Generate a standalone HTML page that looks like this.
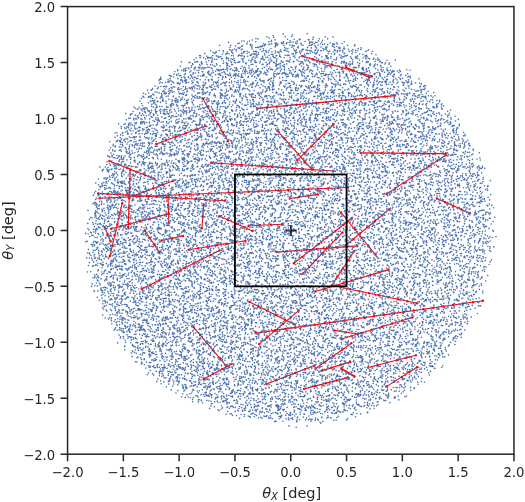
<!DOCTYPE html>
<html><head><meta charset="utf-8"><style>html,body{margin:0;padding:0;background:#fff;overflow:hidden}svg{display:block}</style></head>
<body><svg width="525" height="502" viewBox="0 0 525 502"><rect width="525" height="502" fill="#fff"/><path d="M285.2 230.5H296.6M291 224.9V235.9" stroke="#111" stroke-width="1.8"/><path d="M302.7 56.3L371.8 76.3M346.0 67.2L369.0 77.2M257.1 108.4L394.9 95.6M202.9 98.7L228.0 141.0M156.3 143.9L205.4 126.1M277.5 130.9L311.9 169.4M333.1 124.5L297.3 160.3M211.2 162.8L333.3 171.0M360.8 152.9L445.7 153.6M445.7 155.3L386.8 193.9M436.9 198.6L469.6 213.0M109.4 161.1L154.2 178.7M130.3 169.4L128.2 227.2M172.8 181.1L133.5 195.7M99.6 198.2L347.9 187.5M98.2 193.4L224.7 200.8M168.0 196.3L168.9 222.6M122.2 203.2L109.9 256.0M104.7 227.2L110.5 241.2M111.2 228.8L168.9 213.6M203.7 204.4L201.9 228.3M145.0 230.8L159.3 252.1M161.6 240.5L183.0 236.0M219.8 216.3L252.5 231.0M248.7 225.8L282.3 224.2M289.8 198.5L317.8 194.4M188.8 249.8L245.3 240.8M141.8 289.0L219.5 250.6M341.0 212.5L375.4 254.6M351.7 218.3L293.8 263.3M342.5 232.4L302.6 273.8M389.4 209.2L345.5 245.5M276.6 252.1L357.3 245.9M353.9 251.6L331.9 285.3M388.5 269.6L315.4 291.5M340.5 287.2L417.1 303.2M249.6 302.0L293.9 324.2M259.2 344.1L298.7 310.6M255.6 333.1L482.8 300.8M334.3 330.4L357.5 334.0M341.5 339.0L412.3 317.5M351.4 343.2L315.6 368.5M266.4 384.0L314.5 365.5M322.1 370.6L350.2 361.9M304.1 388.9L347.6 377.6M368.1 367.5L415.9 355.3M386.7 386.4L417.0 367.3M193.5 327.1L226.6 366.3M231.6 364.0L203.7 378.9" stroke="#f00" stroke-width="1.1" fill="none"/><path d="M341.5 368.8L354.4 376.4" stroke="#f00" stroke-width="1.9" stroke-linecap="round"/><path d="M302.7 56.3h0M312.6 59.2h0M322.4 62.0h0M332.3 64.9h0M342.2 67.7h0M352.1 70.6h0M361.9 73.4h0M371.8 76.3h0M346.0 67.2h0M353.7 70.5h0M361.3 73.9h0M369.0 77.2h0M257.1 108.4h0M266.9 107.5h0M276.8 106.6h0M286.6 105.7h0M296.5 104.7h0M306.3 103.8h0M316.2 102.9h0M326.0 102.0h0M335.8 101.1h0M345.7 100.2h0M355.5 99.3h0M365.4 98.3h0M375.2 97.4h0M385.1 96.5h0M394.9 95.6h0M202.9 98.7h0M207.9 107.2h0M212.9 115.6h0M218.0 124.1h0M223.0 132.5h0M228.0 141.0h0M156.3 143.9h0M166.1 140.3h0M175.9 136.8h0M185.8 133.2h0M195.6 129.7h0M205.4 126.1h0M277.5 130.9h0M284.4 138.6h0M291.3 146.3h0M298.1 154.0h0M305.0 161.7h0M311.9 169.4h0M333.1 124.5h0M325.9 131.7h0M318.8 138.8h0M311.6 146.0h0M304.5 153.1h0M297.3 160.3h0M211.2 162.8h0M221.4 163.5h0M231.5 164.2h0M241.7 164.9h0M251.9 165.5h0M262.1 166.2h0M272.2 166.9h0M282.4 167.6h0M292.6 168.3h0M302.8 168.9h0M313.0 169.6h0M323.1 170.3h0M333.3 171.0h0M360.8 152.9h0M371.4 153.0h0M382.0 153.1h0M392.6 153.2h0M403.2 153.2h0M413.9 153.3h0M424.5 153.4h0M435.1 153.5h0M445.7 153.6h0M445.7 155.3h0M437.3 160.8h0M428.9 166.3h0M420.5 171.8h0M412.0 177.4h0M403.6 182.9h0M395.2 188.4h0M386.8 193.9h0M436.9 198.6h0M445.1 202.2h0M453.2 205.8h0M461.4 209.4h0M469.6 213.0h0M109.4 161.1h0M118.4 164.6h0M127.3 168.1h0M136.3 171.7h0M145.2 175.2h0M154.2 178.7h0M130.3 169.4h0M130.0 179.0h0M129.6 188.7h0M129.2 198.3h0M128.9 207.9h0M128.5 217.6h0M128.2 227.2h0M172.8 181.1h0M163.0 184.8h0M153.2 188.4h0M143.3 192.0h0M133.5 195.7h0M99.6 198.2h0M109.5 197.8h0M119.5 197.3h0M129.4 196.9h0M139.3 196.5h0M149.3 196.1h0M159.2 195.6h0M169.1 195.2h0M179.1 194.8h0M189.0 194.3h0M198.9 193.9h0M208.9 193.5h0M218.8 193.1h0M228.7 192.6h0M238.6 192.2h0M248.6 191.8h0M258.5 191.4h0M268.4 190.9h0M278.4 190.5h0M288.3 190.1h0M298.2 189.6h0M308.2 189.2h0M318.1 188.8h0M328.0 188.4h0M338.0 187.9h0M347.9 187.5h0M98.2 193.4h0M107.9 194.0h0M117.7 194.5h0M127.4 195.1h0M137.1 195.7h0M146.9 196.2h0M156.6 196.8h0M166.3 197.4h0M176.0 198.0h0M185.8 198.5h0M195.5 199.1h0M205.2 199.7h0M215.0 200.2h0M224.7 200.8h0M168.0 196.3h0M168.3 205.1h0M168.6 213.8h0M168.9 222.6h0M122.2 203.2h0M119.7 213.8h0M117.3 224.3h0M114.8 234.9h0M112.4 245.4h0M109.9 256.0h0M104.7 227.2h0M107.6 234.2h0M110.5 241.2h0M111.2 228.8h0M120.8 226.3h0M130.4 223.7h0M140.1 221.2h0M149.7 218.7h0M159.3 216.1h0M168.9 213.6h0M203.7 204.4h0M202.8 216.4h0M201.9 228.3h0M145.0 230.8h0M149.8 237.9h0M154.5 245.0h0M159.3 252.1h0M161.6 240.5h0M172.3 238.2h0M183.0 236.0h0M219.8 216.3h0M228.0 220.0h0M236.2 223.7h0M244.3 227.3h0M252.5 231.0h0M248.7 225.8h0M259.9 225.3h0M271.1 224.7h0M282.3 224.2h0M289.8 198.5h0M299.1 197.1h0M308.5 195.8h0M317.8 194.4h0M188.8 249.8h0M198.2 248.3h0M207.6 246.8h0M217.1 245.3h0M226.5 243.8h0M235.9 242.3h0M245.3 240.8h0M141.8 289.0h0M150.4 284.7h0M159.1 280.5h0M167.7 276.2h0M176.3 271.9h0M185.0 267.7h0M193.6 263.4h0M202.2 259.1h0M210.9 254.9h0M219.5 250.6h0M341.0 212.5h0M347.9 220.9h0M354.8 229.3h0M361.6 237.8h0M368.5 246.2h0M375.4 254.6h0M351.7 218.3h0M343.4 224.7h0M335.2 231.2h0M326.9 237.6h0M318.6 244.0h0M310.3 250.4h0M302.1 256.9h0M293.8 263.3h0M342.5 232.4h0M335.9 239.3h0M329.2 246.2h0M322.6 253.1h0M315.9 260.0h0M309.2 266.9h0M302.6 273.8h0M389.4 209.2h0M382.1 215.2h0M374.8 221.3h0M367.4 227.3h0M360.1 233.4h0M352.8 239.4h0M345.5 245.5h0M276.6 252.1h0M286.7 251.3h0M296.8 250.6h0M306.9 249.8h0M317.0 249.0h0M327.0 248.2h0M337.1 247.4h0M347.2 246.7h0M357.3 245.9h0M353.9 251.6h0M348.4 260.0h0M342.9 268.4h0M337.4 276.9h0M331.9 285.3h0M388.5 269.6h0M379.4 272.3h0M370.2 275.1h0M361.1 277.8h0M351.9 280.6h0M342.8 283.3h0M333.7 286.0h0M324.5 288.8h0M315.4 291.5h0M340.5 287.2h0M350.1 289.2h0M359.6 291.2h0M369.2 293.2h0M378.8 295.2h0M388.4 297.2h0M398.0 299.2h0M407.5 301.2h0M417.1 303.2h0M249.6 302.0h0M258.5 306.4h0M267.3 310.9h0M276.2 315.3h0M285.0 319.8h0M293.9 324.2h0M259.2 344.1h0M267.1 337.4h0M275.0 330.7h0M282.9 324.0h0M290.8 317.3h0M298.7 310.6h0M255.6 333.1h0M265.5 331.7h0M275.4 330.3h0M285.2 328.9h0M295.1 327.5h0M305.0 326.1h0M314.9 324.7h0M324.7 323.3h0M334.6 321.9h0M344.5 320.5h0M354.4 319.1h0M364.3 317.7h0M374.1 316.2h0M384.0 314.8h0M393.9 313.4h0M403.8 312.0h0M413.7 310.6h0M423.5 309.2h0M433.4 307.8h0M443.3 306.4h0M453.2 305.0h0M463.0 303.6h0M472.9 302.2h0M482.8 300.8h0M334.3 330.4h0M345.9 332.2h0M357.5 334.0h0M341.5 339.0h0M351.6 335.9h0M361.7 332.9h0M371.8 329.8h0M382.0 326.7h0M392.1 323.6h0M402.2 320.6h0M412.3 317.5h0M351.4 343.2h0M342.4 349.5h0M333.5 355.9h0M324.6 362.2h0M315.6 368.5h0M266.4 384.0h0M276.0 380.3h0M285.6 376.6h0M295.3 372.9h0M304.9 369.2h0M314.5 365.5h0M322.1 370.6h0M331.5 367.7h0M340.8 364.8h0M350.2 361.9h0M341.5 368.8h0M354.4 376.4h0M304.1 388.9h0M315.0 386.1h0M325.9 383.2h0M336.7 380.4h0M347.6 377.6h0M368.1 367.5h0M377.7 365.1h0M387.2 362.6h0M396.8 360.2h0M406.3 357.7h0M415.9 355.3h0M386.7 386.4h0M394.3 381.6h0M401.9 376.9h0M409.4 372.1h0M417.0 367.3h0M193.5 327.1h0M200.1 334.9h0M206.7 342.8h0M213.4 350.6h0M220.0 358.5h0M226.6 366.3h0M231.6 364.0h0M222.3 369.0h0M213.0 373.9h0M203.7 378.9h0" stroke="#f00" stroke-width="2.5" stroke-linecap="round" fill="none"/><path d="M347.1 182.3h0M363.4 70.6h0M425.9 187.8h0M324.8 242.1h0M232.3 146.5h0M331.7 89.6h0M188.8 213.0h0M261.1 305.1h0M338.2 246.9h0M342.0 174.9h0M180.3 93.3h0M318.4 158.7h0M153.3 187.2h0M194.9 181.1h0M316.9 207.4h0M413.5 316.1h0M136.9 255.6h0M372.7 221.8h0M170.9 317.9h0M386.1 391.5h0M161.3 159.3h0M463.2 317.1h0M172.1 101.6h0M170.1 253.6h0M186.1 70.5h0M215.1 328.3h0M327.2 317.6h0M137.9 213.9h0M410.7 390.2h0M480.2 168.5h0M102.3 210.2h0M312.4 76.6h0M372.3 51.5h0M185.5 387.2h0M231.6 413.8h0M295.3 193.5h0M189.6 270.1h0M183.7 318.0h0M389.6 296.5h0M368.6 49.9h0M244.9 374.1h0M364.5 193.2h0M279.2 131.6h0M374.9 103.3h0M436.8 235.0h0M391.2 234.5h0M412.7 273.7h0M193.7 228.7h0M349.7 399.2h0M343.1 315.3h0M222.6 379.4h0M184.1 203.1h0M443.7 131.5h0M221.1 172.6h0M200.2 153.6h0M241.6 260.2h0M394.9 305.5h0M183.1 225.2h0M414.9 135.1h0M316.1 401.8h0M303.6 68.9h0M194.5 132.2h0M308.3 245.4h0M266.5 74.5h0M225.6 193.8h0M231.5 351.6h0M220.0 125.5h0M365.8 252.0h0M422.8 322.9h0M192.0 253.9h0M178.3 205.6h0M243.6 394.2h0M337.8 322.8h0M458.7 194.2h0M187.3 315.2h0M302.8 369.7h0M213.1 301.0h0M371.9 303.1h0M339.0 140.4h0M269.1 418.4h0M283.3 338.5h0M183.8 193.2h0M322.1 218.9h0M403.5 228.1h0M248.9 204.7h0M209.2 267.7h0M292.0 53.9h0M226.7 402.0h0M348.0 214.7h0M325.7 200.0h0M266.3 238.1h0M365.9 337.2h0M304.6 389.3h0M202.6 71.6h0M221.0 409.2h0M420.1 137.3h0M212.3 79.9h0M244.1 176.2h0M434.1 272.5h0M375.9 242.0h0M407.3 242.9h0M392.9 89.6h0M195.4 73.0h0M311.9 142.7h0M200.1 285.6h0M256.4 299.3h0M220.0 232.5h0M290.3 160.7h0M456.3 150.1h0M362.9 294.7h0M290.8 415.3h0M288.1 225.4h0M341.4 55.9h0M437.5 295.7h0M426.0 241.8h0M371.3 287.4h0M159.5 149.4h0M160.9 187.9h0M421.9 200.5h0M95.5 210.8h0M206.7 373.9h0M280.0 191.4h0M335.4 278.5h0M379.0 315.3h0M422.0 208.2h0M165.7 216.0h0M238.5 130.7h0M265.4 87.0h0M310.0 418.9h0M309.8 372.0h0M269.0 405.8h0M252.6 389.2h0M288.9 61.2h0M384.8 325.3h0M121.2 287.1h0M424.0 260.5h0M311.8 380.7h0M249.0 240.4h0M134.9 288.3h0M175.9 123.0h0M389.2 341.4h0M171.3 211.5h0M404.7 373.7h0M321.7 357.9h0M396.9 368.6h0M295.5 108.4h0M203.1 74.3h0M290.1 322.6h0M396.1 390.9h0M306.6 134.1h0M432.2 122.0h0M309.5 181.6h0M219.8 74.9h0M125.8 263.7h0M240.3 339.6h0M195.8 193.1h0M255.5 372.6h0M247.3 311.4h0M344.1 354.5h0M246.4 370.6h0M397.9 111.4h0M375.1 202.1h0M360.6 173.8h0M152.1 276.9h0M360.7 308.2h0M386.7 221.5h0M424.0 223.7h0M158.5 174.7h0M373.4 90.1h0M317.2 189.4h0M294.3 126.8h0M221.3 127.5h0M353.8 351.3h0M168.7 242.3h0M356.0 198.1h0M298.2 99.3h0M326.7 267.6h0M182.8 346.6h0M230.9 311.8h0M444.7 273.4h0M159.7 371.4h0M426.6 269.6h0M373.9 373.7h0M418.3 140.6h0M157.2 164.8h0M233.3 257.3h0M228.3 126.6h0M282.4 392.5h0M262.2 330.5h0M134.2 223.0h0M365.3 377.5h0M111.4 320.8h0M271.1 312.9h0M417.8 382.1h0M246.6 71.4h0M477.3 264.9h0M295.3 326.2h0M271.1 187.2h0M427.3 151.7h0M257.6 289.6h0M268.9 243.2h0M212.4 218.7h0M323.2 347.9h0M226.7 197.3h0M102.1 267.7h0M281.0 176.2h0M147.0 133.4h0M289.7 207.4h0M312.7 373.6h0M311.3 70.4h0M379.7 100.7h0M428.7 299.5h0M178.7 110.9h0M432.8 139.6h0M405.4 196.0h0M317.7 261.0h0M409.7 307.2h0M199.2 329.5h0M288.1 149.5h0M324.5 182.0h0M352.9 81.2h0M115.4 299.8h0M377.5 87.6h0M156.9 228.8h0M342.1 274.1h0M247.2 342.9h0M372.9 403.3h0M209.0 170.0h0M327.9 415.9h0M382.9 120.2h0M362.4 199.6h0M165.0 367.8h0M297.6 380.5h0M280.8 311.2h0M116.4 173.1h0M151.5 110.4h0M170.3 135.2h0M200.5 384.6h0M427.7 344.0h0M231.1 305.9h0M231.4 130.0h0M312.1 236.9h0M241.8 41.0h0M179.9 186.6h0M361.4 165.6h0M335.6 72.3h0M202.7 353.1h0M456.9 150.8h0M341.7 99.1h0M310.4 236.5h0M328.9 398.9h0M305.1 221.0h0M286.0 158.7h0M341.8 311.7h0M386.5 345.8h0M266.2 91.2h0M339.8 412.1h0M186.7 263.4h0M250.8 316.2h0M177.4 101.9h0M214.3 368.8h0M252.1 359.1h0M239.4 204.6h0M255.6 351.0h0M128.3 190.7h0M381.5 258.1h0M306.2 151.9h0M365.6 185.8h0M208.4 248.4h0M270.4 392.3h0M374.5 100.8h0M305.2 163.7h0M138.4 350.6h0M422.2 133.0h0M204.5 97.9h0M320.6 228.0h0M325.7 55.9h0M242.5 199.7h0M185.8 88.3h0M336.6 163.4h0M358.9 128.4h0M132.0 150.7h0M336.2 289.5h0M92.2 283.9h0M194.0 261.1h0M277.9 265.2h0M273.3 142.3h0M478.9 175.3h0M338.4 180.5h0M146.6 157.4h0M383.6 154.2h0M170.6 377.0h0M325.7 281.9h0M362.0 180.9h0M341.3 253.8h0M188.6 228.4h0M361.4 346.8h0M461.8 246.1h0M191.5 143.2h0M105.2 318.0h0M259.0 196.7h0M311.9 131.7h0M363.5 151.5h0M378.6 199.0h0M189.5 216.2h0M274.9 236.9h0M162.1 234.9h0M266.0 366.2h0M310.1 195.7h0M331.4 210.9h0M259.5 414.0h0M170.5 237.2h0M264.9 340.4h0M264.6 285.8h0M179.2 170.6h0M181.5 352.5h0M385.4 364.9h0M301.8 141.3h0M334.0 70.6h0M340.8 137.9h0M338.2 319.0h0M468.1 177.6h0M381.4 202.3h0M247.0 188.4h0M388.7 155.0h0M402.4 125.1h0M310.5 127.6h0M258.8 364.8h0M338.3 406.4h0M235.4 206.3h0M218.1 85.4h0M359.3 211.4h0M122.3 223.9h0M350.7 242.6h0M200.9 289.6h0M411.3 357.5h0M158.9 121.2h0M270.7 196.3h0M317.4 224.8h0M190.2 303.8h0M274.6 337.1h0M405.0 383.0h0M410.6 232.9h0M207.8 113.5h0M171.0 188.6h0M311.5 256.1h0M406.4 154.8h0M404.0 124.9h0M133.6 192.5h0M292.6 387.3h0M144.7 123.8h0M284.7 47.6h0M304.6 146.2h0M336.1 182.5h0M143.9 234.9h0M283.4 236.8h0M262.0 58.4h0M268.4 263.4h0M279.6 73.3h0M191.9 108.0h0M481.1 193.7h0M378.1 401.8h0M435.2 343.3h0M287.1 407.4h0M230.4 350.8h0M295.9 392.9h0M445.7 284.2h0M340.9 323.4h0M90.5 232.2h0M297.9 203.6h0M332.1 86.7h0M470.3 260.1h0M440.9 151.4h0M111.1 284.9h0M136.2 222.0h0M256.4 255.8h0M123.2 328.8h0M480.7 200.9h0M386.4 200.1h0M411.3 331.2h0M344.0 357.9h0M362.3 69.2h0M290.8 348.3h0M403.1 270.2h0M198.1 256.5h0M247.7 281.8h0M307.7 374.4h0M172.5 170.0h0M300.2 106.8h0M245.8 166.4h0M296.0 260.2h0M379.3 347.9h0M172.3 115.5h0M367.4 218.8h0M357.7 405.0h0M189.3 337.6h0M132.3 312.9h0M331.8 291.2h0M329.5 321.4h0M269.6 285.6h0M403.5 163.5h0M236.6 82.5h0M358.3 332.8h0M209.0 400.7h0M259.9 142.8h0M96.6 228.5h0M239.0 158.9h0M412.5 99.2h0M343.2 72.5h0M194.0 390.2h0M417.8 331.7h0M393.6 76.9h0M131.4 352.9h0M259.7 349.6h0M230.0 264.6h0M214.9 201.6h0M258.6 92.9h0M285.3 118.8h0M134.6 273.4h0M339.5 315.6h0M432.9 128.3h0M122.4 159.4h0M141.1 194.8h0M471.5 164.1h0M428.1 114.9h0M443.7 334.2h0M333.7 276.0h0M455.6 329.3h0M143.2 250.3h0M345.0 235.4h0M390.9 326.8h0M228.6 356.9h0M245.7 198.5h0M457.9 221.8h0M144.9 173.9h0M250.2 221.7h0M251.4 407.4h0M370.5 399.0h0M405.4 203.8h0M322.6 44.6h0M100.0 227.8h0M194.7 145.9h0M368.0 321.2h0M477.6 218.7h0M225.3 245.1h0M310.6 294.9h0M124.4 183.8h0M192.8 343.8h0M351.6 94.8h0M229.2 189.2h0M279.6 114.2h0M338.9 150.3h0M426.7 137.3h0M239.9 368.6h0M372.0 335.1h0M220.4 177.3h0M178.1 166.9h0M266.7 281.3h0M355.7 278.5h0M301.9 167.9h0M313.5 260.1h0M134.5 274.7h0M123.2 171.4h0M119.9 245.1h0M218.1 82.7h0M206.8 297.7h0M255.9 285.7h0M328.1 77.0h0M379.1 59.6h0M316.0 413.0h0M397.1 158.2h0M358.0 184.8h0M236.7 146.9h0M171.8 374.5h0M212.7 55.6h0M374.1 165.5h0M467.9 298.0h0M307.3 242.2h0M400.4 71.4h0M437.7 291.0h0M215.1 399.1h0M242.0 330.3h0M360.9 171.6h0M228.7 315.4h0M345.3 169.4h0M110.1 314.9h0M253.6 100.1h0M369.7 260.5h0M271.3 110.8h0M97.2 237.4h0M454.6 225.1h0M335.1 109.9h0M319.1 114.2h0M191.8 166.0h0M365.2 163.3h0M256.9 223.8h0M317.3 191.8h0M201.5 150.1h0M302.1 396.7h0M310.6 208.6h0M154.0 139.9h0M334.3 374.1h0M267.0 278.5h0M362.8 225.4h0M422.6 293.3h0M180.7 351.9h0M458.4 119.3h0M446.8 147.2h0M175.2 372.9h0M202.2 124.7h0M245.8 295.8h0M334.4 190.3h0M163.0 130.6h0M270.5 398.9h0M134.3 157.4h0M469.0 143.7h0M293.8 348.8h0M203.1 217.3h0M173.3 86.9h0M149.0 129.4h0M396.7 282.0h0M440.3 158.6h0M442.0 134.7h0M381.0 66.9h0M286.0 393.5h0M248.1 139.1h0M351.8 147.3h0M464.5 281.2h0M384.4 384.4h0M347.6 209.5h0M182.1 349.2h0M206.2 228.5h0M163.6 306.3h0M188.5 366.2h0M401.3 360.6h0M362.9 54.4h0M460.0 247.6h0M230.0 236.0h0M202.2 158.8h0M258.1 39.0h0M178.5 263.6h0M387.4 79.4h0M296.8 224.3h0M227.2 201.0h0M399.6 232.0h0M208.3 327.6h0M246.0 270.9h0M278.7 88.9h0M212.9 382.9h0M201.4 344.6h0M323.4 73.6h0M352.5 406.4h0M311.6 44.9h0M262.0 242.6h0M286.0 84.2h0M311.3 47.9h0M379.3 265.1h0M118.1 198.6h0M387.0 68.1h0M288.0 230.9h0M96.6 203.8h0M417.6 243.7h0M283.9 358.9h0M464.5 223.5h0M428.5 328.5h0M127.8 326.5h0M409.0 356.7h0M269.6 321.8h0M333.6 213.9h0M279.9 156.7h0M340.2 330.5h0M354.1 365.0h0M127.6 138.9h0M184.2 129.0h0M191.1 67.6h0M239.8 241.5h0M352.4 379.7h0M212.2 89.6h0M296.1 66.2h0M397.9 183.4h0M432.6 185.4h0M347.9 391.3h0M156.5 321.5h0M209.4 187.0h0M360.3 224.5h0M451.3 271.1h0M228.6 249.6h0M198.4 303.0h0M179.2 135.8h0M286.1 303.4h0M329.8 51.0h0M223.9 325.5h0M286.6 364.2h0M217.7 173.8h0M215.5 89.4h0M162.9 303.5h0M265.2 375.1h0M427.4 332.3h0M125.8 184.3h0M333.6 349.9h0M201.5 185.1h0M320.9 73.9h0M297.2 344.2h0M354.4 346.1h0M187.7 323.6h0M362.9 160.1h0M138.9 289.0h0M322.1 73.6h0M328.2 210.2h0M379.3 397.9h0M199.1 114.8h0M248.7 378.6h0M122.9 196.1h0M432.7 157.4h0M320.5 240.7h0M270.1 165.6h0M251.3 172.5h0M151.0 96.3h0M251.1 345.1h0M359.6 63.4h0M149.0 288.8h0M314.3 337.7h0M251.3 332.2h0M163.1 99.4h0M352.1 114.7h0M134.1 315.7h0M400.1 105.0h0M373.8 257.9h0M107.0 277.0h0M257.4 334.4h0M324.9 341.5h0M378.9 271.6h0M415.1 202.6h0M241.2 351.4h0M364.1 386.2h0M224.7 223.9h0M326.8 231.3h0M356.0 409.9h0M194.9 270.4h0M198.4 129.9h0M408.9 82.3h0M123.6 317.9h0M348.2 352.9h0M263.5 154.5h0M318.7 278.6h0M437.1 301.4h0M344.7 62.0h0M309.3 290.0h0M127.9 127.2h0M229.9 161.4h0M395.3 197.7h0M403.2 379.4h0M300.4 302.9h0M122.2 270.0h0M312.2 250.5h0M283.4 360.6h0M144.6 109.6h0M279.9 138.0h0M210.1 270.1h0M141.3 338.2h0M330.8 362.1h0M186.7 183.3h0M377.8 96.7h0M115.0 221.6h0M398.6 381.8h0M319.4 393.1h0M163.9 186.2h0M233.5 216.2h0M288.0 156.0h0M422.5 325.5h0M432.7 323.3h0M260.8 347.3h0M386.7 209.5h0M181.5 270.3h0M257.1 273.8h0M323.3 126.2h0M301.8 85.6h0M308.5 419.8h0M368.3 304.4h0M395.8 191.6h0M119.0 155.7h0M111.6 276.3h0M268.0 383.4h0M377.0 289.8h0M191.5 222.6h0M227.0 321.4h0M169.2 301.5h0M195.0 222.9h0M299.3 343.5h0M145.2 118.9h0M223.9 274.8h0M415.2 368.2h0M284.0 244.0h0M457.2 176.5h0M114.8 229.9h0M259.7 112.8h0M300.6 63.5h0M287.9 287.7h0M187.3 175.7h0M371.6 139.5h0M161.9 332.5h0M168.4 381.6h0M289.7 83.4h0M360.9 110.2h0M132.0 177.1h0M324.9 362.1h0M146.6 249.5h0M285.7 99.4h0M316.5 245.7h0M388.8 308.0h0M450.3 201.2h0M405.7 237.4h0M313.8 201.2h0M204.9 85.0h0M106.2 245.8h0M164.7 311.4h0M200.1 123.9h0M184.8 131.7h0M333.0 397.9h0M400.4 329.1h0M290.0 373.3h0M439.0 337.3h0M185.9 274.3h0M195.6 382.1h0M216.8 59.2h0M278.2 302.6h0M432.5 228.9h0M357.6 218.2h0M244.3 416.3h0M319.1 163.0h0M211.4 366.8h0M147.0 194.3h0M434.6 342.1h0M148.2 170.7h0M253.2 156.7h0M321.3 362.6h0M376.0 111.3h0M292.6 141.7h0M259.5 197.8h0M409.7 353.7h0M133.1 111.6h0M258.3 364.2h0M351.4 138.5h0M346.9 290.1h0M220.4 253.0h0M134.1 243.8h0M141.2 234.5h0M162.8 246.7h0M219.6 388.9h0M177.4 379.0h0M328.4 58.0h0M349.3 400.5h0M146.8 235.9h0M149.1 111.4h0M232.4 133.2h0M222.5 54.3h0M341.7 256.2h0M128.7 118.3h0M222.8 77.6h0M399.6 325.5h0M369.4 371.2h0M199.0 382.3h0M300.7 120.5h0M482.5 231.2h0M252.2 290.9h0M144.4 211.4h0M265.5 161.4h0M152.3 218.4h0M160.2 98.4h0M261.4 120.5h0M370.1 132.2h0M340.1 192.4h0M180.0 331.4h0M189.1 62.7h0M292.0 204.3h0M225.4 73.9h0M369.7 357.0h0M329.7 257.2h0M286.0 365.9h0M438.6 357.6h0M368.3 169.4h0M183.4 267.6h0M280.5 325.2h0M374.1 144.2h0M207.6 146.7h0M194.9 294.9h0M314.0 361.2h0M308.9 197.8h0M133.1 345.6h0M251.6 96.7h0M423.6 286.3h0M165.6 295.2h0M450.5 209.8h0M358.2 48.6h0M438.1 176.5h0M310.4 53.1h0M347.2 149.6h0M335.4 150.4h0M230.8 280.9h0M282.1 143.8h0M301.8 62.6h0M256.0 51.0h0M396.1 198.7h0M385.7 180.7h0M349.9 360.5h0M263.4 130.5h0M343.2 267.2h0M369.3 70.8h0M222.7 69.3h0M243.0 280.5h0M248.2 324.3h0M224.5 72.3h0M125.9 132.1h0M175.8 295.2h0M350.0 201.1h0M412.0 185.3h0M270.7 230.9h0M355.1 219.0h0M387.0 282.0h0M286.9 42.5h0M373.5 118.3h0M294.4 312.7h0M250.8 156.8h0M187.1 194.8h0M328.1 417.5h0M470.2 226.7h0M481.4 236.0h0M191.1 309.4h0M163.6 331.8h0M195.3 154.3h0M285.2 393.8h0M229.1 182.2h0M407.3 83.0h0M181.0 205.5h0M301.6 169.5h0M348.2 353.2h0M323.0 112.4h0M401.5 124.8h0M221.1 157.6h0M415.9 142.2h0M280.8 292.0h0M237.8 335.4h0M113.7 285.6h0M322.7 93.0h0M182.7 215.9h0M290.4 288.8h0M411.2 359.4h0M230.6 74.8h0M141.4 98.3h0M348.2 296.4h0M451.2 191.2h0M145.0 250.3h0M150.6 179.2h0M320.6 95.3h0M479.4 289.3h0M322.1 385.0h0M291.6 97.7h0M148.5 97.5h0M349.3 200.7h0M321.0 47.1h0M130.7 180.8h0M342.6 125.1h0M431.6 237.7h0M361.1 136.1h0M203.7 242.7h0M352.3 300.2h0M283.3 184.6h0M288.2 129.1h0M149.1 244.4h0M315.4 246.2h0M228.8 208.6h0M207.3 247.9h0M116.7 295.2h0M230.7 327.3h0M182.2 122.4h0M135.6 331.6h0M186.5 298.9h0M167.6 194.0h0M287.1 382.0h0M253.4 181.1h0M297.3 357.3h0M249.0 94.0h0M166.6 121.6h0M362.8 287.4h0M314.8 52.9h0M107.4 302.6h0M362.5 103.1h0M255.4 174.4h0M369.8 112.3h0M413.3 207.3h0M142.8 344.0h0M374.1 408.3h0M191.6 143.9h0M137.2 231.0h0M225.0 85.4h0M331.3 358.8h0M226.8 95.2h0M402.0 130.8h0M377.0 214.7h0M172.3 355.0h0M373.5 341.6h0M318.8 361.0h0M317.6 98.2h0M432.9 233.8h0M200.3 291.5h0M293.9 339.9h0M462.4 261.4h0M401.4 342.6h0M241.6 407.5h0M132.5 241.2h0M375.1 73.2h0M435.2 293.4h0M418.4 225.7h0M116.9 185.5h0M390.3 140.7h0M220.2 300.3h0M262.8 126.1h0M238.9 245.1h0M440.3 335.5h0M224.9 83.3h0M302.0 260.8h0M114.5 274.2h0M196.7 352.3h0M315.6 49.8h0M232.6 210.1h0M129.8 172.6h0M332.3 413.3h0M402.4 354.3h0M250.7 246.6h0M262.3 195.5h0M207.1 308.9h0M326.9 46.9h0M473.7 284.5h0M382.3 71.3h0M147.2 263.7h0M160.5 102.4h0M113.7 175.8h0M235.7 179.6h0M289.6 73.2h0M283.2 62.3h0M164.8 118.2h0M402.5 286.0h0M329.4 384.6h0M223.9 378.5h0M282.5 277.7h0M316.9 174.6h0M259.3 256.6h0M331.0 116.7h0M224.1 271.0h0M363.3 244.0h0M292.7 374.6h0M216.5 159.2h0M462.1 194.7h0M317.7 263.1h0M258.2 405.1h0M349.6 93.2h0M199.3 252.3h0M339.3 272.2h0M387.5 254.7h0M346.3 355.0h0M133.9 321.3h0M278.2 68.4h0M378.5 239.0h0M233.6 132.3h0M355.5 295.2h0M326.2 326.4h0M372.2 198.2h0M124.3 264.0h0M220.2 143.0h0M235.8 73.5h0M386.6 296.4h0M265.7 220.9h0M160.7 196.3h0M320.0 277.3h0M304.4 202.4h0M327.8 140.3h0M192.7 215.4h0M283.7 43.0h0M185.7 80.3h0M301.4 202.2h0M307.7 76.1h0M348.6 408.0h0M119.5 156.2h0M130.2 311.6h0M437.7 325.1h0M117.5 225.6h0M340.1 50.7h0M362.9 398.3h0M412.2 368.8h0M257.8 178.6h0M457.8 128.1h0M129.7 208.5h0M173.2 96.7h0M440.8 148.4h0M202.4 173.1h0M352.6 191.1h0M438.3 159.4h0M151.3 95.8h0M304.6 316.6h0M384.4 296.2h0M222.1 94.1h0M153.2 304.9h0M360.0 313.3h0M396.0 278.9h0M425.0 153.5h0M417.8 243.1h0M211.4 144.1h0M371.8 161.4h0M333.4 203.8h0M349.1 100.1h0M232.8 373.2h0M322.1 81.4h0M152.0 166.9h0M130.2 316.6h0M463.0 315.0h0M204.1 117.2h0M232.5 368.3h0M319.2 61.3h0M328.6 227.1h0M416.5 370.4h0M329.6 244.0h0M244.7 71.6h0M387.7 371.2h0M115.0 251.0h0M428.2 198.9h0M436.3 181.2h0M462.6 211.2h0M301.0 389.6h0M189.1 205.7h0M227.7 303.3h0M191.5 175.3h0M424.9 362.2h0M121.4 200.2h0M340.6 148.2h0M242.7 89.1h0M281.8 388.9h0M322.7 199.9h0M184.7 248.3h0M404.4 384.7h0M401.8 188.9h0M214.9 191.4h0M183.7 256.1h0M472.5 159.3h0M156.4 154.1h0M228.4 248.3h0M359.1 103.9h0M187.1 291.2h0M155.6 129.7h0M156.5 180.2h0M224.0 224.8h0M115.4 197.9h0M302.8 130.0h0M114.2 190.4h0M159.2 149.3h0M455.5 258.0h0M160.2 82.0h0M460.0 266.3h0M106.4 251.7h0M231.5 221.4h0M396.1 172.6h0M402.5 306.3h0M344.5 162.6h0M339.4 211.0h0M350.0 61.7h0M133.8 299.4h0M257.1 146.9h0M250.5 212.1h0M245.2 374.3h0M410.3 281.4h0M235.2 103.1h0M156.8 381.6h0M197.0 293.0h0M380.3 347.7h0M300.3 101.9h0M143.0 161.2h0M303.8 267.5h0M130.1 206.9h0M430.6 189.6h0M304.5 54.3h0M421.4 143.7h0M306.8 366.3h0M410.8 255.8h0M330.3 246.6h0M276.0 368.4h0M340.5 222.2h0M215.5 97.1h0M324.8 113.3h0M447.7 296.4h0M150.8 286.0h0M126.6 207.2h0M203.5 367.1h0M347.1 410.8h0M89.4 262.5h0M143.4 163.9h0M216.7 263.7h0M277.0 204.6h0M165.8 269.9h0M157.3 151.0h0M210.0 127.7h0M166.8 360.1h0M266.2 337.3h0M203.6 323.0h0M199.4 214.1h0M328.7 190.3h0M186.8 91.8h0M288.7 353.5h0M129.3 211.6h0M160.9 96.7h0M398.3 136.8h0M257.7 166.0h0M203.8 377.2h0M252.9 93.7h0M329.2 141.2h0M165.9 337.7h0M339.6 219.4h0M448.9 115.0h0M442.9 353.6h0M254.5 180.0h0M347.8 308.6h0M98.3 233.5h0M299.6 269.7h0M372.3 319.2h0M236.9 186.8h0M255.9 406.1h0M203.3 154.8h0M212.2 68.7h0M479.7 231.5h0M180.3 66.1h0M447.7 155.9h0M436.6 104.4h0M189.9 393.7h0M330.3 261.4h0M206.1 225.2h0M425.9 320.3h0M208.3 354.0h0M235.7 62.7h0M366.9 50.7h0M343.1 73.0h0M235.1 326.4h0M370.2 257.9h0M224.4 169.0h0M475.6 196.2h0M287.3 260.5h0M132.7 198.6h0M350.2 260.2h0M286.8 373.2h0M196.0 320.2h0M173.8 241.4h0M361.1 47.8h0M130.8 187.6h0M118.6 204.3h0M151.0 116.6h0M239.6 102.0h0M371.1 307.9h0M183.0 182.3h0M228.7 217.8h0M428.8 234.5h0M433.3 349.8h0M396.7 146.0h0M215.6 74.7h0M291.4 201.0h0M98.0 208.3h0M107.1 288.3h0M170.4 349.6h0M97.5 242.0h0M245.9 359.2h0M437.9 249.9h0M255.4 206.0h0M231.5 291.2h0M211.3 121.6h0M194.6 67.7h0M88.4 265.6h0M404.3 230.1h0M365.2 351.6h0M344.9 273.8h0M273.2 366.7h0M464.9 317.4h0M280.0 98.5h0M231.9 162.1h0M360.4 140.8h0M255.2 359.7h0M249.1 314.2h0M231.6 258.2h0M170.0 216.8h0M487.7 190.5h0M423.9 282.9h0M138.6 182.3h0M322.9 240.1h0M249.2 268.2h0M384.8 93.0h0M412.4 202.6h0M297.0 52.3h0M177.8 236.2h0M308.2 303.4h0M469.3 273.2h0M424.3 241.0h0M263.3 380.3h0M288.3 306.6h0M166.2 171.7h0M176.3 239.3h0M408.4 354.0h0M216.4 103.8h0M171.0 302.1h0M371.6 156.1h0M189.6 110.7h0M252.0 76.3h0M322.8 169.9h0M393.3 341.4h0M136.0 302.9h0M269.6 222.5h0M290.7 274.4h0M161.0 299.4h0M271.8 294.0h0M388.3 256.0h0M302.8 187.4h0M142.5 268.8h0M400.3 336.3h0M137.4 298.3h0M199.7 309.8h0M139.7 250.7h0M426.1 294.3h0M410.6 193.2h0M214.3 172.2h0M339.0 224.7h0M390.5 146.8h0M227.0 67.8h0M191.8 161.0h0M474.5 186.6h0M111.3 197.4h0M370.5 65.3h0M208.2 219.1h0M280.5 249.4h0M438.9 309.4h0M309.1 185.3h0M174.6 128.8h0M357.1 56.4h0M184.6 105.3h0M133.8 262.6h0M399.2 284.3h0M129.1 240.6h0M250.6 122.1h0M402.1 387.0h0M282.6 65.7h0M384.3 400.7h0M277.2 110.0h0M304.6 119.6h0M352.8 285.4h0M366.1 123.0h0M416.2 344.4h0M328.1 276.2h0M208.3 353.9h0M251.4 54.9h0M158.7 224.9h0M300.2 304.0h0M422.5 146.8h0M367.2 259.0h0M369.9 194.3h0M354.8 157.6h0M294.2 182.5h0M231.1 396.3h0M138.8 186.5h0M383.4 312.7h0M166.8 339.8h0M134.0 239.2h0M457.0 286.9h0M169.2 122.3h0M154.3 170.6h0M462.6 275.6h0M212.3 193.9h0M334.6 189.0h0M254.1 224.1h0M352.5 209.4h0M275.9 375.6h0M297.1 338.0h0M162.2 356.3h0M298.8 273.7h0M258.1 125.6h0M385.8 293.9h0M396.0 325.0h0M453.0 339.9h0M330.5 264.2h0M204.4 351.6h0M269.2 148.2h0M440.4 214.5h0M317.7 381.5h0M239.8 290.9h0M363.1 291.5h0M440.1 342.7h0M226.9 342.4h0M381.6 143.2h0M183.8 311.9h0M322.6 278.6h0M409.0 122.6h0M289.9 159.4h0M285.9 80.5h0M111.8 161.0h0M317.1 278.1h0M190.0 240.8h0M436.6 322.6h0M421.1 91.0h0M267.0 109.1h0M180.2 141.9h0M458.9 301.0h0M152.4 251.8h0M247.4 352.6h0M394.9 190.0h0M319.1 372.2h0M236.5 99.3h0M329.1 310.7h0M376.0 283.0h0M372.4 387.4h0M377.1 366.7h0M188.1 373.5h0M327.7 385.3h0M169.6 147.5h0M116.7 177.0h0M263.9 207.5h0M423.2 160.0h0M151.4 277.9h0M297.4 417.8h0M243.0 358.5h0M179.1 96.8h0M428.8 198.9h0M409.6 162.7h0M182.8 93.6h0M251.1 315.0h0M212.9 381.1h0M261.2 93.8h0M193.8 385.2h0M460.9 329.3h0M342.4 67.9h0M385.4 271.0h0M352.8 61.9h0M407.1 273.1h0M371.4 306.5h0M101.7 203.1h0M350.0 93.4h0M411.6 105.0h0M309.3 278.0h0M156.5 310.3h0M94.8 213.4h0M389.4 210.5h0M321.1 330.9h0M372.6 320.5h0M121.4 216.8h0M298.8 338.5h0M241.4 190.5h0M281.1 95.3h0M191.6 366.1h0M451.5 162.2h0M378.0 360.2h0M424.1 138.4h0M433.2 246.5h0M311.2 45.4h0M303.0 210.8h0M210.0 136.2h0M118.6 157.2h0M195.4 205.6h0M342.5 95.8h0M376.8 202.3h0M277.1 289.9h0M382.6 81.9h0M263.2 99.5h0M207.5 247.7h0M136.3 190.6h0M205.1 383.7h0M193.0 389.3h0M318.4 313.6h0M282.3 370.9h0M348.4 379.0h0M260.4 49.5h0M194.0 305.5h0M242.0 309.7h0M243.7 137.3h0M477.0 218.7h0M318.8 77.5h0M316.4 61.9h0M175.3 135.5h0M322.7 142.7h0M186.6 250.8h0M227.0 108.1h0M337.7 214.1h0M221.1 243.9h0M265.6 74.2h0M449.8 162.0h0M248.3 275.0h0M231.4 62.7h0M268.7 60.0h0M117.3 244.3h0M159.3 277.1h0M284.1 300.8h0M446.2 332.3h0M339.8 347.0h0M406.1 224.1h0M257.3 278.0h0M423.8 231.8h0M224.4 316.4h0M297.1 374.0h0M344.5 392.2h0M184.1 356.4h0M172.2 239.7h0M126.9 193.3h0M104.5 300.6h0M484.6 253.2h0M217.7 160.6h0M398.7 323.0h0M447.9 182.2h0M447.2 190.8h0M248.1 275.3h0M117.9 266.2h0M208.6 260.8h0M260.9 341.1h0M291.7 287.4h0M171.6 239.9h0M276.0 166.5h0M330.3 212.7h0M363.9 285.1h0M210.6 197.8h0M450.1 166.4h0M247.6 168.9h0M367.5 176.9h0M359.6 236.8h0M386.5 79.5h0M214.8 59.4h0M344.3 115.2h0M200.5 185.7h0M162.1 178.9h0M301.3 44.8h0M435.8 133.9h0M310.1 363.1h0M340.8 190.6h0M367.2 263.5h0M342.9 317.8h0M242.3 311.4h0M128.5 165.8h0M410.4 248.2h0M217.9 335.5h0M403.5 274.9h0M339.7 228.5h0M136.1 132.4h0M442.7 299.7h0M216.7 114.0h0M330.5 96.3h0M133.8 287.5h0M351.9 239.6h0M208.4 115.4h0M278.2 176.8h0M216.5 263.6h0M172.7 386.1h0M427.3 111.6h0M379.6 75.3h0M398.1 117.2h0M353.3 251.9h0M153.3 141.1h0M223.3 171.1h0M292.9 303.1h0M431.7 336.6h0M177.1 154.8h0M320.1 374.9h0M449.9 248.7h0M239.9 123.3h0M223.5 116.0h0M152.5 246.6h0M412.0 151.4h0M128.8 153.5h0M157.7 132.2h0M237.1 117.3h0M302.8 401.0h0M311.6 262.9h0M375.6 199.5h0M306.0 332.0h0M328.1 236.8h0M438.2 103.6h0M219.6 327.1h0M360.3 101.5h0M414.3 223.8h0M152.2 141.5h0M441.1 119.1h0M450.1 236.0h0M340.8 291.3h0M441.2 279.5h0M269.1 319.4h0M128.2 286.4h0M296.9 355.6h0M253.1 350.9h0M107.5 205.1h0M283.1 353.4h0M379.3 304.7h0M148.6 212.8h0M391.0 305.4h0M254.7 192.5h0M243.4 317.7h0M310.2 115.7h0M314.8 330.5h0M366.9 96.2h0M398.0 138.3h0M341.2 181.7h0M403.1 354.7h0M407.1 293.9h0M271.2 202.4h0M268.8 249.7h0M347.2 217.6h0M232.8 227.3h0M424.3 89.6h0M231.1 239.9h0M205.1 392.5h0M373.3 383.5h0M445.9 188.8h0M271.7 391.2h0M144.6 334.3h0M309.7 90.0h0M425.4 140.6h0M448.0 224.8h0M334.9 312.7h0M348.2 341.8h0M349.8 177.7h0M146.2 228.1h0M413.9 388.7h0M314.3 135.4h0M128.2 336.8h0M269.3 274.8h0M120.5 234.8h0M231.8 196.9h0M270.0 259.2h0M102.5 218.9h0M376.2 145.8h0M423.0 189.4h0M177.7 78.6h0M175.2 284.9h0M125.8 304.6h0M203.0 181.4h0M247.3 300.6h0M471.3 317.1h0M135.1 242.6h0M358.4 87.6h0M443.5 320.3h0M218.7 178.9h0M332.5 144.8h0M245.9 81.1h0M353.0 302.0h0M281.1 146.5h0M370.1 345.4h0M175.8 342.3h0M475.6 212.7h0M480.7 238.9h0M323.7 196.8h0M346.6 306.8h0M389.1 203.8h0M364.5 182.5h0M317.1 236.2h0M381.3 157.3h0M339.5 72.5h0M221.3 352.0h0M99.8 201.4h0M195.4 201.7h0M360.4 382.1h0M256.2 143.5h0M204.4 67.8h0M256.5 137.9h0M273.7 78.1h0M155.6 345.3h0M176.7 148.0h0M299.3 114.9h0M291.8 173.8h0M188.2 186.7h0M191.7 77.0h0M357.4 55.9h0M388.1 305.7h0M441.7 248.5h0M376.8 88.4h0M285.0 404.3h0M368.1 283.2h0M267.1 361.4h0M224.2 276.0h0M162.1 196.6h0M380.3 328.8h0M281.6 42.5h0M227.6 244.4h0M247.6 282.3h0M379.0 177.5h0M106.9 200.9h0M319.2 323.0h0M161.7 141.5h0M238.8 408.5h0M263.6 312.1h0M426.5 231.0h0M218.8 374.0h0M380.9 319.3h0M176.3 369.0h0M420.9 288.3h0M147.8 147.9h0M231.2 276.3h0M305.2 61.0h0M248.1 147.7h0M132.7 265.3h0M307.6 180.2h0M182.1 179.0h0M376.3 384.8h0M385.2 275.5h0M360.3 271.3h0M240.0 305.3h0M366.5 305.4h0M196.8 82.0h0M103.9 273.2h0M380.6 178.7h0M458.6 317.1h0M196.5 296.2h0M310.8 50.8h0M116.6 312.9h0M360.2 406.3h0M321.9 127.7h0M276.7 384.4h0M338.6 357.9h0M323.0 117.4h0M280.7 49.7h0M366.2 212.1h0M275.0 218.0h0M208.5 230.1h0M446.8 204.2h0M250.8 113.9h0M252.8 200.3h0M121.8 269.4h0M408.5 365.8h0M142.8 146.3h0M357.9 305.2h0M219.2 310.4h0M365.8 282.4h0M225.7 199.9h0M137.8 200.9h0M214.9 337.1h0M321.5 97.4h0M301.1 333.9h0M407.6 190.6h0M174.8 328.8h0M317.2 212.3h0M172.3 145.8h0M387.2 228.8h0M331.9 324.6h0M398.0 332.1h0M438.5 331.0h0M132.8 289.7h0M269.0 95.6h0M277.4 73.2h0M268.2 196.1h0M273.5 349.7h0M452.5 154.4h0M178.4 161.3h0M387.0 120.6h0M159.0 210.3h0M462.2 202.2h0M418.9 184.2h0M317.3 249.2h0M257.0 252.0h0M382.7 121.1h0M357.0 257.3h0M226.9 349.7h0M250.8 375.3h0M277.6 297.2h0M393.7 141.8h0M108.4 258.8h0M152.5 352.5h0M455.9 217.0h0M456.0 335.7h0M164.0 343.9h0M438.3 240.6h0M411.7 324.3h0M450.3 311.3h0M392.3 272.3h0M189.5 351.1h0M95.5 213.5h0M278.0 258.7h0M154.7 149.6h0M243.1 257.4h0M343.9 108.2h0M326.3 214.2h0M249.1 183.5h0M183.7 216.5h0M161.8 330.4h0M256.5 108.1h0M294.5 277.0h0M436.6 341.4h0M314.6 352.0h0M163.2 327.9h0M124.1 247.9h0M204.1 75.3h0M164.4 186.7h0M324.6 174.8h0M224.0 72.1h0M389.2 204.6h0M118.5 165.6h0M276.3 176.2h0M377.0 72.5h0M374.3 91.9h0M239.0 55.0h0M222.2 134.7h0M326.5 74.6h0M101.8 193.7h0M194.0 210.5h0M444.8 156.2h0M248.6 270.2h0M142.8 191.7h0M389.9 245.5h0M428.4 197.3h0M194.5 110.2h0M425.1 232.3h0M315.4 211.3h0M210.1 197.1h0M342.4 103.0h0M198.8 171.4h0M388.8 106.6h0M453.6 149.8h0M350.6 64.3h0M352.8 86.3h0M121.7 172.9h0M332.0 223.4h0M110.9 304.7h0M195.7 139.5h0M344.4 178.1h0M132.2 255.5h0M433.9 219.8h0M405.6 224.7h0M368.7 277.0h0M312.1 281.0h0M269.1 292.4h0M347.0 265.5h0M200.6 108.5h0M158.5 271.0h0M282.3 309.0h0M154.3 214.2h0M436.4 248.8h0M262.6 46.1h0M413.8 197.7h0M287.2 327.8h0M281.5 385.1h0M336.3 263.0h0M124.6 164.1h0M366.7 154.6h0M189.5 279.3h0M335.5 199.4h0M332.0 143.5h0M397.4 194.0h0M97.1 204.9h0M422.7 134.2h0M229.2 178.6h0M421.3 108.8h0M266.1 191.3h0M130.6 179.7h0M412.0 187.1h0M370.3 203.3h0M206.7 221.8h0M280.0 51.1h0M305.1 224.2h0M373.2 59.1h0M273.4 271.0h0M290.9 345.4h0M301.4 238.3h0M318.5 236.8h0M226.4 384.2h0M194.9 227.3h0M341.2 342.3h0M343.2 245.1h0M232.5 64.5h0M170.1 126.2h0M270.8 376.2h0M431.1 240.2h0M130.7 289.2h0M409.7 176.9h0M292.2 283.2h0M288.7 52.0h0M300.7 396.4h0M360.8 177.0h0M257.3 390.8h0M267.8 375.5h0M167.1 316.9h0M300.7 286.5h0M358.0 152.5h0M448.5 208.3h0M217.8 231.5h0M244.5 229.7h0M193.2 72.9h0M343.8 385.7h0M186.4 312.1h0M389.5 304.3h0M446.1 227.2h0M330.0 345.4h0M306.0 160.3h0M244.0 247.7h0M435.8 121.1h0M465.9 173.7h0M372.8 105.0h0M199.4 160.1h0M190.2 134.1h0M232.0 316.6h0M439.0 280.7h0M195.6 150.5h0M168.3 193.9h0M456.6 318.5h0M219.8 73.5h0M478.2 229.9h0M291.0 338.7h0M111.5 253.8h0M142.0 218.0h0M157.2 120.3h0M248.2 196.3h0M318.5 143.8h0M411.0 293.4h0M337.4 386.2h0M141.3 257.4h0M285.8 266.9h0M285.8 220.4h0M329.7 394.9h0M227.8 302.8h0M413.7 212.0h0M178.1 160.7h0M266.1 352.0h0M138.1 155.0h0M429.9 215.5h0M216.7 397.5h0M138.2 324.3h0M448.8 302.0h0M351.3 318.5h0M350.6 146.9h0M174.6 282.8h0M336.6 403.8h0M251.6 287.5h0M227.0 168.4h0M197.0 179.4h0M163.5 154.3h0M226.6 208.1h0M243.3 245.0h0M123.6 158.9h0M207.3 87.9h0M287.9 48.7h0M271.0 60.0h0M293.9 403.7h0M218.7 192.8h0M111.2 191.7h0M379.5 174.7h0M209.5 206.1h0M200.7 197.5h0M319.0 237.1h0M402.1 379.5h0M240.1 316.8h0M244.8 337.4h0M284.9 240.2h0M460.7 321.5h0M309.1 373.6h0M346.3 286.5h0M457.6 240.1h0M326.3 148.3h0M431.6 195.6h0M328.8 389.1h0M230.3 283.4h0M361.8 312.1h0M186.0 188.1h0M313.3 182.4h0M414.0 142.1h0M374.7 91.4h0M237.8 43.6h0M382.7 114.9h0M419.4 265.4h0M209.7 201.3h0M197.7 215.3h0M283.4 41.5h0M333.7 369.0h0M324.1 209.7h0M396.3 139.1h0M268.1 86.9h0M419.1 344.0h0M245.9 116.8h0M414.2 299.4h0M127.4 322.9h0M296.5 85.1h0M110.5 165.4h0M152.5 373.8h0M390.1 366.8h0M297.1 212.0h0M396.7 183.1h0M304.4 369.6h0M179.7 134.2h0M159.3 193.1h0M291.7 179.8h0M355.1 407.5h0M111.1 319.0h0M267.7 327.2h0M118.0 235.8h0M479.9 210.8h0M293.7 112.1h0M279.6 188.1h0M94.2 290.9h0M201.9 203.3h0M443.6 159.3h0M450.6 240.4h0M191.9 311.0h0M307.4 185.1h0M392.1 121.3h0M367.0 165.5h0M137.0 226.6h0M282.3 247.1h0M436.6 271.0h0M445.6 274.9h0M107.8 155.9h0M150.1 167.5h0M273.1 116.0h0M197.2 96.9h0M133.7 212.6h0M389.3 62.8h0M404.6 297.1h0M188.8 357.9h0M180.4 130.7h0M246.9 97.6h0M244.9 323.8h0M130.3 324.5h0M433.9 319.3h0M362.0 296.4h0M315.3 171.3h0M152.7 340.2h0M423.9 145.2h0M284.1 243.2h0M125.6 228.4h0M259.3 94.5h0M310.2 117.9h0M393.8 372.9h0M269.9 301.4h0M136.4 267.9h0M226.6 166.1h0M271.0 380.1h0M104.0 216.4h0M184.4 296.4h0M278.2 154.0h0M162.2 177.5h0M272.5 105.4h0M387.3 102.3h0M145.3 340.4h0M244.1 319.8h0M213.9 205.0h0M286.3 155.0h0M439.0 328.0h0M303.9 282.7h0M190.6 151.7h0M294.2 399.9h0M144.6 134.3h0M215.3 153.4h0M309.2 406.5h0M281.4 95.1h0M330.9 248.8h0M297.1 43.5h0M387.6 116.8h0M300.0 181.1h0M234.6 233.5h0M332.8 114.9h0M175.8 164.1h0M232.0 162.2h0M374.3 117.1h0M477.2 232.6h0M395.5 213.2h0M465.9 293.4h0M223.1 401.4h0M364.4 264.8h0M244.3 231.7h0M343.0 411.9h0M193.1 156.6h0M280.6 57.1h0M143.2 173.4h0M404.4 141.5h0M243.6 69.1h0M428.0 149.9h0M218.1 371.8h0M188.3 263.3h0M182.4 250.5h0M317.1 398.0h0M441.3 129.0h0M264.8 206.1h0M364.4 221.4h0M296.2 327.8h0M283.2 92.1h0M219.6 386.8h0M217.2 401.1h0M144.1 205.0h0M390.1 156.4h0M271.1 98.8h0M337.5 111.5h0M385.8 155.6h0M135.0 137.3h0M321.9 386.0h0M161.2 312.4h0M110.3 206.6h0M281.5 329.0h0M272.7 84.8h0M226.0 144.4h0M348.9 186.4h0M264.1 299.7h0M439.6 252.0h0M162.9 163.6h0M262.7 340.1h0M323.3 361.6h0M443.2 214.2h0M341.6 97.5h0M275.9 312.5h0M458.9 178.8h0M209.5 316.4h0M342.1 100.2h0M174.2 109.3h0M235.7 309.0h0M199.0 109.0h0M184.9 150.4h0M373.3 242.3h0M164.7 265.3h0M286.0 135.3h0M168.9 131.2h0M210.2 110.3h0M230.3 235.5h0M132.4 276.4h0M189.9 196.4h0M252.5 338.9h0M448.3 214.4h0M275.7 369.5h0M475.6 292.3h0M410.3 333.2h0M229.5 275.3h0M343.7 288.7h0M332.0 105.1h0M151.1 152.5h0M382.9 358.9h0M317.6 231.0h0M219.6 377.7h0M319.7 327.1h0M433.4 182.7h0M178.9 279.8h0M140.6 124.1h0M372.8 289.9h0M169.9 312.3h0M162.7 324.2h0M316.5 280.7h0M333.8 177.1h0M305.3 260.0h0M311.8 311.6h0M321.6 194.0h0M191.2 193.9h0M179.9 282.8h0M367.3 128.1h0M464.6 272.7h0M341.2 397.6h0M445.2 129.1h0M426.7 103.5h0M332.1 160.2h0M402.0 200.1h0M413.7 204.9h0M469.1 277.2h0M264.3 316.3h0M284.6 231.4h0M273.3 294.6h0M203.9 319.6h0M444.1 319.0h0M233.2 162.6h0M85.7 233.4h0M413.7 298.5h0M434.1 227.8h0M228.9 381.2h0M203.3 327.7h0M342.7 168.3h0M406.6 94.7h0M145.9 346.4h0M201.2 62.7h0M135.4 115.4h0M120.6 241.6h0M401.1 258.0h0M305.1 408.0h0M114.9 200.8h0M261.1 151.8h0M142.7 255.5h0M158.0 243.0h0M223.7 306.1h0M305.6 268.4h0M235.4 352.7h0M121.6 175.7h0M259.8 98.2h0M164.7 148.8h0M392.7 172.5h0M213.5 152.0h0M282.2 355.6h0M261.5 227.3h0M124.0 256.3h0M249.8 411.3h0M267.9 88.2h0M197.5 252.6h0M274.4 140.6h0M350.1 220.8h0M145.0 157.9h0M129.6 186.9h0M117.9 212.6h0M469.5 176.1h0M324.1 310.1h0M306.9 214.5h0M178.1 317.2h0M170.8 376.3h0M303.3 148.7h0M107.6 226.5h0M375.1 292.8h0M125.8 113.6h0M146.2 270.3h0M146.1 131.0h0M448.5 283.6h0M231.0 342.3h0M377.3 363.9h0M99.8 166.9h0M255.3 95.5h0M206.2 114.3h0M273.2 35.5h0M409.6 243.6h0M449.6 298.8h0M389.3 355.6h0M248.0 222.2h0M108.5 208.1h0M296.7 224.6h0M437.4 183.8h0M386.6 362.9h0M262.1 390.5h0M144.1 320.3h0M112.9 251.9h0M261.6 162.9h0M89.4 253.1h0M272.2 196.3h0M267.2 172.0h0M266.8 277.0h0M276.9 162.5h0M148.4 351.0h0M362.7 298.9h0M268.0 101.0h0M283.4 296.7h0M339.3 166.9h0M214.7 267.2h0M270.6 156.1h0M393.3 94.5h0M148.3 214.4h0M214.2 266.3h0M314.5 133.9h0M309.5 41.7h0M371.9 392.5h0M145.7 298.4h0M192.6 401.6h0M182.0 332.3h0M110.4 309.3h0M318.3 391.9h0M441.2 189.8h0M346.5 322.6h0M192.5 339.8h0M358.2 336.1h0M166.1 334.4h0M252.2 192.7h0M140.7 262.6h0M219.3 161.1h0M417.6 325.0h0M295.7 42.3h0M260.8 302.8h0M341.9 219.8h0M214.9 164.5h0M97.1 229.3h0M196.1 58.0h0M182.1 357.8h0M334.8 413.5h0M109.1 243.6h0M438.8 188.8h0M447.4 215.9h0M305.5 235.3h0M390.4 74.2h0M158.3 285.5h0M401.6 238.1h0M362.3 327.5h0M101.1 224.7h0M225.0 360.4h0M339.9 199.4h0M284.5 272.7h0M208.9 57.6h0M175.0 198.7h0M206.8 389.5h0M125.8 190.0h0M458.1 300.3h0M166.3 96.3h0M213.3 182.1h0M357.6 369.9h0M397.0 238.6h0M164.2 261.8h0M112.8 183.7h0M155.3 104.1h0M414.5 305.3h0M284.5 256.1h0M235.1 147.7h0M273.9 256.5h0M304.4 76.4h0M187.8 275.3h0M266.1 255.8h0M278.0 387.2h0M223.6 63.2h0M339.6 380.5h0M333.5 264.1h0M238.4 105.7h0M93.1 265.6h0M398.5 249.4h0M423.9 202.0h0M283.0 120.8h0M170.1 153.4h0M202.9 215.5h0M266.6 257.8h0M387.9 178.0h0M325.3 355.7h0M127.1 334.9h0M203.7 344.5h0M219.7 257.7h0M333.4 127.1h0M473.0 257.7h0M277.6 309.5h0M227.6 145.5h0M204.8 210.0h0M164.5 91.8h0M188.0 211.0h0M213.6 195.9h0M335.2 398.9h0M261.3 72.1h0M410.3 307.9h0M322.9 238.4h0M421.0 108.8h0M190.5 111.2h0M415.7 256.2h0M397.9 125.9h0M450.7 317.3h0M380.3 342.9h0M205.6 320.5h0M402.6 312.2h0M367.4 136.3h0M111.6 197.2h0M330.1 289.3h0M455.1 116.3h0M277.0 153.6h0M360.5 150.4h0M210.3 234.2h0M409.1 118.2h0M484.0 210.3h0M437.0 273.7h0M234.8 78.3h0M166.6 212.6h0M145.5 336.5h0M198.4 399.9h0M211.7 397.5h0M201.4 313.7h0M242.4 234.2h0M260.5 386.6h0M345.6 232.5h0M260.0 71.2h0M382.6 292.0h0M184.6 337.2h0M451.8 308.4h0M425.5 96.4h0M437.1 266.1h0M231.5 247.4h0M464.6 216.3h0M253.7 306.0h0M101.1 243.0h0M459.4 218.1h0M221.8 396.0h0M235.2 102.8h0M427.2 266.1h0M115.1 137.4h0M471.9 220.8h0M349.2 131.4h0M309.5 106.9h0M399.3 104.9h0M443.2 130.3h0M175.8 184.2h0M249.4 203.0h0M310.0 137.0h0M420.3 197.0h0M301.6 251.4h0M316.0 341.2h0M238.7 220.8h0M142.9 292.0h0M395.5 323.2h0M228.4 384.3h0M344.8 323.7h0M456.1 246.5h0M266.9 324.5h0M296.2 399.8h0M324.2 75.5h0M327.1 113.5h0M229.1 250.3h0M203.9 112.2h0M123.8 260.0h0M423.9 118.6h0M322.6 40.3h0M121.8 185.9h0M428.9 126.7h0M439.4 238.4h0M453.8 164.2h0M218.2 70.4h0M384.9 81.8h0M202.8 117.8h0M360.7 309.7h0M260.1 308.6h0M416.2 106.4h0M153.0 314.7h0M420.2 327.2h0M244.8 327.4h0M439.7 114.1h0M442.0 352.1h0M209.7 290.2h0M280.8 108.7h0M343.3 132.7h0M155.8 119.2h0M120.5 193.7h0M386.4 235.7h0M201.0 334.4h0M278.6 134.3h0M396.7 201.0h0M366.5 345.9h0M268.5 356.1h0M437.9 146.8h0M400.0 347.1h0M394.0 97.4h0M129.9 327.0h0M267.8 190.9h0M323.4 269.4h0M331.8 63.4h0M355.5 50.3h0M476.0 217.3h0M423.7 353.6h0M447.9 122.5h0M207.5 395.5h0M321.9 120.8h0M117.2 278.2h0M199.9 151.4h0M439.5 203.6h0M336.4 279.3h0M184.5 128.3h0M228.2 218.0h0M270.4 96.7h0M308.1 101.7h0M332.8 380.0h0M295.9 194.4h0M183.2 160.1h0M453.2 338.0h0M177.2 169.8h0M237.6 215.5h0M187.1 89.0h0M124.0 124.5h0M371.3 282.4h0M324.5 319.1h0M415.5 82.8h0M287.6 127.9h0M425.5 216.1h0M317.2 237.9h0M284.5 114.6h0M169.2 230.7h0M201.4 277.8h0M297.1 101.3h0M279.9 330.6h0M363.5 274.9h0M396.8 142.3h0M95.0 250.5h0M291.1 282.3h0M370.6 120.3h0M453.2 291.7h0M173.1 374.9h0M379.8 175.8h0M171.7 349.9h0M378.6 133.8h0M122.2 133.2h0M106.8 169.0h0M414.3 376.2h0M272.7 54.3h0M315.4 419.8h0M435.3 223.1h0M144.9 207.1h0M261.5 257.8h0M179.1 300.5h0M286.4 330.2h0M146.8 259.0h0M298.3 143.7h0M198.7 314.2h0M368.1 275.9h0M278.3 405.5h0M242.2 198.2h0M385.0 346.6h0M437.5 360.1h0M124.7 165.5h0M138.2 327.3h0M449.7 175.6h0M357.6 62.6h0M135.8 172.2h0M460.3 253.7h0M407.0 199.9h0M351.8 219.8h0M275.8 245.8h0M148.8 245.7h0M227.0 305.9h0M391.6 249.4h0M352.6 59.7h0M190.5 248.3h0M311.3 419.7h0M199.3 324.7h0M342.2 156.0h0M208.8 232.3h0M371.4 143.9h0M419.2 224.1h0M212.8 378.8h0M197.0 323.4h0M257.5 131.9h0M331.4 165.8h0M160.3 348.2h0M434.2 173.2h0M250.9 243.3h0M411.4 348.9h0M410.0 329.1h0M377.7 106.7h0M137.7 201.1h0M193.5 244.2h0M398.4 132.7h0M338.2 200.8h0M193.4 195.7h0M250.5 44.8h0M208.7 98.9h0M271.0 360.7h0M397.5 346.8h0M403.7 266.4h0M291.2 222.9h0M346.4 197.7h0M314.7 192.7h0M226.8 263.4h0M484.5 271.5h0M376.5 338.6h0M254.0 101.3h0M250.1 205.3h0M230.0 47.2h0M296.4 76.7h0M445.4 265.3h0M246.3 135.1h0M337.5 133.3h0M235.2 263.1h0M304.5 146.0h0M366.3 395.1h0M429.3 237.6h0M141.3 214.4h0M177.1 140.3h0M299.9 222.4h0M229.4 133.4h0M245.8 402.1h0M383.3 309.4h0M427.1 108.0h0M151.6 171.8h0M316.1 368.7h0M200.3 276.7h0M158.0 333.9h0M148.5 129.0h0M223.9 243.3h0M187.4 327.6h0M111.6 269.5h0M350.3 201.3h0M349.5 378.4h0M160.9 86.5h0M181.7 93.9h0M300.1 115.3h0M259.4 179.1h0M318.0 345.9h0M248.9 114.1h0M244.7 51.4h0M103.5 169.5h0M121.9 322.4h0M349.2 70.1h0M278.4 175.8h0M325.4 156.5h0M317.6 116.1h0M373.5 313.6h0M214.5 100.6h0M153.6 302.4h0M255.2 126.9h0M367.7 203.0h0M186.8 380.1h0M266.5 403.1h0M361.9 245.8h0M485.4 226.3h0M290.1 108.0h0M344.7 183.2h0M407.3 352.4h0M189.2 108.7h0M264.4 109.8h0M379.1 155.6h0M161.2 228.2h0M387.7 285.4h0M366.6 68.7h0M243.3 211.5h0M402.7 144.4h0M357.4 88.6h0M382.8 265.2h0M289.6 233.9h0M342.4 257.1h0M198.6 356.8h0M144.3 364.7h0M452.3 286.8h0M360.3 250.1h0M233.3 85.1h0M330.3 228.1h0M226.3 372.1h0M360.6 74.6h0M181.2 149.0h0M407.4 236.6h0M107.7 266.6h0M326.1 219.9h0M443.4 236.9h0M130.2 115.1h0M132.6 325.8h0M219.1 132.4h0M225.1 138.4h0M354.5 118.0h0M146.9 298.0h0M87.3 241.3h0M250.1 260.7h0M361.6 326.2h0M234.0 58.3h0M350.0 239.0h0M387.7 387.5h0M371.5 126.8h0M161.1 261.5h0M371.9 367.7h0M125.8 242.0h0M187.7 252.5h0M330.1 381.1h0M442.4 199.7h0M317.3 408.7h0M147.4 129.8h0M123.6 239.6h0M254.3 416.8h0M458.4 243.4h0M364.4 196.7h0M275.7 334.6h0M459.4 215.9h0M173.2 286.6h0M467.5 230.5h0M245.7 69.1h0M213.4 181.4h0M298.2 93.6h0M318.2 50.1h0M415.6 229.5h0M416.6 197.0h0M401.1 173.1h0M367.5 88.5h0M163.0 344.8h0M357.5 198.5h0M397.0 363.6h0M199.4 200.5h0M333.0 123.4h0M289.0 99.2h0M239.4 48.4h0M166.0 289.3h0M285.7 415.3h0M281.7 415.4h0M326.1 125.4h0M304.4 101.5h0M494.8 217.2h0M397.2 117.7h0M249.5 416.6h0M326.7 407.4h0M418.8 111.5h0M134.4 147.6h0M399.4 188.7h0M372.6 149.9h0M156.3 218.6h0M253.7 312.3h0M130.3 171.2h0M142.2 363.0h0M245.9 242.9h0M259.6 207.5h0M147.7 132.3h0M223.0 106.6h0M369.9 151.3h0M392.0 312.5h0M292.2 189.0h0M324.1 264.3h0M93.2 224.3h0M326.2 260.7h0M449.3 326.0h0M371.2 152.7h0M196.3 273.1h0M178.9 243.1h0M111.8 263.7h0M234.5 400.5h0M156.6 218.6h0M454.0 308.2h0M322.3 220.2h0M211.1 182.9h0M171.1 292.2h0M389.4 271.0h0M224.0 371.1h0M262.4 68.5h0M131.5 170.0h0M301.3 125.1h0M198.2 92.8h0M374.0 405.8h0M273.8 256.3h0M165.7 134.1h0M268.3 355.8h0M253.2 413.2h0M179.3 245.4h0M425.4 267.3h0M277.4 380.4h0M285.8 145.3h0M137.3 109.2h0M360.3 368.7h0M255.8 41.7h0M232.1 177.6h0M164.3 276.5h0M389.5 195.1h0M360.0 224.3h0M442.2 261.5h0M463.0 152.3h0M306.6 339.7h0M163.2 174.8h0M272.2 165.6h0M464.9 322.3h0M385.9 372.3h0M357.0 205.6h0M479.6 188.4h0M296.8 254.1h0M226.0 378.3h0M126.2 215.7h0M249.3 145.2h0M228.1 320.5h0M263.3 327.0h0M126.0 310.7h0M271.6 150.4h0M268.8 199.9h0M242.0 151.0h0M244.9 276.0h0M313.6 341.2h0M272.3 302.5h0M357.7 178.1h0M324.4 192.8h0M204.1 237.9h0M214.2 142.4h0M394.4 74.6h0M143.1 322.6h0M284.1 227.7h0M285.8 297.4h0M453.6 128.9h0M370.5 278.8h0M161.7 307.2h0M148.5 372.8h0M150.8 226.9h0M347.4 282.9h0M415.0 303.1h0M226.7 63.9h0M197.7 191.8h0M343.0 169.7h0M260.9 137.6h0M231.7 246.2h0M111.9 175.5h0M366.0 182.2h0M170.0 318.3h0M352.2 249.4h0M233.0 191.0h0M469.9 267.7h0M436.1 107.7h0M346.8 399.7h0M280.1 395.4h0M437.2 293.3h0M340.3 231.4h0M442.5 140.3h0M429.8 247.9h0M194.0 91.1h0M203.3 150.2h0M155.7 324.9h0M332.7 241.5h0M464.4 204.9h0M263.2 160.0h0M157.7 143.9h0M225.6 271.0h0M316.5 48.1h0M158.7 185.5h0M360.4 357.5h0M206.6 99.9h0M390.4 365.5h0M210.6 394.3h0M302.6 279.1h0M424.1 332.1h0M412.7 363.1h0M212.4 166.8h0M383.5 303.4h0M272.9 325.4h0M340.4 239.9h0M430.0 193.2h0M222.6 407.9h0M155.5 313.3h0M480.2 203.0h0M456.1 171.0h0M387.5 389.5h0M133.7 200.0h0M196.3 139.8h0M214.7 331.2h0M102.9 226.5h0M407.5 314.2h0M273.4 80.4h0M270.2 370.6h0M323.1 341.4h0M428.8 108.7h0M396.9 178.0h0M466.8 226.8h0M290.3 215.7h0M206.8 160.6h0M367.0 159.5h0M292.5 138.5h0M122.0 253.3h0M274.8 279.5h0M352.8 176.0h0M178.7 87.7h0M273.3 266.8h0M86.6 257.8h0M274.4 115.4h0M422.7 271.0h0M117.2 200.1h0M305.3 137.4h0M140.3 354.4h0M408.1 266.7h0M120.6 169.0h0M350.1 230.0h0M282.1 288.0h0M435.5 229.6h0M248.3 282.2h0M258.8 150.5h0M193.8 333.2h0M103.1 264.7h0M364.0 191.0h0M258.6 338.1h0M121.9 270.2h0M266.6 202.4h0M150.5 233.6h0M214.1 204.2h0M264.1 224.1h0M265.9 189.6h0M387.5 261.0h0M297.3 111.9h0M202.8 321.0h0M237.0 165.1h0M267.1 74.8h0M295.1 404.1h0M445.0 196.6h0M359.6 116.1h0M316.3 132.2h0M280.3 383.4h0M286.7 63.9h0M192.7 169.2h0M166.8 109.6h0M212.5 290.2h0M436.1 272.1h0M406.8 222.8h0M288.2 76.4h0M240.6 390.8h0M289.7 72.9h0M390.3 365.2h0M337.5 302.2h0M220.3 93.0h0M340.8 186.6h0M107.7 221.7h0M134.9 217.7h0M191.5 228.7h0M296.4 347.5h0M288.3 223.6h0M456.5 299.1h0M305.1 285.9h0M392.1 205.1h0M226.7 395.0h0M311.3 254.2h0M210.0 252.9h0M266.9 70.1h0M421.9 191.3h0M181.8 122.5h0M374.9 336.4h0M223.7 296.5h0M211.0 401.2h0M342.0 110.4h0M361.6 357.0h0M230.6 159.0h0M328.0 276.1h0M267.4 309.1h0M210.3 201.0h0M221.5 229.9h0M280.5 149.2h0M317.3 277.6h0M117.6 342.9h0M333.5 249.6h0M199.2 399.7h0M376.9 119.0h0M254.5 77.0h0M256.5 78.3h0M384.2 260.6h0M402.4 280.2h0M222.9 345.4h0M281.0 288.1h0M179.1 248.1h0M155.6 200.8h0M238.9 199.3h0M429.3 365.7h0M159.6 274.5h0M185.0 184.5h0M331.7 175.0h0M113.2 164.0h0M119.1 275.8h0M456.8 263.6h0M179.6 235.2h0M458.0 185.6h0M197.6 128.8h0M302.4 192.8h0M103.1 244.1h0M303.4 241.4h0M280.7 178.7h0M337.9 235.2h0M355.8 96.2h0M235.9 133.0h0M311.4 209.7h0M294.6 171.6h0M207.8 134.9h0M367.0 269.5h0M431.5 310.0h0M342.1 367.3h0M180.9 222.1h0M244.3 266.2h0M215.7 383.4h0M223.2 369.6h0M247.9 244.3h0M199.0 208.7h0M392.9 289.8h0M288.4 272.1h0M372.7 368.4h0M394.0 204.1h0M295.6 303.5h0M440.6 280.5h0M259.1 184.9h0M337.6 113.3h0M468.7 263.7h0M144.2 276.7h0M128.1 297.4h0M177.6 331.8h0M248.1 301.8h0M351.7 291.9h0M304.6 372.2h0M205.2 296.0h0M409.2 167.3h0M245.7 238.1h0M215.3 143.1h0M353.2 320.7h0M132.1 297.4h0M308.4 407.9h0M134.6 266.0h0M94.5 274.8h0M229.5 104.3h0M171.4 274.8h0M270.9 177.7h0M338.4 269.0h0M402.6 118.4h0M156.2 136.4h0M204.7 278.9h0M208.9 364.5h0M364.5 312.2h0M403.1 89.9h0M361.3 162.2h0M244.0 310.9h0M423.8 343.4h0M357.0 413.5h0M208.6 80.9h0M371.8 359.7h0M326.4 117.0h0M479.3 198.0h0M207.8 234.7h0M340.0 146.9h0M130.6 157.5h0M259.3 196.8h0M380.2 231.8h0M315.7 107.3h0M177.3 300.6h0M241.7 74.9h0M200.2 212.2h0M460.2 269.9h0M265.3 394.5h0M447.5 267.8h0M332.0 354.3h0M354.7 86.1h0M115.0 133.0h0M193.6 365.4h0M234.6 348.0h0M300.2 273.8h0M264.5 150.0h0M151.7 253.9h0M242.9 277.1h0M255.7 270.6h0M238.7 396.3h0M316.8 120.8h0M368.0 255.5h0M328.2 74.9h0M291.7 125.2h0M291.4 308.0h0M134.7 128.1h0M180.9 224.5h0M138.2 143.7h0M372.8 309.1h0M375.2 151.3h0M239.9 376.4h0M186.0 308.8h0M353.8 341.9h0M280.4 279.1h0M151.1 311.3h0M116.4 268.0h0M303.3 223.2h0M326.5 111.4h0M292.2 200.3h0M124.9 164.3h0M333.7 92.0h0M279.2 361.6h0M392.9 237.8h0M347.9 206.0h0M398.0 119.4h0M251.0 239.0h0M204.0 129.9h0M203.8 205.2h0M463.5 282.6h0M245.1 377.2h0M265.5 50.9h0M474.7 235.6h0M403.9 350.0h0M456.7 260.2h0M306.2 275.1h0M117.0 155.5h0M361.0 135.7h0M447.3 120.6h0M392.2 275.4h0M417.0 339.8h0M447.4 290.3h0M184.7 80.4h0M361.3 356.2h0M145.1 182.3h0M431.1 148.4h0M185.9 81.6h0M334.9 199.6h0M311.5 147.1h0M103.9 208.4h0M284.7 347.2h0M289.1 180.9h0M199.8 242.9h0M225.4 301.4h0M362.1 128.4h0M177.4 182.8h0M126.3 298.4h0M221.6 192.6h0M423.1 281.2h0M224.7 368.7h0M480.4 250.1h0M95.8 230.9h0M423.8 248.3h0M107.2 199.7h0M420.6 215.6h0M383.2 325.5h0M472.2 235.3h0M225.2 154.3h0M443.8 338.3h0M220.7 175.8h0M293.3 137.1h0M294.6 160.2h0M223.6 310.3h0M345.4 410.3h0M205.7 164.4h0M481.1 197.2h0M306.0 270.6h0M417.2 176.7h0M122.6 243.1h0M420.5 333.1h0M177.8 262.3h0M320.2 405.7h0M455.2 311.1h0M271.8 101.2h0M228.8 202.6h0M227.9 172.8h0M133.6 324.3h0M177.6 214.1h0M457.9 134.7h0M185.6 86.7h0M337.5 149.8h0M225.0 112.6h0M222.1 95.4h0M123.7 289.3h0M415.5 106.7h0M397.5 146.0h0M482.1 249.9h0M383.6 247.4h0M381.0 315.6h0M326.4 98.9h0M119.1 193.0h0M331.0 417.8h0M428.8 114.7h0M255.5 367.5h0M170.3 356.0h0M225.6 76.6h0M346.0 171.3h0M175.8 121.0h0M207.3 171.7h0M358.0 222.0h0M371.4 281.7h0M244.3 79.5h0M198.4 401.9h0M105.2 189.1h0M463.1 275.0h0M194.1 59.7h0M470.4 213.4h0M216.6 159.1h0M440.0 299.4h0M387.0 208.6h0M456.7 146.0h0M197.2 130.3h0M330.1 90.3h0M444.5 134.3h0M424.0 301.5h0M147.9 208.5h0M216.9 364.2h0M227.9 132.2h0M423.2 160.5h0M341.0 104.9h0M219.8 329.9h0M260.0 200.9h0M454.2 217.4h0M300.2 39.2h0M242.9 156.5h0M376.7 350.8h0M371.9 353.4h0M390.5 88.9h0M290.2 59.6h0M172.6 219.5h0M233.9 154.4h0M149.8 213.1h0M331.5 148.4h0M237.4 180.8h0M299.1 326.0h0M190.8 332.6h0M306.6 418.1h0M174.9 130.9h0M121.4 158.8h0M412.7 95.7h0M371.7 98.5h0M344.1 83.5h0M139.2 300.2h0M208.7 395.4h0M152.3 157.5h0M339.1 370.7h0M164.0 126.5h0M260.7 311.8h0M342.0 289.9h0M219.7 185.2h0M332.3 384.0h0M288.2 83.2h0M318.7 162.2h0M343.0 204.0h0M266.9 229.5h0M365.1 276.5h0M328.9 119.7h0M419.2 371.8h0M374.2 393.6h0M356.4 250.4h0M401.0 203.8h0M156.5 150.2h0M211.4 118.8h0M291.3 337.4h0M271.5 385.8h0M259.9 181.7h0M428.8 373.0h0M194.0 329.4h0M323.4 359.9h0M301.0 134.2h0M322.5 375.6h0M128.4 133.7h0M398.6 349.6h0M301.3 365.9h0M431.8 277.2h0M391.8 249.4h0M376.4 185.0h0M412.2 98.8h0M255.6 322.8h0M251.2 159.8h0M178.1 83.5h0M249.7 276.6h0M405.0 383.3h0M135.0 295.9h0M269.2 387.2h0M179.3 250.6h0M240.2 110.7h0M292.1 220.3h0M219.7 112.2h0M265.0 297.6h0M387.6 167.2h0M230.9 61.3h0M257.5 383.9h0M381.2 69.4h0M242.5 89.7h0M214.7 232.5h0M139.9 199.5h0M236.7 272.7h0M436.0 245.0h0M370.0 361.1h0M301.9 349.0h0M246.1 403.2h0M185.5 312.7h0M241.0 77.3h0M287.7 373.6h0M260.0 226.9h0M221.0 320.9h0M230.5 163.5h0M475.6 183.8h0M141.7 298.9h0M433.3 325.8h0M412.1 254.6h0M220.2 107.0h0M119.7 305.6h0M352.4 387.3h0M445.3 347.6h0M271.7 268.8h0M356.8 303.5h0M413.0 248.9h0M292.3 255.5h0M319.5 64.0h0M415.3 321.2h0M263.2 323.5h0M145.5 162.8h0M158.7 195.6h0M371.2 236.8h0M428.2 127.0h0M430.5 151.6h0M271.3 112.2h0M370.7 182.3h0M296.6 247.8h0M259.3 209.6h0M300.8 391.4h0M195.8 236.5h0M357.6 50.5h0M256.4 72.2h0M135.0 285.3h0M361.1 350.1h0M178.6 187.4h0M179.1 240.1h0M187.8 350.1h0M202.2 92.7h0M396.9 268.7h0M406.4 258.7h0M207.8 373.3h0M484.0 267.5h0M366.0 193.4h0M376.5 159.5h0M204.9 333.0h0M130.6 266.9h0M185.2 369.0h0M316.0 305.6h0M287.1 55.5h0M380.6 153.3h0M227.7 207.4h0M355.8 242.5h0M285.3 257.2h0M157.8 252.4h0M242.6 411.2h0M272.7 82.3h0M265.5 388.4h0M317.4 151.5h0M346.6 124.9h0M300.3 412.2h0M199.5 158.9h0M246.9 220.4h0M259.4 219.1h0M174.5 275.6h0M95.7 191.3h0M248.3 157.7h0M425.0 164.4h0M206.2 177.1h0M254.8 72.8h0M224.2 141.2h0M378.3 322.3h0M435.9 145.7h0M339.7 354.5h0M194.9 62.2h0M223.3 325.8h0M318.0 172.7h0M453.3 240.2h0M442.4 262.1h0M312.9 81.9h0M345.1 317.4h0M277.4 149.0h0M190.0 62.2h0M239.3 154.1h0M246.9 43.9h0M444.3 331.5h0M220.0 56.6h0M234.3 74.8h0M233.4 75.8h0M338.0 132.5h0M444.1 209.8h0M449.6 282.1h0M315.4 145.2h0M188.0 123.2h0M118.0 304.6h0M142.7 233.6h0M251.1 104.2h0M366.2 259.8h0M467.2 285.9h0M313.2 406.0h0M350.4 366.8h0M428.8 283.9h0M212.0 350.7h0M279.9 193.7h0M180.0 308.8h0M231.5 123.7h0M156.3 125.4h0M295.5 210.1h0M183.5 306.9h0M374.4 288.6h0M456.1 338.5h0M277.3 391.7h0M373.7 381.5h0M386.3 235.4h0M176.3 193.5h0M253.8 340.0h0M227.8 402.7h0M149.3 154.0h0M213.5 183.4h0M173.5 166.6h0M167.9 263.9h0M346.0 143.1h0M136.6 294.2h0M422.1 357.7h0M196.5 369.4h0M291.2 146.8h0M153.3 114.1h0M185.7 165.7h0M192.0 345.7h0M459.8 280.6h0M174.0 366.9h0M173.1 135.9h0M421.2 161.9h0M110.4 216.7h0M400.4 288.2h0M284.0 285.2h0M362.1 158.3h0M439.7 355.7h0M396.1 92.3h0M387.2 119.0h0M202.7 89.2h0M423.4 205.2h0M430.8 145.7h0M235.9 111.0h0M131.7 309.6h0M119.1 169.5h0M162.3 97.8h0M213.3 382.4h0M381.4 226.3h0M226.2 227.1h0M258.4 353.4h0M363.0 122.3h0M457.5 170.3h0M442.4 311.6h0M253.5 83.2h0M161.3 148.9h0M236.2 182.7h0M247.9 102.2h0M432.4 199.0h0M454.0 317.3h0M339.2 381.4h0M251.9 227.2h0M264.4 133.3h0M329.2 351.0h0M353.4 204.3h0M354.9 110.5h0M168.1 249.2h0M169.6 234.8h0M355.2 106.6h0M308.4 221.2h0M431.7 197.3h0M300.3 153.2h0M216.9 126.9h0M196.7 371.2h0M286.2 326.0h0M364.4 103.4h0M365.1 104.8h0M212.1 134.8h0M167.2 235.2h0M400.6 146.7h0M159.5 227.7h0M374.6 74.6h0M212.1 367.5h0M464.4 144.5h0M348.8 363.8h0M227.6 148.0h0M243.1 384.0h0M413.2 252.3h0M449.1 227.0h0M213.1 384.0h0M349.6 110.3h0M296.4 49.9h0M160.4 299.4h0M154.0 335.7h0M426.9 143.3h0M425.9 104.3h0M163.5 113.9h0M416.7 345.9h0M175.1 231.0h0M284.8 234.8h0M375.7 158.2h0M269.4 229.7h0M354.0 111.0h0M102.4 171.1h0M146.0 278.7h0M92.7 246.3h0M224.6 121.4h0M443.2 199.4h0M352.2 391.0h0M214.4 178.5h0M437.5 210.7h0M325.4 363.3h0M479.1 240.9h0M198.0 358.4h0M144.2 168.7h0M157.8 281.9h0M309.5 88.1h0M313.5 193.9h0M391.5 380.5h0M305.3 409.1h0M276.5 185.6h0M423.6 252.5h0M208.9 74.3h0M358.3 404.3h0M344.2 399.6h0M417.7 257.9h0M177.6 89.3h0M350.8 252.5h0M225.2 294.4h0M302.2 49.4h0M134.0 107.1h0M192.0 95.1h0M375.4 353.3h0M159.0 232.7h0M173.6 365.2h0M424.1 113.1h0M166.0 301.4h0M293.5 308.2h0M132.5 345.4h0M397.4 280.2h0M337.1 183.7h0M289.3 377.8h0M277.2 252.6h0M302.2 355.3h0M191.0 161.4h0M140.7 283.7h0M276.2 66.4h0M302.1 170.5h0M236.6 280.5h0M393.7 105.1h0M101.5 251.4h0M402.5 110.7h0M404.8 267.0h0M270.2 169.6h0M112.0 293.2h0M262.5 407.8h0M470.2 167.6h0M188.2 241.7h0M326.1 83.9h0M274.4 217.8h0M290.5 412.3h0M457.1 257.6h0M306.8 336.1h0M186.7 146.8h0M294.2 222.6h0M288.5 417.8h0M185.7 257.7h0M329.7 377.0h0M417.8 342.3h0M332.7 262.1h0M126.3 276.3h0M193.2 165.9h0M325.0 334.0h0M179.0 168.5h0M331.4 234.3h0M113.7 164.2h0M172.9 313.5h0M97.9 242.0h0M192.8 295.3h0M228.7 156.4h0M258.0 350.3h0M418.2 232.5h0M166.5 122.6h0M288.8 274.6h0M106.5 276.5h0M180.8 286.3h0M228.9 214.7h0M175.6 100.7h0M279.0 416.5h0M135.3 189.3h0M237.2 275.2h0M281.0 345.4h0M466.0 266.9h0M320.1 191.6h0M199.3 342.4h0M485.2 221.1h0M194.5 288.3h0M367.0 339.0h0M266.0 331.9h0M251.2 321.8h0M209.1 346.6h0M174.1 325.7h0M356.8 310.6h0M357.1 225.8h0M370.6 65.4h0M105.7 287.5h0M234.8 199.8h0M387.4 123.5h0M435.2 200.6h0M396.1 234.0h0M425.1 280.3h0M227.7 368.8h0M343.3 95.5h0M95.7 241.5h0M322.8 376.7h0M282.7 399.4h0M263.0 228.7h0M220.9 89.9h0M432.9 337.2h0M358.6 240.2h0M293.1 141.9h0M423.9 262.1h0M304.4 76.4h0M249.1 133.6h0M246.2 367.7h0M260.6 240.6h0M358.6 342.5h0M255.4 86.6h0M424.6 97.1h0M270.6 315.7h0M447.0 149.9h0M118.2 198.2h0M376.0 391.9h0M188.4 297.2h0M292.7 295.7h0M299.2 70.2h0M168.9 193.0h0M296.2 286.1h0M337.6 343.9h0M97.9 276.0h0M305.9 237.3h0M201.0 178.3h0M413.8 281.8h0M464.8 256.3h0M351.4 175.2h0M455.7 232.4h0M396.1 334.4h0M491.2 224.0h0M323.5 50.3h0M202.5 167.1h0M279.4 217.2h0M304.0 81.3h0M462.7 298.2h0M382.4 241.3h0M436.4 160.9h0M200.8 133.5h0M466.2 293.9h0M155.4 283.5h0M162.0 274.8h0M267.0 196.3h0M259.1 392.7h0M119.6 269.0h0M155.7 297.5h0M130.9 227.9h0M272.7 122.9h0M336.2 252.3h0M447.9 260.1h0M392.9 81.2h0M247.0 262.7h0M376.7 241.2h0M399.3 357.7h0M253.1 328.6h0M390.4 70.3h0M406.4 229.0h0M219.9 334.5h0M359.7 146.2h0M252.4 413.4h0M381.5 225.7h0M305.5 326.5h0M296.7 295.3h0M206.5 205.2h0M291.1 67.0h0M358.6 346.1h0M305.1 395.7h0M310.8 352.9h0M318.7 216.8h0M414.4 387.9h0M324.1 208.0h0M446.6 329.4h0M195.2 259.7h0M263.1 234.1h0M163.5 234.2h0M294.4 83.4h0M101.3 288.0h0M233.6 101.5h0M212.0 141.4h0M286.4 103.4h0M322.4 213.3h0M485.4 242.4h0M237.5 390.7h0M197.8 375.3h0M305.3 227.6h0M438.3 166.9h0M304.4 225.5h0M184.2 209.8h0M355.3 86.3h0M320.0 363.2h0M398.9 359.8h0M166.9 231.5h0M245.7 266.9h0M144.6 220.7h0M167.9 371.4h0M212.1 103.7h0M350.0 329.2h0M441.4 325.4h0M410.8 134.8h0M139.8 161.9h0M332.6 152.5h0M300.5 295.4h0M386.6 81.3h0M202.8 107.5h0M284.5 72.4h0M192.4 374.5h0M313.7 268.0h0M252.5 83.8h0M244.9 330.3h0M360.1 117.3h0M222.1 94.8h0M335.0 387.1h0M447.6 220.1h0M400.7 284.5h0M290.3 178.7h0M139.0 149.1h0M131.1 291.1h0M114.3 321.5h0M455.3 341.3h0M159.3 342.2h0M403.9 231.2h0M274.1 323.1h0M412.7 187.6h0M170.7 109.2h0M116.0 259.9h0M277.8 230.5h0M221.3 150.2h0M327.7 375.7h0M345.5 218.1h0M375.5 340.8h0M285.0 112.4h0M236.7 87.3h0M142.1 280.2h0M333.2 175.4h0M206.3 394.7h0M231.0 307.4h0M484.0 237.7h0M388.4 255.3h0M422.6 325.2h0M316.9 110.7h0M159.9 142.7h0M170.4 267.7h0M281.4 115.3h0M319.9 170.7h0M90.7 271.7h0M400.6 159.9h0M336.5 128.0h0M201.0 380.0h0M125.5 201.6h0M330.3 157.0h0M155.4 367.6h0M342.4 71.2h0M347.3 344.1h0M406.1 115.5h0M303.0 358.7h0M173.0 136.4h0M320.0 422.2h0M223.1 356.0h0M222.3 346.3h0M127.7 297.0h0M138.5 220.1h0M125.2 294.9h0M130.6 159.5h0M438.7 348.3h0M394.4 201.3h0M225.6 291.5h0M402.5 280.0h0M321.4 68.6h0M313.3 279.1h0M177.3 287.6h0M274.6 310.6h0M430.4 150.1h0M274.0 315.5h0M385.7 166.5h0M218.2 302.6h0M427.7 209.1h0M308.8 103.7h0M354.0 157.6h0M137.6 276.1h0M401.4 127.7h0M477.0 277.8h0M89.8 254.0h0M246.5 85.4h0M378.1 92.7h0M255.0 236.5h0M428.4 184.1h0M177.7 69.7h0M252.3 221.8h0M165.7 345.4h0M105.1 189.4h0M322.0 354.8h0M392.9 113.1h0M362.7 118.3h0M293.6 323.4h0M355.2 194.9h0M398.2 150.8h0M300.7 143.8h0M136.9 274.4h0M137.5 236.9h0M447.7 111.3h0M369.5 369.6h0M452.4 188.9h0M153.5 222.2h0M360.5 347.7h0M216.2 294.2h0M319.0 96.3h0M301.4 71.9h0M293.5 180.9h0M137.5 348.1h0M100.7 187.4h0M184.8 99.2h0M294.3 411.9h0M190.7 149.1h0M326.9 117.9h0M295.6 156.7h0M196.1 263.4h0M343.7 161.2h0M417.7 336.0h0M293.0 118.4h0M363.8 303.5h0M276.4 398.5h0M322.2 395.4h0M167.3 264.9h0M487.1 205.4h0M351.1 371.8h0M271.0 251.7h0M319.3 346.6h0M296.1 323.4h0M281.0 95.0h0M220.2 66.1h0M285.2 154.3h0M260.8 417.3h0M197.1 281.4h0M383.6 194.2h0M436.7 249.8h0M280.1 148.0h0M434.3 114.4h0M207.6 370.9h0M155.9 183.0h0M344.9 135.0h0M410.7 133.7h0M108.3 265.1h0M389.6 121.9h0M109.9 187.2h0M138.9 140.7h0M192.5 63.6h0M407.7 357.5h0M380.1 297.3h0M475.9 190.3h0M201.4 166.5h0M425.4 329.4h0M305.2 410.3h0M322.0 366.6h0M290.1 40.5h0M327.4 209.7h0M228.8 346.7h0M192.8 96.8h0M243.2 364.9h0M186.9 224.1h0M364.8 156.9h0M413.2 165.0h0M295.2 260.4h0M350.0 273.5h0M170.2 337.6h0M367.6 160.2h0M382.6 119.3h0M431.7 163.7h0M262.3 320.8h0M298.5 305.5h0M279.6 295.9h0M300.2 343.9h0M265.2 399.6h0M307.0 247.8h0M245.5 163.5h0M358.7 204.8h0M264.7 96.6h0M225.8 82.8h0M440.9 182.7h0M273.9 314.1h0M138.8 208.4h0M163.8 144.6h0M253.3 187.7h0M88.2 234.0h0M350.0 246.8h0M268.8 79.9h0M310.5 122.5h0M307.6 296.9h0M425.5 356.9h0M399.8 129.8h0M412.4 299.3h0M406.8 250.4h0M225.7 117.8h0M453.5 338.4h0M315.5 418.1h0M463.6 266.2h0M429.5 356.1h0M429.5 154.9h0M476.9 159.0h0M342.6 87.7h0M408.9 224.6h0M148.2 343.8h0M245.6 304.0h0M331.1 92.5h0M434.9 368.2h0M312.7 100.5h0M446.8 272.0h0M412.8 285.9h0M389.0 157.8h0M142.1 157.3h0M347.6 140.5h0M328.7 108.3h0M183.8 295.4h0M442.7 365.7h0M447.6 138.3h0M299.1 295.0h0M310.5 389.8h0M269.7 89.4h0M196.1 313.0h0M340.9 353.2h0M342.7 307.0h0M112.5 239.2h0M298.4 135.4h0M453.7 209.9h0M480.3 183.2h0M155.0 332.0h0M383.9 310.1h0M243.9 172.7h0M444.7 223.8h0M429.3 322.3h0M306.0 121.9h0M477.6 174.4h0M128.6 329.3h0M123.5 159.1h0M258.8 121.5h0M286.7 341.3h0M205.6 344.9h0M320.0 274.5h0M170.6 341.2h0M329.3 323.4h0M303.5 49.4h0M125.5 326.6h0M407.5 324.4h0M246.9 188.8h0M191.9 81.1h0M115.9 306.7h0M275.6 221.3h0M450.8 117.8h0M111.0 291.4h0M351.0 374.4h0M177.5 282.7h0M326.8 148.2h0M389.1 336.6h0M356.3 138.8h0M444.3 313.0h0M393.8 327.1h0M251.0 70.1h0M372.0 160.6h0M133.0 137.4h0M440.9 304.4h0M348.5 212.0h0M438.3 354.2h0M155.1 324.7h0M212.0 163.3h0M211.3 149.8h0M139.6 294.5h0M114.8 288.0h0M260.6 268.3h0M123.3 161.4h0M393.7 86.9h0M318.3 420.2h0M150.2 265.5h0M357.5 95.4h0M326.1 87.0h0M228.2 166.4h0M291.7 398.2h0M148.2 240.4h0M209.6 334.9h0M218.4 178.0h0M298.3 88.7h0M221.8 83.5h0M416.1 217.3h0M216.5 143.3h0M310.0 42.7h0M279.6 77.8h0M238.9 369.5h0M216.9 238.4h0M148.2 151.1h0M202.9 145.4h0M292.6 34.7h0M180.7 188.2h0M218.0 192.1h0M161.7 143.0h0M227.4 214.5h0M387.0 335.8h0M381.2 89.2h0M252.4 364.5h0M295.8 158.3h0M217.5 137.3h0M198.8 266.1h0M345.0 167.0h0M180.4 367.6h0M218.4 80.2h0M264.8 298.3h0M301.5 150.5h0M431.5 132.5h0M361.9 77.9h0M313.0 353.9h0M140.1 174.7h0M279.6 331.1h0M269.2 184.4h0M412.0 364.7h0M422.6 158.3h0M348.4 165.8h0M269.1 63.2h0M411.2 344.0h0M477.5 181.0h0M409.6 357.6h0M406.5 110.8h0M188.8 227.4h0M210.3 335.7h0M295.7 53.7h0M246.1 253.3h0M136.3 253.2h0M120.4 196.6h0M106.2 185.5h0M425.0 363.9h0M160.3 304.5h0M342.4 403.5h0M391.9 315.2h0M335.6 193.0h0M248.1 213.2h0M207.3 288.6h0M122.1 323.3h0M383.7 283.6h0M393.5 100.7h0M169.8 281.8h0M409.7 256.6h0M195.7 181.9h0M314.7 296.4h0M426.4 165.8h0M336.1 389.3h0M284.4 50.6h0M240.8 82.5h0M131.1 179.4h0M418.7 367.3h0M98.3 194.9h0M405.8 129.7h0M258.9 369.0h0M114.5 207.1h0M163.2 194.3h0M106.5 278.6h0M181.8 288.7h0M188.3 271.5h0M349.9 238.2h0M407.8 77.0h0M399.7 289.6h0M161.5 126.9h0M195.1 107.1h0M369.4 101.6h0M431.8 293.7h0M236.8 126.4h0M472.3 305.3h0M344.4 279.5h0M312.5 373.1h0M233.8 140.6h0M298.9 355.1h0M271.0 41.6h0M435.3 215.1h0M185.4 291.9h0M271.1 350.8h0M465.9 252.3h0M402.1 232.2h0M411.2 289.4h0M135.4 349.8h0M139.3 330.4h0M329.5 383.3h0M195.9 216.6h0M473.6 271.9h0M279.8 347.5h0M446.2 254.0h0M380.1 297.1h0M197.3 163.3h0M390.5 241.3h0M228.7 60.4h0M175.2 275.2h0M336.4 42.7h0M253.3 103.2h0M458.3 226.8h0M143.5 270.5h0M287.0 111.0h0M268.9 169.8h0M392.4 225.3h0M106.1 225.8h0M208.5 79.6h0M257.2 146.0h0M222.5 334.8h0M464.5 178.5h0M218.1 168.1h0M286.4 121.9h0M275.6 245.7h0M199.9 121.1h0M346.5 103.7h0M370.3 360.0h0M397.4 243.7h0M98.9 206.1h0M426.1 275.1h0M287.1 169.6h0M292.3 236.6h0M459.9 208.5h0M259.4 131.8h0M413.3 343.2h0M268.1 267.1h0M237.3 375.1h0M417.2 274.0h0M229.7 308.8h0M177.4 354.3h0M419.9 186.4h0M119.3 218.3h0M226.3 318.0h0M345.5 341.9h0M274.5 134.0h0M103.0 301.0h0M435.9 276.0h0M198.9 70.2h0M153.9 365.6h0M144.6 193.0h0M440.5 288.1h0M349.5 330.4h0M325.1 230.9h0M330.1 181.4h0M227.4 53.3h0M343.3 364.4h0M273.7 109.8h0M158.0 227.3h0M167.1 177.4h0M233.8 298.2h0M333.6 115.4h0M259.9 87.8h0M96.1 242.6h0M153.1 120.7h0M211.8 394.8h0M122.3 309.9h0M192.9 213.3h0M317.3 380.8h0M184.4 185.7h0M382.2 166.6h0M128.0 192.6h0M140.5 328.2h0M465.4 151.6h0M245.5 344.3h0M134.2 297.9h0M411.0 146.3h0M164.9 94.1h0M405.7 75.4h0M313.3 142.2h0M252.4 357.8h0M207.5 57.5h0M257.3 396.0h0M299.2 222.2h0M269.6 239.6h0M323.2 247.9h0M330.9 235.6h0M197.6 93.6h0M424.4 89.5h0M347.5 89.7h0M274.5 212.5h0M462.3 162.6h0M207.6 91.9h0M97.9 270.8h0M192.4 376.6h0M290.3 85.5h0M415.8 292.1h0M374.6 78.8h0M379.7 112.2h0M285.0 262.5h0M304.6 146.2h0M361.6 147.9h0M221.3 221.0h0M333.5 410.5h0M234.3 278.6h0M248.1 390.0h0M295.1 180.5h0M175.0 328.2h0M340.0 303.9h0M212.0 236.6h0M472.8 166.9h0M248.6 398.4h0M289.7 377.2h0M149.2 362.6h0M336.3 95.8h0M400.4 279.5h0M365.2 232.3h0M177.0 368.8h0M247.6 267.2h0M108.7 199.9h0M481.8 183.5h0M215.7 153.4h0M405.0 188.6h0M184.0 222.7h0M325.6 224.5h0M386.7 371.7h0M216.7 188.9h0M199.8 346.3h0M457.9 322.7h0M330.6 418.1h0M322.9 345.0h0M279.4 226.6h0M346.2 299.3h0M296.1 75.0h0M378.0 258.6h0M343.3 246.9h0M179.4 131.0h0M441.8 210.4h0M123.9 251.3h0M319.5 301.2h0M181.6 232.6h0M457.8 238.4h0M339.5 50.8h0M365.9 282.2h0M370.8 319.8h0M404.8 327.1h0M147.1 341.5h0M291.0 321.3h0M165.1 164.9h0M184.3 304.5h0M415.7 370.8h0M400.5 149.6h0M218.2 350.9h0M407.3 234.3h0M267.2 98.2h0M217.7 104.6h0M397.2 382.2h0M105.7 256.9h0M290.4 313.3h0M310.2 162.9h0M438.9 260.5h0M329.6 157.7h0M317.1 336.1h0M235.6 175.5h0M305.6 205.0h0M184.1 110.8h0M291.9 390.2h0M345.3 227.1h0M297.7 47.6h0M360.3 392.0h0M419.1 127.9h0M174.5 333.3h0M101.5 259.9h0M279.0 363.4h0M257.7 332.5h0M210.4 269.8h0M140.1 170.5h0M178.1 336.5h0M215.0 369.6h0M218.4 100.8h0M227.5 120.9h0M300.1 393.8h0M149.5 122.0h0M265.7 408.7h0M274.3 289.7h0M108.8 296.9h0M253.4 170.1h0M142.0 289.9h0M415.7 224.3h0M427.0 236.6h0M155.6 337.8h0M321.5 208.5h0M166.3 259.0h0M454.1 136.4h0M411.8 315.1h0M200.0 231.6h0M198.2 83.2h0M191.6 281.9h0M256.5 85.1h0M292.8 301.8h0M274.8 421.7h0M339.1 242.2h0M317.7 84.8h0M421.2 201.0h0M347.9 155.8h0M297.3 131.3h0M165.3 367.6h0M432.0 140.7h0M176.4 140.8h0M257.3 47.4h0M193.1 74.1h0M119.2 287.6h0M322.7 117.9h0M190.7 130.0h0M299.0 396.7h0M400.4 211.8h0M308.4 398.9h0M180.7 309.2h0M375.6 172.0h0M448.6 336.8h0M173.3 181.2h0M356.6 404.0h0M108.3 181.1h0M240.0 96.4h0M467.0 184.2h0M168.0 257.2h0M353.8 260.6h0M236.2 149.1h0M233.3 215.1h0M152.9 352.1h0M381.1 247.4h0M154.6 121.4h0M171.3 190.0h0M161.2 222.6h0M164.3 215.5h0M280.3 81.9h0M229.9 355.8h0M332.8 382.2h0M135.8 166.7h0M482.6 291.0h0M220.0 383.2h0M305.3 226.6h0M345.9 81.1h0M432.2 179.1h0M478.4 216.8h0M366.8 225.7h0M258.3 133.7h0M359.6 208.8h0M348.6 128.8h0M398.3 160.8h0M246.3 303.4h0M313.2 63.7h0M380.9 127.4h0M94.5 254.3h0M403.0 128.5h0M142.8 343.5h0M307.2 149.2h0M96.7 278.0h0M472.7 280.4h0M371.1 303.2h0M181.5 315.0h0M220.4 338.4h0M340.7 320.3h0M247.9 238.2h0M382.1 299.3h0M307.8 69.0h0M221.7 153.6h0M334.1 280.5h0M313.0 243.7h0M331.8 379.1h0M317.6 190.4h0M234.4 294.2h0M226.1 414.3h0M407.9 380.9h0M468.0 242.6h0M165.3 231.5h0M434.1 107.9h0M441.0 272.5h0M301.5 86.7h0M356.4 166.0h0M369.7 127.3h0M380.8 338.0h0M152.3 324.8h0M482.4 167.5h0M186.0 135.7h0M481.6 168.3h0M394.0 381.5h0M286.8 382.1h0M134.2 125.9h0M207.3 211.4h0M303.6 360.1h0M355.7 77.2h0M457.7 199.4h0M333.6 293.1h0M168.4 220.1h0M453.7 254.2h0M188.9 233.8h0M375.9 116.5h0M284.4 209.1h0M377.3 153.8h0M236.2 49.6h0M312.0 382.6h0M119.4 310.8h0M146.3 228.0h0M170.1 149.5h0M172.0 228.0h0M202.7 293.3h0M487.9 205.6h0M457.6 169.0h0M442.2 133.1h0M310.1 187.8h0M252.9 227.0h0M276.5 43.2h0M186.8 256.1h0M107.3 207.3h0M158.0 229.1h0M158.8 287.3h0M332.8 286.2h0M489.2 264.5h0M476.3 298.7h0M298.1 253.1h0M183.4 158.7h0M114.1 184.5h0M420.0 312.3h0M310.4 345.0h0M368.5 244.7h0M409.8 109.0h0M95.3 229.4h0M265.2 210.5h0M271.0 265.6h0M380.3 344.7h0M111.5 206.0h0M149.7 246.5h0M311.4 296.4h0M203.8 320.6h0M353.1 131.2h0M357.8 209.3h0M190.0 273.8h0M150.8 261.1h0M174.6 325.8h0M399.2 102.7h0M360.6 296.7h0M220.5 273.8h0M452.1 260.7h0M317.9 256.8h0M125.2 141.8h0M399.0 319.9h0M207.4 97.9h0M389.6 254.4h0M177.8 390.6h0M294.7 198.3h0M336.7 319.8h0M200.3 270.2h0M379.7 392.5h0M345.2 284.4h0M144.3 359.4h0M245.5 312.6h0M314.3 355.6h0M107.7 218.2h0M147.7 224.3h0M423.5 280.6h0M452.8 168.6h0M328.6 103.7h0M171.4 121.4h0M330.4 222.7h0M184.7 252.2h0M398.0 199.4h0M239.5 378.3h0M255.2 62.6h0M230.9 352.6h0M162.2 97.6h0M121.0 164.4h0M199.1 355.2h0M195.3 366.6h0M437.2 294.7h0M451.3 137.3h0M277.5 302.8h0M263.9 223.0h0M371.6 162.5h0M122.0 304.7h0M472.7 176.4h0M251.2 120.4h0M214.0 88.9h0M415.9 354.7h0M226.7 57.6h0M166.4 173.4h0M114.6 307.0h0M119.9 317.0h0M360.0 291.5h0M267.3 64.4h0M458.1 274.7h0M349.4 71.7h0M314.7 118.5h0M327.4 57.2h0M374.7 118.0h0M487.1 188.8h0M173.8 381.8h0M369.8 122.0h0M462.9 213.1h0M303.7 159.4h0M319.4 85.3h0M412.8 146.1h0M349.3 405.3h0M295.4 250.8h0M357.5 278.6h0M359.6 95.5h0M172.8 325.7h0M331.5 365.0h0M361.0 365.2h0M354.1 325.7h0M180.4 355.4h0M310.7 408.7h0M418.3 296.9h0M157.8 324.5h0M244.3 56.4h0M338.9 257.0h0M114.1 166.2h0M181.4 354.3h0M188.8 216.5h0M188.8 107.6h0M142.5 274.6h0M177.6 230.0h0M117.7 302.2h0M333.1 36.9h0M285.2 396.4h0M328.6 216.9h0M307.8 154.8h0M220.6 320.4h0M194.2 69.3h0M213.6 121.9h0M207.9 379.6h0M180.8 110.3h0M140.0 347.6h0M162.1 367.5h0M172.5 207.5h0M444.9 291.9h0M119.1 335.1h0M292.2 339.6h0M231.3 182.1h0M298.3 404.5h0M191.8 76.4h0M401.8 186.9h0M357.6 396.0h0M381.2 372.9h0M157.6 124.3h0M206.0 385.8h0M423.3 305.9h0M410.5 334.6h0M251.8 139.7h0M180.9 271.7h0M302.1 196.4h0M299.8 282.5h0M254.9 199.0h0M197.6 274.4h0M351.6 87.0h0M404.3 183.6h0M251.2 398.0h0M226.8 278.7h0M223.9 153.2h0M206.5 170.3h0M317.7 355.6h0M403.2 111.4h0M389.7 124.9h0M133.8 119.8h0M134.8 259.1h0M186.1 359.1h0M418.8 195.0h0M327.8 92.9h0M400.7 225.7h0M352.0 181.4h0M301.5 226.4h0M170.7 311.7h0M117.4 135.8h0M369.4 261.1h0M147.4 201.9h0M231.2 233.7h0M346.2 397.8h0M231.4 357.7h0M361.1 95.1h0M480.0 255.6h0M440.5 203.6h0M385.1 344.6h0M171.9 196.9h0M409.5 269.9h0M124.1 205.9h0M308.7 332.3h0M146.9 219.3h0M273.7 85.4h0M292.6 334.8h0M272.8 310.7h0M215.6 346.0h0M150.3 112.8h0M154.7 222.1h0M167.4 165.6h0M147.0 216.6h0M480.3 197.9h0M439.6 354.2h0M337.1 409.2h0M256.6 115.4h0M323.4 306.1h0M372.0 140.8h0M389.8 145.2h0M304.2 73.1h0M155.4 180.3h0M391.8 137.5h0M436.3 165.4h0M286.3 232.1h0M454.5 245.7h0M450.8 219.7h0M262.1 396.5h0M306.3 303.0h0M381.5 199.0h0M483.2 251.4h0M234.3 356.7h0M205.7 171.7h0M339.3 80.1h0M327.8 291.6h0M425.3 112.4h0M347.1 277.6h0M143.6 196.0h0M261.3 104.7h0M329.0 156.3h0M430.3 212.5h0M173.2 189.3h0M225.5 103.2h0M437.0 100.6h0M165.6 353.4h0M306.1 154.1h0M336.4 298.8h0M356.3 402.3h0M383.7 285.6h0M410.2 241.5h0M382.6 193.7h0M404.8 396.7h0M302.6 351.0h0M188.8 351.0h0M357.0 329.5h0M200.8 250.6h0M419.9 86.9h0M142.6 296.5h0M304.0 326.8h0M203.1 143.6h0M219.8 142.4h0M165.7 220.3h0M268.0 369.7h0M354.3 214.6h0M271.0 344.1h0M447.2 321.0h0M357.1 245.1h0M302.2 299.9h0M296.6 301.9h0M161.9 95.8h0M352.8 122.5h0M403.0 315.6h0M125.3 214.7h0M463.4 318.7h0M394.9 325.5h0M203.7 339.1h0M340.0 286.2h0M467.5 179.0h0M369.0 123.6h0M221.3 299.3h0M221.1 235.1h0M355.1 210.4h0M232.1 187.2h0M353.3 261.4h0M211.8 62.3h0M104.7 185.3h0M289.7 142.8h0M432.0 130.4h0M452.0 196.1h0M176.9 119.5h0M246.2 152.7h0M205.2 393.7h0M449.0 220.5h0M443.8 298.8h0M397.7 247.7h0M255.6 292.5h0M258.2 299.9h0M284.9 381.1h0M421.8 378.6h0M122.0 223.2h0M300.7 181.0h0M400.0 300.7h0M136.8 197.4h0M187.0 394.8h0M357.0 294.5h0M340.8 57.8h0M482.7 252.1h0M326.3 361.2h0M192.6 322.1h0M231.4 294.3h0M387.4 324.7h0M222.5 259.1h0M331.5 82.9h0M423.9 343.5h0M184.1 369.2h0M169.2 94.0h0M344.2 409.4h0M206.4 395.5h0M188.7 338.5h0M120.1 249.4h0M124.7 294.3h0M113.2 277.8h0M188.5 157.0h0M286.8 331.2h0M185.1 230.6h0M386.4 138.7h0M307.4 399.8h0M204.7 308.5h0M383.2 149.0h0M175.7 101.8h0M218.4 217.1h0M415.9 246.9h0M405.4 183.4h0M368.2 348.6h0M464.8 221.1h0M438.5 185.5h0M413.1 126.7h0M384.9 315.8h0M240.8 93.7h0M442.7 325.7h0M438.6 119.8h0M239.0 390.3h0M215.7 397.7h0M369.8 323.8h0M292.5 220.5h0M264.6 218.7h0M388.8 152.5h0M139.9 194.6h0M323.9 246.9h0M386.7 206.6h0M197.0 97.7h0M233.0 142.2h0M257.4 93.2h0M169.1 250.8h0M270.9 158.1h0M433.2 366.5h0M405.9 318.4h0M172.2 127.1h0M270.4 58.3h0M319.3 312.7h0M140.4 256.1h0M370.5 400.1h0M188.6 334.0h0M369.8 208.6h0M234.8 392.1h0M353.2 143.6h0M477.1 260.3h0M258.9 333.9h0M332.8 189.0h0M388.8 370.3h0M264.9 308.8h0M275.5 125.7h0M284.9 265.6h0M295.8 337.5h0M212.0 59.9h0M446.2 282.9h0M308.3 76.0h0M431.7 331.5h0M467.7 216.5h0M294.0 201.4h0M280.1 192.7h0M380.7 100.9h0M197.9 294.2h0M194.0 188.2h0M435.4 292.8h0M419.3 210.8h0M214.0 343.1h0M111.2 169.3h0M418.3 95.4h0M270.3 148.1h0M304.2 97.3h0M154.2 367.6h0M171.3 163.0h0M325.6 179.0h0M257.9 180.4h0M266.9 295.9h0M279.6 56.2h0M197.3 310.5h0M114.9 246.1h0M164.7 153.9h0M415.2 248.3h0M338.5 294.4h0M125.4 226.3h0M402.7 329.3h0M192.9 295.5h0M334.3 96.2h0M284.3 139.7h0M358.8 303.9h0M203.9 256.6h0M368.5 79.3h0M336.3 298.1h0M416.8 369.7h0M278.7 154.4h0M209.0 176.0h0M320.9 50.5h0M455.8 250.2h0M138.1 109.0h0M443.1 143.4h0M448.2 216.1h0M339.4 278.6h0M382.4 253.8h0M273.6 62.3h0M221.8 339.6h0M303.0 72.1h0M228.6 367.7h0M339.8 75.5h0M403.9 262.0h0M374.1 377.9h0M209.8 86.2h0M210.9 337.9h0M116.1 173.0h0M271.3 289.8h0M346.6 229.8h0M191.7 325.1h0M423.5 346.3h0M285.0 274.0h0M300.9 43.3h0M177.7 218.0h0M368.6 375.1h0M241.5 124.4h0M186.6 232.9h0M415.9 197.7h0M242.5 150.8h0M352.2 209.5h0M345.0 377.5h0M264.3 166.7h0M286.4 159.1h0M290.6 331.0h0M383.1 117.2h0M456.2 179.4h0M441.0 123.6h0M261.0 167.9h0M385.1 117.4h0M420.3 315.2h0M153.9 95.0h0M411.7 248.4h0M363.0 134.5h0M149.7 148.1h0M108.8 198.6h0M270.6 116.1h0M424.5 258.8h0M393.7 264.2h0M300.4 201.6h0M337.7 248.5h0M174.8 87.0h0M384.7 77.2h0M293.4 53.9h0M381.3 389.5h0M357.7 170.7h0M368.6 281.5h0M312.4 231.1h0M428.5 230.2h0M286.6 43.8h0M184.6 145.5h0M157.1 336.4h0M455.2 290.1h0M329.7 301.4h0M322.6 369.4h0M388.8 100.9h0M209.2 118.3h0M371.0 264.7h0M292.1 212.1h0M286.3 229.3h0M384.1 108.4h0M481.5 285.3h0M256.0 38.6h0M326.2 370.3h0M443.4 146.8h0M337.6 50.5h0M218.1 396.9h0M408.2 229.0h0M245.2 138.0h0M235.3 138.1h0M315.5 159.7h0M250.4 200.0h0M171.7 261.6h0M107.6 177.8h0M155.5 217.2h0M353.8 205.7h0M441.9 103.9h0M357.9 129.8h0M274.4 102.1h0M106.0 179.5h0M348.4 379.2h0M133.4 317.6h0M345.1 131.0h0M355.2 154.9h0M420.8 155.1h0M309.3 45.4h0M321.8 71.3h0M288.8 92.6h0M202.9 176.5h0M185.1 78.4h0M276.3 69.5h0M103.1 241.6h0M456.4 132.5h0M238.8 171.8h0M386.6 288.8h0M168.8 267.4h0M145.4 320.3h0M266.2 89.0h0M291.0 312.0h0M203.4 90.2h0M166.1 345.8h0M173.6 260.1h0M291.5 370.1h0M288.9 153.5h0M93.3 250.3h0M316.7 138.8h0M332.7 370.1h0M383.3 70.0h0M480.3 279.0h0M426.5 342.6h0M318.7 154.3h0M329.2 133.7h0M170.3 246.9h0M223.3 292.5h0M121.8 268.6h0M250.1 44.2h0M169.3 156.0h0M156.9 130.4h0M316.8 387.1h0M315.5 310.9h0M291.4 327.3h0M284.0 50.0h0M338.2 390.3h0M206.5 104.0h0M208.2 374.9h0M169.6 170.8h0M312.1 174.1h0M197.3 264.7h0M244.6 121.5h0M210.9 177.8h0M259.2 313.5h0M215.5 169.2h0M254.2 366.0h0M151.0 310.4h0M102.5 291.0h0M324.9 341.9h0M362.6 237.7h0M193.4 397.5h0M170.8 117.9h0M215.9 133.7h0M351.1 318.0h0M262.5 411.8h0M260.7 379.5h0M405.4 386.8h0M370.3 82.5h0M204.6 371.3h0M309.5 270.6h0M231.1 220.1h0M193.9 381.7h0M127.6 285.8h0M243.1 73.2h0M184.4 274.0h0M201.0 277.0h0M403.4 313.4h0M336.1 420.0h0M353.7 345.1h0M302.3 333.1h0M223.5 52.0h0M172.5 308.8h0M453.0 155.1h0M151.7 232.9h0M445.6 235.8h0M203.4 190.1h0M101.3 264.1h0M222.6 167.1h0M238.4 62.3h0M188.0 203.5h0M174.2 175.3h0M262.3 190.9h0M219.0 190.5h0M185.7 95.4h0M338.5 354.3h0M212.4 254.8h0M238.4 192.2h0M357.5 223.4h0M306.5 377.2h0M388.0 233.7h0M261.2 182.6h0M249.5 261.6h0M233.0 374.4h0M415.7 168.1h0M424.9 279.8h0M247.0 99.7h0M300.4 352.5h0M436.8 356.0h0M215.7 111.5h0M379.9 261.3h0M312.9 39.3h0M369.8 251.6h0M136.0 316.4h0M324.7 305.2h0M288.7 299.0h0M216.7 344.8h0M403.9 289.6h0M287.2 218.5h0M313.4 263.4h0M413.3 166.7h0M290.2 331.2h0M289.2 349.8h0M373.0 297.2h0M463.9 271.6h0M259.0 209.6h0M376.2 174.0h0M179.6 286.3h0M397.8 261.5h0M418.0 176.7h0M152.9 196.1h0M317.5 311.1h0M218.0 357.8h0M128.2 237.9h0M318.2 129.4h0M267.7 208.4h0M235.0 327.9h0M308.1 61.1h0M313.7 283.2h0M299.5 316.6h0M244.7 313.9h0M395.2 279.4h0M214.5 370.3h0M204.7 284.3h0M229.8 367.3h0M205.7 323.5h0M263.2 370.5h0M288.1 284.8h0M269.7 124.4h0M185.0 390.0h0M444.8 356.9h0M318.1 343.6h0M292.7 144.0h0M211.7 121.4h0M425.7 210.1h0M180.7 134.7h0M160.8 294.4h0M353.1 163.7h0M112.1 206.1h0M221.6 358.7h0M262.6 58.0h0M227.9 58.2h0M136.8 183.9h0M142.3 335.4h0M436.5 345.9h0M226.9 203.2h0M393.6 365.5h0M247.3 88.8h0M272.4 308.9h0M309.6 43.4h0M400.9 209.3h0M364.1 131.3h0M403.9 367.7h0M432.0 148.3h0M299.6 111.9h0M375.5 379.4h0M157.5 155.1h0M277.0 108.0h0M345.7 84.3h0M268.5 232.7h0M230.5 193.5h0M343.8 208.3h0M119.8 313.1h0M237.8 410.4h0M186.9 301.6h0M314.4 241.0h0M426.8 118.5h0M168.8 384.1h0M235.5 368.8h0M286.9 148.6h0M307.5 178.2h0M226.1 289.6h0M363.0 322.6h0M398.6 212.6h0M129.6 145.1h0M451.2 146.0h0M265.9 143.3h0M179.7 258.8h0M332.9 260.9h0M441.6 305.2h0M169.2 350.6h0M373.3 117.6h0M350.9 234.6h0M319.7 321.0h0M379.1 167.4h0M227.2 333.1h0M264.5 53.7h0M341.7 335.7h0M245.2 133.9h0M407.3 135.1h0M399.7 278.9h0M358.0 366.5h0M364.9 146.1h0M96.9 243.2h0M111.8 162.5h0M226.9 144.5h0M292.7 164.1h0M209.4 193.2h0M324.2 274.6h0M384.5 284.7h0M414.7 170.0h0M415.2 219.7h0M289.1 265.3h0M449.3 221.3h0M290.9 92.9h0M97.5 209.1h0M183.6 276.5h0M125.9 264.6h0M117.7 218.8h0M292.9 212.3h0M168.0 295.5h0M122.3 190.2h0M424.7 165.1h0M449.7 282.7h0M423.2 135.9h0M207.9 314.6h0M325.5 75.3h0M121.5 301.6h0M319.9 62.4h0M312.8 347.5h0M223.4 321.1h0M269.7 111.3h0M368.8 239.7h0M109.8 141.7h0M396.9 279.2h0M295.6 288.9h0M400.0 346.0h0M375.1 132.5h0M214.9 331.1h0M363.5 153.4h0M375.7 190.5h0M135.4 174.9h0M162.9 127.6h0M264.6 279.9h0M209.4 288.6h0M341.8 172.8h0M290.0 45.1h0M297.4 381.3h0M200.8 250.2h0M298.5 315.9h0M330.7 267.1h0M384.3 231.3h0M238.7 193.1h0M206.0 164.4h0M446.2 172.9h0M382.4 285.1h0M93.9 241.4h0M119.3 150.4h0M399.3 98.2h0M376.9 369.4h0M196.3 321.4h0M129.1 156.8h0M324.7 340.7h0M403.4 323.9h0M321.9 417.1h0M166.6 173.4h0M164.9 137.6h0M186.7 143.3h0M391.6 191.7h0M265.8 253.9h0M238.5 223.4h0M342.8 367.1h0M422.6 234.4h0M352.4 295.5h0M350.6 116.6h0M280.2 298.5h0M243.4 248.3h0M293.5 319.1h0M272.5 224.5h0M192.1 107.4h0M249.4 209.2h0M264.2 302.6h0M466.9 310.3h0M327.1 50.8h0M351.2 186.3h0M297.6 168.8h0M125.4 187.9h0M448.7 260.3h0M288.3 227.9h0M126.5 285.0h0M393.6 175.9h0M153.2 158.0h0M438.5 258.2h0M344.7 403.7h0M190.3 275.3h0M232.1 119.0h0M119.5 287.3h0M245.2 268.2h0M133.4 181.4h0M329.3 296.2h0M455.4 275.2h0M216.0 287.2h0M483.3 258.1h0M279.0 52.8h0M305.3 316.7h0M428.0 253.4h0M345.1 318.9h0M403.1 94.0h0M203.0 342.9h0M419.2 352.7h0M364.0 327.7h0M209.1 164.4h0M439.2 240.9h0M142.8 268.8h0M235.1 411.4h0M159.2 196.4h0M299.0 351.6h0M370.0 321.9h0M276.9 359.6h0M249.2 305.1h0M334.8 89.8h0M206.7 226.5h0M455.9 134.3h0M358.4 131.0h0M416.6 126.3h0M317.8 227.6h0M127.6 255.3h0M345.7 374.1h0M234.1 279.3h0M126.4 119.8h0M132.7 188.5h0M269.3 256.2h0M128.0 319.9h0M176.0 248.9h0M375.0 259.3h0M344.8 90.1h0M147.5 90.3h0M113.6 191.3h0M248.9 216.6h0M282.9 307.6h0M167.0 107.3h0M186.0 364.0h0M152.2 100.6h0M400.1 141.1h0M109.6 223.8h0M485.8 214.3h0M229.0 139.2h0M265.3 86.9h0M126.2 151.3h0M130.7 217.5h0M102.3 252.2h0M181.9 186.1h0M179.4 75.8h0M191.0 252.6h0M257.2 172.8h0M197.7 139.2h0M258.7 198.4h0M383.5 214.3h0M198.7 160.2h0M165.4 292.4h0M236.7 210.3h0M472.8 182.0h0M467.8 186.7h0M333.8 337.3h0M293.8 125.2h0M365.0 299.9h0M274.4 173.1h0M362.2 336.0h0M257.6 317.6h0M255.8 80.9h0M164.8 163.4h0M124.6 346.7h0M449.6 289.6h0M457.5 150.7h0M96.0 203.4h0M386.5 84.5h0M411.9 323.3h0M112.8 266.0h0M250.0 151.0h0M212.0 194.2h0M337.0 114.8h0M298.8 357.5h0M148.7 175.5h0M369.1 312.5h0M241.1 316.7h0M183.5 181.7h0M437.6 107.0h0M239.4 331.8h0M253.5 291.9h0M180.6 140.7h0M243.8 274.0h0M244.7 194.3h0M105.3 238.2h0M185.5 367.2h0M150.2 173.0h0M211.9 394.7h0M201.1 369.6h0M100.3 223.3h0M397.6 350.0h0M330.1 300.5h0M374.2 105.3h0M300.2 366.4h0M206.7 99.5h0M432.1 162.4h0M131.3 251.7h0M410.0 267.2h0M104.8 287.4h0M345.9 63.7h0M359.8 313.4h0M116.3 230.5h0M350.5 235.2h0M317.3 52.6h0M310.4 243.7h0M158.9 261.8h0M218.5 392.0h0M442.0 239.2h0M167.1 200.1h0M225.7 156.1h0M124.7 213.0h0M217.5 212.7h0M368.1 181.6h0M217.6 289.9h0M408.5 81.6h0M139.1 280.8h0M392.4 138.3h0M150.0 179.4h0M103.5 309.1h0M266.3 239.6h0M110.3 286.1h0M179.8 233.9h0M155.9 201.3h0M106.0 198.0h0M328.9 253.6h0M301.6 122.9h0M331.8 189.2h0M135.2 219.6h0M244.0 110.1h0M159.1 291.1h0M200.4 317.4h0M359.8 110.9h0M475.2 185.7h0M473.2 150.2h0M372.6 311.5h0M190.5 250.1h0M212.8 224.6h0M217.2 86.2h0M344.8 351.6h0M420.8 136.3h0M402.2 367.9h0M351.4 141.4h0M279.4 376.7h0M345.7 97.6h0M280.2 416.3h0M210.4 353.6h0M181.3 374.8h0M408.2 214.0h0M200.7 265.1h0M391.6 117.1h0M403.8 248.7h0M357.6 143.1h0M160.8 189.4h0M293.0 209.5h0M268.6 358.3h0M296.7 302.9h0M298.6 312.3h0M313.7 200.9h0M443.3 199.6h0M189.1 127.8h0M463.6 152.6h0M462.1 277.4h0M344.1 406.8h0M230.3 309.3h0M305.2 136.4h0M151.1 328.7h0M445.0 332.0h0M404.9 192.8h0M331.4 68.0h0M369.7 204.3h0M256.1 180.3h0M299.9 328.7h0M341.0 119.9h0M250.4 354.0h0M87.6 253.0h0M317.5 265.8h0M383.5 253.0h0M239.7 349.2h0M217.4 212.4h0M146.3 322.2h0M284.4 182.9h0M408.3 316.3h0M362.0 190.7h0M249.4 264.1h0M306.2 119.9h0M231.8 64.8h0M202.5 366.7h0M239.4 311.0h0M267.2 326.6h0M375.1 263.1h0M276.7 406.5h0M364.5 110.0h0M359.1 138.4h0M448.8 331.9h0M413.6 185.2h0M391.9 71.9h0M89.0 230.1h0M341.0 227.0h0M185.7 264.2h0M248.8 393.7h0M352.9 370.7h0M349.4 191.3h0M305.6 111.5h0M369.6 320.5h0M373.9 66.7h0M283.5 188.6h0M233.5 254.0h0M266.2 381.8h0M219.2 50.5h0M263.2 102.0h0M140.4 271.9h0M285.4 382.8h0M363.7 377.8h0M185.8 303.7h0M358.5 249.5h0M277.7 111.1h0M293.0 130.3h0M152.2 296.6h0M342.9 339.8h0M116.9 241.1h0M428.0 251.4h0M149.5 355.2h0M212.7 65.0h0M289.5 254.3h0M453.3 131.7h0M468.4 259.5h0M381.6 198.9h0M421.1 237.3h0M380.0 210.9h0M270.5 69.4h0M365.4 215.0h0M269.3 228.8h0M187.7 161.7h0M302.0 61.5h0M222.9 182.2h0M255.2 381.8h0M429.5 293.1h0M393.5 76.3h0M261.4 340.6h0M310.5 306.8h0M330.6 72.0h0M360.8 386.6h0M173.7 200.2h0M164.9 361.8h0M113.3 198.0h0M305.0 359.2h0M349.1 270.6h0M281.1 103.9h0M396.3 301.3h0M291.8 338.5h0M287.7 371.2h0M159.3 337.4h0M180.1 364.5h0M380.2 119.9h0M243.1 298.0h0M140.3 179.2h0M220.8 56.7h0M138.0 308.9h0M257.7 388.8h0M315.6 42.3h0M258.7 373.3h0M226.8 353.2h0M324.3 157.4h0M112.4 303.9h0M413.6 289.2h0M156.2 141.5h0M451.1 235.1h0M418.0 342.2h0M469.0 209.2h0M186.1 239.8h0M268.5 157.0h0M245.3 139.3h0M356.7 384.9h0M301.0 81.3h0M188.1 302.1h0M268.5 265.0h0M288.1 261.2h0M255.3 97.4h0M99.2 219.5h0M203.2 147.6h0M429.4 274.3h0M230.3 343.9h0M252.4 40.0h0M425.7 156.8h0M409.5 103.8h0M190.8 369.1h0M407.3 292.3h0M203.0 247.4h0M145.0 215.8h0M450.9 203.7h0M421.1 218.5h0M240.4 93.5h0M185.1 255.2h0M231.9 185.7h0M148.4 152.4h0M390.7 370.7h0M335.2 212.9h0M300.9 86.8h0M303.3 98.8h0M168.8 334.8h0M153.2 244.5h0M219.5 119.4h0M304.7 395.6h0M308.5 349.8h0M224.2 187.3h0M173.6 220.3h0M425.1 171.4h0M137.7 319.0h0M215.7 257.0h0M148.3 167.0h0M186.1 185.0h0M267.6 288.2h0M272.2 180.4h0M439.6 101.8h0M280.9 225.0h0M117.9 285.4h0M405.7 290.6h0M238.0 166.3h0M328.7 117.0h0M168.7 81.7h0M292.0 275.3h0M255.8 72.0h0M385.1 168.9h0M105.7 247.5h0M200.4 287.9h0M142.4 123.3h0M226.5 396.0h0M422.4 238.8h0M151.1 319.3h0M251.0 262.0h0M271.6 129.1h0M290.8 364.9h0M110.0 177.3h0M388.4 394.5h0M362.3 124.7h0M206.3 62.1h0M307.2 33.6h0M464.0 202.2h0M317.6 302.9h0M325.2 90.1h0M176.0 159.4h0M277.8 407.4h0M383.2 201.6h0M116.3 141.6h0M308.1 103.3h0M312.6 344.5h0M254.8 117.5h0M453.2 229.9h0M262.0 230.8h0M136.0 254.6h0M387.9 167.2h0M277.1 134.4h0M148.8 336.6h0M140.3 272.1h0M206.1 236.6h0M401.0 345.5h0M194.8 375.8h0M407.7 369.5h0M147.5 323.2h0M331.1 299.8h0M183.0 276.2h0M201.2 68.8h0M250.5 102.6h0M360.7 94.2h0M426.5 367.3h0M160.5 369.0h0M172.6 345.2h0M343.3 106.5h0M399.5 284.1h0M213.5 310.2h0M173.2 356.9h0M242.1 317.8h0M276.2 351.6h0M333.7 137.9h0M246.6 125.1h0M137.9 115.5h0M141.7 281.8h0M224.1 304.2h0M335.2 304.6h0M427.5 209.3h0M379.7 328.7h0M188.2 278.6h0M478.1 166.6h0M147.0 156.2h0M252.2 222.5h0M159.5 241.3h0M333.5 44.5h0M405.4 258.4h0M393.9 197.1h0M317.3 92.2h0M246.5 267.7h0M312.7 343.0h0M246.9 235.1h0M349.4 324.1h0M345.2 362.4h0M337.9 276.1h0M463.4 289.9h0M334.3 170.8h0M292.0 268.3h0M184.9 89.5h0M383.0 117.5h0M232.6 124.4h0M154.0 154.1h0M177.6 105.9h0M433.7 128.6h0M136.5 342.4h0M299.6 143.9h0M343.2 119.6h0M311.2 50.9h0M275.0 187.8h0M236.0 192.1h0M270.9 246.0h0M277.2 362.8h0M440.5 348.2h0M170.3 256.1h0M247.9 255.7h0M403.0 83.0h0M167.6 249.5h0M450.5 159.3h0M228.4 121.5h0M227.0 188.9h0M189.9 175.5h0M424.6 368.9h0M207.1 310.3h0M294.8 134.6h0M259.0 277.7h0M149.2 110.8h0M270.6 314.7h0M199.4 96.7h0M375.6 125.2h0M165.1 232.7h0M197.5 267.3h0M252.0 328.7h0M241.6 53.3h0M264.7 293.2h0M337.7 329.0h0M419.7 283.9h0M233.5 407.2h0M444.1 313.2h0M243.8 52.7h0M219.9 357.3h0M354.6 397.2h0M214.3 128.9h0M420.7 309.3h0M365.3 199.6h0M255.7 302.6h0M262.5 216.8h0M273.6 307.4h0M445.6 185.9h0M234.6 74.0h0M432.2 365.7h0M348.4 340.8h0M221.2 252.5h0M196.0 367.1h0M191.0 70.8h0M370.0 387.1h0M221.9 258.7h0M348.3 399.2h0M341.6 364.0h0M399.3 146.2h0M371.8 405.2h0M423.1 89.2h0M239.5 418.4h0M393.5 159.1h0M436.3 334.6h0M271.1 266.4h0M237.6 138.6h0M307.6 226.0h0M406.2 105.7h0M233.7 365.7h0M325.4 133.1h0M312.0 91.3h0M136.5 226.5h0M274.6 170.2h0M444.6 220.1h0M289.1 324.3h0M104.7 280.8h0M278.2 157.8h0M444.2 161.3h0M245.6 63.3h0M170.9 345.6h0M255.9 137.6h0M238.2 197.2h0M386.3 337.7h0M298.7 188.2h0M162.7 320.9h0M416.3 146.4h0M299.2 257.1h0M281.5 69.3h0M391.2 140.1h0M244.5 237.3h0M145.3 240.1h0M400.5 257.6h0M200.0 230.9h0M271.2 78.5h0M121.5 215.6h0M438.9 206.7h0M295.6 221.6h0M369.6 302.0h0M433.6 174.0h0M435.4 215.4h0M331.3 142.1h0M165.9 188.2h0M304.3 290.7h0M200.7 134.8h0M435.6 158.9h0M389.2 72.6h0M102.3 292.3h0M386.9 237.7h0M240.0 328.0h0M423.6 319.3h0M344.2 174.2h0M386.1 247.3h0M469.3 269.7h0M341.1 225.1h0M448.4 293.3h0M207.6 305.6h0M172.2 206.0h0M149.1 315.1h0M363.4 311.8h0M424.4 128.1h0M342.5 164.4h0M186.0 118.8h0M457.5 330.5h0M440.4 172.6h0M275.1 258.5h0M391.4 334.2h0M348.5 374.1h0M377.7 160.6h0M474.3 252.0h0M144.7 353.1h0M177.6 377.4h0M355.2 113.2h0M408.4 342.4h0M271.2 69.4h0M126.3 225.5h0M248.5 121.0h0M90.9 255.5h0M303.5 191.0h0M310.5 398.6h0M303.4 281.7h0M358.2 334.6h0M245.9 209.2h0M369.3 179.1h0M102.1 238.6h0M347.7 297.5h0M194.6 148.9h0M302.7 392.2h0M398.0 82.1h0M322.3 234.9h0M283.9 66.5h0M409.4 376.7h0M135.9 212.6h0M301.3 326.0h0M193.5 104.9h0M210.0 249.7h0M265.1 346.2h0M244.8 219.1h0M247.8 81.5h0M248.7 60.2h0M321.4 142.0h0M139.9 101.0h0M163.2 188.3h0M475.7 292.4h0M365.2 118.4h0M191.7 393.0h0M344.8 184.3h0M189.9 380.7h0M288.3 385.4h0M332.6 315.6h0M184.6 376.1h0M211.4 311.3h0M275.8 274.8h0M248.3 319.1h0M384.2 203.9h0M395.8 367.6h0M470.3 199.3h0M108.8 250.0h0M294.3 282.5h0M102.7 232.5h0M112.8 215.3h0M218.6 254.6h0M199.8 119.1h0M186.0 82.9h0M481.5 259.0h0M321.8 185.9h0M117.7 313.1h0M130.8 219.1h0M414.6 358.6h0M270.1 410.7h0M154.8 200.2h0M353.3 361.6h0M278.5 182.3h0M481.7 172.8h0M185.8 325.4h0M389.5 329.3h0M372.0 157.0h0M429.9 263.5h0M307.0 221.8h0M346.5 75.3h0M446.3 351.1h0M263.3 290.8h0M145.3 186.6h0M291.5 73.1h0M284.0 260.4h0M183.1 344.8h0M234.0 315.2h0M263.1 236.2h0M315.8 75.0h0M156.6 239.1h0M225.9 398.5h0M186.0 68.2h0M95.6 233.1h0M120.7 275.7h0M351.7 109.8h0M202.8 174.2h0M367.1 362.2h0M328.4 395.6h0M187.1 197.3h0M143.2 232.1h0M256.9 154.6h0M211.8 310.1h0M150.4 133.8h0M339.0 93.5h0M240.9 256.1h0M290.8 376.3h0M94.5 193.1h0M315.0 59.8h0M366.1 294.8h0M208.8 268.5h0M481.6 196.5h0M205.0 131.5h0M317.6 160.9h0M226.4 157.1h0M442.3 108.8h0M304.3 313.0h0M288.7 207.2h0M212.2 245.8h0M406.6 292.9h0M217.3 365.8h0M427.9 249.8h0M344.1 322.7h0M344.8 48.8h0M105.8 270.0h0M283.6 207.6h0M106.9 256.7h0M282.9 284.8h0M208.5 263.1h0M278.6 166.8h0M289.6 86.7h0M401.8 263.2h0M168.0 304.6h0M171.2 76.3h0M383.9 196.4h0M183.1 151.5h0M457.1 255.6h0M355.3 203.4h0M283.2 179.0h0M360.5 220.9h0M344.1 47.0h0M334.2 283.7h0M171.5 261.9h0M235.4 309.2h0M326.5 404.3h0M366.2 69.9h0M354.9 44.7h0M220.1 147.6h0M186.6 232.9h0M159.0 201.3h0M130.8 233.1h0M215.0 187.3h0M247.8 262.6h0M351.6 311.5h0M174.3 292.5h0M389.0 64.2h0M352.8 338.5h0M293.4 245.2h0M424.1 279.7h0M356.1 255.8h0M241.8 206.5h0M389.7 285.4h0M291.7 228.2h0M232.5 282.4h0M412.6 315.8h0M458.1 200.6h0M379.6 213.8h0M212.6 382.2h0M150.1 354.5h0M447.9 295.7h0M393.5 82.3h0M342.8 93.4h0M386.9 172.5h0M313.7 406.9h0M143.1 205.4h0M327.8 293.4h0M172.6 198.4h0M427.9 110.6h0M472.9 192.1h0M329.8 167.0h0M254.1 400.1h0M203.5 363.9h0M341.6 337.6h0M467.2 318.0h0M180.2 83.1h0M311.7 112.8h0M230.6 182.1h0M366.0 398.8h0M187.8 323.2h0M419.8 215.4h0M210.6 185.8h0M178.5 214.9h0M208.7 365.0h0M311.8 264.9h0M382.6 177.6h0M137.2 330.0h0M344.2 253.0h0M304.6 298.3h0M262.9 402.9h0M148.9 219.5h0M266.8 279.5h0M170.3 329.0h0M326.6 143.5h0M248.3 283.9h0M97.2 297.2h0M241.3 356.1h0M170.7 220.8h0M332.5 295.4h0M252.6 224.8h0M324.6 134.9h0M342.4 236.9h0M270.9 417.9h0M202.2 164.9h0M287.8 194.4h0M332.0 231.2h0M209.8 257.3h0M350.6 196.8h0M227.3 330.1h0M166.4 181.6h0M321.4 93.7h0M357.0 125.7h0M232.1 392.8h0M150.8 355.6h0M284.2 102.3h0M332.0 274.6h0M340.0 115.1h0M239.2 294.8h0M442.9 297.2h0M221.4 365.9h0M310.0 330.6h0M445.8 195.6h0M273.6 74.9h0M208.8 106.9h0M282.7 129.5h0M234.8 333.1h0M294.3 324.0h0M306.5 86.8h0M137.9 195.2h0M177.9 89.5h0M238.3 215.4h0M183.4 388.6h0M345.3 301.7h0M344.6 321.2h0M155.7 154.7h0M125.7 240.6h0M271.2 355.2h0M209.7 93.7h0M222.3 333.0h0M295.6 67.4h0M117.1 325.4h0M414.1 110.5h0M317.9 67.7h0M209.6 74.5h0M317.8 397.3h0M166.5 266.7h0M397.4 297.5h0M222.2 269.6h0M382.1 378.1h0M148.6 143.2h0M319.8 331.4h0M406.7 212.2h0M460.4 304.6h0M273.0 412.8h0M215.5 306.1h0M335.7 142.9h0M328.3 391.4h0M319.0 367.9h0M237.0 218.5h0M459.3 304.1h0M161.9 166.9h0M283.8 385.1h0M299.0 236.1h0M99.1 208.7h0M457.9 178.5h0M456.6 129.4h0M242.5 214.3h0M296.9 100.6h0M133.5 183.7h0M189.6 206.9h0M334.8 335.2h0M345.5 331.8h0M236.7 371.9h0M265.0 192.1h0M253.8 356.2h0M429.6 147.5h0M400.2 223.0h0M438.9 281.1h0M410.7 101.1h0M173.4 96.0h0M328.6 318.5h0M218.6 216.4h0M292.7 76.0h0M247.0 324.5h0M155.3 135.9h0M242.7 360.3h0M252.4 210.0h0M220.1 98.1h0M117.4 182.6h0M194.4 296.9h0M319.0 217.1h0M300.4 70.8h0M248.7 151.1h0M315.3 277.2h0M438.7 322.3h0M379.5 282.8h0M479.4 195.8h0M124.3 332.3h0M326.9 399.7h0M355.1 311.2h0M213.1 52.2h0M222.8 121.2h0M255.9 219.0h0M383.5 259.9h0M200.0 296.7h0M286.3 292.3h0M454.2 213.2h0M261.5 46.7h0M333.0 207.8h0M263.5 327.5h0M114.6 218.6h0M140.1 296.7h0M276.2 277.4h0M233.2 168.9h0M323.3 291.2h0M196.5 186.3h0M448.0 143.9h0M280.5 195.3h0M283.4 257.3h0M191.9 312.7h0M399.1 369.5h0M259.3 152.7h0M373.7 290.7h0M216.3 368.9h0M149.9 232.4h0M366.4 113.5h0M452.3 126.4h0M149.6 349.6h0M310.7 221.0h0M391.1 286.5h0M149.3 190.3h0M395.3 307.6h0M348.5 178.9h0M392.3 214.3h0M152.5 134.4h0M179.8 378.0h0M131.0 123.1h0M235.4 75.8h0M301.1 283.0h0M346.9 192.2h0M352.0 87.5h0M385.8 143.2h0M196.6 349.8h0M167.6 287.5h0M425.3 152.4h0M151.7 268.2h0M156.0 117.8h0M108.2 247.1h0M187.4 236.5h0M419.8 261.4h0M314.0 140.2h0M295.4 324.9h0M293.6 100.0h0M127.0 233.5h0M271.7 225.7h0M454.7 149.9h0M277.4 374.0h0M330.7 281.8h0M349.1 284.5h0M277.7 203.6h0M204.1 344.3h0M413.7 236.8h0M293.6 93.1h0M109.1 236.6h0M138.1 346.0h0M229.2 185.9h0M236.3 51.0h0M204.6 358.4h0M274.7 369.0h0M158.4 330.4h0M398.1 285.3h0M389.4 172.1h0M223.5 136.0h0M289.2 369.7h0M201.6 61.9h0M103.8 182.6h0M381.3 106.9h0M171.5 264.4h0M207.7 165.3h0M288.1 174.1h0M458.7 139.1h0M310.5 391.7h0M330.9 203.8h0M340.0 84.2h0M134.6 326.0h0M410.0 70.2h0M369.6 404.0h0M177.8 205.6h0M223.4 82.4h0M166.4 93.3h0M431.0 160.8h0M274.7 341.0h0M183.9 391.1h0M274.0 89.2h0M250.5 275.0h0M430.5 299.2h0M346.8 342.5h0M188.8 335.0h0M181.9 139.7h0M258.9 132.8h0M369.5 296.1h0M371.6 282.7h0M201.3 278.6h0M207.2 245.1h0M406.9 143.9h0M479.8 240.6h0M334.3 197.0h0M231.1 372.4h0M285.2 240.5h0M451.8 240.3h0M92.8 222.6h0M241.5 254.6h0M205.5 379.8h0M444.7 338.2h0M408.6 79.8h0M256.2 233.6h0M311.9 165.6h0M145.5 112.8h0M153.7 319.2h0M372.4 394.8h0M421.3 355.5h0M192.9 221.5h0M341.6 383.1h0M310.7 180.7h0M117.7 222.9h0M163.2 293.7h0M344.2 252.3h0M257.1 139.3h0M382.3 62.8h0M189.7 88.1h0M251.0 106.9h0M186.6 256.5h0M439.1 244.6h0M267.1 165.3h0M337.9 82.7h0M170.3 144.5h0M153.4 246.7h0M418.5 330.2h0M227.0 407.6h0M427.0 227.6h0M191.7 326.8h0M355.0 194.7h0M276.8 258.8h0M415.1 346.4h0M351.2 96.7h0M396.7 252.6h0M375.7 348.8h0M417.0 248.6h0M330.3 291.0h0M366.9 407.8h0M446.6 190.8h0M315.0 147.9h0M409.0 222.2h0M183.1 386.4h0M383.2 121.3h0M382.1 172.1h0M157.5 101.3h0M415.1 277.3h0M213.2 161.7h0M394.0 190.8h0M392.5 382.5h0M346.7 289.8h0M309.2 287.7h0M235.3 159.8h0M339.3 356.8h0M210.1 149.1h0M312.5 406.7h0M419.1 104.4h0M161.8 376.2h0M287.3 51.2h0M329.4 298.6h0M461.0 325.0h0M409.7 270.0h0M209.7 371.4h0M432.3 277.8h0M336.0 83.7h0M288.0 213.5h0M400.2 236.3h0M296.3 370.1h0M414.5 283.6h0M162.6 153.0h0M342.2 206.4h0M360.7 164.6h0M141.3 252.7h0M274.8 148.9h0M339.1 349.4h0M222.7 352.0h0M231.1 406.0h0M97.2 212.6h0M232.7 110.8h0M214.7 221.5h0M321.6 235.3h0M421.3 372.5h0M322.9 229.6h0M413.0 181.5h0M259.9 258.2h0M415.8 135.5h0M255.2 381.0h0M385.2 322.8h0M227.4 219.0h0M164.3 205.4h0M396.0 387.5h0M219.5 71.0h0M246.1 314.2h0M433.2 138.4h0M126.7 126.7h0M412.0 134.0h0M289.9 171.6h0M391.4 348.5h0M172.9 204.4h0M295.9 258.2h0M157.2 365.0h0M161.8 116.9h0M327.0 55.9h0M368.8 348.7h0M236.9 231.6h0M198.3 137.6h0M147.8 336.7h0M162.2 82.8h0M442.8 161.5h0M467.1 323.5h0M163.0 288.9h0M329.5 324.3h0M248.4 283.6h0M322.7 254.8h0M152.1 117.3h0M252.4 339.0h0M393.9 255.4h0M374.2 108.1h0M123.0 132.5h0M282.0 289.6h0M448.8 172.1h0M143.4 154.5h0M308.4 197.5h0M345.1 362.4h0M187.1 266.9h0M149.4 125.8h0M221.9 341.7h0M273.8 186.3h0M367.4 251.9h0M275.4 189.7h0M297.8 395.2h0M398.9 91.1h0M379.5 106.2h0M382.5 390.4h0M360.6 314.4h0M178.3 115.1h0M168.0 326.6h0M235.8 302.5h0M319.5 146.1h0M344.3 124.3h0M270.2 171.0h0M218.9 312.9h0M360.4 371.3h0M156.9 204.5h0M204.2 166.0h0M328.9 78.6h0M154.8 316.3h0M247.6 189.7h0M128.7 149.0h0M359.8 243.7h0M213.1 266.0h0M183.5 256.4h0M163.5 125.2h0M242.6 192.5h0M304.5 395.4h0M319.7 234.6h0M164.2 224.5h0M125.3 207.7h0M220.2 187.0h0M231.3 77.3h0M224.7 338.0h0M466.8 263.5h0M243.8 279.2h0M239.7 354.6h0M432.4 146.8h0M236.8 165.2h0M446.0 324.3h0M333.4 151.7h0M428.5 132.1h0M256.7 274.0h0M447.9 307.8h0M230.3 248.6h0M369.0 78.3h0M103.2 226.1h0M359.3 272.2h0M129.8 261.5h0M337.1 113.0h0M329.2 300.6h0M215.6 369.8h0M325.3 411.4h0M331.8 138.8h0M171.2 241.1h0M111.4 268.8h0M443.1 332.2h0M222.2 392.0h0M242.1 100.2h0M241.1 272.4h0M217.0 198.3h0M342.8 402.8h0M97.3 280.1h0M118.0 244.3h0M341.0 190.4h0M263.8 130.8h0M130.9 137.7h0M388.9 260.7h0M441.2 345.1h0M189.5 225.1h0M449.5 252.7h0M385.2 298.7h0M300.6 370.5h0M185.9 180.4h0M440.6 189.6h0M242.4 55.7h0M353.9 297.5h0M398.0 308.1h0M190.1 319.4h0M290.8 42.1h0M217.5 106.0h0M194.2 321.9h0M289.9 97.0h0M198.6 174.8h0M311.2 414.4h0M293.2 155.5h0M395.5 226.0h0M173.9 313.1h0M353.9 367.7h0M458.2 279.3h0M300.1 195.9h0M122.8 211.8h0M278.9 221.6h0M246.5 252.1h0M216.5 286.7h0M278.5 73.9h0M183.7 70.9h0M283.4 177.5h0M184.1 330.0h0M397.1 106.4h0M174.7 127.5h0M487.4 186.4h0M212.7 245.7h0M360.8 340.0h0M239.4 393.6h0M368.2 199.8h0M214.7 193.8h0M188.7 142.6h0M414.8 365.0h0M261.8 108.4h0M187.0 169.4h0M256.1 120.8h0M288.1 187.6h0M208.5 342.3h0M191.5 87.3h0M146.9 297.5h0M288.9 402.1h0M117.9 305.7h0M211.5 73.0h0M398.0 124.4h0M221.5 365.0h0M318.7 81.9h0M399.0 346.8h0M293.0 204.9h0M207.0 166.5h0M143.3 196.7h0M213.6 326.1h0M463.8 148.0h0M344.9 171.7h0M151.1 90.3h0M150.3 370.5h0M255.4 308.2h0M143.5 93.3h0M132.5 350.7h0M308.6 239.1h0M407.9 252.1h0M305.6 86.0h0M307.7 249.3h0M191.4 299.7h0M150.5 211.0h0M272.1 322.9h0M233.7 363.7h0M273.8 283.1h0M296.5 87.8h0M128.6 127.8h0M490.2 241.0h0M314.8 349.0h0M212.2 130.4h0M171.4 275.1h0M229.2 152.3h0M436.9 223.9h0M272.7 295.1h0M150.0 126.4h0M158.9 295.7h0M259.4 314.6h0M220.6 133.7h0M422.1 214.1h0M176.8 122.9h0M261.7 272.7h0M206.8 171.8h0M206.2 143.3h0M440.5 313.0h0M259.3 349.5h0M256.3 141.8h0M221.5 349.3h0M136.9 223.3h0M288.6 394.5h0M213.8 356.6h0M417.9 167.3h0M482.7 210.1h0M339.4 54.8h0M260.4 61.2h0M309.5 71.8h0M472.0 296.2h0M258.4 224.2h0M269.2 118.9h0M456.6 172.4h0M271.1 54.3h0M306.8 282.4h0M204.6 181.1h0M96.6 260.6h0M172.6 189.8h0M157.5 210.4h0M194.9 121.3h0M104.8 270.7h0M99.8 186.5h0M319.3 190.4h0M250.9 388.3h0M167.9 268.3h0M152.1 198.6h0M270.2 84.5h0M196.5 125.7h0M227.9 99.7h0M230.6 140.5h0M376.3 76.8h0M94.6 277.8h0M395.7 140.3h0M460.8 244.5h0M221.0 324.9h0M192.6 167.3h0M102.0 183.8h0M297.5 320.6h0M350.8 274.8h0M325.4 162.5h0M110.4 245.4h0M321.8 387.7h0M444.7 171.1h0M206.1 172.7h0M183.7 359.9h0M191.6 99.1h0M262.2 165.2h0M320.9 166.5h0M347.4 293.4h0M239.0 367.8h0M204.5 363.1h0M244.4 292.8h0M185.2 344.2h0M253.8 398.6h0M254.3 362.9h0M111.9 155.2h0M325.6 272.7h0M319.7 319.7h0M367.2 56.3h0M339.8 126.9h0M353.2 323.9h0M125.1 299.1h0M408.0 356.5h0M211.5 395.7h0M279.3 272.8h0M231.1 340.2h0M380.0 101.3h0M357.9 382.8h0M442.5 239.4h0M417.7 131.6h0M258.8 347.8h0M284.0 162.1h0M438.7 271.8h0M450.2 201.8h0M250.4 309.2h0M191.5 195.9h0M189.9 151.6h0M256.5 390.2h0M169.6 127.3h0M410.5 99.6h0M207.3 116.6h0M256.7 126.4h0M147.6 131.2h0M159.2 172.2h0M245.7 408.1h0M180.0 137.2h0M158.4 87.1h0M154.8 284.0h0M188.0 224.9h0M255.2 58.1h0M447.0 285.3h0M451.9 165.3h0M289.3 145.4h0M235.8 162.0h0M193.9 276.3h0M414.8 129.2h0M262.8 365.2h0M163.4 375.7h0M348.1 240.6h0M166.5 216.2h0M411.7 249.9h0M394.4 188.1h0M380.4 304.7h0M474.0 237.0h0M398.9 297.0h0M335.2 179.0h0M159.6 258.6h0M363.3 67.9h0M214.5 195.8h0M260.2 346.4h0M237.5 115.6h0M463.6 148.1h0M318.9 328.0h0M169.5 209.0h0M159.7 247.5h0M284.1 369.2h0M365.7 104.1h0M227.1 197.7h0M440.5 176.0h0M177.6 239.2h0M113.6 207.7h0M157.7 187.1h0M334.1 403.7h0M385.8 109.3h0M117.4 269.9h0M366.1 354.9h0M120.6 149.9h0M380.2 254.3h0M464.7 142.8h0M243.8 243.4h0M391.5 164.7h0M256.2 189.6h0M317.4 51.1h0M353.8 376.1h0M406.2 194.7h0M282.3 184.6h0M422.3 266.1h0M305.1 41.5h0M146.6 263.0h0M244.3 57.0h0M311.8 319.7h0M445.5 162.0h0M425.4 228.1h0M423.2 298.9h0M339.8 196.9h0M357.2 174.4h0M282.7 129.4h0M415.4 340.4h0M439.9 160.7h0M384.9 302.5h0M358.4 319.2h0M126.7 216.4h0M259.8 269.1h0M399.0 194.3h0M231.0 204.7h0M434.5 140.4h0M318.3 344.7h0M180.9 79.5h0M416.4 254.1h0M294.0 118.1h0M275.3 396.8h0M411.3 375.7h0M288.3 121.4h0M283.8 223.2h0M165.5 249.1h0M198.8 198.2h0M182.6 168.9h0M426.4 135.0h0M253.0 306.5h0M344.8 385.5h0M192.1 237.6h0M415.8 124.4h0M184.5 74.5h0M423.8 175.0h0M350.3 408.8h0M279.2 409.9h0M103.3 234.9h0M411.4 83.3h0M332.8 330.3h0M431.9 259.8h0M423.6 362.3h0M224.5 110.8h0M418.0 154.7h0M144.0 129.2h0M267.5 316.8h0M328.8 406.1h0M448.9 330.2h0M303.1 45.3h0M360.0 234.9h0M308.5 209.6h0M369.5 71.1h0M135.2 217.2h0M318.0 110.8h0M279.8 165.2h0M420.1 290.6h0M378.8 366.4h0M356.3 400.0h0M361.4 147.6h0M153.1 276.2h0M129.9 155.3h0M243.3 58.7h0M234.9 304.9h0M278.7 366.6h0M382.5 153.8h0M253.2 348.3h0M254.8 198.3h0M353.6 239.2h0M165.9 114.0h0M356.4 262.1h0M458.9 316.9h0M407.1 371.4h0M356.7 383.9h0M225.0 178.9h0M195.1 77.3h0M208.4 361.2h0M400.3 358.2h0M228.4 247.5h0M167.1 129.7h0M122.0 234.8h0M427.3 370.2h0M413.7 240.8h0M197.7 230.7h0M330.3 218.2h0M437.1 189.3h0M372.4 94.9h0M181.4 197.4h0M330.2 66.6h0M216.4 52.1h0M393.9 301.8h0M111.9 251.6h0M124.6 239.9h0M253.6 393.9h0M241.5 268.3h0M247.0 199.3h0M447.2 169.6h0M115.5 168.8h0M194.9 97.9h0M131.8 233.0h0M264.4 276.6h0M168.5 373.5h0M329.3 340.5h0M187.5 373.8h0M190.2 118.5h0M95.8 229.6h0M241.9 58.7h0M208.4 300.2h0M354.3 75.2h0M159.7 165.9h0M312.8 381.9h0M177.1 288.8h0M147.4 181.8h0M116.8 260.7h0M370.6 288.4h0M275.9 178.0h0M414.5 294.2h0M300.5 117.0h0M241.8 184.2h0M187.4 198.6h0M135.3 129.1h0M421.1 299.5h0M206.9 372.4h0M347.3 222.9h0M179.1 374.9h0M219.3 280.9h0M162.8 346.7h0M182.2 199.2h0M382.3 304.0h0M283.8 225.1h0M162.3 139.7h0M205.0 128.7h0M203.7 318.0h0M369.4 391.2h0M356.1 232.9h0M303.4 374.6h0M218.5 226.9h0M457.2 220.7h0M439.9 336.6h0M176.3 286.9h0M334.9 321.0h0M266.9 298.7h0M140.5 245.7h0M184.2 134.6h0M144.6 122.1h0M108.0 250.4h0M322.6 346.9h0M392.2 217.4h0M258.9 336.2h0M311.9 172.9h0M129.3 123.4h0M283.8 271.4h0M199.5 55.6h0M282.8 409.6h0M331.6 136.2h0M145.6 347.3h0M381.2 347.2h0M410.9 172.7h0M206.0 116.6h0M345.9 332.2h0M319.6 354.1h0M456.9 159.8h0M317.2 307.3h0M214.4 53.4h0M225.9 85.8h0M455.8 282.7h0M206.4 199.9h0M290.7 120.5h0M216.5 367.9h0M295.7 214.7h0M265.7 125.2h0M192.0 101.8h0M397.7 159.0h0M367.7 226.3h0M217.4 142.6h0M381.6 171.4h0M415.8 259.4h0M210.0 382.9h0M194.7 88.1h0M377.5 150.8h0M182.3 225.2h0M422.7 347.0h0M410.1 77.9h0M211.0 68.1h0M151.5 287.1h0M182.4 316.5h0M237.9 255.7h0M171.3 280.7h0M433.3 322.1h0M281.8 99.4h0M309.8 176.1h0M104.7 306.2h0M241.5 137.0h0M364.8 244.5h0M462.8 293.2h0M235.7 290.7h0M231.0 373.0h0M325.4 87.6h0M453.6 209.5h0M296.4 232.7h0M294.4 357.3h0M238.6 274.8h0M247.8 264.1h0M149.1 255.5h0M193.0 318.4h0M465.4 264.5h0M454.5 303.5h0M483.0 179.3h0M372.4 132.6h0M337.2 164.1h0M94.9 217.2h0M226.1 119.3h0M342.3 264.0h0M424.4 382.2h0M108.9 284.8h0M240.7 367.1h0M185.6 111.3h0M286.7 385.5h0M276.4 413.1h0M280.3 306.7h0M199.4 359.5h0M113.4 268.5h0M382.8 180.7h0M114.9 179.0h0M380.0 132.2h0M241.8 352.6h0M309.2 243.0h0M422.7 321.7h0M450.1 133.5h0M334.8 177.0h0M250.1 270.4h0M374.5 225.5h0M280.7 417.3h0M150.7 152.1h0M318.1 145.8h0M123.9 170.5h0M271.5 300.7h0M312.4 291.7h0M226.1 283.5h0M107.7 283.5h0M310.5 120.7h0M385.8 117.5h0M307.3 234.0h0M325.1 166.9h0M294.1 345.7h0M387.7 74.5h0M351.8 372.5h0M326.5 409.6h0M263.1 169.5h0M121.2 266.4h0M285.2 275.9h0M148.8 269.9h0M420.1 153.4h0M383.2 93.2h0M294.0 104.6h0M253.5 106.6h0M144.6 249.8h0M443.4 253.3h0M290.1 415.0h0M332.7 73.1h0M311.5 239.8h0M174.5 230.3h0M140.4 174.0h0M382.3 302.4h0M159.5 373.8h0M310.8 225.8h0M266.5 347.2h0M252.7 360.5h0M458.4 238.7h0M256.8 219.8h0M447.6 115.6h0M196.4 124.2h0M344.4 41.7h0M244.3 56.9h0M459.8 247.5h0M451.3 189.4h0M362.4 368.2h0M122.5 318.0h0M202.3 334.4h0M223.4 328.4h0M314.8 404.2h0M387.3 311.3h0M299.8 408.8h0M338.4 387.5h0M179.2 185.1h0M225.4 161.5h0M192.4 189.4h0M142.6 353.1h0M186.4 238.8h0M157.9 261.8h0M404.9 120.9h0M220.8 158.1h0M340.1 48.7h0M313.3 200.7h0M132.4 218.4h0M200.2 121.8h0M373.7 237.9h0M220.6 278.8h0M275.9 271.2h0M240.6 288.1h0M276.8 121.0h0M408.9 186.1h0M265.0 416.3h0M194.4 175.0h0M212.7 58.2h0M304.6 414.2h0M381.9 114.5h0M149.6 204.5h0M299.8 354.1h0M172.4 149.2h0M442.3 146.2h0M307.3 150.6h0M168.1 113.8h0M279.6 349.4h0M313.2 187.9h0M256.2 56.0h0M215.2 322.9h0M255.6 326.4h0M275.8 359.3h0M446.9 277.7h0M262.9 399.4h0M183.7 164.3h0M169.1 88.9h0M134.5 352.4h0M136.8 149.0h0M415.8 293.9h0M129.9 154.9h0M356.2 397.3h0M334.1 158.7h0M341.5 369.8h0M119.2 329.5h0M311.0 286.2h0M325.3 253.9h0M197.2 386.9h0M432.8 102.5h0M186.2 265.9h0M416.3 354.9h0M387.4 276.5h0M185.2 103.7h0M389.2 314.4h0M472.3 222.2h0M108.6 171.9h0M399.0 170.7h0M467.8 167.4h0M251.1 142.3h0M99.4 205.0h0M190.9 202.0h0M413.6 190.0h0M319.7 317.8h0M163.0 143.1h0M421.5 357.1h0M119.5 327.6h0M304.2 274.2h0M461.9 298.5h0M188.0 168.3h0M455.6 145.1h0M460.6 323.9h0M411.7 170.2h0M449.6 267.5h0M258.3 355.6h0M394.1 74.4h0M417.7 222.2h0M152.7 94.1h0M125.5 319.5h0M319.0 371.6h0M400.6 306.5h0M321.8 128.5h0M285.0 209.8h0M164.0 271.5h0M212.8 286.3h0M307.4 368.0h0M411.4 89.3h0M268.0 246.9h0M195.6 236.4h0M372.0 251.2h0M400.7 160.0h0M328.6 327.3h0M400.7 361.3h0M379.2 183.1h0M381.2 239.0h0M477.0 283.8h0M439.5 182.2h0M348.3 184.1h0M266.9 287.1h0M151.7 360.0h0M342.1 92.5h0M251.2 106.2h0M231.2 337.3h0M347.7 418.5h0M122.3 199.9h0M472.8 230.9h0M347.5 353.4h0M225.0 231.1h0M186.6 82.8h0M272.6 281.9h0M315.1 328.1h0M296.4 382.1h0M317.7 310.3h0M235.8 253.8h0M433.8 305.1h0M451.5 176.7h0M284.8 252.6h0M91.8 235.4h0M246.3 328.9h0M162.9 367.9h0M325.2 110.7h0M166.0 357.3h0M330.6 335.8h0M423.6 202.7h0M336.3 413.2h0M182.9 292.7h0M289.5 263.2h0M297.3 99.0h0M383.7 400.1h0M232.2 242.3h0M266.5 118.0h0M365.9 139.7h0M441.5 254.2h0M418.7 294.9h0M275.8 169.5h0M154.6 102.2h0M172.4 92.3h0M318.1 401.5h0M318.9 190.1h0M301.7 274.6h0M346.3 402.1h0M152.5 353.4h0M326.9 63.2h0M254.8 331.4h0M164.6 210.3h0M381.8 370.6h0M472.8 163.6h0M310.0 119.4h0M111.6 310.6h0M335.5 388.6h0M331.5 319.1h0M314.1 66.2h0M332.8 328.4h0M320.0 293.2h0M132.1 144.8h0M311.6 90.9h0M286.6 142.5h0M167.3 272.6h0M157.0 249.4h0M286.6 253.7h0M386.0 385.7h0M330.9 333.7h0M153.8 270.0h0M309.3 316.3h0M226.3 178.0h0M175.1 116.6h0M154.0 270.1h0M116.4 275.2h0M300.2 52.9h0M180.4 260.6h0M305.3 372.8h0M332.6 194.8h0M362.1 335.4h0M448.6 154.6h0M378.8 142.2h0M125.4 328.4h0M358.1 278.3h0M386.5 238.2h0M448.3 186.0h0M307.9 334.8h0M206.8 400.4h0M273.1 256.0h0M109.1 218.1h0M153.8 353.5h0M362.6 381.6h0M467.7 156.9h0M262.5 273.8h0M399.7 257.9h0M394.6 254.7h0M160.5 175.8h0M199.6 67.7h0M240.5 285.8h0M275.9 295.6h0M403.7 84.9h0M244.4 182.3h0M260.0 320.1h0M278.2 227.3h0M167.8 81.9h0M403.9 161.7h0M476.6 251.5h0M245.2 214.7h0M142.1 133.7h0M315.1 339.4h0M379.5 242.3h0M289.7 96.5h0M411.1 227.2h0M151.2 163.3h0M408.0 318.9h0M281.9 315.7h0M139.7 324.9h0M128.0 193.8h0M385.7 381.2h0M251.5 149.1h0M217.4 220.1h0M89.7 236.6h0M96.1 220.8h0M265.7 207.4h0M469.2 170.6h0M266.0 121.8h0M452.6 284.5h0M285.0 340.8h0M339.8 47.4h0M271.2 296.9h0M438.0 150.2h0M128.2 315.8h0M354.1 152.6h0M429.5 292.8h0M474.8 181.3h0M303.6 196.4h0M232.8 198.7h0M174.2 301.6h0M343.7 229.8h0M380.6 65.5h0M209.1 187.4h0M426.2 322.6h0M150.4 299.3h0M263.7 346.4h0M354.2 97.0h0M173.6 104.7h0M382.1 270.7h0M454.1 316.8h0M410.9 185.4h0M357.9 163.5h0M400.0 384.7h0M163.1 318.1h0M227.7 106.5h0M187.4 208.5h0M378.4 94.3h0M116.3 192.6h0M144.3 358.7h0M292.3 287.5h0M163.9 176.7h0M280.5 144.2h0M193.3 266.3h0M175.9 378.0h0M308.8 333.7h0M315.2 420.3h0M215.5 155.3h0M157.1 366.2h0M362.9 280.9h0M364.5 108.5h0M306.0 305.5h0M309.6 213.4h0M367.0 90.2h0M132.2 124.8h0M295.1 261.6h0M169.1 235.4h0M267.6 57.4h0M466.7 212.6h0M93.4 242.7h0M376.5 332.7h0M283.2 250.5h0M437.1 219.6h0M382.5 381.7h0M200.6 228.0h0M197.8 180.7h0M164.3 111.4h0M158.2 174.4h0M365.7 168.9h0M393.0 218.6h0M404.3 242.4h0M252.6 387.3h0M272.4 237.9h0M169.3 75.3h0M294.5 364.4h0M151.4 268.5h0M249.2 181.9h0M206.6 334.5h0M266.8 161.2h0M473.0 279.3h0M326.5 108.8h0M376.6 328.7h0M403.3 101.8h0M333.9 174.8h0M188.1 163.3h0M354.9 288.5h0M200.7 285.8h0M310.3 324.8h0M412.6 165.0h0M474.7 241.9h0M151.6 352.9h0M133.9 272.7h0M203.7 287.4h0M346.7 363.2h0M484.0 224.8h0M203.1 167.4h0M311.6 351.1h0M411.1 382.1h0M155.8 298.6h0M205.1 274.3h0M220.8 106.5h0M469.5 171.6h0M414.7 373.0h0M256.0 141.6h0M150.7 362.6h0M326.1 236.8h0M193.9 86.0h0M360.5 177.7h0M470.6 173.6h0M164.5 181.7h0M423.4 128.8h0M378.1 213.1h0M399.0 77.5h0M201.5 384.2h0M280.3 412.8h0M320.6 93.3h0M259.0 114.4h0M378.7 129.5h0M398.3 86.8h0M259.8 412.1h0M426.2 312.0h0M314.7 86.4h0M326.5 268.4h0M256.9 374.2h0M339.5 240.4h0M409.5 126.4h0M297.3 292.6h0M389.5 345.7h0M238.9 87.3h0M431.1 165.9h0M348.8 160.2h0M218.6 247.9h0M225.2 189.4h0M313.4 396.2h0M312.1 292.8h0M447.6 253.1h0M406.0 114.2h0M224.6 322.5h0M474.2 276.2h0M410.4 121.3h0M277.7 414.0h0M135.4 162.0h0M109.7 235.3h0M199.8 124.8h0M260.6 332.4h0M373.3 89.5h0M174.4 145.3h0M305.1 55.7h0M238.1 184.3h0M164.3 225.9h0M181.0 341.1h0M104.1 223.5h0M245.2 226.7h0M216.9 124.2h0M357.0 323.7h0M203.4 368.6h0M260.7 347.9h0M258.7 75.2h0M112.3 255.8h0M386.6 171.2h0M490.1 261.9h0M261.0 81.0h0M234.5 251.5h0M448.4 165.0h0M224.7 216.4h0M123.1 274.6h0M172.1 175.1h0M359.4 189.3h0M252.0 266.1h0M447.8 166.0h0M245.0 67.3h0M141.9 309.8h0M438.6 223.0h0M158.4 172.6h0M154.7 332.4h0M131.0 166.7h0M244.1 160.6h0M361.6 101.8h0M487.0 241.4h0M219.1 207.4h0M205.5 103.6h0M457.6 156.9h0M314.1 127.6h0M250.2 252.9h0M144.4 164.8h0M214.6 257.3h0M270.0 190.6h0M195.7 384.8h0M302.3 293.9h0M375.8 208.1h0M405.5 336.5h0M144.0 227.8h0M277.2 333.7h0M349.0 354.6h0M174.1 91.7h0M311.5 189.3h0M218.1 185.8h0M392.6 164.1h0M205.1 83.4h0M106.1 256.6h0M477.7 227.6h0M352.9 383.0h0M267.8 266.0h0M397.4 71.0h0M211.2 57.3h0M321.1 406.3h0M179.0 302.3h0M206.2 318.8h0M286.1 297.5h0M199.6 64.5h0M288.9 335.0h0M332.5 361.0h0M276.0 42.7h0M432.2 212.8h0M211.6 225.8h0M313.7 96.3h0M319.6 177.7h0M171.0 104.3h0M239.8 61.7h0M267.9 271.9h0M285.5 269.5h0M367.9 80.4h0M157.3 88.7h0M247.1 351.8h0M375.2 313.5h0M105.2 302.8h0M341.6 164.3h0M416.2 277.1h0M152.9 166.2h0M410.0 222.5h0M253.4 71.4h0M109.7 248.5h0M390.1 319.4h0M129.9 293.0h0M235.0 385.8h0M300.4 53.7h0M300.3 287.9h0M335.6 224.2h0M291.5 104.3h0M313.1 325.2h0M445.2 183.1h0M306.6 60.0h0M210.8 263.4h0M194.5 385.3h0M374.1 268.5h0M315.4 325.3h0M251.6 194.7h0M210.3 236.8h0M183.5 195.0h0M391.7 232.8h0M288.0 136.2h0M394.3 286.1h0M129.1 148.3h0M333.5 241.7h0M252.6 380.6h0M445.8 321.7h0M348.7 149.1h0M239.0 358.9h0M465.5 317.3h0M179.2 162.3h0M209.4 354.7h0M493.9 246.9h0M368.2 381.9h0M295.8 238.5h0M454.5 307.1h0M426.1 282.4h0M169.2 161.0h0M433.2 316.3h0M212.8 273.1h0M289.0 55.3h0M324.9 69.0h0M255.2 410.0h0M207.1 301.9h0M426.5 103.6h0M135.9 334.4h0M203.3 258.4h0M170.4 171.3h0M327.0 66.9h0M135.9 124.0h0M269.9 268.1h0M194.9 269.8h0M265.1 122.1h0M112.1 260.6h0M289.4 62.1h0M379.0 234.8h0M215.8 181.3h0M295.0 148.9h0M173.4 163.6h0M141.6 359.5h0M271.9 306.8h0M125.8 138.9h0M195.8 271.6h0M349.3 330.1h0M343.6 326.8h0M400.9 168.5h0M482.3 199.0h0M323.1 48.6h0M153.9 272.6h0M137.0 313.8h0M325.3 123.5h0M381.9 274.6h0M306.4 122.3h0M241.8 345.8h0M164.3 118.5h0M264.0 209.6h0M208.7 366.6h0M114.9 178.1h0M416.9 175.0h0M469.2 296.1h0M195.1 161.7h0M390.7 145.6h0M183.7 309.9h0M156.0 329.5h0M484.2 199.5h0M240.7 248.0h0M252.9 388.7h0M151.9 270.0h0M212.0 61.4h0M326.7 113.5h0M382.9 184.2h0M195.3 230.2h0M207.0 183.5h0M263.2 59.8h0M218.0 199.5h0M299.1 324.5h0M227.5 249.1h0M389.2 102.3h0M382.9 281.4h0M151.5 309.8h0M379.8 277.8h0M186.8 160.5h0M312.8 149.8h0M363.9 282.6h0M194.6 207.5h0M204.1 279.4h0M406.8 69.7h0M472.8 268.8h0M130.5 250.9h0M137.4 271.5h0M122.0 237.7h0M372.8 212.9h0M211.5 232.0h0M161.3 147.4h0M479.4 249.9h0M184.0 298.0h0M191.1 228.0h0M278.7 136.2h0M154.5 335.9h0M330.8 197.8h0M339.9 79.3h0M296.1 406.8h0M189.3 112.3h0M307.5 50.3h0M251.4 129.0h0M477.1 202.9h0M198.5 67.3h0M444.8 145.3h0M237.8 285.1h0M299.3 39.4h0M445.1 175.5h0M482.5 246.0h0M396.4 180.4h0M279.1 202.7h0M415.4 210.6h0M400.2 235.8h0M241.4 282.6h0M196.1 298.0h0M329.4 276.0h0M149.7 351.8h0M240.2 359.6h0M404.9 94.1h0M194.1 258.0h0M145.1 314.5h0M388.0 343.8h0M146.0 251.9h0M140.0 137.2h0M296.5 268.0h0M163.4 191.3h0M445.3 135.3h0M176.2 150.7h0M417.3 273.9h0M369.5 226.4h0M350.6 80.5h0M196.7 343.6h0M124.3 304.5h0M306.7 159.3h0M483.5 226.2h0M462.4 175.9h0M294.6 399.5h0M237.1 319.7h0M349.5 219.7h0M129.4 165.5h0M361.4 325.9h0M111.9 299.6h0M113.8 275.8h0M346.0 282.5h0M287.8 330.4h0M328.7 315.7h0M361.1 358.0h0M471.2 199.3h0M217.0 148.2h0M447.2 204.9h0M460.0 291.0h0M191.8 254.9h0M350.5 399.4h0M210.2 168.9h0M188.4 318.2h0M216.1 259.9h0M425.1 162.2h0M316.8 174.0h0M261.4 393.9h0M325.6 233.1h0M247.1 202.8h0M206.7 225.5h0M230.1 284.0h0M290.4 356.1h0M430.9 194.7h0M358.1 239.1h0M323.1 261.3h0M149.4 96.4h0M106.1 181.5h0M164.1 364.9h0M305.0 105.3h0M252.4 93.7h0M371.0 170.4h0M273.1 336.4h0M403.3 283.5h0M205.4 93.7h0M388.0 265.6h0M300.3 106.1h0M227.2 116.3h0M236.5 141.3h0M385.8 400.5h0M308.4 153.4h0M455.9 154.6h0M256.7 308.8h0M228.4 366.7h0M258.9 303.1h0M411.2 124.7h0M406.4 396.1h0M172.0 88.2h0M267.3 304.4h0M142.6 349.9h0M162.8 218.4h0M181.0 114.3h0M109.3 304.2h0M141.9 249.7h0M417.4 317.7h0M301.9 50.8h0M106.7 164.7h0M220.6 349.2h0M312.7 180.6h0M284.4 195.5h0M289.6 61.6h0M414.1 312.4h0M448.4 346.0h0M398.5 94.6h0M299.7 299.2h0M375.5 64.0h0M363.2 271.3h0M291.8 81.4h0M285.6 227.0h0M461.0 232.1h0M224.7 298.6h0M193.9 158.7h0M146.0 170.0h0M282.1 378.4h0M203.4 195.6h0M251.1 60.6h0M150.6 101.4h0M293.3 56.2h0M211.0 150.7h0M219.7 133.2h0M325.8 318.4h0M159.9 349.2h0M159.1 92.9h0M258.2 352.1h0M297.2 141.9h0M415.0 159.0h0M404.0 220.9h0M294.5 172.5h0M133.3 174.1h0M413.0 217.9h0M163.6 90.5h0M323.1 283.4h0M130.8 239.5h0M382.8 332.5h0M327.3 189.1h0M139.0 133.7h0M109.5 163.8h0M270.5 175.4h0M149.4 216.8h0M462.8 177.4h0M271.4 78.0h0M120.3 181.6h0M182.5 170.4h0M237.9 90.8h0M413.3 351.5h0M389.4 93.5h0M178.8 383.0h0M348.4 242.5h0M339.0 225.5h0M453.6 152.4h0M396.2 287.3h0M367.8 207.5h0M378.8 229.9h0M392.8 117.0h0M384.8 193.8h0M291.0 308.8h0M141.7 227.1h0M166.4 153.0h0M102.3 198.1h0M208.8 332.2h0M467.9 140.3h0M224.3 270.2h0M326.2 156.6h0M408.9 86.0h0M226.5 81.7h0M419.4 181.2h0M169.6 174.0h0M358.6 260.9h0M370.5 212.5h0M275.9 405.4h0M402.8 276.3h0M420.5 331.5h0M153.3 269.2h0M168.3 91.2h0M116.8 261.1h0M144.9 247.7h0M139.2 309.1h0M274.3 146.0h0M423.5 243.1h0M349.5 108.5h0M135.7 322.8h0M249.4 149.0h0M362.7 376.9h0M359.1 405.2h0M448.5 303.1h0M418.6 211.4h0M341.0 260.9h0M308.0 200.6h0M337.0 143.2h0M234.7 60.6h0M334.2 227.4h0M224.5 160.2h0M243.1 382.8h0M201.4 355.0h0M385.7 394.5h0M168.6 180.3h0M97.9 258.4h0M251.0 181.3h0M355.8 106.8h0M281.2 416.7h0M459.1 199.2h0M104.6 245.0h0M327.2 329.3h0M283.5 303.2h0M329.2 250.8h0M186.0 193.3h0M397.0 275.6h0M325.8 391.5h0M298.7 387.3h0M312.2 267.4h0M296.2 134.2h0M368.5 265.3h0M342.9 198.8h0M354.6 102.4h0M224.6 347.0h0M206.5 179.7h0M207.7 216.7h0M463.3 294.7h0M305.8 372.9h0M333.1 103.2h0M221.1 169.6h0M202.2 155.4h0M333.5 77.9h0M408.5 112.2h0M238.2 265.9h0M195.1 220.5h0M339.0 96.9h0M278.5 130.1h0M402.2 338.7h0M405.9 139.8h0M383.5 328.6h0M168.8 142.0h0M121.3 151.2h0M407.6 73.7h0M186.7 102.3h0M212.3 136.9h0M283.4 248.5h0M365.5 156.1h0M264.4 340.3h0M288.1 55.1h0M167.3 343.6h0M155.8 112.3h0M191.0 242.4h0M104.4 229.1h0M163.0 183.0h0M319.1 235.9h0M363.8 99.8h0M274.6 320.5h0M420.0 282.7h0M306.4 126.0h0M281.1 317.7h0M356.8 229.3h0M398.7 269.5h0M294.2 45.7h0M159.0 184.5h0M141.9 316.1h0M326.6 251.2h0M386.1 147.5h0M253.2 257.6h0M214.0 258.5h0M418.8 126.7h0M376.7 339.4h0M151.3 147.1h0M363.5 327.0h0M198.3 279.0h0M183.2 153.4h0M284.2 101.6h0M183.7 145.9h0M206.9 126.7h0M258.9 282.3h0M222.5 170.0h0M434.3 261.0h0M365.8 213.0h0M122.7 220.1h0M469.9 235.7h0M295.8 268.0h0M230.7 331.0h0M363.7 124.8h0M302.1 399.7h0M124.9 318.7h0M179.9 196.5h0M419.0 158.1h0M461.2 283.5h0M374.2 328.6h0M362.6 245.1h0M237.1 175.9h0M238.9 76.4h0M208.9 131.1h0M121.2 164.0h0M101.8 201.2h0M323.5 178.6h0M421.1 163.5h0M278.0 193.7h0M115.1 308.6h0M455.2 322.0h0M268.7 267.5h0M162.7 138.2h0M106.2 248.5h0M285.9 174.4h0M337.9 65.8h0M117.1 315.4h0M231.0 344.4h0M92.1 218.0h0M347.8 343.0h0M138.7 318.7h0M454.0 133.0h0M134.5 139.2h0M305.2 386.7h0M443.6 105.8h0M237.2 265.0h0M477.5 255.8h0M444.8 339.4h0M168.0 142.2h0M278.1 361.0h0M436.2 329.7h0M161.7 134.7h0M393.4 387.5h0M469.8 243.9h0M262.3 338.7h0M341.6 133.3h0M202.6 67.5h0M435.1 269.8h0M401.5 165.4h0M268.7 41.8h0M231.0 271.1h0M132.7 313.0h0M231.8 169.0h0M274.9 71.2h0M388.0 70.9h0M363.6 345.6h0M324.1 97.4h0M390.8 66.2h0M397.7 317.8h0M229.0 143.8h0M233.8 400.5h0M281.3 192.5h0M440.4 198.2h0M359.6 271.1h0M458.9 294.9h0M252.8 393.6h0M448.5 354.9h0M240.8 347.8h0M356.3 159.3h0M316.8 214.4h0M269.6 292.8h0M165.4 130.1h0M210.7 338.7h0M288.2 212.9h0M220.6 238.0h0M441.4 104.7h0M469.7 225.1h0M216.0 204.1h0M275.0 73.5h0M265.3 159.6h0M227.7 406.8h0M316.8 108.6h0M276.8 338.9h0M221.8 270.0h0M285.2 365.2h0M310.5 326.2h0M318.9 353.2h0M267.0 90.4h0M422.4 104.6h0M176.2 344.1h0M193.6 227.4h0M394.6 100.0h0M243.3 227.9h0M320.8 375.1h0M255.7 405.7h0M168.2 205.6h0M134.8 152.7h0M433.1 281.2h0M357.0 70.8h0M178.5 92.0h0M283.2 329.2h0M275.5 326.9h0M393.0 151.2h0M247.9 104.2h0M275.4 358.3h0M440.5 320.1h0M343.2 122.8h0M318.8 244.7h0M210.3 151.1h0M250.4 313.3h0M359.3 91.2h0M377.4 84.4h0M291.3 253.0h0M484.7 168.3h0M263.0 64.4h0M178.8 239.3h0M231.9 263.9h0M466.9 291.9h0M406.1 97.7h0M406.5 141.2h0M349.0 256.8h0M407.4 95.4h0M352.9 356.8h0M236.3 70.7h0M154.2 234.1h0M419.2 286.2h0M145.4 247.4h0M350.0 322.7h0M348.4 92.5h0M316.1 139.7h0M162.0 335.7h0M429.5 209.1h0M258.5 178.9h0M410.6 331.8h0M244.4 169.6h0M280.0 94.2h0M233.5 322.5h0M144.1 178.4h0M358.2 159.9h0M320.8 181.3h0M225.0 295.2h0M478.3 306.0h0M154.6 349.0h0M231.5 347.3h0M197.9 221.6h0M160.6 252.0h0M119.1 239.2h0M335.6 171.3h0M389.9 402.6h0M227.7 411.6h0M299.9 328.3h0M475.3 175.2h0M258.9 243.2h0M374.8 177.3h0M413.7 102.9h0M173.7 83.0h0M348.6 190.5h0M361.2 92.3h0M264.8 212.7h0M335.4 162.4h0M425.7 183.4h0M190.9 168.2h0M455.4 187.9h0M340.1 382.7h0M357.5 290.8h0M357.3 309.8h0M358.1 169.0h0M116.2 207.6h0M391.2 330.2h0M161.4 249.7h0M366.4 126.3h0M409.4 169.7h0M381.0 340.6h0M385.3 170.6h0M119.6 324.7h0M434.0 305.5h0M222.9 76.6h0M427.0 136.3h0M178.9 235.0h0M240.8 68.4h0M300.7 225.0h0M433.1 274.1h0M443.9 296.0h0M202.5 328.3h0M236.1 204.6h0M303.1 114.7h0M399.8 247.7h0M324.0 249.8h0M206.1 291.3h0M362.5 390.1h0M369.8 216.3h0M248.5 126.3h0M261.7 352.4h0M170.9 191.9h0M388.0 382.0h0M338.1 186.2h0M375.0 284.9h0M403.9 366.1h0M403.2 321.1h0M410.2 204.3h0M305.3 78.4h0M259.9 401.6h0M197.2 195.6h0M220.1 254.2h0M277.4 357.4h0M398.8 308.6h0M258.7 281.3h0M431.0 307.3h0M388.7 84.3h0M283.3 33.9h0M434.9 239.3h0M110.2 272.5h0M405.7 352.0h0M320.1 93.8h0M165.4 320.5h0M382.4 219.3h0M344.0 281.6h0M349.7 251.0h0M150.2 176.7h0M358.6 65.6h0M260.2 158.9h0M239.1 290.7h0M402.9 179.9h0M429.5 232.0h0M326.6 205.8h0M229.2 262.8h0M252.6 179.1h0M390.5 368.8h0M325.3 264.1h0M221.8 131.6h0M334.5 47.4h0M434.6 200.3h0M194.4 112.9h0M303.3 417.1h0M318.4 90.6h0M115.4 287.1h0M368.2 58.4h0M376.4 204.5h0M153.1 338.5h0M162.9 374.0h0M319.3 38.7h0M128.2 269.3h0M395.5 334.8h0M290.6 282.2h0M317.3 74.2h0M266.1 372.0h0M248.1 77.4h0M242.0 53.7h0M412.0 201.9h0M275.3 52.9h0M310.6 155.3h0M209.6 408.4h0M283.4 229.3h0M290.1 133.9h0M243.2 125.4h0M257.4 131.3h0M331.1 133.9h0M279.9 303.1h0M156.4 133.7h0M215.6 128.9h0M225.5 111.8h0M342.2 338.5h0M300.4 131.6h0M114.2 164.1h0M461.0 286.1h0M356.2 319.9h0M389.5 222.5h0M237.3 347.4h0M418.1 234.8h0M285.2 232.8h0M317.8 326.0h0M304.4 188.0h0M292.2 45.0h0M375.1 61.5h0M247.8 395.9h0M238.3 291.6h0M264.7 392.7h0M226.9 180.1h0M351.9 53.8h0M375.2 259.8h0M409.7 93.0h0M186.0 328.3h0M195.7 333.1h0M367.9 323.3h0M235.3 270.1h0M268.1 178.7h0M160.9 349.7h0M232.0 271.9h0M364.8 141.9h0M219.2 336.9h0M380.8 161.3h0M182.5 183.3h0M296.3 290.1h0M414.1 225.7h0M348.6 377.3h0M263.9 329.1h0M249.0 256.0h0M355.8 265.7h0M341.7 122.5h0M164.3 262.1h0M314.2 156.9h0M469.7 156.0h0M306.0 354.7h0M247.0 171.5h0M275.8 210.8h0M358.4 347.2h0M400.5 202.5h0M343.6 186.1h0M302.0 210.6h0M178.1 102.0h0M255.9 53.8h0M129.8 239.8h0M450.5 194.1h0M368.7 406.0h0M379.6 223.2h0M216.9 69.3h0M176.4 380.8h0M237.4 285.1h0M364.3 206.7h0M289.7 115.5h0M212.3 326.6h0M354.4 408.6h0M422.9 125.0h0M322.1 99.1h0M193.2 317.5h0M429.8 137.8h0M447.6 286.5h0M461.8 279.2h0M279.2 331.3h0M441.7 206.3h0M260.1 275.8h0M228.7 336.4h0M374.6 112.9h0M251.5 367.6h0M480.7 222.1h0M263.4 276.2h0M405.6 160.9h0M250.9 62.0h0M400.5 214.3h0M222.1 199.9h0M174.8 249.0h0M205.4 196.2h0M212.7 383.5h0M166.1 225.2h0M275.8 65.6h0M370.3 194.9h0M388.1 282.6h0M252.9 353.7h0M339.0 186.5h0M330.9 267.4h0M280.1 146.2h0M380.3 323.3h0M288.9 146.2h0M139.9 136.3h0M377.8 58.1h0M187.2 359.0h0M280.7 180.4h0M179.6 267.8h0M199.4 339.9h0M342.6 287.4h0M153.4 320.3h0M228.6 42.4h0M456.3 260.4h0M104.3 271.5h0M305.1 252.6h0M335.4 189.0h0M466.4 303.9h0M241.1 168.2h0M278.3 185.4h0M186.5 100.6h0M340.3 287.3h0M216.7 319.5h0M380.8 123.2h0M341.4 309.9h0M238.7 71.5h0M146.7 191.5h0M434.4 165.0h0M402.3 264.5h0M422.6 328.3h0M236.6 228.7h0M304.7 218.8h0M351.1 257.2h0M167.8 218.5h0M161.2 337.2h0M203.6 189.6h0M384.8 279.1h0M327.2 267.2h0M163.4 101.0h0M331.0 104.8h0M128.4 124.2h0M363.9 172.4h0M237.9 116.2h0M287.4 60.8h0M247.2 372.2h0M465.6 287.2h0M141.7 103.5h0M136.1 141.6h0M364.8 238.0h0M305.0 342.5h0M466.6 315.1h0M335.9 186.4h0M121.7 301.3h0M236.4 346.8h0M306.5 349.4h0M263.6 302.6h0M100.3 263.6h0M158.8 257.0h0M440.7 126.0h0M459.3 184.1h0M232.3 397.1h0M238.5 223.8h0M119.1 266.6h0M371.0 350.4h0M175.3 126.6h0M177.3 83.4h0M459.2 139.8h0M121.3 147.2h0M218.8 198.2h0M320.7 325.4h0M439.8 267.0h0M210.6 158.4h0M280.3 83.4h0M294.3 291.4h0M133.8 137.2h0M321.7 380.2h0M96.5 218.2h0M339.4 214.2h0M270.9 183.0h0M360.6 390.9h0M170.8 192.8h0M354.5 177.2h0M382.9 376.0h0M364.6 150.0h0M172.9 187.8h0M425.8 120.2h0M312.4 378.5h0M160.0 184.9h0M102.9 262.4h0M413.6 244.1h0M304.1 269.5h0M348.7 332.3h0M424.5 251.9h0M298.7 223.8h0M240.0 310.6h0M239.6 215.5h0M130.5 162.8h0M97.6 276.2h0M342.6 317.0h0M359.1 193.9h0M357.1 246.6h0M327.1 104.1h0M203.1 314.8h0M277.8 367.2h0M449.7 188.4h0M211.8 226.3h0M454.5 264.1h0M169.2 185.8h0M188.5 77.4h0M281.2 202.9h0M466.6 301.9h0M369.2 356.2h0M322.7 255.5h0M263.0 312.5h0M351.1 137.6h0M210.6 64.7h0M221.7 175.1h0M252.9 64.4h0M271.5 200.5h0M307.3 342.4h0M179.4 229.8h0M141.0 156.0h0M232.5 111.2h0M306.8 252.1h0M215.2 95.6h0M278.4 196.9h0M302.4 146.0h0M361.8 133.5h0M409.7 131.1h0M453.1 330.2h0M172.7 300.5h0M419.2 172.4h0M91.3 244.4h0M132.2 270.9h0M240.7 378.3h0M371.0 166.3h0M235.5 89.9h0M262.0 97.6h0M164.2 164.8h0M160.1 209.9h0M406.2 141.2h0M357.1 283.7h0M209.2 247.2h0M335.7 285.8h0M257.1 223.4h0M399.7 352.3h0M281.8 173.2h0M373.0 260.2h0M136.2 227.6h0M442.9 297.2h0M163.1 283.9h0M107.3 170.4h0M285.3 230.2h0M460.6 293.2h0M351.7 347.1h0M207.2 111.2h0M460.3 304.8h0M289.6 345.9h0M193.3 251.3h0M378.6 228.2h0M120.6 286.6h0M343.8 394.6h0M316.0 393.2h0M92.3 260.1h0M160.7 109.3h0M95.0 202.2h0M354.7 371.8h0M414.0 275.4h0M385.3 81.0h0M127.4 222.1h0M184.7 77.2h0M174.8 370.7h0M238.0 80.5h0M246.3 119.2h0M321.5 357.6h0M256.3 124.2h0M341.5 58.2h0M323.7 150.3h0M459.4 217.6h0M178.8 209.6h0M328.9 209.2h0M282.8 122.0h0M400.4 251.0h0M244.7 391.5h0M475.5 211.1h0M406.0 146.1h0M281.1 307.1h0M146.8 297.8h0M115.2 235.8h0M189.6 117.4h0M323.2 129.3h0M311.4 138.4h0M313.9 375.2h0M232.6 144.0h0M146.0 342.5h0M150.1 142.8h0M123.3 331.1h0M226.0 299.0h0M406.5 182.4h0M221.9 234.0h0M180.6 332.9h0M168.7 223.4h0M360.7 187.2h0M105.2 289.9h0M225.3 175.7h0M363.8 81.5h0M133.9 175.6h0M287.5 333.3h0M168.9 99.3h0M148.7 312.5h0M297.3 174.4h0M288.9 400.2h0M206.9 184.5h0M323.7 355.2h0M297.9 408.5h0M433.0 222.1h0M384.1 370.7h0M143.7 185.8h0M314.0 380.1h0M169.0 289.2h0M127.9 256.8h0M374.9 156.9h0M292.0 393.5h0M226.0 132.7h0M392.4 213.5h0M366.1 153.7h0M344.2 77.6h0M180.1 210.7h0M374.8 274.4h0M349.3 253.6h0M355.2 194.0h0M293.1 69.8h0M422.8 123.2h0M129.5 129.7h0M396.8 246.7h0M255.2 211.6h0M151.5 237.1h0M290.9 205.5h0M248.6 89.7h0M235.4 407.3h0M472.9 154.0h0M208.7 386.6h0M158.7 120.4h0M335.6 273.4h0M453.7 194.7h0M271.8 119.0h0M238.2 357.3h0M151.8 261.8h0M477.4 172.4h0M153.7 266.1h0M393.5 105.3h0M256.9 133.4h0M454.4 337.3h0M146.2 189.7h0M253.0 147.8h0M145.3 333.8h0M218.7 339.4h0M144.4 152.2h0M276.1 152.0h0M224.9 196.5h0M478.1 302.4h0M349.8 65.7h0M363.9 138.4h0M156.9 357.0h0M283.8 86.3h0M247.2 288.0h0M120.5 144.2h0M275.0 266.1h0M259.2 250.4h0M138.0 282.0h0M273.8 267.8h0M122.0 200.6h0M117.6 211.1h0M460.0 177.5h0M395.2 378.2h0M279.7 336.7h0M432.7 207.5h0M311.4 321.6h0M216.8 194.2h0M120.2 278.1h0M437.0 320.0h0M380.7 290.5h0M228.7 370.7h0M418.1 120.1h0M163.7 381.9h0M397.7 92.7h0M390.3 321.1h0M356.1 307.2h0M315.5 193.6h0M408.1 85.7h0M438.7 308.6h0M434.2 345.7h0M161.1 275.1h0M139.8 275.2h0M368.6 85.8h0M95.0 237.3h0M189.4 289.8h0M115.2 151.0h0M201.5 400.7h0M205.8 206.4h0M349.9 157.3h0M219.6 309.5h0M314.1 346.4h0M259.2 208.0h0M107.3 228.2h0M206.8 262.5h0M362.1 198.6h0M218.7 104.1h0M384.9 223.3h0M233.5 190.8h0M217.9 56.3h0M276.6 379.1h0M167.4 207.6h0M465.8 307.2h0M256.7 264.5h0M191.6 213.9h0M441.3 290.5h0M107.4 171.0h0M172.8 206.7h0M479.7 238.9h0M117.7 318.7h0M351.1 169.7h0M188.8 311.7h0M397.6 184.6h0M175.4 200.5h0M413.4 168.2h0M193.8 321.6h0M361.7 90.6h0M278.6 64.1h0M117.8 164.4h0M421.1 101.5h0M134.1 224.5h0M150.5 101.1h0M479.4 223.5h0M483.3 243.7h0M377.5 243.7h0M317.5 77.5h0M162.1 168.9h0M458.1 207.5h0M411.7 361.3h0M343.9 56.8h0M175.2 279.1h0M298.7 88.3h0M129.9 310.1h0M419.4 296.5h0M321.6 397.4h0M121.5 211.0h0M303.1 152.2h0M172.0 103.6h0M180.1 367.1h0M360.0 229.4h0M382.8 386.0h0M304.7 173.4h0M168.9 93.5h0M145.0 254.3h0M430.9 220.0h0M296.1 273.3h0M286.3 160.7h0M391.8 158.7h0M308.0 265.2h0M91.6 286.4h0M205.2 279.7h0M374.3 234.9h0M402.4 310.6h0M350.3 279.0h0M178.4 161.2h0M369.2 133.1h0M123.1 169.9h0M430.7 363.4h0M214.7 127.2h0M422.6 298.4h0M392.4 313.9h0M249.7 94.8h0M310.4 202.5h0M351.3 128.4h0M280.4 285.0h0M373.3 101.6h0M169.4 127.4h0M292.1 67.5h0M152.4 148.0h0M214.6 222.4h0M177.8 206.5h0M257.2 406.4h0M419.3 301.6h0M217.3 85.6h0M457.5 300.7h0M169.2 270.0h0M220.1 378.1h0M466.8 230.4h0M231.8 246.8h0M142.9 130.6h0M441.7 267.0h0M200.6 282.8h0M194.0 96.3h0M383.7 390.1h0M359.1 65.4h0M324.0 205.9h0M393.0 296.9h0M104.7 187.8h0M200.0 294.2h0M348.2 107.8h0M306.8 58.1h0M170.2 234.0h0M205.5 223.8h0M252.9 94.5h0M266.9 411.6h0M181.7 396.7h0M325.0 49.0h0M130.3 118.3h0M411.7 107.2h0M369.5 147.0h0M174.0 74.1h0M273.1 150.5h0M277.8 271.8h0M253.4 247.0h0M473.1 229.7h0M396.0 243.6h0M490.4 180.6h0M343.0 253.6h0M133.0 174.2h0M137.2 342.5h0M336.5 335.9h0M143.4 280.6h0M360.0 341.8h0M299.8 238.3h0M384.5 293.0h0M262.5 164.0h0M95.7 223.6h0M272.8 340.7h0M356.3 57.4h0M189.4 146.3h0M386.6 327.3h0M309.3 120.0h0M427.9 205.7h0M375.4 345.7h0M448.5 326.0h0M237.1 240.5h0M157.3 248.0h0M261.6 412.3h0M381.0 338.7h0M120.6 140.4h0M401.2 74.5h0M197.9 208.0h0M426.7 212.3h0M345.6 361.4h0M445.9 242.3h0M412.8 344.8h0M435.4 359.8h0M272.1 398.3h0M227.1 202.5h0M111.6 182.9h0M374.9 136.8h0M124.1 242.6h0M376.9 170.5h0M355.6 416.7h0M314.2 43.8h0M130.3 313.7h0M409.5 182.4h0M400.9 190.8h0M137.5 317.5h0M363.3 129.0h0M312.2 419.2h0M101.1 259.7h0M265.9 363.3h0M216.9 394.8h0M438.0 273.2h0M195.6 95.3h0M305.3 408.5h0M116.5 163.7h0M332.1 256.3h0M296.4 109.5h0M472.0 166.2h0M135.6 300.8h0M474.1 281.2h0M222.2 179.3h0M413.6 140.9h0M271.7 43.7h0M182.8 189.3h0M418.6 184.1h0M135.4 108.2h0M184.5 275.5h0M163.0 369.3h0M231.9 361.3h0M453.3 131.8h0M286.6 80.5h0M402.3 157.6h0M315.0 185.9h0M349.6 405.6h0M342.0 372.1h0M341.2 388.9h0M488.1 185.9h0M481.5 201.2h0M313.4 87.3h0M211.0 234.7h0M351.5 139.2h0M258.5 271.3h0M163.4 300.8h0M193.4 359.5h0M357.2 355.5h0M110.7 269.6h0M209.3 274.7h0M465.0 135.8h0M197.2 206.4h0M357.6 260.2h0M393.9 154.4h0M220.2 124.9h0M187.9 123.9h0M394.0 369.2h0M282.4 336.3h0M344.1 95.8h0M401.0 163.6h0M253.6 192.2h0M173.1 369.2h0M318.9 191.7h0M258.8 379.7h0M256.7 262.5h0M238.0 177.1h0M210.5 352.9h0M350.7 163.5h0M342.6 329.5h0M221.6 239.8h0M269.6 371.0h0M231.7 110.2h0M374.5 80.7h0M168.6 363.7h0M291.3 98.1h0M143.1 329.9h0M345.2 123.9h0M145.8 217.9h0M379.5 164.6h0M173.5 167.4h0M232.4 315.1h0M211.0 191.8h0M390.5 208.0h0M366.3 220.8h0M342.4 67.5h0M411.6 214.4h0M171.8 356.8h0M368.9 387.0h0M148.1 111.1h0M364.9 391.9h0M277.2 130.4h0M437.5 142.0h0M388.3 292.0h0M329.2 216.5h0M291.8 300.8h0M294.5 137.3h0M128.6 182.8h0M419.7 94.8h0M183.8 348.4h0M316.8 162.3h0M446.6 235.6h0M324.8 311.4h0M315.0 91.6h0M343.6 385.3h0M121.7 235.0h0M275.7 401.9h0M189.6 203.8h0M364.1 134.7h0M315.9 190.2h0M193.5 335.1h0M369.3 212.8h0M340.7 411.9h0M302.5 212.5h0M424.8 182.6h0M199.8 198.1h0M364.2 108.2h0M184.0 170.7h0M254.8 133.2h0M192.1 89.7h0M468.5 252.3h0M184.0 76.8h0M162.2 345.7h0M138.8 309.7h0M148.5 237.4h0M129.4 146.8h0M427.5 352.1h0M166.6 161.9h0M380.6 275.9h0M216.2 133.5h0M204.5 108.1h0M177.4 323.1h0M243.3 130.4h0M217.7 361.7h0M274.4 339.2h0M128.3 260.7h0M337.7 154.8h0M181.8 105.6h0M161.4 93.5h0M325.8 377.0h0M385.0 212.3h0M340.4 384.7h0M168.2 96.1h0M148.6 219.8h0M373.9 335.0h0M278.4 409.8h0M273.3 199.7h0M391.3 148.7h0M171.8 90.5h0M463.8 217.8h0M262.8 286.2h0M188.0 222.7h0M249.4 41.1h0M237.9 264.4h0M227.3 386.7h0M407.6 126.9h0M318.1 120.0h0M261.7 388.9h0M381.1 202.2h0M112.1 231.4h0M193.0 209.5h0M416.8 179.2h0M345.0 216.2h0M180.0 337.3h0M338.3 416.3h0M98.8 253.7h0M164.4 150.6h0M188.3 352.5h0M177.8 142.7h0M271.8 243.5h0M97.5 265.6h0M191.1 191.1h0M222.4 401.2h0M190.0 249.3h0M431.9 327.9h0M133.5 171.2h0M253.2 207.1h0M401.9 206.3h0M183.5 181.2h0M456.5 236.1h0M165.5 82.2h0M162.5 358.4h0M319.4 55.1h0M267.7 361.0h0M336.2 131.8h0M229.6 145.8h0M460.6 155.7h0M341.6 335.8h0M326.1 298.8h0M331.4 407.6h0M242.8 175.9h0M291.4 233.9h0M126.0 242.7h0M302.2 391.7h0M332.8 358.0h0M112.6 173.8h0M342.0 204.4h0M315.7 92.9h0M349.3 161.6h0M357.8 204.8h0M295.0 302.6h0M423.6 305.9h0M269.0 55.5h0M179.9 334.1h0M262.8 236.2h0M438.8 156.9h0M291.4 113.4h0M183.1 306.4h0M198.1 157.6h0M280.8 149.0h0M153.0 255.4h0M222.0 72.7h0M94.6 258.4h0M163.9 277.0h0M311.2 262.9h0M248.4 160.1h0M224.8 311.2h0M404.3 239.7h0M240.9 396.2h0M190.4 125.2h0M311.6 367.5h0M369.7 64.7h0M235.0 138.0h0M474.8 206.1h0M285.8 73.2h0M339.9 76.8h0M282.8 80.3h0M320.3 134.0h0M99.4 256.0h0M391.8 153.9h0M227.2 347.6h0M105.1 295.7h0M340.7 293.7h0M232.8 233.6h0M241.2 207.1h0M198.2 306.0h0M172.4 175.1h0M299.6 263.7h0M211.4 215.1h0M219.0 301.1h0M430.6 302.6h0M244.9 254.1h0M475.3 284.9h0M408.4 320.8h0M443.2 241.1h0M127.3 153.2h0M255.7 277.5h0M257.8 285.9h0M312.6 205.9h0M315.2 215.1h0M231.0 175.0h0M121.1 126.5h0M132.2 267.4h0M336.6 361.5h0M299.1 57.7h0M391.4 130.2h0M181.5 315.7h0M210.8 87.3h0M124.7 349.7h0M334.8 332.1h0M180.5 202.6h0M277.4 241.8h0M294.5 122.6h0M271.3 359.6h0M202.9 194.2h0M196.3 221.9h0M143.0 239.2h0M456.3 218.2h0M333.0 46.5h0M394.6 87.3h0M311.7 405.1h0M311.6 359.9h0M141.1 246.1h0M216.7 231.0h0M300.2 195.3h0M365.5 51.6h0M193.0 211.4h0M157.5 244.4h0M304.1 385.9h0M157.9 101.4h0M384.7 334.2h0M195.5 272.5h0M191.7 109.9h0M280.8 316.0h0M203.7 74.3h0M344.3 180.9h0M232.1 89.7h0M177.7 131.4h0M249.9 392.3h0M292.4 141.4h0M223.9 401.8h0M99.6 194.0h0M355.7 272.1h0M180.8 368.2h0M274.9 251.5h0M121.4 155.9h0M132.5 344.5h0M144.0 310.9h0M326.1 160.9h0M314.8 280.1h0M421.6 136.3h0M366.2 372.5h0M210.3 385.8h0M304.4 89.9h0M344.1 410.6h0M325.7 262.9h0M124.0 274.7h0M264.3 384.7h0M121.6 173.9h0M287.5 341.2h0M281.5 136.3h0M433.0 97.3h0M283.9 305.9h0M151.3 246.3h0M136.6 144.0h0M375.7 208.8h0M399.9 175.8h0M222.0 220.9h0M190.1 234.7h0M325.1 67.5h0M262.3 290.5h0M96.5 207.2h0M157.3 101.8h0M113.4 287.6h0M322.4 285.4h0M132.3 279.6h0M419.1 108.9h0M337.1 107.6h0M205.8 195.8h0M490.6 213.1h0M415.8 96.3h0M174.7 180.6h0M374.1 305.1h0M291.9 107.7h0M135.1 317.6h0M147.1 255.2h0M326.8 410.1h0M314.5 412.6h0M298.2 219.2h0M171.9 149.8h0M155.1 92.1h0M295.6 68.8h0M191.1 144.0h0M240.7 120.9h0M394.5 398.2h0M141.6 362.0h0M168.9 298.5h0M96.4 249.5h0M170.0 90.5h0M375.4 337.4h0M384.1 215.1h0M436.6 134.0h0M232.7 105.0h0M254.1 188.3h0M198.3 261.9h0M390.8 156.1h0M376.4 201.1h0M383.5 220.3h0M333.2 353.0h0M330.1 139.9h0M210.3 386.7h0M444.5 307.8h0M323.3 337.2h0M328.3 163.9h0M347.6 305.5h0M419.3 152.6h0M286.1 180.0h0M280.4 70.9h0M396.5 129.3h0M150.5 276.5h0M268.3 262.7h0M310.3 129.4h0M415.9 91.3h0M265.7 44.4h0M330.8 215.3h0M267.0 379.9h0M217.4 397.7h0M402.7 145.4h0M200.9 297.9h0M347.4 227.0h0M192.8 330.7h0M203.8 249.9h0M404.0 217.6h0M189.5 210.9h0M108.6 170.9h0M341.9 356.8h0M331.8 230.0h0M377.3 176.9h0M254.2 407.8h0M190.3 311.1h0M388.6 146.4h0M345.2 401.5h0M258.8 262.7h0M183.0 327.0h0M318.1 250.5h0M213.6 82.1h0M273.5 111.4h0M134.2 160.9h0M331.0 256.6h0M200.2 66.0h0M290.1 249.7h0M225.0 267.2h0M364.8 246.7h0M352.9 158.7h0M279.9 244.8h0M272.3 205.3h0M460.2 166.1h0M404.7 316.7h0M346.7 163.3h0M346.2 76.2h0M134.7 256.1h0M406.9 119.4h0M233.5 234.6h0M392.0 71.5h0M362.4 214.0h0M332.1 211.1h0M236.5 179.0h0M372.4 172.6h0M371.9 187.4h0M482.4 233.3h0M273.7 111.7h0M407.2 372.4h0M139.2 127.3h0M312.4 138.0h0M370.4 260.8h0M193.5 100.5h0M228.5 129.4h0M158.5 216.4h0M160.9 152.7h0M310.4 328.2h0M320.4 283.1h0M245.1 81.8h0M370.7 206.4h0M303.4 80.4h0M256.6 338.7h0M224.2 335.9h0M267.2 350.4h0M210.9 296.4h0M125.8 195.9h0M275.1 421.1h0M252.7 165.2h0M299.8 255.1h0M371.3 264.7h0M176.4 113.2h0M366.8 61.3h0M196.5 115.6h0M220.4 69.9h0M323.9 93.1h0M247.7 73.2h0M336.7 390.7h0M235.9 379.3h0M297.4 199.0h0M276.9 125.6h0M304.8 201.6h0M217.8 219.6h0M441.7 311.3h0M214.2 313.5h0M229.9 312.7h0M117.5 280.4h0M417.2 311.0h0M168.8 342.5h0M360.9 345.8h0M351.8 118.1h0M240.8 146.7h0M262.3 293.7h0M133.2 302.4h0M110.4 206.7h0M180.7 100.6h0M225.0 277.3h0M245.4 94.2h0M227.0 328.7h0M203.6 182.0h0M404.5 96.6h0M203.7 383.3h0M260.1 254.8h0M349.4 261.3h0M212.1 276.2h0M352.7 139.5h0M412.9 366.3h0M179.4 358.5h0M194.6 265.1h0M373.5 155.4h0M146.8 252.6h0M138.1 164.4h0M485.3 231.0h0M430.9 147.4h0M409.0 131.9h0M368.4 299.5h0M208.8 134.4h0M342.8 308.8h0M357.1 277.8h0M220.0 272.0h0M204.7 144.9h0M251.5 224.2h0M190.9 75.1h0M252.1 45.0h0M232.8 53.4h0M225.0 231.1h0M420.5 86.4h0M218.9 74.7h0M363.3 282.7h0M383.0 295.3h0M425.4 252.5h0M154.8 265.5h0M230.7 393.4h0M478.5 242.3h0M261.9 284.0h0M163.1 121.9h0M221.0 329.2h0M460.1 143.7h0M225.5 277.4h0M399.4 345.0h0M387.2 274.2h0M147.4 109.4h0M353.6 281.2h0M351.5 58.4h0M175.1 272.4h0M139.6 327.0h0M271.6 187.5h0M283.5 258.7h0M247.8 175.6h0M352.7 223.9h0M304.3 172.9h0M236.0 403.1h0M153.8 114.6h0M369.9 168.9h0M351.5 380.2h0M138.6 188.1h0M165.7 117.9h0M203.6 151.0h0M294.8 56.0h0M301.7 410.3h0M323.4 290.3h0M228.2 223.2h0M415.3 175.4h0M252.5 163.7h0M313.7 371.8h0M188.5 82.5h0M447.8 117.0h0M349.6 83.1h0M467.6 306.8h0M222.2 79.3h0M320.8 252.4h0M445.2 285.6h0M391.4 181.0h0M427.5 256.9h0M233.3 86.7h0M293.3 258.3h0M316.2 381.8h0M208.5 72.8h0M320.1 301.5h0M114.2 192.2h0M269.5 189.2h0M221.3 372.2h0M162.3 277.7h0M111.0 153.1h0M249.1 204.2h0M404.8 277.9h0M348.1 81.2h0M297.2 112.2h0M468.9 148.5h0M299.1 70.1h0M378.1 174.7h0M164.1 305.7h0M432.4 353.4h0M218.1 74.0h0M179.1 276.1h0M428.8 203.1h0M226.2 385.0h0M458.7 264.1h0M263.0 112.4h0M190.3 186.1h0M212.8 103.4h0M373.9 314.5h0M369.3 222.4h0M221.2 210.8h0M308.7 100.7h0M167.2 111.8h0M287.5 356.9h0M281.5 359.1h0M250.7 349.4h0M257.1 83.3h0M282.4 356.2h0M277.0 129.7h0M206.9 106.0h0M260.9 92.7h0M139.6 329.6h0M333.7 420.3h0M422.1 245.9h0M197.7 195.0h0M128.6 205.5h0M129.6 213.9h0M166.9 201.2h0M402.2 197.5h0M138.0 356.7h0M308.4 180.3h0M459.5 186.8h0M304.8 59.7h0M225.8 389.4h0M185.6 216.8h0M253.3 378.4h0M385.8 301.6h0M382.3 368.7h0M438.2 232.9h0M366.3 83.1h0M294.3 300.5h0M375.6 68.5h0M261.6 313.7h0M374.6 65.6h0M387.4 91.0h0M250.9 174.2h0M162.4 267.3h0M188.8 220.3h0M458.5 232.6h0M411.5 277.3h0M452.0 280.8h0M209.9 283.1h0M196.7 251.3h0M120.6 336.7h0M229.0 358.0h0M149.0 354.0h0M309.3 140.9h0M144.6 136.7h0M170.9 286.7h0M413.2 94.0h0M372.7 87.0h0M132.2 195.5h0M406.9 348.8h0M406.8 333.7h0M178.3 121.8h0M124.8 346.1h0M180.8 213.6h0M158.1 215.5h0M385.5 175.8h0M457.6 208.7h0M266.0 231.9h0M448.4 297.9h0M315.6 358.7h0M213.8 316.4h0M297.6 366.0h0M171.0 107.1h0M164.5 146.6h0M446.6 175.7h0M265.4 339.8h0M327.3 159.0h0M300.2 301.3h0M445.2 240.6h0M322.2 210.5h0M216.8 251.5h0M321.2 233.0h0M329.1 401.6h0M252.2 213.7h0M421.1 355.4h0M245.9 309.8h0M238.7 324.0h0M270.8 303.2h0M168.4 273.0h0M450.3 269.1h0M355.1 336.7h0M252.7 103.8h0M271.9 242.1h0M159.2 187.0h0M252.5 84.6h0M431.1 346.3h0M451.3 204.3h0M182.2 111.4h0M279.7 378.4h0M257.3 184.3h0M333.1 84.1h0M232.5 415.3h0M161.1 275.4h0M327.8 390.5h0M300.2 61.5h0M252.8 82.4h0M347.1 187.5h0M273.2 98.4h0M229.8 308.8h0M147.2 284.4h0M314.0 167.3h0M307.6 200.6h0M231.8 52.3h0M289.3 225.5h0M321.2 183.7h0M327.4 108.1h0M302.7 392.0h0M222.7 155.8h0M263.2 48.7h0M444.7 142.5h0M453.5 249.6h0M342.7 393.5h0M269.7 79.2h0M269.2 116.1h0M366.9 82.5h0M142.6 128.8h0M331.8 239.7h0M221.0 127.0h0M122.7 194.1h0M300.3 168.5h0M314.0 282.5h0M412.0 366.2h0M415.5 161.7h0M330.4 144.5h0M294.5 269.5h0M288.3 396.8h0M318.8 157.6h0M326.1 358.8h0M259.8 79.1h0M177.6 376.7h0M399.0 219.2h0M180.1 280.4h0M450.5 252.1h0M186.8 355.8h0M327.2 151.2h0M291.4 138.8h0M390.2 82.3h0M160.8 77.3h0M237.9 397.0h0M466.9 250.6h0M392.2 221.7h0M194.7 204.4h0M351.6 50.7h0M374.5 302.3h0M256.6 52.0h0M174.6 155.4h0M239.4 43.1h0M138.2 318.5h0M149.3 168.6h0M265.6 383.0h0M232.9 390.2h0M411.0 101.2h0M244.8 303.1h0M130.2 325.7h0M365.7 347.6h0M401.4 102.9h0M228.6 262.7h0M159.7 257.7h0M462.3 305.1h0M126.0 231.2h0M254.1 320.0h0M176.2 169.9h0M179.0 250.0h0M268.6 372.2h0M352.0 162.7h0M286.5 117.5h0M390.0 319.2h0M304.4 305.3h0M262.2 408.6h0M267.5 154.2h0M234.6 125.2h0M264.8 72.1h0M168.2 294.4h0M272.7 89.0h0M280.9 234.5h0M399.0 220.8h0M336.8 166.8h0M104.2 210.7h0M336.7 284.6h0M142.1 222.1h0M170.0 112.0h0M263.9 73.6h0M113.7 293.7h0M282.8 143.9h0M327.5 406.9h0M392.6 287.4h0M301.3 257.2h0M299.3 232.9h0M261.7 261.1h0M451.7 313.7h0M301.6 406.9h0M441.0 272.9h0M345.4 381.0h0M363.8 260.4h0M145.3 112.1h0M111.7 285.5h0M338.7 221.3h0M203.1 186.7h0M484.3 186.0h0M239.6 220.0h0M166.7 86.3h0M150.1 330.6h0M354.3 165.8h0M420.7 160.8h0M320.4 114.6h0M229.8 204.5h0M273.1 164.5h0M247.1 370.3h0M235.0 119.9h0M166.4 139.1h0M98.6 234.5h0M322.9 104.5h0M257.0 110.2h0M230.1 75.7h0M398.8 185.3h0M384.9 259.2h0M363.7 385.6h0M298.3 47.7h0M153.6 94.8h0M302.0 188.9h0M393.3 165.1h0M202.2 253.9h0M453.7 203.1h0M338.2 258.7h0M420.5 332.1h0M296.0 270.6h0M352.6 368.8h0M187.4 323.4h0M381.5 360.6h0M385.1 131.9h0M390.7 96.9h0M194.8 111.0h0M110.5 295.3h0M269.4 196.6h0M209.1 326.9h0M404.8 183.0h0M410.0 370.6h0M357.5 140.8h0M167.5 272.8h0M448.7 234.4h0M414.0 153.9h0M316.0 137.0h0M100.7 236.6h0M275.3 202.0h0M332.5 276.3h0M421.5 90.4h0M152.0 311.5h0M444.6 217.4h0M250.2 100.2h0M375.4 138.9h0M300.4 185.4h0M398.4 303.4h0M392.6 76.1h0M282.8 270.5h0M130.1 248.7h0M343.7 71.0h0M98.6 250.2h0M116.5 304.0h0M292.7 182.8h0M263.1 86.0h0M214.4 346.8h0M437.4 258.3h0M289.2 327.9h0M341.4 193.2h0M272.3 242.8h0M332.1 246.2h0M403.6 299.9h0M258.7 291.1h0M260.6 46.4h0M293.6 82.0h0M256.9 232.5h0M379.9 306.4h0M378.7 201.3h0M201.8 190.5h0M284.5 317.3h0M152.8 307.8h0M240.0 306.6h0M292.1 90.5h0M475.3 214.4h0M280.3 66.0h0M414.8 295.4h0M394.5 214.0h0M124.4 246.3h0M176.2 151.0h0M184.2 229.4h0M102.8 290.8h0M346.2 386.0h0M209.4 100.7h0M279.1 418.7h0M281.0 369.8h0M252.8 390.9h0M434.6 212.1h0M166.5 201.0h0M361.0 99.7h0M333.9 395.0h0M301.3 110.5h0M222.6 277.9h0M103.3 264.8h0M276.7 74.6h0M234.7 186.7h0M143.8 115.3h0M373.9 235.4h0M197.1 337.0h0M264.3 205.6h0M378.8 131.6h0M219.0 289.8h0M339.5 392.5h0M296.9 75.4h0M353.5 324.2h0M133.0 166.5h0M118.3 240.0h0M406.6 94.0h0M305.8 216.0h0M188.5 318.9h0M353.3 221.1h0M280.5 336.8h0M130.2 249.9h0M390.9 353.0h0M115.4 145.8h0M235.8 76.0h0M252.1 48.9h0M430.2 179.4h0M328.2 183.1h0M437.2 281.2h0M477.7 175.9h0M248.7 411.5h0M456.4 235.1h0M363.8 177.6h0M343.2 220.6h0M388.2 125.2h0M342.0 269.6h0M298.1 119.8h0M269.7 384.3h0M272.9 83.4h0M353.8 383.0h0M143.4 230.9h0M392.3 243.7h0M330.1 383.1h0M464.8 179.8h0M290.7 106.3h0M208.5 57.6h0M240.6 193.8h0M428.9 346.6h0M326.0 283.1h0M227.0 125.1h0M370.3 306.2h0M193.4 120.9h0M135.5 325.6h0M272.9 286.2h0M153.2 217.7h0M374.6 138.0h0M447.8 225.4h0M262.8 383.4h0M364.3 199.9h0M107.3 169.7h0M138.7 171.4h0M118.2 182.9h0M182.1 151.3h0M459.6 221.6h0M140.0 291.7h0M355.1 146.6h0M449.4 113.2h0M164.0 298.6h0M436.3 116.0h0M409.3 282.2h0M170.6 154.8h0M198.2 366.9h0M149.8 255.7h0M387.1 253.4h0M229.5 227.2h0M174.9 145.0h0M363.8 406.3h0M393.3 172.6h0M392.8 245.1h0M251.1 235.7h0M299.7 51.3h0M454.3 300.1h0M194.5 179.6h0M438.4 207.4h0M124.1 293.9h0M250.1 270.7h0M357.7 162.2h0M313.0 253.2h0M468.9 144.7h0M434.9 355.9h0M446.1 169.9h0M313.1 414.2h0M319.9 325.0h0M250.9 143.8h0M308.8 81.6h0M343.2 403.9h0M451.3 289.8h0M117.1 225.1h0M428.5 352.7h0M338.2 212.8h0M321.4 227.5h0M374.9 91.8h0M253.2 111.2h0M289.6 93.7h0M152.6 88.6h0M331.2 54.0h0M176.8 135.0h0M265.3 91.8h0M358.4 372.2h0M198.1 201.0h0M327.7 338.6h0M332.8 402.7h0M291.1 90.0h0M369.7 109.4h0M436.5 335.8h0M218.9 369.0h0M338.9 134.9h0M179.1 327.8h0M393.2 80.8h0M406.5 133.6h0M260.0 256.3h0M421.4 381.5h0M344.0 404.9h0M336.6 412.7h0M156.4 136.0h0M187.4 91.1h0M237.0 301.2h0M362.7 293.1h0M267.6 175.2h0M267.1 196.7h0M139.0 192.3h0M113.9 231.4h0M317.2 110.0h0M218.4 311.2h0M372.0 233.5h0M446.7 293.8h0M182.8 387.6h0M359.9 375.8h0M318.1 177.8h0M436.6 189.5h0M451.8 251.5h0M361.3 182.1h0M262.0 287.6h0M224.4 370.4h0M212.9 123.8h0M413.2 303.6h0M243.6 376.8h0M215.2 154.4h0M273.7 245.7h0M327.0 329.8h0M112.6 261.9h0M322.3 216.1h0M225.7 149.6h0M326.8 85.3h0M165.7 341.8h0M203.6 235.2h0M345.3 239.6h0M403.5 244.7h0M159.7 286.4h0M115.6 205.1h0M175.2 299.7h0M168.0 257.8h0M273.9 208.7h0M172.2 217.6h0M205.3 143.6h0M387.9 250.2h0M102.1 211.8h0M265.3 309.2h0M442.8 333.1h0M220.9 166.4h0M192.6 164.5h0M203.3 108.5h0M292.0 74.3h0M210.0 368.4h0M369.1 384.9h0M100.3 285.0h0M146.2 227.0h0M322.9 300.0h0M314.6 314.3h0M232.7 59.5h0M287.2 313.8h0M245.4 204.9h0M308.2 172.8h0M281.7 366.3h0M182.2 295.3h0M164.7 259.4h0M384.9 215.2h0M411.9 259.9h0M309.3 246.9h0M459.3 310.9h0M160.0 242.2h0M282.5 351.6h0M141.3 314.4h0M336.5 400.5h0M488.3 242.2h0M178.0 269.0h0M109.7 161.3h0M341.5 360.4h0M193.1 82.4h0M420.3 202.2h0M197.7 364.2h0M154.0 276.2h0M247.8 361.6h0M190.9 280.8h0M479.2 286.0h0M252.1 152.3h0M187.3 269.0h0M436.8 309.2h0M426.5 300.7h0M285.5 234.5h0M177.9 283.7h0M337.8 226.6h0M334.5 99.2h0M469.5 163.1h0M443.7 160.3h0M168.9 238.2h0M271.2 101.9h0M260.3 197.3h0M212.5 119.5h0M187.5 364.1h0M274.0 95.9h0M222.6 361.4h0M482.5 215.5h0M405.4 364.9h0M275.0 102.2h0M145.5 233.8h0M416.0 248.9h0M242.6 186.0h0M430.5 212.6h0M307.8 212.9h0M227.2 328.3h0M277.0 58.7h0M427.3 140.6h0M235.0 113.9h0M244.1 67.2h0M436.6 193.5h0M163.9 337.7h0M244.8 191.5h0M124.8 261.1h0M353.3 412.8h0M179.7 305.0h0M440.7 120.0h0M269.9 339.7h0M425.6 174.7h0M307.5 53.2h0M177.3 328.2h0M324.5 227.4h0M374.3 132.2h0M421.3 123.5h0M221.8 122.5h0M446.1 287.2h0M427.2 353.8h0M207.0 351.1h0M142.5 105.7h0M178.2 153.0h0M283.4 360.4h0M383.2 279.4h0M215.6 275.5h0M270.5 170.8h0M334.4 44.4h0M182.1 139.6h0M441.5 319.9h0M310.8 273.8h0M285.7 50.3h0M206.4 223.3h0M166.5 222.7h0M297.4 90.4h0M277.0 358.5h0M210.3 142.6h0M190.9 364.6h0M252.6 160.4h0M364.5 399.0h0M247.9 308.8h0M371.7 99.3h0M154.8 358.6h0M190.0 333.8h0M262.5 216.3h0M187.2 163.6h0M296.9 308.7h0M213.1 232.2h0M133.0 235.5h0M391.6 265.2h0M272.6 207.0h0M427.8 342.4h0M444.3 179.0h0M367.1 273.7h0M390.9 213.7h0M452.2 324.6h0M197.6 160.1h0M353.7 81.2h0M190.0 206.1h0M483.0 224.3h0M154.7 100.4h0M285.6 140.1h0M414.2 263.5h0M241.1 414.5h0M212.1 403.5h0M209.8 280.5h0M117.8 208.6h0M155.5 360.5h0M135.1 267.1h0M365.8 374.0h0M161.1 202.2h0M406.3 294.4h0M278.2 406.5h0M278.2 408.4h0M167.0 112.1h0M487.8 275.6h0M277.7 371.0h0M397.1 303.0h0M188.5 287.1h0M227.6 379.4h0M402.3 308.9h0M409.9 168.1h0M280.5 322.9h0M218.0 121.2h0M173.3 116.1h0M207.0 200.8h0M295.4 167.6h0M115.4 272.6h0M370.9 200.7h0M185.0 81.1h0M279.4 227.9h0M303.7 258.2h0M214.8 101.4h0M227.8 68.8h0M111.2 201.2h0M270.3 123.7h0M279.1 183.5h0M360.8 122.8h0M177.6 243.2h0M462.1 268.3h0M387.6 173.2h0M363.7 237.5h0M173.9 310.5h0M284.5 177.7h0M401.0 236.3h0M411.0 84.4h0M243.3 127.7h0M158.5 287.8h0M415.6 115.1h0M333.5 313.9h0M397.4 298.1h0M133.1 337.6h0M219.0 410.6h0M166.7 230.5h0M248.5 113.2h0M140.7 118.7h0M297.5 279.8h0M300.4 274.3h0M359.6 234.2h0M471.7 271.9h0M241.2 159.8h0M277.7 106.8h0M270.9 142.3h0M224.1 397.4h0M179.8 329.4h0M134.1 136.6h0M387.4 98.0h0M158.7 316.9h0M165.1 255.2h0M210.0 92.6h0M283.3 125.9h0M240.1 286.9h0M328.5 358.2h0M249.9 291.0h0M400.5 171.6h0M416.3 372.9h0M217.1 382.1h0M239.6 89.6h0M123.9 140.5h0M437.4 293.4h0M315.9 208.2h0M140.8 122.4h0M320.7 413.5h0M178.3 204.7h0M350.4 346.5h0M239.6 131.7h0M346.6 419.9h0M380.9 143.5h0M229.0 194.6h0M298.6 238.5h0M281.7 312.4h0M436.1 315.2h0M286.6 111.4h0M128.9 148.7h0M432.1 179.1h0M99.8 244.4h0M139.4 210.7h0M479.3 241.3h0M213.5 248.6h0M344.8 210.9h0M275.0 39.8h0M356.6 168.8h0M181.7 70.4h0M229.6 307.4h0M325.1 142.7h0M174.6 131.5h0M240.2 236.7h0M247.7 56.3h0M277.7 413.3h0M328.7 111.8h0M375.3 110.1h0M417.3 90.8h0M381.2 82.2h0M253.3 253.5h0M115.1 314.8h0M240.8 223.1h0M191.9 354.6h0M192.2 122.2h0M344.1 53.7h0M333.9 405.8h0M210.1 390.9h0M435.3 329.9h0M452.1 126.1h0M214.5 162.6h0M224.7 120.5h0M106.6 228.6h0M176.7 321.2h0M285.9 75.1h0M325.5 327.9h0M372.5 173.3h0M431.2 167.3h0M455.4 325.1h0M141.7 287.0h0M256.7 336.9h0M177.0 336.5h0M251.7 320.0h0M186.3 187.0h0M273.7 37.4h0M151.8 204.1h0M335.4 388.5h0M286.1 365.6h0M155.6 279.8h0M275.8 304.7h0M379.1 72.4h0M403.3 158.3h0M419.6 274.9h0M298.8 228.3h0M109.7 191.5h0M376.8 102.4h0M270.4 182.6h0M213.6 356.4h0M205.7 125.9h0M156.2 192.5h0M233.2 180.4h0M486.0 267.1h0M305.9 173.3h0M256.2 411.3h0M169.6 142.9h0M188.9 297.8h0M356.6 366.0h0M353.0 348.6h0M446.0 308.4h0M159.9 228.4h0M209.3 396.4h0M391.3 115.1h0M166.1 211.6h0M418.2 384.2h0M407.5 164.0h0M469.1 306.4h0M155.3 264.9h0M207.6 359.0h0M365.0 254.3h0M442.0 343.0h0M445.1 234.8h0M225.4 303.8h0M107.5 302.2h0M272.8 258.6h0M417.2 114.5h0M322.7 162.1h0M234.3 228.6h0M297.8 120.9h0M321.7 417.6h0M102.5 194.4h0M320.3 352.5h0M149.9 292.7h0M245.7 218.1h0M380.4 238.6h0M198.0 190.9h0M143.5 333.7h0M162.1 353.2h0M337.2 308.6h0M325.4 65.9h0M380.2 214.3h0M491.8 205.4h0M341.8 273.6h0M400.6 79.4h0M348.4 391.1h0M332.0 141.6h0M328.7 241.8h0M438.0 193.5h0M354.3 364.6h0M231.8 278.8h0M290.5 269.1h0M276.8 333.9h0M132.9 255.3h0M193.5 267.9h0M180.1 267.9h0M124.5 293.1h0M447.3 153.1h0M484.4 269.5h0M170.1 322.2h0M157.9 307.0h0M410.4 332.1h0M348.6 102.5h0M216.3 313.1h0M325.5 110.5h0M157.1 347.0h0M377.9 188.7h0M441.2 159.6h0M218.9 146.9h0M336.8 234.1h0M389.0 192.5h0M358.4 382.0h0M164.1 127.7h0M351.2 336.4h0M266.4 52.4h0M147.7 268.2h0M212.1 148.6h0M257.3 115.2h0M288.5 371.0h0M270.6 234.3h0M427.1 349.2h0M195.5 276.8h0M242.7 60.3h0M198.2 210.9h0M373.8 275.7h0M255.8 168.4h0M117.4 242.9h0M389.9 229.0h0M157.3 307.2h0M146.7 305.2h0M400.3 175.9h0M291.7 126.1h0M303.8 211.2h0M163.4 223.2h0M189.8 211.3h0M310.8 193.9h0M445.6 196.9h0M279.8 156.8h0M363.1 241.1h0M249.9 263.7h0M222.7 145.3h0M193.0 299.0h0M429.8 155.4h0M405.0 292.1h0M447.6 153.1h0M361.8 190.3h0M315.1 270.9h0M476.0 271.7h0M246.6 181.0h0M458.7 137.1h0M202.4 213.3h0M150.2 295.6h0M209.8 116.7h0M305.7 202.5h0M424.1 253.9h0M367.6 412.7h0M446.8 203.9h0M123.3 215.4h0M358.2 124.2h0M180.9 141.9h0M337.6 170.3h0M279.9 298.6h0M414.3 105.5h0M304.7 116.7h0M403.7 312.9h0M93.7 261.9h0M162.7 154.1h0M218.1 183.1h0M319.6 411.7h0M139.4 133.7h0M225.1 292.0h0M119.9 218.5h0M284.2 64.7h0M347.0 228.8h0M250.2 341.6h0M364.5 72.7h0M479.8 257.5h0M322.9 82.3h0M188.1 117.7h0M271.8 60.8h0M241.8 376.8h0M231.7 390.9h0M353.7 138.7h0M296.1 316.2h0M161.2 265.1h0M356.7 132.1h0M303.9 378.2h0M285.5 158.8h0M175.5 263.9h0M385.9 366.3h0M303.6 216.8h0M117.8 221.7h0M235.5 317.0h0M217.3 81.8h0M399.9 144.7h0M239.4 94.4h0M307.2 341.1h0M176.5 186.7h0M225.2 253.3h0M332.7 199.1h0M260.2 411.3h0M463.7 132.3h0M219.4 132.8h0M241.1 244.8h0M363.1 58.0h0M356.3 268.5h0M126.8 166.9h0M149.0 262.7h0M123.2 256.5h0M454.3 313.2h0M250.8 252.7h0M129.9 285.4h0M326.1 101.7h0M184.0 122.6h0M235.1 277.4h0M112.5 177.4h0M366.5 194.4h0M198.6 178.6h0M450.2 267.0h0M191.1 305.5h0M142.9 96.4h0M284.4 73.6h0M311.7 83.9h0M327.1 205.0h0M306.7 114.3h0M140.8 170.7h0M195.4 186.2h0M439.0 214.9h0M338.3 208.2h0M294.5 390.0h0M186.8 94.9h0M197.7 81.8h0M295.4 239.5h0M211.4 308.4h0M220.5 95.2h0M252.8 59.4h0M145.5 199.5h0M435.2 128.9h0M331.4 220.9h0M364.3 224.8h0M318.8 287.5h0M367.5 84.4h0M221.2 243.1h0M336.1 237.5h0M232.8 70.1h0M214.1 222.3h0M161.0 169.6h0M139.2 262.6h0M103.2 239.9h0M209.6 387.4h0M427.2 221.9h0M434.1 299.7h0M362.0 296.3h0M395.8 254.4h0M102.8 303.8h0M227.6 384.6h0M149.2 367.4h0M282.9 245.8h0M321.1 145.8h0M237.0 229.4h0M328.2 318.0h0M207.9 195.2h0M298.6 144.2h0M294.2 134.8h0M109.2 150.1h0M312.9 102.2h0M157.5 297.6h0M245.9 283.8h0M320.1 193.6h0M330.2 254.0h0M293.9 243.2h0M332.1 134.9h0M330.3 98.8h0M290.1 375.6h0M342.5 119.9h0M147.2 251.4h0M241.8 343.1h0M433.9 106.5h0M227.5 336.3h0M131.7 317.6h0M378.3 386.0h0M401.9 140.5h0M240.5 125.4h0M344.7 111.6h0M207.5 72.8h0M182.1 369.5h0M230.0 240.8h0M202.9 91.3h0M244.4 180.3h0M354.0 190.9h0M382.2 139.6h0M462.5 173.7h0M203.5 85.2h0M242.5 354.8h0M134.9 122.9h0M174.7 283.5h0M275.8 261.4h0M263.5 50.6h0M190.9 323.3h0M140.4 177.9h0M110.9 266.0h0M285.1 80.7h0M411.1 113.5h0M462.1 155.8h0M225.1 369.0h0M179.4 175.1h0M295.8 162.1h0M444.5 158.8h0M221.5 302.8h0M177.8 278.3h0M178.5 295.8h0M359.5 60.1h0M267.7 148.0h0M318.6 180.3h0M255.4 280.5h0M275.5 128.9h0M333.6 304.3h0M366.9 308.0h0M232.1 366.9h0M470.8 250.7h0M382.0 71.6h0M280.6 241.1h0M162.6 244.9h0M114.0 250.1h0M158.0 344.8h0M241.9 77.3h0M213.4 384.4h0M302.4 81.0h0M219.1 188.6h0M174.2 222.2h0M278.1 168.3h0M366.1 57.8h0M242.5 45.8h0M179.9 337.2h0M221.2 396.9h0M211.6 255.5h0M198.6 342.6h0M378.8 320.5h0M432.0 265.6h0M273.3 139.3h0M387.8 321.2h0M364.0 105.5h0M172.1 362.7h0M204.1 198.0h0M331.8 143.8h0M276.5 92.1h0M329.7 65.9h0M214.5 406.8h0M183.2 112.5h0M257.2 402.5h0M361.1 288.4h0M262.1 127.1h0M276.5 272.6h0M136.6 263.3h0M226.3 340.1h0M338.8 47.9h0M153.6 185.7h0M418.9 179.5h0M470.0 208.9h0M218.6 103.1h0M144.2 218.6h0M380.0 351.9h0M156.5 124.7h0M203.3 119.6h0M382.9 356.8h0M414.9 329.3h0M268.1 105.8h0M427.2 317.6h0M332.4 310.7h0M318.4 256.0h0M313.7 397.3h0M138.7 208.5h0M326.6 55.9h0M464.9 154.0h0M136.5 183.6h0M319.0 108.6h0M339.3 300.1h0M165.1 89.1h0M197.3 245.5h0M374.2 273.2h0M124.4 226.9h0M432.0 200.0h0M401.2 187.0h0M239.6 175.0h0M271.1 407.1h0M391.0 354.6h0M262.4 356.6h0M160.6 324.5h0M170.3 149.9h0M292.1 359.6h0M178.5 73.8h0M436.8 259.2h0M383.9 367.0h0M276.0 247.8h0M405.9 222.1h0M119.1 211.8h0M221.7 199.5h0M211.9 118.2h0M347.2 210.4h0M425.1 272.8h0M187.4 155.5h0M201.9 68.1h0M375.7 326.1h0M355.6 80.4h0M464.4 236.6h0M405.9 330.6h0M210.5 74.7h0M473.0 299.1h0M132.4 283.0h0M477.8 255.4h0M112.8 149.8h0M339.8 281.6h0M210.1 58.0h0M262.8 45.5h0M284.2 335.9h0M290.6 349.1h0M175.0 221.6h0M355.9 215.2h0M376.2 301.7h0M179.9 271.4h0M338.7 299.4h0M362.1 297.6h0M163.3 323.9h0M203.8 68.9h0M162.6 154.3h0M247.7 319.6h0M379.7 294.0h0M117.2 141.2h0M368.1 339.9h0M122.9 319.9h0M243.5 109.5h0M307.0 189.6h0M166.3 298.3h0M172.4 334.0h0M399.8 99.8h0M268.1 364.8h0M159.2 207.7h0M200.4 374.4h0M443.7 283.8h0M403.1 112.4h0M227.1 116.7h0M435.3 344.5h0M420.9 265.7h0M308.0 319.0h0M342.4 69.2h0M229.0 53.8h0M452.0 244.1h0M110.8 199.9h0M384.3 103.3h0M407.5 205.7h0M395.6 370.8h0M368.6 179.2h0M159.3 193.1h0M382.2 297.9h0M301.0 210.3h0M383.3 164.6h0M258.9 270.6h0M208.8 384.4h0M169.9 364.8h0M160.6 113.3h0M351.0 149.8h0M416.0 103.6h0M175.3 195.8h0M128.6 297.3h0M197.4 331.9h0M266.6 133.7h0M182.6 162.6h0M109.4 317.7h0M427.8 260.6h0M272.0 369.8h0M385.7 228.2h0M312.0 165.5h0M197.6 128.6h0M254.8 204.7h0M262.5 399.7h0M335.1 86.8h0M246.5 144.3h0M355.2 78.7h0M313.0 291.6h0M272.0 351.0h0M429.2 282.9h0M274.2 314.5h0M201.6 309.4h0M223.8 69.3h0M342.3 370.9h0M210.7 50.7h0M340.4 309.2h0M403.6 299.7h0M274.0 249.1h0M174.2 339.6h0M122.4 275.4h0M330.5 345.2h0M489.8 248.3h0M247.1 203.6h0M344.5 257.7h0M295.4 224.3h0M100.7 240.0h0M226.7 66.2h0M89.5 219.4h0M416.1 200.1h0M463.9 207.6h0M230.4 229.5h0M294.6 317.7h0M137.4 246.3h0M406.3 354.7h0M310.5 407.2h0M255.6 114.8h0M308.9 381.2h0M176.4 351.3h0M322.2 204.0h0M343.6 204.7h0M281.0 167.6h0M337.8 348.2h0M104.9 219.2h0M329.2 395.8h0M189.5 203.4h0M354.8 293.9h0M305.5 305.6h0M406.4 344.5h0M481.2 283.7h0M100.8 186.6h0M262.6 117.7h0M281.3 301.0h0M190.2 386.2h0M379.6 243.9h0M209.6 343.3h0M392.8 283.3h0M439.9 172.0h0M187.6 187.5h0M364.8 94.7h0M260.6 107.0h0M488.7 238.2h0M173.6 327.8h0M303.1 360.5h0M266.1 62.4h0M112.7 314.2h0M291.3 193.3h0M262.3 230.2h0M425.2 88.1h0M239.1 229.9h0M234.0 330.8h0M406.9 211.6h0M319.8 228.4h0M311.8 354.0h0M146.7 137.5h0M368.4 150.7h0M174.8 71.6h0M309.7 62.0h0M133.6 293.4h0M320.5 250.9h0M286.6 168.1h0M224.9 303.6h0M312.4 113.9h0M311.2 410.6h0M317.9 254.9h0M349.3 147.8h0M453.6 181.0h0M215.9 117.1h0M222.0 90.4h0M140.7 169.6h0M474.1 294.4h0M357.7 197.3h0M396.5 182.3h0M252.3 191.1h0M368.2 324.5h0M219.9 391.2h0M108.9 257.7h0M329.6 145.6h0M101.9 209.3h0M486.4 226.3h0M359.0 90.4h0M435.8 332.0h0M450.8 148.4h0M440.9 259.7h0M225.3 174.5h0M214.3 94.1h0M296.4 376.3h0M184.2 159.7h0M389.3 279.8h0M104.2 306.3h0M268.8 417.2h0M157.5 122.8h0M237.4 145.2h0M304.7 380.7h0M246.3 63.0h0M204.1 358.5h0M294.5 384.0h0M126.8 331.8h0M332.6 388.4h0M479.9 157.7h0M375.5 346.2h0M356.6 316.6h0M454.8 331.1h0M107.2 217.6h0M408.1 225.7h0M435.1 129.2h0M422.0 304.6h0M185.5 208.8h0M304.7 248.9h0M173.3 249.8h0M188.2 335.6h0M300.0 63.8h0M454.5 154.3h0M135.3 361.7h0M433.1 228.0h0M246.2 197.5h0M341.4 171.1h0M407.1 315.4h0M319.6 283.2h0M139.6 334.3h0M162.0 371.3h0M328.2 400.7h0M377.2 256.8h0M264.4 67.4h0M214.6 213.8h0M259.1 95.4h0M281.2 406.6h0M431.0 336.5h0M223.2 63.5h0M275.1 46.9h0M432.6 301.2h0M129.8 336.7h0M219.6 348.2h0M268.9 158.9h0M166.4 215.2h0M312.1 104.4h0M139.9 169.9h0M377.8 319.6h0M302.2 202.5h0M361.7 155.4h0M341.2 98.5h0M259.4 184.0h0M427.5 154.2h0M430.8 115.2h0M349.2 265.5h0M382.2 134.3h0M215.2 335.7h0M307.7 172.2h0M407.8 93.2h0M423.3 257.3h0M156.2 113.3h0M224.4 341.9h0M191.6 65.8h0M173.4 271.8h0M207.8 290.2h0M238.8 328.5h0M274.7 220.8h0M339.9 167.1h0M361.0 371.0h0M202.8 94.3h0M426.7 284.8h0M175.8 337.2h0M255.7 257.1h0M244.6 308.1h0M180.8 270.0h0M170.8 194.2h0M196.6 78.3h0M478.5 202.0h0M193.9 273.1h0M117.3 233.4h0M240.6 166.3h0M300.0 56.5h0M384.6 361.1h0M172.1 99.8h0M238.1 381.2h0M463.9 257.1h0M246.7 134.1h0M201.1 394.9h0M289.6 70.5h0M239.6 86.1h0M258.9 261.3h0M366.2 96.6h0M332.7 413.0h0M428.7 262.5h0M403.9 387.7h0M206.0 342.1h0M303.6 108.2h0M256.2 400.7h0M178.3 108.3h0M330.9 130.8h0M160.5 325.9h0M306.9 319.9h0M267.5 115.2h0M162.6 263.5h0M149.4 348.9h0M284.1 350.0h0M205.0 204.7h0M224.8 292.0h0M171.7 240.9h0M431.1 366.2h0M157.0 246.7h0M196.6 133.0h0M288.0 221.1h0M285.4 399.9h0M138.1 348.8h0M183.0 153.4h0M102.8 315.1h0M233.9 96.4h0M224.9 96.4h0M290.2 209.6h0M345.2 123.9h0M423.1 312.4h0M282.0 322.8h0M292.5 163.8h0M311.7 368.4h0M420.7 264.9h0M189.8 307.1h0M218.6 57.6h0M276.7 305.7h0M332.7 356.3h0M298.8 163.1h0M320.4 370.9h0M121.3 298.3h0M324.0 284.4h0M278.6 276.4h0M137.5 177.0h0M172.0 365.7h0M201.1 231.4h0M252.9 181.1h0M258.9 335.0h0M413.3 168.8h0M340.0 313.5h0M269.8 409.3h0M307.9 183.8h0M177.2 251.1h0M160.6 380.8h0M301.2 97.1h0M166.3 262.8h0M265.2 253.3h0M139.3 130.9h0M314.9 87.0h0M372.4 154.8h0M273.0 55.1h0M357.5 283.8h0M480.5 265.8h0M277.3 280.1h0M467.1 293.9h0M317.7 240.3h0M192.5 102.9h0M236.0 322.2h0M372.8 380.2h0M426.5 168.7h0M229.9 332.7h0M420.7 89.2h0M483.9 238.7h0M298.0 124.6h0M130.9 191.5h0M296.3 347.3h0M423.8 205.7h0M165.1 274.6h0M340.3 361.4h0M226.8 145.7h0M468.2 280.3h0M218.2 284.6h0M242.2 345.8h0M206.6 155.7h0M407.1 203.0h0M342.1 352.2h0M267.5 253.2h0M283.6 207.7h0M312.3 198.6h0M426.9 274.2h0M153.6 103.4h0M190.5 258.9h0M244.9 397.7h0M112.6 306.0h0M482.9 293.0h0M258.1 227.0h0M237.1 305.9h0M120.0 253.3h0M359.4 226.5h0M259.1 250.2h0M311.6 167.4h0M363.0 333.4h0M451.2 185.0h0M339.9 300.6h0M426.9 242.5h0M314.2 250.4h0M434.5 368.5h0M111.9 323.8h0M377.2 107.1h0M244.1 408.6h0M405.3 141.2h0M172.9 82.0h0M230.6 130.7h0M345.4 158.5h0M219.0 103.4h0M270.9 48.5h0M353.2 283.6h0M362.3 120.1h0M231.5 197.8h0M452.1 323.4h0M272.0 154.8h0M344.2 61.3h0M238.8 356.8h0M221.7 69.8h0M268.5 208.9h0M145.5 191.3h0M355.4 180.9h0M345.0 249.8h0M398.4 292.4h0M122.8 145.9h0M212.0 90.1h0M245.4 162.1h0M291.0 352.6h0M197.6 106.4h0M393.1 342.1h0M287.6 110.4h0M227.2 371.7h0M273.0 121.6h0M118.7 309.5h0M113.3 246.6h0M319.0 171.7h0M261.9 131.3h0M240.3 85.0h0M189.7 272.5h0M266.1 121.3h0M203.6 57.6h0M339.5 348.2h0M194.7 312.5h0M264.4 335.2h0M331.0 290.8h0M290.0 220.5h0M437.1 195.9h0M218.5 69.6h0M448.7 244.0h0M312.4 297.7h0M393.0 70.5h0M301.1 148.8h0M183.0 203.2h0M284.9 390.1h0M225.6 342.4h0M198.3 195.0h0M153.3 256.5h0M388.6 297.0h0M167.7 225.4h0M283.7 313.1h0M227.7 63.8h0M452.5 230.9h0M294.8 113.5h0M225.3 207.5h0M229.4 281.4h0M317.3 228.9h0M280.1 67.8h0M302.0 221.6h0M101.6 272.0h0M148.8 290.7h0M352.2 331.4h0M208.8 286.4h0M306.2 132.3h0M389.1 267.0h0M348.7 163.3h0M230.6 45.4h0M188.2 156.0h0M397.7 145.2h0M224.2 131.5h0M309.8 126.5h0M435.9 223.7h0M384.4 182.5h0M248.9 215.6h0M434.1 324.7h0M333.3 105.1h0M147.3 153.7h0M207.8 58.3h0M200.6 55.8h0M227.5 157.1h0M177.6 380.7h0M292.7 271.5h0M291.5 196.4h0M248.4 241.5h0M346.7 62.8h0M464.9 166.6h0M238.6 74.0h0M215.4 156.0h0M202.0 205.2h0M242.9 278.7h0M169.4 303.4h0M373.6 340.7h0M232.6 343.0h0M303.5 248.8h0M300.8 98.4h0M406.1 338.6h0M263.0 58.0h0M326.2 338.9h0M415.4 125.2h0M176.5 193.4h0M197.0 70.5h0M380.4 74.0h0M149.9 204.3h0M266.7 136.8h0M235.2 345.0h0M346.4 73.9h0M118.9 161.4h0M449.6 171.5h0M188.9 161.9h0M215.8 82.2h0M449.9 232.9h0M278.6 343.5h0M229.6 49.6h0M472.1 257.7h0M209.5 156.2h0M468.9 249.0h0M155.6 111.3h0M423.9 166.7h0M146.9 247.1h0M257.3 356.3h0M322.4 312.0h0M224.7 237.5h0M232.4 202.5h0M344.0 279.6h0M197.9 125.0h0M277.7 410.3h0M188.8 325.5h0M197.5 195.1h0M290.0 162.2h0M374.5 363.1h0M328.4 135.7h0M134.5 301.3h0M232.8 259.4h0M271.8 123.9h0M397.7 201.8h0M402.5 378.9h0M276.7 55.6h0M200.1 168.8h0M231.5 348.7h0M262.2 104.3h0M281.3 191.9h0M361.0 208.9h0M380.6 84.9h0M415.8 199.3h0M450.7 194.3h0M416.0 173.6h0M231.1 58.9h0M255.1 368.6h0M195.0 158.6h0M401.3 270.9h0M191.9 383.4h0M419.3 361.5h0M416.3 254.3h0M317.8 228.8h0M483.0 256.5h0M123.4 338.1h0M302.8 213.6h0M397.4 174.1h0M144.3 143.1h0M181.1 215.3h0M479.4 206.4h0M373.6 153.8h0M267.5 314.2h0M210.5 165.8h0M432.9 228.8h0M108.8 188.1h0M243.0 277.4h0M387.6 92.4h0M241.4 137.4h0M283.3 247.4h0M196.8 143.9h0M270.1 139.5h0M223.5 141.4h0M222.0 318.0h0M294.4 353.5h0M124.3 139.4h0M182.6 97.3h0M262.0 51.6h0M369.7 374.1h0M266.6 149.9h0M382.8 97.4h0M377.6 347.7h0M362.0 259.9h0M421.8 352.9h0M132.5 145.9h0M432.5 176.0h0M463.8 249.7h0M120.8 315.7h0M428.9 353.5h0M246.1 236.6h0M334.7 131.8h0M436.3 331.5h0M276.7 271.6h0M270.9 81.1h0M203.5 94.0h0M349.6 211.9h0M443.0 211.0h0M284.1 397.3h0M229.9 102.0h0M380.9 348.5h0M222.3 174.5h0M302.6 290.0h0M431.4 110.9h0M110.3 264.6h0M272.6 232.1h0M385.7 62.7h0M356.6 364.3h0M423.4 192.9h0M386.0 255.0h0M358.7 264.8h0M381.3 270.7h0M304.3 200.7h0M337.2 127.8h0M404.5 120.2h0M275.1 144.6h0M437.4 315.0h0M296.6 159.1h0M105.1 177.9h0M394.9 159.0h0M369.0 396.6h0M250.8 235.5h0M200.8 338.8h0M293.6 84.2h0M467.4 267.1h0M308.1 268.7h0M332.9 172.2h0M125.5 248.1h0M326.7 263.7h0M325.4 194.3h0M398.5 311.2h0M360.0 112.9h0M289.6 143.2h0M336.3 195.3h0M472.4 227.0h0M199.8 259.8h0M114.7 171.5h0M113.3 144.2h0M277.9 237.6h0M191.7 382.9h0M258.7 314.2h0M102.7 185.5h0M145.0 293.9h0M234.0 381.2h0M333.5 93.8h0M478.5 276.9h0M476.7 219.8h0M134.2 194.3h0M429.9 135.2h0M485.3 234.8h0M149.7 118.8h0M134.3 190.0h0M196.2 232.5h0M342.7 156.4h0M407.8 143.8h0M420.3 144.1h0M323.3 153.3h0M170.7 75.9h0M274.6 391.5h0M126.1 234.7h0M262.4 80.8h0M341.6 182.8h0M358.3 394.7h0M249.9 236.5h0M467.5 152.4h0M104.0 178.4h0M366.5 68.9h0M483.7 218.2h0M248.6 320.9h0M179.7 314.5h0M204.6 362.5h0M193.9 375.1h0M434.8 363.9h0M296.4 332.3h0M203.0 145.6h0M355.8 394.4h0M353.9 270.2h0M244.3 263.6h0M329.3 256.7h0M358.3 357.6h0M402.0 82.0h0M352.2 414.6h0M302.6 317.7h0M211.9 146.5h0M333.3 180.3h0M269.8 79.2h0M371.2 266.2h0M393.9 269.3h0M354.9 407.5h0M324.6 264.7h0M261.8 384.1h0M190.8 170.5h0M228.5 90.8h0M468.9 187.9h0M259.2 392.8h0M340.9 221.0h0M304.9 126.4h0M438.0 332.4h0M294.8 294.5h0M114.9 180.5h0M211.7 283.2h0M426.7 351.5h0M439.8 139.3h0M319.0 124.5h0M197.0 353.7h0M333.8 223.8h0M189.5 316.5h0M199.2 67.9h0M229.8 278.8h0M226.4 89.2h0M311.7 239.1h0M221.9 264.5h0M326.2 315.4h0M390.6 263.4h0M224.2 382.3h0M287.6 311.1h0M369.6 58.8h0M344.6 104.1h0M129.9 205.5h0M259.1 214.4h0M262.3 64.6h0M377.5 389.9h0M385.6 183.0h0M331.4 235.4h0M119.8 159.6h0M152.9 331.4h0M222.4 58.6h0M132.2 236.4h0M277.5 200.6h0M247.0 315.8h0M426.5 112.2h0M464.7 311.3h0M432.8 285.4h0M282.6 73.1h0M148.7 145.7h0M211.2 404.0h0M244.2 199.2h0M468.2 239.1h0M264.4 177.3h0M396.4 262.6h0M315.7 54.0h0M427.8 235.9h0M263.5 293.5h0M255.6 237.8h0M380.8 306.7h0M235.3 145.3h0M234.3 70.9h0M140.7 357.8h0M338.3 123.4h0M165.3 323.8h0M367.6 258.5h0M326.2 56.2h0M239.2 318.0h0M132.5 153.1h0M336.8 120.2h0M390.5 161.2h0M485.6 189.7h0M144.5 329.6h0M278.7 118.7h0M374.6 132.9h0M251.3 300.3h0M260.5 118.8h0M401.7 248.6h0M212.7 219.3h0M166.8 319.1h0M254.8 414.5h0M296.1 231.5h0M382.7 145.7h0M317.2 216.1h0M374.1 74.0h0M306.2 106.7h0M254.4 221.9h0M116.8 266.3h0M390.9 242.6h0M199.4 89.0h0M264.5 147.5h0M370.7 287.2h0M109.5 176.0h0M350.6 291.5h0M135.9 304.9h0M307.3 246.7h0M447.8 306.2h0M346.4 373.5h0M461.3 239.8h0M283.5 410.6h0M257.3 74.7h0M379.8 220.8h0M407.4 286.3h0M279.6 360.5h0M260.6 323.4h0M273.6 292.5h0M242.1 49.1h0M200.4 256.3h0M130.0 261.8h0M461.0 319.5h0M382.9 109.3h0M390.9 180.9h0M152.7 213.4h0M251.4 323.4h0M217.5 107.2h0M324.8 64.4h0M142.1 355.1h0M184.1 358.1h0M315.3 408.2h0M387.6 350.4h0M255.0 51.7h0M202.1 208.6h0M198.9 85.9h0M373.7 82.6h0M388.0 337.1h0M371.2 370.3h0M185.4 73.6h0M185.4 348.8h0M435.1 290.9h0M250.1 380.3h0M456.9 207.8h0M266.0 130.7h0M378.1 141.0h0M318.0 174.4h0M193.4 116.6h0M122.8 295.9h0M317.0 187.0h0M296.0 306.1h0M153.1 211.7h0M361.2 145.6h0M369.0 113.0h0M178.8 128.2h0M165.0 146.6h0M316.8 162.3h0M282.9 136.2h0M221.4 250.3h0M116.8 240.0h0M162.7 271.4h0M326.1 225.2h0M396.7 367.3h0M112.0 275.3h0M377.2 361.0h0M347.6 45.3h0M130.1 332.4h0M151.0 194.5h0M392.4 273.5h0M386.2 202.3h0M361.6 230.3h0M295.3 293.9h0M152.7 98.5h0M250.5 279.0h0M251.8 112.0h0M327.1 154.9h0M183.1 315.8h0M362.2 200.1h0M218.0 201.4h0M418.2 350.3h0M169.2 258.9h0M248.2 153.0h0M299.8 146.7h0M161.3 172.3h0M236.8 124.5h0M103.2 225.5h0M163.5 86.7h0M240.5 355.0h0M398.7 291.9h0M430.8 220.9h0M244.5 410.3h0M454.3 126.0h0M303.9 414.1h0M312.5 281.9h0M254.5 370.0h0M324.1 375.2h0M265.7 331.9h0M183.9 69.1h0M238.0 249.4h0M240.8 225.1h0M468.1 203.9h0M140.6 309.6h0M209.1 71.1h0M132.0 174.3h0M114.7 302.5h0M237.9 133.1h0M411.3 235.1h0M283.4 378.7h0M176.6 209.9h0M448.0 178.8h0M427.8 169.0h0M107.9 291.6h0M158.4 345.4h0M166.4 386.8h0M263.8 392.9h0M407.6 231.2h0M410.4 317.5h0M429.8 201.0h0M145.7 189.2h0M282.2 232.6h0M204.9 170.2h0M246.8 387.2h0M224.7 229.1h0M324.6 274.9h0M370.5 276.7h0M170.2 348.3h0M159.6 323.4h0M145.4 341.0h0M200.6 153.9h0M146.7 204.4h0M239.6 291.6h0M217.6 111.2h0M352.3 391.2h0M475.1 199.2h0M270.6 214.4h0M350.2 227.0h0M360.9 394.4h0M443.2 340.6h0M244.6 360.8h0M257.2 355.6h0M287.5 320.4h0M334.2 127.2h0M218.6 141.7h0M393.4 377.6h0M245.7 325.3h0M299.9 147.3h0M310.4 262.2h0M360.4 248.2h0M293.5 339.3h0M302.9 225.4h0M286.4 275.3h0M317.8 216.9h0M160.5 208.6h0M317.7 203.1h0M258.9 297.0h0M177.4 166.6h0M433.9 348.2h0M253.5 56.7h0M419.4 161.1h0M337.0 261.5h0M465.2 194.7h0M309.9 62.7h0M253.6 74.2h0M304.3 128.5h0M277.7 333.0h0M191.6 222.3h0M477.3 187.5h0M231.6 81.1h0M416.0 378.8h0M250.0 375.2h0M349.0 379.5h0M200.5 119.4h0M423.3 305.3h0M349.7 132.1h0M257.8 292.5h0M391.0 95.1h0M458.3 195.2h0M430.5 188.9h0M374.2 84.6h0M313.1 164.7h0M170.9 177.2h0M332.3 269.0h0M384.0 353.9h0M119.9 226.2h0M355.3 57.1h0M301.6 229.9h0M422.2 321.8h0M243.5 177.5h0M171.8 264.3h0M139.8 130.3h0M231.5 82.7h0M182.1 158.4h0M407.1 325.9h0M429.7 110.4h0M170.1 378.7h0M429.6 156.8h0M165.1 280.1h0M259.4 327.0h0M192.1 188.8h0M479.1 233.9h0M161.5 184.6h0M400.0 384.9h0M409.2 377.9h0M359.1 105.3h0M291.2 288.8h0M355.9 410.0h0M200.0 362.7h0M444.0 119.6h0M269.0 324.1h0M279.0 103.0h0M334.2 350.1h0M336.9 417.5h0M258.9 218.3h0M229.7 388.4h0M360.0 361.8h0M123.8 261.2h0M151.0 125.3h0M266.2 168.3h0M232.3 111.2h0M377.3 138.0h0M320.5 330.0h0M300.4 334.5h0M389.3 287.9h0M350.4 99.2h0M125.1 340.0h0M402.9 328.0h0M270.1 101.8h0M354.2 193.7h0M364.7 402.6h0M381.0 237.1h0M376.4 270.0h0M478.5 222.3h0M334.7 53.2h0M343.1 111.2h0M198.1 153.1h0M478.9 169.9h0M126.1 128.6h0M276.1 93.1h0M212.8 241.7h0M355.1 337.8h0M445.9 160.4h0M326.3 49.1h0M269.5 274.2h0M135.6 132.9h0M121.3 128.3h0M183.8 175.7h0M395.0 257.2h0M431.8 229.6h0M211.0 282.2h0M138.4 210.1h0M309.3 350.6h0M396.8 331.8h0M206.2 139.6h0M416.3 292.5h0M442.3 354.0h0M319.7 313.7h0M316.2 311.0h0M117.7 223.2h0M216.0 290.4h0M171.1 314.0h0M281.1 116.7h0M221.0 389.6h0M327.6 281.0h0M275.1 146.4h0M363.2 333.7h0M460.7 235.8h0M281.6 295.7h0M172.2 372.1h0M249.2 158.3h0M328.2 365.4h0M283.7 95.6h0M482.0 276.8h0M319.8 327.0h0M390.2 128.3h0M280.9 370.5h0M475.3 273.5h0M297.1 253.0h0M302.4 226.2h0M159.6 106.5h0M152.3 163.6h0M168.5 164.9h0M203.6 127.3h0M190.2 118.9h0M229.5 228.2h0M134.9 205.0h0M92.9 203.7h0M347.0 198.6h0M377.9 132.3h0M324.8 411.9h0M294.9 250.9h0M259.0 271.3h0M353.9 302.4h0M287.8 74.4h0M233.8 279.6h0M391.4 276.7h0M169.1 185.3h0M394.2 336.9h0M221.8 166.0h0M158.8 261.6h0M333.5 298.6h0M359.2 293.3h0M254.1 90.5h0M403.8 123.1h0M259.7 227.0h0M151.6 176.1h0M421.9 226.3h0M348.3 318.1h0M323.3 337.9h0M354.5 333.2h0M153.6 115.7h0M353.7 302.8h0M287.2 389.8h0M240.5 80.0h0M91.7 258.1h0M182.4 205.3h0M188.6 287.0h0M177.4 200.1h0M352.8 49.6h0M430.5 120.5h0M147.9 279.8h0M308.8 86.1h0M485.0 201.2h0M312.5 245.7h0M99.7 283.4h0M485.9 238.7h0M207.1 290.7h0M170.8 203.5h0M343.3 110.0h0M266.9 347.2h0M313.8 86.8h0M334.5 231.7h0M132.1 200.9h0M459.5 185.4h0M198.1 75.9h0M431.5 321.0h0M247.9 325.5h0M310.8 178.4h0M280.1 329.7h0M367.8 324.7h0M382.1 226.6h0M249.7 133.4h0M374.2 329.3h0M101.7 254.6h0M341.0 292.4h0M102.7 265.7h0M173.1 143.1h0M310.7 366.5h0M335.4 180.0h0M211.0 367.8h0M383.1 252.3h0M213.5 282.3h0M224.5 374.6h0M388.2 397.6h0M190.3 176.7h0M318.8 260.7h0M323.6 397.1h0M214.0 331.0h0M268.3 229.2h0M215.7 374.3h0M108.8 221.1h0M462.0 284.6h0M207.3 341.4h0M465.0 257.8h0M155.4 190.9h0M274.7 100.1h0M304.0 245.1h0M193.0 297.0h0M353.4 347.8h0M271.7 144.4h0M165.2 189.0h0M262.7 237.8h0M288.9 233.0h0M203.2 144.2h0M360.0 72.9h0M336.6 346.7h0M366.7 390.0h0M257.2 141.5h0M409.4 374.5h0M339.6 200.6h0M296.2 282.0h0M274.0 392.9h0M454.1 303.3h0M179.3 256.4h0M470.2 300.1h0M141.9 121.8h0M416.1 109.2h0M299.7 340.0h0M117.3 182.3h0M216.7 264.6h0M400.0 217.2h0M115.0 301.8h0M373.9 244.4h0M313.0 226.4h0M382.0 268.8h0M268.6 244.7h0M365.9 102.7h0M275.3 412.5h0M325.8 139.5h0M218.6 258.0h0M139.0 244.0h0M257.9 185.4h0M233.5 100.7h0M237.5 200.4h0M197.2 319.8h0M225.0 314.3h0M397.8 185.8h0M295.4 258.2h0M376.0 398.3h0M422.5 141.7h0M202.4 115.8h0M96.6 198.0h0M110.6 207.8h0M350.5 86.1h0M317.2 245.1h0M367.7 62.1h0M483.0 181.9h0M273.3 86.3h0M217.0 156.0h0M171.3 154.8h0M435.5 154.6h0M430.4 249.0h0M391.5 94.8h0M218.3 87.6h0M327.7 205.2h0M242.0 377.7h0M309.1 313.8h0M141.7 327.6h0M158.8 190.4h0M314.0 103.5h0M316.3 215.8h0M190.7 238.9h0M479.3 152.8h0M351.1 75.0h0M174.8 254.1h0M292.3 328.1h0M234.2 60.2h0M235.9 337.7h0M293.3 61.9h0M173.5 180.1h0M336.1 370.2h0M416.9 176.6h0M227.1 147.3h0M183.6 94.5h0M247.3 202.6h0M184.7 155.1h0M104.8 226.8h0M179.5 160.9h0M292.7 401.9h0M427.9 289.3h0M161.4 189.3h0M167.5 357.0h0M416.6 150.9h0M355.0 362.1h0M197.6 340.1h0M118.0 311.7h0M146.3 335.8h0M300.9 92.8h0M126.7 217.8h0M287.6 265.2h0M267.5 282.8h0M345.5 198.9h0M213.2 389.1h0M155.5 239.9h0M255.8 115.6h0M469.8 214.7h0M300.0 409.5h0M108.2 193.0h0M358.5 191.8h0M195.7 116.6h0M100.2 197.0h0M143.3 293.1h0M295.8 389.0h0M275.8 257.1h0M182.7 393.7h0M454.2 168.8h0M136.5 122.8h0M131.4 339.9h0M309.3 245.2h0M278.1 399.1h0M354.8 239.9h0M303.3 113.8h0M129.2 257.2h0M204.1 92.9h0M462.6 305.0h0M412.1 152.1h0M362.8 134.9h0M119.2 265.2h0M240.2 159.0h0M348.8 236.5h0M139.2 239.1h0M361.6 360.3h0M243.5 289.4h0M358.5 393.8h0M269.4 83.0h0M314.5 266.0h0M187.6 214.2h0M215.6 190.9h0M331.6 248.0h0M397.8 323.3h0M382.9 356.6h0M430.6 323.3h0M346.0 137.7h0M297.0 302.6h0M192.0 83.5h0M233.8 284.1h0M410.9 264.3h0M337.9 194.0h0M203.0 87.7h0M164.6 236.0h0M311.5 104.8h0M205.1 387.7h0M409.6 93.6h0M463.4 140.0h0M398.7 164.2h0M311.6 73.4h0M284.0 273.5h0M378.3 285.9h0M325.2 210.4h0M368.2 188.0h0M383.2 244.6h0M317.8 95.9h0M150.6 289.5h0M315.6 390.7h0M179.7 127.1h0M297.7 74.4h0M405.4 375.3h0M220.2 130.5h0M256.3 343.0h0M309.3 50.6h0M248.7 184.6h0M185.7 386.5h0M110.8 249.3h0M440.9 123.3h0M188.3 286.7h0M207.9 183.6h0M365.1 116.0h0M442.1 135.6h0M408.5 145.3h0M158.7 179.7h0M141.0 109.0h0M239.4 106.7h0M300.6 241.9h0M345.5 100.7h0M317.1 158.4h0M239.8 55.1h0M324.5 242.2h0M154.9 290.1h0M243.5 345.0h0M381.8 370.7h0M316.7 297.8h0M251.9 239.9h0M223.9 142.8h0M419.1 97.3h0M199.5 298.4h0M237.6 390.3h0M399.2 391.2h0M210.8 250.6h0M266.2 187.2h0M173.6 287.0h0M196.6 144.6h0M411.7 180.6h0M192.6 399.4h0M255.2 366.4h0M269.0 223.5h0M343.6 183.8h0M122.7 324.0h0M180.0 179.1h0M211.9 187.2h0M341.6 193.6h0M328.8 274.6h0M384.8 291.1h0M457.9 201.8h0M198.0 284.1h0M347.8 173.3h0M326.7 418.0h0M244.5 391.8h0M325.5 214.3h0M176.0 254.5h0M254.5 383.3h0M328.9 201.2h0M176.4 275.8h0M120.6 303.1h0M389.2 331.8h0M133.8 239.4h0M194.6 281.3h0M410.7 147.0h0M127.4 305.9h0M252.3 252.2h0M419.1 360.4h0M465.2 247.7h0M279.7 201.3h0M399.3 182.6h0M312.8 270.9h0M271.2 104.6h0M462.8 141.5h0M299.9 131.0h0M274.7 143.4h0M319.0 133.1h0M314.1 143.2h0M133.6 227.8h0M383.6 247.0h0M228.9 226.5h0M275.7 45.0h0M206.7 197.0h0M120.5 150.0h0M237.9 235.2h0M341.7 179.5h0M343.2 166.9h0M214.1 273.8h0M179.2 301.5h0M226.1 322.9h0M353.5 85.6h0M196.8 362.3h0M231.0 175.1h0M315.7 339.9h0M261.9 130.0h0M436.3 224.6h0M228.5 351.1h0M114.8 165.5h0M90.7 217.2h0M110.2 276.9h0M286.9 154.2h0M135.6 217.3h0M231.8 125.0h0M375.2 271.4h0M231.5 209.7h0M352.8 222.8h0M119.1 229.6h0M209.6 314.4h0M278.0 396.7h0M167.6 153.6h0M366.2 72.0h0M321.8 167.3h0M305.2 217.7h0M377.9 150.5h0M387.7 70.3h0M390.2 188.5h0M193.2 86.9h0M270.0 61.9h0M109.1 226.4h0M185.1 330.6h0M244.2 227.5h0M387.4 135.2h0M242.7 175.0h0M368.2 246.9h0M471.2 178.6h0M121.0 303.0h0M293.0 244.4h0M175.6 362.2h0M167.5 134.9h0M249.8 361.7h0M353.2 322.3h0M134.3 125.5h0M216.7 215.9h0M430.1 239.1h0M368.1 175.7h0M410.2 290.0h0M480.3 160.0h0M168.6 349.8h0M97.8 247.3h0M218.7 125.7h0M418.3 191.1h0M343.2 145.8h0M240.1 221.8h0M442.3 277.2h0M410.2 199.9h0M190.0 176.5h0M408.6 237.0h0M150.3 327.1h0M223.4 214.1h0M116.6 267.4h0M262.5 271.4h0M420.1 121.8h0M353.6 275.7h0M233.6 235.5h0M333.1 171.2h0M137.6 191.2h0M202.6 218.4h0M237.9 62.5h0M438.9 112.8h0M301.6 66.2h0M359.4 182.2h0M336.0 132.4h0M248.2 265.3h0M409.1 150.3h0M317.6 370.2h0M296.9 59.8h0M372.3 347.6h0M383.0 67.5h0M288.4 419.5h0M373.6 176.9h0M472.3 199.5h0M337.2 51.9h0M201.2 400.1h0M148.3 198.7h0M246.8 161.9h0M411.8 348.6h0M134.0 210.7h0M177.6 241.4h0M365.2 213.9h0M372.0 129.1h0M300.6 376.1h0M206.5 274.9h0M356.7 104.7h0M195.8 241.4h0M364.1 316.4h0M255.2 298.0h0M95.6 257.6h0M226.6 158.4h0M113.6 191.8h0M425.2 252.0h0M288.8 296.8h0M272.7 236.8h0M378.7 196.1h0M181.2 240.7h0M265.4 95.6h0M474.1 215.1h0M319.8 208.0h0M281.3 416.8h0M232.4 370.8h0M213.8 130.3h0M210.2 272.6h0M224.1 82.8h0M316.3 102.0h0M214.0 95.5h0M173.3 265.2h0M492.9 230.4h0M431.3 177.6h0M236.5 266.0h0M198.8 332.5h0M213.8 146.4h0M146.7 122.5h0M460.5 265.6h0M173.2 289.2h0M202.6 239.9h0M316.3 64.5h0M297.3 154.5h0M424.4 311.3h0M394.3 397.0h0M223.5 316.8h0M354.8 97.0h0M157.9 158.7h0M223.0 206.0h0M170.1 214.8h0M318.2 261.6h0M282.9 403.2h0M278.3 198.0h0M278.5 64.3h0M183.3 166.5h0M285.6 167.7h0M320.6 99.4h0M212.8 70.8h0M387.1 171.3h0M356.5 347.1h0M382.0 85.3h0M363.5 316.5h0M440.0 258.8h0M335.7 238.3h0M125.2 233.3h0M413.8 312.0h0M349.0 362.3h0M200.9 76.0h0M216.3 152.7h0M167.0 349.9h0M265.6 396.5h0M323.3 288.7h0M302.2 238.5h0M287.5 175.3h0M221.9 248.2h0M441.5 350.9h0M458.3 275.5h0M146.7 312.5h0M440.3 125.4h0M179.3 310.2h0M203.3 245.3h0M385.4 182.1h0M167.6 241.1h0M461.3 253.5h0M421.0 295.3h0M152.0 143.6h0M224.7 312.1h0M372.7 217.5h0M146.4 320.6h0M215.4 82.4h0M204.6 368.8h0M293.5 301.7h0M286.7 76.9h0M215.6 325.9h0M441.8 252.1h0M173.1 277.3h0M433.3 159.4h0M153.8 375.1h0M233.3 240.5h0M111.5 317.8h0M361.1 278.2h0M309.0 39.8h0M272.1 236.3h0M199.6 181.2h0M230.7 118.9h0M229.5 212.6h0M208.4 234.4h0M275.5 311.9h0M443.8 154.3h0M112.7 228.0h0M372.2 91.7h0M212.7 109.4h0M157.7 364.3h0M441.7 115.6h0M237.4 90.3h0M354.4 370.8h0M214.7 271.3h0M277.8 351.7h0M347.7 246.3h0M446.6 133.3h0M204.8 198.2h0M190.3 271.0h0M454.1 292.7h0M132.5 351.3h0M282.9 72.9h0M127.6 133.0h0M357.9 290.5h0M280.1 64.0h0M123.4 336.5h0M337.3 103.3h0M177.0 339.8h0M154.2 267.5h0M245.0 288.1h0M337.3 198.5h0M269.1 387.9h0M282.1 161.8h0M144.8 275.5h0M393.2 231.3h0M441.2 299.1h0M383.6 393.5h0M256.7 322.7h0M307.9 67.5h0M172.4 353.4h0M290.0 187.8h0M240.6 363.5h0M275.9 260.2h0M446.1 121.5h0M267.7 406.1h0M357.9 357.2h0M272.4 82.6h0M308.7 381.7h0M302.3 187.7h0M426.9 145.4h0M440.2 271.3h0M211.5 106.9h0M245.2 342.7h0M314.9 296.6h0M295.3 163.9h0M386.1 162.4h0M394.5 74.3h0M264.2 398.1h0M277.9 384.4h0M246.5 121.9h0M217.9 364.8h0M271.6 159.5h0M285.3 105.8h0M203.1 111.5h0M303.2 372.5h0M136.2 119.0h0M326.2 63.3h0M198.8 201.3h0M117.9 191.4h0M279.8 170.9h0M215.0 209.3h0M262.6 56.3h0M471.2 295.4h0M306.9 402.7h0M296.0 52.5h0M265.8 57.3h0M138.3 302.2h0M260.2 180.5h0M282.1 306.4h0M198.0 396.9h0M215.5 114.6h0M362.0 340.9h0M278.2 187.6h0M266.9 110.9h0M315.8 114.4h0M280.2 341.5h0M210.1 214.6h0M281.4 82.4h0M313.6 290.6h0M248.5 76.3h0M255.8 70.9h0M399.1 376.4h0M218.1 117.6h0M128.9 268.6h0M436.8 307.5h0M153.8 307.8h0M240.6 238.7h0M139.6 112.8h0M421.0 354.4h0M348.8 270.3h0M145.7 219.8h0M274.9 209.2h0M302.4 295.4h0M203.5 361.5h0M121.4 183.3h0M343.0 378.9h0M323.5 94.4h0M423.2 126.7h0M394.2 119.4h0M114.9 298.4h0M397.7 355.2h0M320.9 325.2h0M353.2 166.3h0M412.1 223.1h0M419.3 181.6h0M262.9 330.6h0M160.7 78.9h0M228.5 297.5h0M321.3 132.2h0M197.2 85.8h0M170.1 154.6h0M295.1 292.2h0M258.6 363.8h0M151.1 344.3h0M252.3 112.9h0M367.8 350.9h0M270.5 340.0h0M486.9 211.9h0M167.6 196.3h0M122.2 176.6h0M247.6 172.7h0M359.9 149.9h0M113.8 235.3h0M395.0 338.6h0M333.8 174.6h0M427.5 189.0h0M470.5 309.4h0M279.2 409.6h0M298.2 100.3h0M223.9 383.6h0M178.4 364.8h0M121.3 213.1h0M234.3 49.0h0M295.8 90.4h0M163.8 198.5h0M276.9 259.6h0M114.2 199.0h0M343.8 100.5h0M200.7 154.9h0M283.0 421.2h0M293.0 46.1h0M97.9 218.5h0M348.6 106.0h0M183.3 293.1h0M248.6 261.6h0M294.6 120.3h0M234.6 114.4h0M369.1 75.3h0M249.3 258.7h0M161.9 193.5h0M241.2 322.4h0M178.8 195.0h0M250.3 393.9h0M453.2 125.4h0M213.0 174.3h0M176.7 74.6h0M159.8 219.5h0M463.0 226.4h0M140.1 207.4h0M251.4 84.4h0M149.0 158.6h0M264.7 128.4h0M225.7 96.1h0M269.6 178.7h0M334.4 54.5h0M145.3 297.0h0M211.1 217.7h0M237.0 309.0h0M127.6 134.1h0M310.3 258.7h0M353.9 186.3h0M354.8 146.7h0M94.2 202.9h0M401.8 278.7h0M374.3 359.1h0M360.8 146.3h0M247.4 343.3h0M343.8 84.6h0M304.0 334.7h0M420.2 150.7h0M214.6 111.2h0M388.0 135.8h0M272.3 195.2h0M125.2 292.5h0M221.0 146.1h0M167.1 287.6h0M409.0 254.4h0M278.8 288.9h0M401.3 172.7h0M233.1 226.0h0M275.4 250.9h0M383.1 342.1h0M192.7 175.6h0M395.0 338.1h0M341.9 318.2h0M327.8 389.6h0M480.7 187.2h0M222.6 325.9h0M353.0 163.0h0M120.3 137.5h0M431.9 314.5h0M347.4 146.0h0M261.1 59.1h0M257.3 113.2h0M98.5 281.0h0M326.2 96.3h0M368.3 181.9h0M465.1 233.5h0M343.7 165.5h0M156.4 306.3h0M238.7 92.1h0M314.5 382.4h0M399.4 178.0h0M158.0 328.8h0M141.2 249.6h0M370.5 331.6h0M320.3 142.1h0M400.8 191.6h0M142.0 119.3h0M206.5 338.0h0M216.6 237.1h0M280.5 291.1h0M96.4 283.0h0M175.3 138.4h0M232.9 301.0h0M200.3 186.3h0M450.7 324.6h0M301.9 75.3h0M456.1 130.9h0M450.5 123.9h0M148.5 292.6h0M150.3 344.3h0M299.4 419.7h0M383.4 361.3h0M369.4 117.4h0M404.8 358.0h0M247.3 292.7h0M480.4 191.2h0M193.3 362.6h0M119.8 218.2h0M448.2 135.7h0M245.8 212.7h0M430.2 314.5h0M405.5 240.6h0M442.3 218.8h0M226.2 138.2h0M211.3 174.1h0M157.8 379.1h0M441.5 268.8h0M281.5 199.5h0M466.1 168.2h0M203.6 266.9h0M317.5 399.5h0M160.9 285.4h0M144.5 172.5h0M245.0 392.7h0M272.5 279.8h0M351.5 96.4h0M250.1 239.4h0M273.0 255.8h0M405.3 272.0h0M236.1 92.1h0M293.5 74.6h0M400.5 336.4h0M179.9 244.0h0M200.9 154.8h0M350.0 295.1h0M228.5 188.4h0M273.5 139.0h0M320.3 366.9h0M122.9 135.6h0M180.9 288.7h0M168.0 307.1h0M143.3 216.7h0M164.9 287.9h0M265.3 322.4h0M127.8 312.7h0M399.8 227.6h0M178.1 151.8h0M155.0 146.2h0M176.3 345.7h0M237.0 195.7h0M156.5 330.8h0M386.5 201.0h0M219.2 151.4h0M233.0 327.6h0M414.1 195.9h0M229.4 66.4h0M354.3 275.9h0M428.9 334.2h0M353.7 79.3h0M408.8 349.0h0M235.0 267.9h0M454.7 141.9h0M321.3 402.9h0M198.0 98.5h0M199.6 97.7h0M175.3 364.1h0M279.7 55.0h0M417.3 245.5h0M232.1 327.1h0M220.2 269.6h0M279.3 361.5h0M230.3 69.7h0M331.5 74.4h0M374.6 199.0h0M278.8 52.9h0M185.3 373.1h0M293.9 228.8h0M212.4 289.2h0M322.7 307.4h0M299.6 142.8h0M119.5 146.8h0M395.4 353.4h0M236.9 70.5h0M94.5 245.6h0M267.5 120.9h0M280.0 244.0h0M127.4 288.1h0M198.7 219.1h0M444.9 317.2h0M240.9 264.1h0M192.0 282.3h0M353.9 211.7h0M171.4 208.5h0M444.7 192.3h0M344.2 222.7h0M276.8 229.3h0M206.5 77.2h0M104.9 220.5h0M464.1 247.5h0M353.5 73.1h0M196.3 279.1h0M318.0 354.6h0M279.8 147.4h0M378.5 307.5h0M348.3 288.0h0M404.6 91.1h0M111.7 224.6h0M387.8 377.4h0M269.0 44.4h0M378.5 217.8h0M204.8 53.6h0M219.8 109.5h0M196.8 316.6h0M366.5 222.0h0M186.9 278.3h0M288.1 233.7h0M297.5 263.5h0M404.9 229.4h0M389.1 271.7h0M194.3 135.3h0M177.1 267.3h0M392.0 238.1h0M224.7 304.5h0M466.1 175.3h0M174.5 242.1h0M389.6 222.5h0M301.5 51.1h0M344.8 62.2h0M284.8 200.0h0M242.8 213.9h0M232.0 94.9h0M265.2 164.2h0M232.3 145.7h0M429.7 356.9h0M430.7 366.1h0M149.8 355.7h0M286.5 156.2h0M211.8 239.9h0M415.6 147.3h0M154.1 235.4h0M462.6 304.0h0M114.4 213.6h0M169.0 82.2h0M196.3 351.1h0M326.8 200.3h0M326.3 277.4h0M157.0 92.1h0M203.4 75.2h0M198.8 378.7h0M403.0 85.2h0M315.2 135.8h0M370.8 130.3h0M428.8 323.7h0M264.9 378.0h0M284.6 122.0h0M118.8 295.6h0M371.3 332.9h0M473.3 206.2h0M432.2 312.1h0M465.8 199.0h0M170.1 170.2h0M379.1 144.9h0M344.5 109.6h0M244.0 349.6h0M243.9 276.1h0M347.2 138.1h0M113.6 259.6h0M318.8 332.9h0M344.6 384.4h0M183.2 387.4h0M220.7 204.3h0M291.0 108.6h0M182.8 223.3h0M198.5 384.4h0M306.3 278.2h0M117.8 232.4h0M288.2 360.8h0M436.7 113.5h0M170.1 214.7h0M399.5 387.6h0M279.8 171.2h0M455.8 217.5h0M152.6 228.5h0M426.4 299.6h0M382.5 374.5h0M416.0 137.6h0M365.9 75.8h0M295.3 50.9h0M443.7 269.6h0M425.4 257.1h0M132.0 329.6h0M465.0 302.8h0M322.6 80.5h0M417.0 212.6h0M266.9 36.8h0M252.2 382.9h0M339.9 171.1h0M239.2 107.7h0M281.8 374.5h0M448.7 316.3h0M185.0 335.3h0M131.4 140.8h0M391.9 310.4h0M432.1 238.6h0M363.0 218.5h0M142.7 143.8h0M170.8 372.2h0M183.0 313.7h0M175.3 134.3h0M213.5 204.7h0M412.4 313.8h0M354.3 93.0h0M247.9 334.3h0M254.4 404.3h0M146.6 271.3h0M165.3 109.8h0M374.4 222.6h0M454.6 145.8h0M169.4 197.8h0M268.7 68.8h0M227.5 65.3h0M397.9 155.9h0M447.1 263.3h0M422.1 348.8h0M361.3 278.8h0M167.6 213.8h0M163.9 224.2h0M447.1 174.0h0M250.4 387.2h0M329.5 281.5h0M102.9 256.1h0M307.9 195.4h0M217.0 256.2h0M308.1 53.5h0M421.2 117.6h0M372.9 202.1h0M185.3 196.8h0M376.2 103.6h0M251.7 72.3h0M251.2 94.4h0M135.9 342.6h0M289.6 216.0h0M373.9 138.7h0M387.7 396.1h0M161.7 247.4h0M289.1 312.5h0M341.4 172.6h0M237.9 205.2h0M145.7 310.4h0M150.5 366.7h0M140.0 347.9h0M340.6 129.5h0M367.9 91.6h0M347.5 119.2h0M373.1 321.6h0M433.1 154.4h0M449.2 266.9h0M131.7 195.4h0M235.1 393.8h0M291.1 252.1h0M426.5 108.0h0M212.3 314.0h0M234.9 292.7h0M331.6 240.6h0M198.3 314.8h0M144.0 290.6h0M474.2 234.0h0M175.3 311.7h0M397.4 90.0h0M306.1 177.2h0M294.0 192.5h0M356.0 384.3h0M200.2 350.8h0M430.6 316.6h0M311.8 87.6h0M280.2 315.6h0M195.8 244.1h0M363.0 347.9h0M294.5 286.6h0M385.3 382.9h0M459.4 296.9h0M253.9 307.7h0M121.6 299.0h0M303.2 330.1h0M274.1 198.6h0M249.1 181.0h0M424.7 201.8h0M159.4 367.3h0M289.3 364.4h0M297.1 272.3h0M166.8 245.5h0M334.2 123.8h0M169.1 206.9h0M431.4 116.4h0M472.1 198.5h0M362.5 95.7h0M233.7 363.8h0M322.5 385.4h0M231.7 270.7h0M258.2 360.8h0M295.2 71.4h0M282.2 383.6h0M274.7 353.5h0M382.2 387.0h0M265.1 86.8h0M326.0 49.1h0M275.5 276.1h0M230.6 120.4h0M338.5 156.7h0M170.9 263.5h0M112.0 169.1h0M252.1 214.1h0M331.2 374.2h0M313.7 106.2h0M344.4 332.9h0M363.7 241.7h0M318.7 332.8h0M370.2 249.8h0M271.2 134.6h0M323.3 196.4h0M407.0 380.4h0M202.0 136.1h0M325.9 334.6h0M368.6 365.4h0M383.8 296.1h0M299.6 39.8h0M183.7 113.8h0M247.0 213.6h0M108.5 216.0h0M458.8 217.9h0M208.9 348.6h0M331.9 185.4h0M200.7 179.0h0M393.6 292.2h0M288.8 61.2h0M263.8 226.3h0M428.3 204.1h0M177.0 366.0h0M408.9 307.7h0M299.5 106.5h0M141.1 196.8h0M95.1 204.9h0M438.0 180.7h0M203.3 348.0h0M380.4 371.0h0M299.7 85.4h0M400.4 298.9h0M378.8 349.7h0M254.1 53.9h0M265.4 137.5h0M421.6 151.3h0M128.1 197.2h0M412.8 179.0h0M270.3 391.9h0M230.0 413.8h0M415.3 262.1h0M376.2 361.3h0M328.4 343.4h0M201.7 89.4h0M164.3 144.6h0M370.3 93.4h0M144.1 359.7h0M444.4 184.7h0M221.5 314.1h0M114.3 282.6h0M270.9 216.4h0M98.0 276.3h0M303.8 240.1h0M121.9 181.4h0M166.8 368.5h0M135.0 302.5h0M110.6 188.6h0M183.9 229.7h0M337.4 43.9h0M268.1 235.3h0M292.9 257.8h0M455.7 257.5h0M427.9 328.7h0M103.1 273.6h0M418.7 163.9h0M423.7 131.1h0M360.0 394.7h0M459.7 228.7h0M162.7 91.5h0M475.9 234.6h0M310.4 92.5h0M367.2 282.8h0M394.8 183.7h0M277.3 286.1h0M396.9 102.0h0M190.1 78.7h0M453.0 255.2h0M324.3 60.1h0M184.8 270.6h0M237.1 236.4h0M149.2 349.3h0M386.0 361.0h0M157.1 316.4h0M451.1 248.2h0M338.1 84.6h0M332.7 153.8h0M135.8 217.1h0M256.1 409.9h0M326.9 307.2h0M311.8 400.9h0M199.2 383.5h0M294.7 416.0h0M292.1 322.2h0M255.8 47.5h0M147.0 202.8h0M169.2 380.2h0M264.2 340.2h0M170.0 282.9h0M184.5 384.5h0M217.1 102.2h0M466.1 187.8h0M280.7 299.4h0M330.8 58.0h0M485.8 219.5h0M176.3 376.9h0M233.5 130.6h0M217.8 166.6h0M457.0 127.7h0M240.9 117.4h0M243.3 345.7h0M191.8 180.5h0M385.5 386.6h0M259.0 354.5h0M301.9 169.4h0M394.0 71.3h0M157.5 157.0h0M149.8 286.4h0M142.4 241.8h0M127.9 338.3h0M212.3 168.5h0M350.4 328.9h0M307.1 263.1h0M312.7 307.3h0M115.5 327.9h0M344.4 169.1h0M158.2 176.1h0M335.6 100.8h0M223.4 339.7h0M119.3 226.8h0M282.6 137.4h0M424.7 283.3h0M146.5 115.8h0M373.4 325.3h0M117.3 278.3h0M306.4 405.8h0M335.7 246.5h0M359.4 265.0h0M226.2 368.5h0M194.7 140.2h0M141.0 212.3h0M237.8 221.4h0M356.3 351.6h0M259.0 268.5h0M155.7 238.4h0M352.7 286.4h0M449.3 207.3h0M421.0 351.1h0M223.3 288.7h0M357.5 149.8h0M367.6 168.8h0M182.5 154.1h0M200.1 87.1h0M244.4 245.4h0M221.3 282.3h0M299.3 297.3h0M206.4 327.4h0M236.6 211.6h0M394.7 320.0h0M387.8 244.5h0M276.3 64.4h0M148.9 278.1h0M387.2 192.6h0M468.9 226.0h0M429.3 351.4h0M361.3 152.9h0M284.7 263.0h0M379.3 168.8h0M275.0 76.6h0M351.4 158.9h0M232.3 294.7h0M419.0 217.7h0M372.5 307.8h0M462.1 138.8h0M419.6 103.3h0M115.3 253.5h0M117.2 312.2h0M335.2 219.5h0M168.2 181.5h0M208.8 210.7h0M288.0 277.4h0M302.7 273.2h0M212.0 135.6h0M178.8 221.7h0M321.8 42.2h0M144.2 319.3h0M200.3 303.0h0M422.0 317.5h0M436.9 314.1h0M392.5 172.8h0M262.4 127.2h0M226.4 62.6h0M174.7 292.0h0M249.1 52.3h0M397.8 115.9h0M413.7 241.8h0M255.2 243.8h0M456.3 252.6h0M243.0 228.2h0M207.1 64.4h0M290.1 196.9h0M323.2 328.5h0M155.5 354.5h0M424.1 168.2h0M365.5 133.5h0M421.6 230.1h0M296.2 232.7h0M141.8 271.3h0M457.7 184.5h0M178.3 261.9h0M206.6 241.2h0M252.0 322.2h0M345.1 277.2h0M429.3 287.4h0M125.0 273.7h0M263.2 393.5h0M184.7 166.3h0M422.9 104.0h0M248.9 275.3h0M285.9 194.3h0M276.9 265.3h0M380.3 137.5h0M110.0 272.1h0M228.4 191.7h0M359.7 54.0h0M143.0 108.9h0M387.2 304.4h0M285.4 120.2h0M161.2 122.2h0M226.5 180.5h0M141.5 148.6h0M251.9 131.2h0M461.5 235.2h0M377.4 271.7h0M412.4 379.8h0M436.8 105.4h0M140.6 201.1h0M153.4 266.6h0M307.1 252.7h0M264.8 140.5h0M363.0 254.1h0M199.7 92.9h0M206.1 255.5h0M305.5 272.0h0M295.5 89.0h0M246.3 105.3h0M450.2 195.0h0M275.0 43.7h0M478.0 180.4h0M214.5 332.6h0M261.6 365.2h0M387.3 187.4h0M195.5 304.0h0M302.6 95.9h0M357.4 78.7h0M327.0 65.6h0M390.9 324.4h0M172.1 141.5h0M130.3 192.8h0M221.6 398.8h0M150.8 331.6h0M447.7 231.8h0M111.1 235.5h0M264.5 396.4h0M176.7 116.6h0M440.2 125.9h0M423.2 100.8h0M337.4 258.7h0M183.0 289.4h0M167.2 317.7h0M195.3 233.9h0M375.6 109.8h0M421.5 255.0h0M260.9 332.9h0M290.1 281.5h0M274.8 291.1h0M146.5 336.9h0M190.8 310.3h0M370.7 371.0h0M202.8 348.4h0M173.1 154.3h0M111.0 262.1h0M254.5 61.0h0M359.2 387.0h0M300.4 405.1h0M242.1 223.3h0M363.6 381.6h0M419.3 261.2h0M291.7 36.4h0M194.3 324.7h0M104.2 250.0h0M249.1 234.1h0M233.1 165.9h0M396.9 123.9h0M367.9 191.7h0M403.2 321.6h0M394.9 239.0h0M309.0 369.0h0M408.6 137.6h0M445.9 191.9h0M223.3 207.6h0M280.4 215.1h0M307.3 110.4h0M361.6 296.8h0M354.5 45.9h0M299.8 261.4h0M340.8 220.7h0M164.4 240.9h0M323.8 253.9h0M168.1 240.9h0M120.0 319.3h0M284.2 390.0h0M190.6 373.3h0M346.6 389.8h0M216.4 55.9h0M369.7 314.3h0M466.4 219.2h0M378.1 291.6h0M125.8 148.1h0M170.5 147.1h0M229.6 212.4h0M393.1 128.3h0M196.4 361.9h0M288.9 382.6h0M437.6 198.6h0M209.4 299.7h0M338.5 285.9h0M168.9 113.9h0M218.2 77.7h0M335.5 378.4h0M335.4 121.6h0M191.6 378.3h0M383.0 139.6h0M370.8 376.9h0M335.2 358.4h0M406.6 342.9h0M182.4 385.1h0M226.7 211.8h0M209.3 246.3h0M154.8 175.7h0M197.3 303.7h0M392.7 248.3h0M305.3 140.0h0M146.7 305.3h0M305.0 108.1h0M256.0 229.8h0M374.9 107.4h0M229.3 194.6h0M336.4 311.0h0M444.1 244.5h0M300.8 406.4h0M224.1 259.4h0M259.2 219.3h0M247.4 257.2h0M334.6 112.9h0M412.6 153.4h0M320.2 363.7h0M312.1 166.8h0M252.5 214.4h0M355.8 177.3h0M242.6 98.5h0M200.9 152.2h0M201.2 277.3h0M335.3 406.7h0M107.2 273.6h0M474.6 263.6h0M162.9 248.7h0M164.7 307.0h0M345.6 97.0h0M264.8 194.6h0M294.6 347.8h0M274.8 306.5h0M425.3 152.1h0M416.8 218.8h0M247.5 309.9h0M479.2 305.7h0M452.6 207.3h0M225.0 353.6h0M352.4 204.6h0M99.2 300.2h0M235.1 379.5h0M119.7 216.1h0M145.9 282.9h0M305.5 272.9h0M363.1 364.1h0M228.6 75.4h0M284.9 132.0h0M131.4 251.9h0M171.3 351.7h0M183.1 107.1h0M399.6 338.3h0M409.0 88.1h0M142.0 200.2h0M245.6 332.6h0M315.2 115.6h0M252.6 246.5h0M283.7 321.6h0M489.6 199.9h0M443.9 194.8h0M250.6 329.1h0M168.4 81.4h0M489.0 228.4h0M138.8 279.0h0M286.2 74.1h0M130.2 125.0h0M216.3 340.9h0M219.3 273.7h0M101.4 204.4h0M272.5 238.1h0M238.8 357.6h0M95.3 212.6h0M156.5 105.0h0M171.7 244.3h0M181.7 191.3h0M238.9 356.3h0M249.2 116.4h0M315.4 216.8h0M95.9 216.1h0M180.4 268.3h0M318.2 253.3h0M263.6 43.5h0M191.5 118.9h0M275.1 118.4h0M453.2 207.7h0M211.2 242.1h0M407.1 296.1h0M196.3 113.6h0M290.7 401.9h0M201.4 362.0h0M303.9 67.2h0M223.8 378.8h0M148.1 346.9h0M375.7 253.4h0M365.7 58.7h0M221.6 406.0h0M159.6 83.2h0M242.6 307.2h0M341.6 326.0h0M471.7 154.7h0M278.0 407.7h0M323.2 109.3h0M339.3 376.4h0M177.5 213.4h0M405.1 222.9h0M398.7 248.8h0M344.4 211.6h0M88.4 249.3h0M382.7 226.8h0M246.7 229.6h0M417.2 374.6h0M402.7 168.7h0M430.3 172.0h0M413.9 321.9h0M407.6 330.5h0M259.7 47.0h0M205.9 67.8h0M263.1 173.3h0M412.3 278.5h0M331.7 398.7h0M137.3 145.4h0M354.0 153.7h0M266.7 196.6h0M172.2 209.9h0M176.0 184.9h0M286.3 131.6h0M391.0 131.7h0M414.6 228.8h0M379.8 61.6h0M178.8 149.0h0M141.6 245.8h0M247.7 161.1h0M455.5 139.2h0M235.7 199.1h0M127.6 283.4h0M372.8 161.8h0M387.1 265.0h0M165.9 333.0h0M235.1 334.0h0M255.2 231.0h0M253.2 179.8h0M246.8 152.5h0M407.3 371.8h0M309.5 205.4h0M239.5 155.8h0M95.1 215.1h0M96.1 216.1h0M481.7 277.5h0M141.0 201.1h0M324.4 137.4h0M129.9 184.5h0M255.2 165.1h0M225.1 106.9h0M206.9 142.0h0M385.7 82.3h0M240.0 229.0h0M403.9 104.9h0M145.2 108.1h0M182.0 99.2h0M273.6 310.7h0M405.3 172.2h0M295.6 170.3h0M388.7 393.2h0M98.7 226.8h0M324.5 173.2h0M231.1 232.6h0M240.6 102.5h0M310.4 163.2h0M190.7 380.8h0M294.9 246.5h0M255.4 289.7h0M282.7 225.2h0M286.2 149.8h0M352.9 141.3h0M354.0 121.5h0M285.2 204.7h0M270.6 401.2h0M184.5 150.5h0M184.0 280.1h0M208.6 317.9h0M399.9 363.4h0M166.5 306.2h0M377.0 380.8h0M305.4 347.3h0M429.6 247.7h0M342.6 140.1h0M109.0 205.9h0M370.6 232.4h0M188.4 208.4h0M252.4 87.2h0M300.4 374.6h0M146.7 319.4h0M260.7 265.7h0M250.4 130.1h0M327.5 278.4h0M324.7 145.1h0M141.0 343.6h0M245.3 407.8h0M142.8 262.2h0M142.7 302.0h0M239.8 324.5h0M297.1 165.4h0M156.5 97.7h0M272.2 192.3h0M438.6 306.7h0M298.0 309.5h0M224.4 365.3h0M353.3 294.6h0M298.0 211.8h0M316.3 333.2h0M239.8 316.2h0M137.3 305.6h0M202.7 129.1h0M142.4 256.5h0M392.7 349.4h0M266.0 181.6h0M436.8 211.5h0M189.9 72.0h0M332.4 346.7h0M154.0 341.2h0M200.8 108.9h0M302.0 305.9h0M332.3 109.4h0M411.9 138.5h0M370.4 101.8h0M439.8 199.9h0M313.4 127.7h0M332.5 281.1h0M338.9 89.4h0M234.9 204.3h0M347.4 111.2h0M480.1 228.6h0M480.6 305.8h0M345.6 185.7h0M216.9 365.0h0M373.0 223.6h0M176.4 325.0h0M172.4 133.4h0M442.3 181.2h0M117.7 234.0h0M206.1 92.5h0M225.6 108.4h0M159.8 351.0h0M139.8 188.1h0M354.5 127.9h0M126.9 151.3h0M288.0 339.1h0M294.8 100.8h0M224.2 158.3h0M265.5 301.3h0M179.1 121.5h0M381.2 138.6h0M204.1 324.5h0M350.0 222.6h0M278.9 202.4h0M324.1 92.1h0M153.3 318.5h0M234.2 286.8h0M388.3 270.6h0M353.1 337.5h0M383.0 335.0h0M327.5 347.1h0M152.9 295.2h0M193.0 192.1h0M228.8 383.0h0M156.4 134.8h0M345.9 74.2h0M270.7 235.5h0M314.8 136.0h0M432.8 113.3h0M315.1 384.0h0M186.2 388.5h0M412.8 338.6h0M249.4 184.6h0M186.8 168.5h0M345.5 336.5h0M234.8 118.9h0M468.7 212.7h0M195.5 240.1h0M286.6 376.6h0M131.2 272.4h0M175.3 168.1h0M234.2 258.9h0M177.8 123.0h0M250.5 224.6h0M303.9 186.7h0M476.3 224.2h0M348.2 294.2h0M241.7 163.2h0M271.7 221.2h0M174.1 228.9h0M462.2 228.5h0M235.7 331.6h0M412.0 361.4h0M213.9 223.0h0M271.5 404.7h0M423.8 152.0h0M454.9 183.8h0M393.3 240.4h0M144.1 122.4h0M412.3 211.1h0M123.8 168.0h0M288.7 112.7h0M396.5 93.3h0M221.5 98.1h0M296.0 414.0h0M434.7 319.8h0M220.4 315.8h0M155.5 108.0h0M250.8 366.2h0M302.0 151.8h0M358.1 209.1h0M204.5 216.5h0M303.4 126.0h0M157.1 219.5h0M264.0 166.3h0M256.5 205.7h0M321.5 297.8h0M266.9 342.8h0M224.9 102.4h0M417.0 250.9h0M344.8 148.8h0M467.0 156.4h0M320.0 409.4h0M256.5 415.4h0M381.9 205.6h0M233.3 341.3h0M239.7 122.0h0M342.1 216.1h0M288.1 315.0h0M465.0 134.5h0M314.8 96.5h0M349.3 114.7h0M403.7 269.8h0M302.0 121.5h0M193.5 250.7h0M192.3 284.9h0M366.5 369.7h0M214.9 393.6h0M136.7 190.2h0M295.4 67.2h0M363.9 371.8h0M108.3 319.1h0M259.6 236.6h0M296.2 346.5h0M297.6 383.1h0M326.9 246.7h0M350.5 255.3h0M225.6 318.0h0M223.4 228.6h0M176.7 254.3h0M363.2 69.7h0M404.4 390.2h0M304.0 234.6h0M394.3 203.4h0M306.4 410.2h0M419.4 121.4h0M133.1 242.1h0M169.4 378.6h0M190.0 381.5h0M130.8 208.7h0M339.8 102.6h0M295.6 362.8h0M166.2 318.7h0M133.9 318.0h0M137.8 187.0h0M389.1 239.6h0M404.0 199.4h0M378.9 217.9h0M328.6 329.0h0M358.0 115.7h0M203.3 82.2h0M459.1 169.5h0M408.9 118.9h0M330.6 66.9h0M228.4 208.0h0M295.4 87.7h0M490.1 218.5h0M148.3 184.0h0M435.9 127.7h0M380.6 314.5h0M358.5 243.3h0M212.9 315.7h0M358.0 253.3h0M199.8 98.0h0M185.4 216.7h0M485.8 257.7h0M148.4 329.5h0M136.8 362.1h0M361.3 406.6h0M458.0 212.8h0M290.1 181.8h0M452.9 281.2h0M392.7 162.0h0M181.0 80.5h0M402.0 258.3h0M143.6 156.2h0M367.5 193.1h0M458.6 166.1h0M219.4 119.1h0M380.5 76.3h0M275.1 57.8h0M442.0 145.7h0M344.5 167.6h0M103.5 248.9h0M287.0 293.8h0M315.0 45.8h0M191.2 261.9h0M227.3 74.5h0M273.4 82.7h0M303.6 141.1h0M307.5 343.6h0M138.0 177.2h0M172.3 342.5h0M396.6 305.3h0M217.5 242.7h0M308.7 129.6h0M300.9 186.0h0M403.4 369.4h0M191.8 198.1h0M306.6 53.7h0M353.5 103.6h0M448.8 305.4h0M406.6 252.0h0M217.6 322.8h0M266.8 95.8h0M141.7 287.0h0M367.3 250.2h0M241.3 49.7h0M436.7 174.3h0M152.1 128.3h0M251.6 352.0h0M374.8 240.8h0M379.1 223.3h0M293.5 235.7h0M248.4 182.2h0M427.8 317.2h0M214.5 313.9h0M370.9 269.8h0M231.9 261.2h0M450.4 121.8h0M484.6 227.6h0M377.1 252.0h0M410.9 155.1h0M255.7 271.9h0M311.4 282.0h0M333.8 125.2h0M282.3 209.4h0M407.3 264.2h0M378.7 258.3h0M352.0 335.9h0M125.1 325.4h0M268.1 289.7h0M422.7 154.6h0M268.0 385.0h0M289.4 415.2h0M364.9 56.5h0M205.0 217.1h0M421.8 325.5h0M115.4 191.2h0M386.7 312.7h0M332.5 203.0h0M272.4 418.7h0M335.7 413.0h0M212.2 271.6h0M406.0 88.4h0M296.4 387.0h0M460.3 214.6h0M224.6 163.3h0M201.5 258.9h0M295.5 380.9h0M469.6 247.1h0M355.7 113.0h0M257.6 82.7h0M428.9 159.6h0M110.3 290.4h0M199.5 136.5h0M127.1 314.0h0M450.6 110.1h0M331.9 76.4h0M236.0 342.1h0M294.5 157.1h0M348.6 249.8h0M319.7 169.1h0M434.4 267.2h0M138.5 251.9h0M339.0 268.1h0M166.8 160.2h0M191.6 285.1h0M392.3 122.6h0M328.5 148.3h0M207.8 396.0h0M452.6 278.3h0M265.2 210.7h0M329.8 201.0h0M111.2 283.0h0M451.4 179.6h0M315.5 126.2h0M288.6 168.4h0M241.7 97.7h0M330.1 152.6h0M280.8 399.9h0M472.9 279.7h0M320.3 223.1h0M174.3 324.5h0M221.4 131.5h0M196.8 138.7h0M154.7 172.6h0M185.4 358.4h0M305.5 249.4h0M420.1 168.6h0M463.5 249.6h0M228.4 259.0h0M127.5 222.6h0M178.5 358.7h0M328.3 408.6h0M357.9 242.6h0M185.8 219.6h0M222.1 336.8h0M327.6 183.2h0M138.0 131.1h0M321.3 347.7h0M338.6 152.1h0M335.5 198.9h0M286.5 89.7h0M165.9 248.6h0M257.6 69.6h0M264.2 327.3h0M122.5 266.3h0M321.2 171.1h0M111.4 224.6h0M327.3 289.9h0M368.5 395.1h0M303.0 193.1h0M265.7 262.6h0M408.4 150.3h0M357.6 259.7h0M269.2 223.2h0M310.5 412.4h0M387.5 381.1h0M339.9 365.6h0M386.7 268.1h0M301.1 363.9h0M284.9 102.8h0M479.0 247.8h0M471.4 273.9h0M279.5 85.1h0M350.7 303.1h0M241.4 135.2h0M264.2 251.0h0M229.9 239.5h0M451.0 168.3h0M324.2 302.8h0M228.3 292.9h0M395.0 270.5h0M281.6 185.7h0M163.2 141.5h0M364.0 188.0h0M160.8 371.0h0M463.0 215.0h0M336.1 243.2h0M256.1 347.6h0M403.9 276.1h0M394.1 216.3h0M183.3 128.7h0M294.6 154.9h0M451.2 119.1h0M115.4 257.8h0M469.6 172.1h0M479.0 302.3h0M261.6 300.7h0M383.0 278.4h0M138.3 305.9h0M301.5 173.4h0M168.3 375.4h0M464.6 223.8h0M358.4 201.4h0M463.9 265.8h0M192.1 137.0h0M250.5 243.0h0M110.2 202.6h0M179.4 84.2h0M205.5 331.2h0M210.7 301.4h0M177.9 168.6h0M231.6 109.8h0M383.4 79.5h0M122.9 284.0h0M432.7 339.3h0M280.6 214.0h0M185.4 70.9h0M441.7 293.4h0M437.3 123.2h0M212.1 294.3h0M271.9 215.5h0M318.5 80.6h0M299.3 319.2h0M281.9 184.1h0M422.8 314.2h0M259.9 190.1h0M254.4 189.2h0M195.7 261.8h0M417.2 273.5h0M367.3 313.1h0M318.1 45.1h0M229.8 184.9h0M158.2 327.6h0M398.0 327.6h0M245.1 72.2h0M419.2 255.6h0M197.2 88.9h0M485.7 281.1h0M389.7 149.7h0M400.8 102.6h0M379.8 73.9h0M284.9 111.1h0M169.5 129.7h0M244.7 372.6h0M195.4 67.2h0M240.9 388.6h0M252.7 315.9h0M208.2 166.1h0M308.5 67.4h0M274.2 229.4h0M350.6 285.8h0M273.3 124.2h0M392.1 209.0h0M249.6 72.7h0M139.0 277.4h0M303.2 299.6h0M287.1 353.8h0M394.2 120.2h0M326.8 301.4h0M361.3 288.7h0M262.5 294.7h0M411.6 215.2h0M231.1 312.3h0M256.0 209.5h0M340.3 280.9h0M128.6 125.7h0M267.5 170.9h0M278.9 265.3h0M125.8 268.7h0M441.5 106.8h0M182.4 367.8h0M201.5 250.1h0M152.9 152.6h0M160.2 215.7h0M434.9 139.3h0M284.0 45.5h0M138.0 216.2h0M354.4 67.4h0M119.4 140.5h0M257.3 300.0h0M239.7 87.8h0M249.2 337.2h0M169.7 116.1h0M156.9 308.6h0M113.6 154.5h0M376.9 184.5h0M376.6 405.6h0M109.9 179.6h0M394.7 235.2h0M233.0 391.1h0M163.9 131.0h0M471.5 204.4h0M167.2 246.0h0M99.5 259.2h0M308.1 88.2h0M274.9 319.9h0M273.9 57.4h0M285.9 374.9h0M328.1 98.2h0M397.8 313.1h0M214.2 323.8h0M301.7 164.5h0M467.5 255.8h0M251.6 70.3h0M228.6 358.2h0M345.1 55.7h0M151.4 264.2h0M314.2 76.7h0M386.5 244.4h0M378.8 178.2h0M272.7 346.0h0M178.3 134.8h0M274.6 137.4h0M337.7 321.4h0M115.0 230.5h0M376.0 54.7h0M341.1 137.5h0M344.7 114.8h0M196.8 113.7h0M297.4 159.4h0M202.5 402.7h0M215.1 264.1h0M329.0 304.4h0M458.6 145.5h0M255.6 250.8h0M112.1 218.5h0M106.1 183.0h0M129.5 245.1h0M258.4 115.6h0M279.2 377.4h0M153.5 291.6h0M198.5 316.0h0M417.4 189.6h0M289.8 152.0h0M98.9 213.6h0M121.8 330.9h0M194.4 282.6h0M312.7 52.3h0M437.7 261.8h0M306.9 246.1h0M364.9 170.4h0M255.8 240.2h0M315.1 194.9h0M241.5 138.8h0M291.4 131.2h0M234.2 302.7h0M430.0 231.1h0M239.0 128.2h0M426.0 310.4h0M473.3 149.0h0M231.4 318.9h0M285.1 55.3h0M368.1 336.3h0M270.9 238.1h0M250.2 271.8h0M350.1 313.5h0M196.7 140.1h0M123.5 228.0h0M319.6 335.2h0M303.1 406.1h0M372.1 286.1h0M279.7 239.9h0M369.5 338.1h0M323.7 108.2h0M328.8 164.0h0M303.3 361.6h0M323.1 382.7h0M153.0 207.5h0M111.9 241.4h0M424.5 267.3h0M272.0 141.1h0M374.6 246.9h0M253.1 53.8h0M161.5 292.2h0M228.1 167.8h0M327.6 44.6h0M269.3 333.3h0M341.4 298.8h0M118.4 251.5h0M479.1 166.0h0M445.8 137.6h0M240.5 300.9h0M191.8 129.6h0M303.6 91.9h0M159.1 214.2h0M345.4 103.4h0M273.7 323.2h0M137.7 156.5h0M129.5 328.8h0M247.6 133.6h0M146.0 217.5h0M365.2 372.2h0M187.2 242.7h0M242.5 147.7h0M358.1 219.2h0M415.4 304.9h0M139.5 293.2h0M251.4 60.5h0M188.9 280.7h0M135.4 338.5h0M369.5 188.4h0M229.2 151.3h0M147.1 295.4h0M142.2 110.7h0M308.0 346.7h0M321.7 185.4h0M416.9 226.8h0M352.0 357.5h0M356.8 307.5h0M97.8 263.0h0M312.6 74.1h0M152.2 210.9h0M328.7 249.9h0M347.5 305.3h0M250.2 344.2h0M164.1 93.4h0M301.7 305.4h0M363.0 119.1h0M449.6 222.5h0M399.1 124.1h0M260.8 212.5h0M244.9 83.2h0M236.9 122.0h0M193.5 386.0h0M366.2 62.7h0M148.3 132.3h0M482.7 261.3h0M427.2 333.0h0M356.7 89.6h0M356.3 244.5h0M389.5 161.9h0M438.6 182.1h0M301.0 308.3h0M417.4 343.2h0M286.3 164.8h0M378.4 378.8h0M332.9 337.4h0M383.6 326.7h0M223.3 229.0h0M449.1 149.3h0M170.6 133.6h0M325.1 85.5h0M360.8 49.4h0M306.0 384.9h0M330.8 213.4h0M171.5 295.1h0M128.0 142.0h0M185.0 140.5h0M300.8 339.9h0M353.0 324.9h0M118.5 193.8h0M144.4 146.4h0M185.4 68.9h0M305.0 196.3h0M400.5 75.7h0M263.9 186.3h0M148.8 199.5h0M373.7 170.4h0M252.0 333.8h0M307.3 393.8h0M199.9 225.6h0M270.1 183.8h0M438.7 201.3h0M262.6 200.2h0M232.8 336.5h0M276.8 244.0h0M150.2 214.2h0M305.8 379.0h0M338.9 393.1h0M343.2 366.3h0M123.5 195.7h0M156.2 281.5h0M435.2 252.5h0M232.8 198.2h0M98.7 252.1h0M241.3 276.0h0M418.8 107.8h0M207.4 271.7h0M347.3 135.3h0M348.3 190.8h0M154.1 204.3h0M214.0 167.5h0M154.5 128.5h0M110.2 225.3h0M268.7 264.8h0M347.9 132.8h0M218.1 369.6h0M258.8 355.6h0M341.0 245.4h0M390.0 136.0h0M223.8 400.8h0M309.0 99.1h0M446.7 319.2h0M298.0 217.4h0M198.4 370.4h0M293.8 155.1h0M303.3 63.9h0M292.7 231.4h0M167.1 368.3h0M442.4 242.5h0M296.7 254.8h0M234.0 315.3h0M264.8 217.7h0M192.0 181.9h0M211.2 389.7h0M169.8 381.0h0M310.7 287.6h0M255.6 106.3h0M201.2 116.6h0M265.7 184.4h0M342.0 43.5h0M386.9 391.0h0M401.8 133.0h0M101.1 278.9h0M304.9 70.7h0M199.2 295.4h0M382.5 97.5h0M412.3 111.3h0M236.0 169.6h0M300.7 328.7h0M121.6 138.7h0M344.4 152.5h0M128.7 245.6h0M378.3 338.2h0M456.4 286.0h0M215.3 246.8h0M275.8 190.4h0M252.1 139.3h0M435.0 145.8h0M315.1 75.7h0M473.4 256.4h0M159.0 239.9h0M169.0 199.5h0M216.4 387.3h0M321.2 241.8h0M407.1 278.0h0M199.8 376.9h0M231.5 166.3h0M317.6 114.9h0M376.2 254.2h0M103.2 287.6h0M349.2 51.4h0M176.7 307.4h0M417.7 337.8h0M146.6 107.8h0M231.5 141.7h0M333.7 194.1h0M165.6 317.1h0M133.1 131.0h0M146.4 361.9h0M451.6 320.3h0M343.3 236.3h0M367.2 79.9h0M205.2 125.5h0M297.3 360.9h0M139.8 259.7h0M193.9 293.5h0M256.9 206.7h0M209.5 393.2h0M120.3 269.1h0M419.1 132.1h0M353.7 350.1h0M171.7 112.1h0M226.6 132.3h0M405.3 288.7h0M269.7 314.1h0M214.8 120.9h0M116.7 298.7h0M422.5 264.2h0M189.5 338.8h0M385.8 375.8h0M221.8 224.2h0M209.3 171.2h0M136.3 136.8h0M145.1 214.8h0M286.8 220.9h0M319.2 210.5h0M264.7 44.5h0M398.1 396.1h0M383.2 171.7h0M158.0 178.2h0M261.5 331.6h0M310.4 171.8h0M217.1 109.1h0M199.7 382.2h0M200.4 309.7h0M274.0 76.1h0M337.1 69.3h0M205.3 139.0h0M266.8 415.6h0M211.4 116.6h0M174.9 179.8h0M393.5 309.6h0M324.6 265.4h0M176.5 279.3h0M164.0 204.4h0M482.4 166.2h0M349.3 230.4h0M286.0 127.8h0M141.5 216.2h0M290.3 413.4h0M300.1 178.9h0M163.8 238.9h0M299.5 250.8h0M263.5 183.0h0M263.0 249.9h0M325.4 379.4h0M232.0 305.8h0M454.4 239.4h0M164.4 109.4h0M197.3 144.8h0M214.5 337.0h0M277.9 114.2h0M206.2 305.0h0M337.1 275.4h0M122.3 186.7h0M239.3 221.7h0M347.9 400.6h0M246.9 400.2h0M126.5 191.4h0M384.7 165.7h0M471.9 287.5h0M184.9 303.8h0M128.8 307.4h0M212.8 151.2h0M190.8 115.9h0M131.8 226.5h0M271.1 324.6h0M329.3 264.1h0M240.7 393.8h0M230.0 355.5h0M287.0 220.6h0M377.8 381.7h0M377.9 69.9h0M261.3 252.5h0M283.1 254.3h0M161.2 278.2h0M460.8 175.8h0M419.6 83.2h0M267.9 167.4h0M259.2 240.2h0M286.7 165.4h0M437.1 308.6h0M314.2 353.1h0M115.2 267.1h0M249.7 195.6h0M87.8 223.4h0M360.9 227.6h0M367.3 412.5h0M311.3 282.6h0M450.9 317.0h0M442.6 252.3h0M252.0 97.4h0M300.2 122.8h0M191.3 229.3h0M123.6 309.9h0M101.9 298.4h0M459.6 260.2h0M422.1 222.1h0M151.7 168.7h0M164.9 332.9h0M375.7 91.3h0M194.7 309.6h0M243.1 394.8h0M183.7 331.4h0M189.3 139.2h0M219.5 143.3h0M202.8 76.2h0M275.8 210.7h0M384.8 125.6h0M275.5 176.2h0M189.0 69.0h0M406.8 152.7h0M243.9 136.4h0M332.2 92.5h0M368.5 384.2h0M366.4 316.9h0M282.7 273.8h0M269.1 254.2h0M156.0 310.3h0M280.1 98.6h0M147.0 322.9h0M338.3 242.4h0M309.8 227.9h0M429.3 375.0h0M152.9 292.9h0M405.4 193.4h0M232.5 173.1h0M175.4 102.1h0M231.6 184.3h0M166.0 283.7h0M169.3 333.1h0M161.5 252.6h0M249.0 319.5h0M478.5 227.5h0M325.5 339.5h0M338.4 246.8h0M187.9 270.8h0M444.4 228.8h0M399.8 342.2h0M453.6 259.6h0M374.8 259.7h0M213.4 256.4h0M331.1 306.3h0M281.4 162.1h0M336.6 169.2h0M224.8 289.6h0M192.7 78.3h0M187.8 102.5h0M474.7 248.0h0M359.7 224.9h0M256.3 263.1h0M151.2 259.6h0M371.1 289.3h0M451.6 181.7h0M174.5 100.2h0M217.8 386.5h0M284.7 106.5h0M274.6 125.3h0M126.9 297.2h0M209.5 294.1h0M378.9 228.6h0M411.1 303.2h0M318.4 322.5h0M261.2 189.6h0M174.8 210.8h0M218.0 307.3h0M121.7 277.5h0M295.4 359.2h0M279.5 369.7h0M219.9 300.4h0M315.8 361.9h0M330.5 167.4h0M304.3 396.5h0M221.4 143.4h0M394.8 225.9h0M156.9 281.2h0M419.9 274.8h0M236.5 415.6h0M341.5 214.6h0M312.5 252.6h0M473.1 174.5h0M242.6 381.0h0M105.6 254.8h0M152.4 271.5h0M294.4 407.0h0M365.5 294.2h0M399.7 236.8h0M420.0 179.5h0M222.7 218.5h0M156.0 146.2h0M369.8 373.7h0M251.2 64.6h0M268.4 412.1h0M149.5 155.2h0M118.6 212.3h0M291.9 178.2h0M452.0 258.5h0M117.1 213.9h0M269.9 163.0h0M330.3 105.9h0M280.4 115.4h0M91.3 232.8h0M477.9 272.8h0M100.7 214.9h0M407.6 286.8h0M253.4 298.9h0M450.5 295.2h0M352.6 179.8h0M240.5 227.5h0M247.9 299.9h0M463.7 166.8h0M301.9 270.1h0M251.4 325.5h0M421.3 139.0h0M327.5 85.8h0M411.8 290.4h0M328.1 61.8h0M382.8 336.1h0M269.8 244.0h0M301.1 192.2h0M299.2 256.9h0M383.9 292.1h0M173.7 311.4h0M277.5 331.8h0M317.2 394.7h0M345.3 104.9h0M381.2 94.3h0M158.4 172.5h0M411.1 265.7h0M378.5 290.7h0M470.4 253.6h0M356.0 73.1h0M284.0 99.0h0M199.3 390.8h0M347.4 245.7h0M199.1 124.9h0M401.6 179.8h0M430.5 320.7h0M414.3 89.7h0M432.4 99.9h0M158.9 167.1h0M317.5 376.2h0M463.5 135.8h0M228.3 190.1h0M263.9 187.3h0M305.1 350.2h0M447.7 120.2h0M161.2 364.5h0M307.1 425.9h0M237.3 257.5h0M169.2 196.1h0M244.7 292.0h0M332.3 343.1h0M183.7 315.7h0M252.2 236.6h0M328.6 318.8h0M207.0 342.3h0M110.8 246.6h0M214.1 111.1h0M367.0 236.6h0M210.7 311.0h0M259.2 170.5h0M300.3 250.3h0M106.9 235.3h0M414.6 217.6h0M139.3 148.0h0M133.2 199.4h0M141.4 121.6h0M173.0 305.2h0M197.2 130.5h0M429.0 175.7h0M246.1 155.6h0M328.3 128.2h0M451.7 331.5h0M136.0 143.6h0M134.1 160.2h0M368.7 191.4h0M237.0 205.0h0M318.1 318.3h0M197.4 278.7h0M388.3 101.4h0M252.9 345.2h0M481.2 261.2h0M145.3 201.1h0M328.3 117.9h0M346.9 324.4h0M271.3 413.6h0M381.4 398.5h0M174.4 351.9h0M95.2 276.5h0M249.8 283.3h0M390.3 183.2h0M445.3 268.2h0M352.3 64.0h0M254.8 76.7h0M270.8 181.2h0M120.6 134.9h0M231.7 211.0h0M221.8 180.7h0M251.1 414.1h0M180.7 75.5h0M311.4 237.9h0M143.1 341.4h0M180.3 298.7h0M376.7 234.8h0M232.0 200.3h0M214.0 350.9h0M129.2 282.0h0M336.5 376.8h0M325.9 349.2h0M340.0 188.7h0M205.5 250.5h0M394.6 269.8h0M188.4 242.5h0M212.1 198.2h0M199.3 350.7h0M202.1 101.3h0M275.8 323.7h0M396.4 207.0h0M392.5 228.3h0M294.6 110.8h0M149.6 164.1h0M145.9 234.8h0M332.9 293.4h0M246.4 388.1h0M196.5 197.6h0M459.4 124.4h0M203.6 339.2h0M368.1 313.9h0M187.4 198.3h0M380.9 274.2h0M274.5 113.6h0M331.5 83.2h0M233.0 242.2h0M251.7 87.1h0M256.2 157.1h0M269.8 378.6h0M327.2 96.3h0M299.0 257.6h0M279.2 171.6h0M276.5 45.3h0M245.7 96.4h0M207.2 321.3h0M93.9 231.8h0M220.1 360.7h0M416.7 310.6h0M393.6 374.0h0M135.6 291.5h0M285.2 367.9h0M192.1 291.3h0M183.9 244.1h0M277.4 45.1h0M241.0 134.4h0M386.2 129.0h0M185.1 360.4h0M181.3 355.0h0M220.8 388.4h0M245.3 334.1h0M315.0 50.6h0M213.3 336.7h0M231.2 256.1h0M181.7 281.6h0M391.5 235.7h0M386.9 227.8h0M258.6 273.1h0M294.3 193.1h0M283.5 117.8h0M284.8 332.0h0M330.0 135.2h0M408.8 199.9h0M253.6 51.3h0M294.4 410.3h0M200.5 302.7h0M190.6 130.4h0M314.7 270.0h0M267.2 220.3h0M431.3 345.7h0M254.1 190.5h0M201.4 171.6h0M287.0 413.4h0M252.6 99.9h0M387.9 270.0h0M160.1 137.5h0M172.1 187.4h0M233.1 374.3h0M237.7 335.4h0M383.0 239.6h0M224.7 98.2h0M280.0 230.2h0M242.2 181.2h0M147.2 321.0h0M200.7 293.5h0M409.9 369.5h0M284.0 123.1h0M419.0 218.3h0M309.1 130.7h0M156.4 165.1h0M170.0 78.3h0M226.0 77.5h0M386.4 261.1h0M449.4 299.9h0M182.5 319.0h0M263.3 99.4h0M309.6 336.5h0M151.0 166.9h0M245.1 361.2h0M290.4 71.0h0M403.0 277.0h0M213.5 231.6h0M230.5 151.9h0M337.9 208.1h0M226.5 327.3h0M126.7 306.5h0M245.1 105.1h0M187.8 154.2h0M184.1 223.9h0M316.9 42.5h0M356.7 263.0h0M216.6 125.4h0M315.6 46.9h0M358.6 385.1h0M239.1 233.4h0M404.8 187.6h0M188.1 140.0h0M455.4 275.3h0M106.3 263.6h0M130.7 114.0h0M277.8 314.5h0M303.3 129.5h0M132.0 113.9h0M223.1 293.8h0M423.5 212.0h0M339.0 371.1h0M354.7 227.5h0M188.3 140.1h0M217.6 104.2h0M190.8 179.1h0M306.0 104.4h0M310.1 208.0h0M445.5 114.1h0M293.4 100.4h0M378.1 261.7h0M375.5 215.0h0M237.3 359.6h0M407.1 203.6h0M133.4 252.6h0M325.7 310.0h0M216.3 166.6h0M415.3 299.4h0M276.8 148.9h0M266.9 409.4h0M265.1 367.5h0M482.9 249.2h0M217.8 208.1h0M316.6 58.1h0M422.3 113.9h0M325.4 74.0h0M310.0 158.9h0M483.0 218.2h0M101.5 295.3h0M217.9 312.4h0M321.8 243.2h0M259.2 316.8h0M284.7 403.3h0M289.4 334.4h0M261.4 194.2h0M419.7 197.0h0M182.3 120.7h0M149.3 149.9h0M266.8 101.6h0M242.5 364.8h0M332.0 263.6h0M146.9 232.3h0M159.7 345.7h0M200.2 230.0h0M251.0 318.7h0M198.8 380.5h0M435.3 221.2h0M236.6 126.3h0M138.8 323.7h0M317.7 61.9h0M393.3 336.5h0M341.4 392.3h0M200.8 211.7h0M127.6 195.5h0M371.7 300.0h0M187.1 153.9h0M267.0 156.7h0M284.4 350.8h0M220.6 232.5h0M262.5 241.7h0M399.9 371.5h0M454.4 259.4h0M393.2 231.1h0M270.9 276.5h0M271.5 40.3h0M177.9 180.9h0M225.7 173.0h0M224.7 253.6h0M117.2 330.2h0M293.1 294.3h0M466.9 255.7h0M253.3 222.2h0M355.9 331.6h0M275.0 162.8h0M291.0 418.6h0M242.8 206.7h0M243.2 133.7h0M261.7 284.6h0M268.5 105.1h0M220.8 84.5h0M381.8 356.1h0M336.5 375.9h0M115.1 158.0h0M419.7 289.3h0M320.5 43.7h0M184.7 347.0h0M419.6 191.3h0M348.5 64.1h0M97.5 224.4h0M261.8 375.0h0M275.0 389.2h0M325.8 377.8h0M296.9 420.1h0M249.4 393.8h0M302.3 103.6h0M208.9 136.6h0M164.2 377.8h0M374.3 243.4h0M182.5 80.8h0M266.4 416.5h0M352.2 102.0h0M241.3 299.0h0M251.0 340.0h0M297.2 217.2h0M119.9 186.3h0M214.2 353.0h0M139.8 317.6h0M426.4 240.9h0M303.5 161.2h0M177.0 330.0h0M264.1 381.6h0M366.1 331.2h0M387.1 204.5h0M226.5 59.1h0M260.6 73.1h0M373.9 217.9h0M370.9 99.0h0M308.6 357.8h0M227.4 326.0h0M282.5 153.5h0M420.5 237.7h0M183.8 300.7h0M171.0 175.8h0M254.7 346.8h0M238.2 56.1h0M175.1 111.1h0M356.6 67.7h0M192.2 283.7h0M244.4 176.8h0M311.1 259.0h0M469.9 145.9h0M370.5 249.7h0M264.3 353.4h0M358.8 336.9h0M344.2 270.1h0M257.2 282.4h0M368.9 400.1h0M489.7 209.0h0M258.4 402.2h0M202.4 363.4h0M344.6 303.4h0M466.2 233.8h0M367.2 207.9h0M426.7 292.1h0M233.9 283.9h0M178.4 381.8h0M381.9 277.4h0M401.1 103.3h0M256.7 124.0h0M222.5 357.3h0M204.6 396.4h0M449.3 162.2h0M407.5 362.7h0M157.7 115.2h0M460.4 145.9h0M234.0 265.6h0M377.2 402.0h0M252.1 348.9h0M285.6 170.5h0M119.8 141.5h0M252.2 390.0h0M209.3 297.0h0M289.5 292.7h0M368.6 75.4h0M323.4 280.5h0M391.8 103.8h0M284.3 286.6h0M356.5 90.7h0M125.1 322.3h0M378.3 78.2h0M320.8 157.7h0M159.3 372.4h0M303.8 158.2h0M259.9 62.8h0M316.3 299.6h0M366.6 136.6h0M181.6 296.7h0M118.4 250.1h0M367.3 71.3h0M371.0 252.5h0M389.1 231.8h0M427.4 101.0h0M149.3 272.2h0M329.8 163.2h0M145.0 305.3h0M185.0 125.2h0M368.0 237.1h0M147.8 199.0h0M357.6 380.1h0M308.8 416.0h0M384.6 287.4h0M267.9 219.6h0M106.0 244.6h0M299.3 130.9h0M121.6 328.6h0M327.2 272.6h0M294.1 128.4h0M249.2 291.6h0M285.9 221.7h0M216.6 212.9h0M386.1 379.1h0M387.5 398.0h0M321.0 50.9h0M213.4 344.3h0M249.9 227.4h0M138.3 246.3h0M292.9 76.4h0M371.9 228.7h0M248.6 366.5h0M202.0 357.4h0M289.0 425.9h0M154.7 262.7h0M399.5 70.1h0M416.9 168.4h0M244.7 159.9h0M368.3 265.4h0M411.8 324.6h0M418.8 175.0h0M286.1 48.5h0M326.4 237.3h0M215.7 336.6h0M158.2 222.0h0M140.4 330.3h0M268.3 118.1h0M140.3 248.3h0M234.8 191.9h0M303.2 131.0h0M235.0 349.4h0M309.3 57.7h0M233.6 231.4h0M327.7 96.7h0M165.1 298.4h0M419.5 187.5h0M229.1 389.7h0M340.6 223.9h0M217.0 374.1h0M404.3 144.8h0M276.2 190.4h0M326.3 323.8h0M109.2 156.5h0M137.5 116.9h0M206.9 179.3h0M310.8 386.2h0M435.7 118.7h0M247.9 384.6h0M169.3 329.5h0M108.0 167.5h0M349.9 373.6h0M467.0 319.1h0M130.8 154.1h0M343.2 92.2h0M160.4 311.3h0M429.3 209.6h0M384.3 332.4h0M230.4 89.5h0M392.1 330.2h0M249.8 339.2h0M258.9 166.9h0M285.0 182.6h0M360.3 146.8h0M128.4 232.4h0M237.1 105.3h0M225.9 364.9h0M313.7 130.4h0M256.8 293.2h0M395.9 121.0h0M160.1 302.8h0M241.7 108.0h0M385.3 277.2h0M151.3 299.2h0M253.2 203.5h0M293.8 332.2h0M342.5 91.2h0M175.1 209.4h0M463.8 290.7h0M448.4 213.7h0M449.2 141.7h0M315.2 343.6h0M382.3 313.4h0M257.7 409.3h0M297.5 123.6h0M162.0 345.1h0M339.2 66.4h0M313.4 192.3h0M360.1 168.0h0M388.7 345.2h0M277.2 406.3h0M269.2 63.8h0M268.7 113.1h0M395.0 268.1h0M205.3 158.9h0M355.8 340.2h0M446.7 218.6h0M280.7 216.9h0M239.7 260.2h0M185.4 378.9h0M273.0 371.4h0M392.5 220.5h0M186.6 110.7h0M169.1 300.0h0M408.4 318.7h0M319.8 222.1h0M375.6 137.0h0M347.7 303.4h0M272.3 399.3h0M307.5 207.5h0M331.8 201.0h0M247.7 121.2h0M243.2 121.6h0M368.0 160.8h0M323.3 121.0h0M419.4 108.3h0M337.3 69.2h0M443.3 151.9h0M247.1 227.0h0M246.4 182.5h0M406.6 310.3h0M450.1 225.0h0M308.3 273.0h0M282.1 62.1h0M208.8 281.2h0M142.1 145.9h0M260.5 96.5h0M310.0 166.8h0M181.1 207.6h0M305.7 90.5h0M300.3 362.8h0M410.7 213.9h0M183.6 344.0h0M221.1 245.8h0M338.3 187.7h0M237.9 341.5h0M183.0 263.5h0M308.1 233.6h0M366.6 143.3h0M256.1 103.8h0M365.1 114.1h0M371.2 104.5h0M330.3 268.2h0M275.3 125.2h0M354.6 363.7h0M319.3 72.1h0M358.3 270.4h0M252.0 187.2h0M143.7 268.2h0M260.8 143.4h0M445.0 226.4h0M168.9 236.1h0M247.6 405.4h0M372.9 205.6h0M169.8 222.9h0M237.5 364.1h0M460.9 334.7h0M379.1 127.2h0M136.0 242.3h0M394.1 137.4h0M237.7 197.8h0M232.5 319.4h0M429.0 183.9h0M217.1 295.7h0M226.4 383.8h0M399.9 256.2h0M461.4 285.1h0M307.4 325.9h0M170.5 280.4h0M146.5 288.8h0M483.5 243.4h0M192.2 223.1h0M153.7 170.2h0M111.1 288.9h0M194.2 239.7h0M297.4 162.4h0M301.7 55.8h0M404.5 82.8h0M130.7 223.4h0M196.3 128.0h0M395.1 111.1h0M255.3 61.1h0M272.2 87.0h0M155.2 239.4h0M297.3 155.3h0M147.3 127.1h0M231.4 393.1h0M363.8 340.5h0M265.6 295.6h0M238.9 157.8h0M195.1 266.5h0M172.3 231.9h0M251.8 143.4h0M379.6 181.8h0M163.5 370.7h0M279.3 296.9h0M377.8 223.8h0M98.5 227.7h0M169.6 110.3h0M242.9 77.2h0M104.5 292.8h0M416.0 239.6h0M337.8 375.9h0M278.8 154.7h0M381.7 237.8h0M376.5 184.7h0M224.0 71.5h0M191.7 385.9h0M336.1 115.9h0M411.1 159.1h0M427.1 119.4h0M334.6 53.8h0M381.7 381.9h0M292.1 312.4h0M178.3 279.4h0M354.0 143.9h0M259.0 104.9h0M214.9 258.3h0M314.3 198.6h0M226.8 379.8h0M287.1 300.9h0M452.6 130.3h0M333.2 179.2h0M338.5 129.4h0M367.7 81.3h0M244.0 41.0h0M227.4 303.1h0M363.1 124.4h0M289.1 357.1h0M394.0 129.2h0M349.9 305.6h0M319.5 213.2h0M216.1 162.1h0M374.3 102.4h0M268.8 394.6h0M341.2 293.4h0M264.4 334.0h0M297.5 145.9h0M371.3 385.9h0M438.3 126.3h0M422.0 228.0h0M245.2 74.1h0M225.0 335.2h0M187.4 176.7h0M200.9 264.2h0M170.9 304.3h0M213.2 308.9h0M239.4 308.6h0M259.1 312.4h0M353.4 67.8h0M233.1 178.5h0M277.4 64.8h0M490.7 194.6h0M175.2 183.3h0M207.8 255.0h0M357.4 369.1h0M253.6 296.3h0M390.9 211.0h0M305.9 391.9h0M442.8 244.2h0M118.6 291.1h0M205.9 301.1h0M340.8 133.7h0M433.7 242.3h0M283.6 357.1h0M289.0 419.8h0M317.4 399.6h0M182.3 159.5h0M192.3 309.2h0M141.3 115.6h0M125.2 252.9h0M413.0 363.5h0M110.2 283.5h0M325.8 399.7h0M188.2 291.7h0M270.0 205.4h0M227.2 238.8h0M311.8 301.0h0M354.7 318.2h0M342.2 204.4h0M172.0 356.8h0M293.6 254.2h0M309.3 160.3h0M114.8 297.9h0M461.6 333.4h0M220.1 321.8h0M406.6 304.5h0M144.9 229.7h0M300.7 94.9h0M296.1 95.3h0M151.2 340.0h0M384.2 167.2h0M198.8 205.1h0M211.6 289.3h0M419.5 166.0h0M461.4 337.4h0M312.2 126.4h0M255.2 185.4h0M127.1 278.6h0M192.4 88.6h0M302.4 194.0h0M336.5 149.0h0M330.2 65.5h0M401.7 298.5h0M194.4 77.3h0M149.6 144.3h0M253.9 296.6h0M394.3 295.2h0M303.5 117.2h0M235.2 90.9h0M390.5 358.8h0M176.8 165.5h0M232.5 274.3h0M365.8 214.9h0M406.9 212.9h0M248.7 164.6h0M247.5 99.8h0M360.4 160.9h0M265.7 211.0h0M262.2 211.8h0M284.7 345.5h0M352.3 287.6h0M110.5 250.7h0M223.0 95.8h0M143.3 278.9h0M342.0 347.9h0M280.5 386.9h0M384.1 91.8h0M202.3 389.8h0M338.9 96.1h0M242.0 356.4h0M168.8 137.4h0M327.7 261.6h0M470.2 226.5h0M272.7 152.6h0M290.3 191.4h0M458.8 162.5h0M116.8 297.7h0M316.2 331.4h0M139.8 140.1h0M171.3 155.8h0M456.4 313.1h0M312.7 42.2h0M151.3 230.4h0M426.6 184.7h0M270.0 248.0h0M285.0 257.3h0M267.0 342.0h0M207.0 121.9h0M119.3 188.2h0M474.4 267.2h0M256.8 200.3h0M440.1 348.3h0M277.2 389.5h0M345.3 229.9h0M257.7 68.9h0M278.7 327.9h0M133.9 178.9h0M119.2 321.6h0M190.4 280.7h0M236.0 154.0h0M171.1 90.8h0M237.6 253.6h0M119.5 284.7h0M355.3 112.0h0M296.7 351.0h0M179.5 215.8h0M229.0 395.4h0M219.3 290.0h0M210.0 363.3h0M343.8 327.8h0M192.8 325.8h0M271.7 112.9h0M95.2 265.5h0M93.9 256.1h0M290.0 399.9h0M272.2 158.1h0M319.2 134.0h0M275.4 210.0h0M153.1 168.2h0M152.2 252.7h0M231.7 51.9h0M311.5 375.6h0M186.8 103.1h0M292.4 417.9h0M133.7 298.0h0M135.5 226.8h0M426.0 244.2h0M136.9 339.0h0M260.9 307.9h0M195.9 182.8h0M156.7 189.4h0M438.3 290.3h0M262.3 153.7h0M393.2 71.6h0M177.0 75.6h0M430.5 99.8h0M315.5 124.4h0M390.1 317.3h0M134.0 291.0h0M275.2 281.7h0M180.8 324.2h0M269.2 338.1h0M150.0 303.9h0M167.7 287.4h0M171.3 84.6h0M253.1 144.7h0M217.2 205.3h0M206.9 340.7h0M340.5 89.7h0M242.5 302.2h0M249.0 210.0h0M162.3 199.0h0M238.8 141.2h0M450.5 155.3h0M489.3 250.5h0M413.4 165.8h0M389.7 187.0h0M455.7 317.6h0M309.1 243.7h0M93.0 252.5h0M389.5 338.4h0M337.3 203.5h0M142.8 325.6h0M366.4 383.3h0M152.5 295.0h0M252.2 75.7h0M274.3 157.7h0M108.8 293.4h0M282.3 195.8h0M228.5 158.3h0M201.7 146.7h0M402.6 78.2h0M272.3 213.2h0M194.6 310.2h0M459.9 261.6h0M220.6 93.3h0M229.6 85.6h0M362.1 388.2h0M418.9 197.8h0M112.4 204.4h0M236.1 377.0h0M313.9 349.1h0M474.8 240.9h0M423.5 203.6h0M232.2 329.0h0M411.8 176.7h0M145.5 133.2h0M261.8 382.2h0M177.0 147.0h0M360.5 137.1h0M392.3 238.7h0M180.1 330.3h0M113.7 261.0h0M443.7 240.8h0M311.9 153.6h0M413.2 154.8h0M160.1 219.8h0M313.6 152.3h0M264.5 59.8h0M292.0 90.3h0M299.0 317.0h0M322.8 421.6h0M293.5 257.4h0M412.0 83.6h0M375.1 248.5h0M315.1 162.1h0M161.0 283.1h0M201.7 253.9h0M293.4 342.8h0M253.5 124.9h0M310.8 295.7h0M468.0 239.6h0M474.3 173.5h0M259.4 275.3h0M145.2 247.5h0M378.1 215.1h0M214.7 401.8h0M331.0 177.3h0M473.5 187.0h0M188.0 312.3h0M233.3 230.4h0M120.3 338.0h0M339.9 144.7h0M386.4 175.3h0M374.0 366.2h0M349.9 297.3h0M267.7 236.3h0M117.6 174.8h0M323.6 125.4h0M347.1 75.0h0M226.0 69.5h0M329.8 254.9h0M253.1 273.8h0M158.9 80.2h0M330.1 234.5h0M438.7 353.7h0M420.4 290.8h0M295.9 247.6h0M305.3 196.6h0M408.1 177.7h0M283.0 401.3h0M284.4 203.6h0M398.4 360.7h0M212.6 337.0h0M249.9 373.6h0M161.1 336.7h0M298.8 345.0h0M335.6 237.4h0M308.2 294.2h0M303.0 190.8h0M216.3 145.3h0M397.6 189.6h0M141.7 257.2h0M360.7 126.3h0M190.0 201.3h0M133.4 308.7h0M192.7 64.4h0M306.4 303.2h0M256.2 284.3h0M207.2 281.0h0M351.5 198.0h0M325.4 205.5h0M347.4 68.9h0M369.1 228.3h0M426.8 295.5h0M313.1 410.4h0M137.3 239.0h0M93.1 235.6h0M368.6 365.4h0M444.9 287.9h0M85.8 241.8h0M436.5 266.0h0M383.8 354.1h0M247.0 286.1h0M296.1 43.7h0M207.7 242.7h0M178.4 251.7h0M259.0 103.2h0M358.9 67.1h0M466.8 192.2h0M280.4 350.2h0M144.4 111.6h0M395.8 263.7h0M316.2 189.6h0M347.8 329.6h0M374.8 340.3h0M348.5 93.9h0M309.4 336.6h0M233.4 55.8h0M318.8 395.1h0M300.4 174.1h0M405.4 147.5h0M140.3 198.4h0M366.8 79.0h0M141.5 301.7h0M380.4 335.3h0M420.7 360.9h0M182.0 254.6h0M291.4 169.2h0M440.2 264.9h0M192.2 247.8h0M430.6 182.0h0M123.4 214.0h0M166.0 101.4h0M179.6 274.6h0M170.3 366.9h0M231.7 96.2h0M199.7 320.2h0M256.8 186.3h0M269.1 79.5h0M205.7 260.8h0M138.8 127.2h0M194.5 266.7h0M396.8 160.8h0M344.3 313.2h0M292.9 240.2h0M493.1 221.6h0M317.1 402.7h0M118.6 244.0h0M184.6 288.2h0M204.9 206.2h0M459.6 247.6h0M376.2 316.0h0M483.6 214.9h0M134.9 264.5h0M279.1 196.5h0M402.0 169.3h0M97.5 248.2h0M150.2 309.5h0M236.0 74.9h0M307.0 302.8h0M102.5 192.0h0M195.6 396.0h0M145.6 94.2h0M428.2 91.2h0M246.6 259.3h0M256.2 382.1h0M122.6 290.9h0M143.5 329.1h0M206.8 256.0h0M252.0 58.0h0M383.3 129.2h0M332.3 222.1h0M251.0 194.3h0M399.1 198.4h0M464.4 295.3h0M285.8 411.5h0M296.2 242.7h0M204.8 124.2h0M155.5 138.6h0M344.9 271.0h0M323.5 183.4h0M436.3 225.1h0M220.1 154.9h0M424.6 123.3h0M244.3 215.4h0M319.8 273.3h0M139.0 241.3h0M468.5 299.2h0M110.8 269.5h0M277.6 51.8h0M234.1 271.9h0M264.5 360.8h0M464.9 199.0h0M401.9 270.5h0M369.9 408.9h0M253.8 371.7h0M199.4 227.3h0M107.1 161.7h0M211.7 101.3h0M472.8 204.8h0M439.1 133.9h0M220.1 340.7h0M421.9 96.8h0M333.6 308.7h0M321.8 160.4h0M229.7 119.2h0M248.5 133.9h0M300.6 329.8h0M338.0 346.5h0M256.7 338.6h0M447.7 202.3h0M113.1 145.8h0M377.2 124.5h0M247.1 235.6h0M423.5 197.2h0M327.4 366.9h0M108.9 211.9h0M373.2 279.0h0M258.6 137.7h0M236.4 122.6h0M410.1 186.8h0M162.2 373.3h0M116.5 242.2h0M269.2 175.6h0M203.5 323.5h0M359.8 371.6h0M262.9 90.0h0M237.3 401.3h0M266.5 255.6h0M215.9 223.6h0M401.6 114.3h0M336.4 336.1h0M358.8 129.2h0M268.5 329.7h0M225.3 280.3h0M205.5 222.8h0M111.4 235.5h0M448.8 143.6h0M218.0 409.7h0M280.7 417.7h0M419.2 197.4h0M117.2 279.4h0M108.8 198.3h0M442.7 161.5h0M329.6 357.9h0M485.3 260.6h0M315.9 277.4h0M298.6 291.3h0M377.5 392.5h0M239.5 406.5h0M256.8 239.1h0M289.5 112.5h0M394.7 367.4h0M98.5 184.8h0M97.4 286.1h0M320.9 249.0h0M123.6 157.3h0M452.0 168.8h0M199.4 123.2h0M202.7 243.0h0M457.0 251.0h0M128.7 228.7h0M424.2 180.3h0M344.2 360.8h0M153.0 303.2h0M176.7 104.2h0M209.0 306.7h0M469.9 261.7h0M449.2 227.5h0M190.2 266.8h0M179.3 180.5h0M208.7 105.9h0M116.9 132.8h0M343.5 403.2h0M216.9 317.0h0M231.8 243.1h0M197.9 308.4h0M373.2 397.2h0M214.9 141.7h0M192.2 286.7h0M219.0 187.2h0M272.6 139.4h0M268.0 71.8h0M262.2 243.9h0M344.5 157.2h0M203.7 86.5h0M127.1 192.9h0M381.0 375.9h0M233.5 297.9h0M325.1 231.5h0M189.4 154.5h0M340.3 80.5h0M329.4 356.7h0M124.7 239.0h0M192.6 141.0h0M145.4 278.7h0M196.6 159.5h0M354.8 135.9h0M319.9 90.8h0M112.9 150.8h0M404.5 303.8h0M252.3 314.9h0M289.5 129.2h0M169.5 371.6h0M135.8 331.2h0M398.1 359.0h0M245.7 163.0h0M391.6 72.9h0M298.6 206.0h0M308.4 185.7h0M310.5 198.5h0M297.2 224.8h0M255.9 331.2h0M131.7 133.7h0M469.7 160.6h0M405.4 220.0h0M362.4 61.2h0M341.7 115.7h0M424.5 222.7h0M232.7 296.0h0M261.1 207.0h0M379.9 377.5h0M275.6 396.5h0M417.6 258.5h0M137.9 342.6h0M312.6 158.9h0M315.3 295.6h0M168.2 107.2h0M336.4 76.0h0M254.0 127.0h0M201.5 266.8h0M401.7 284.5h0M141.4 165.0h0M247.7 404.9h0M157.6 300.0h0M425.5 85.5h0M245.3 70.4h0M439.7 202.8h0M301.1 143.9h0M156.0 351.8h0M217.1 307.2h0M367.7 412.1h0M188.3 237.1h0M166.3 125.4h0M178.5 272.7h0M118.6 123.8h0M198.0 147.0h0M97.1 247.9h0M390.0 311.6h0M249.9 329.3h0M306.4 78.0h0M267.0 373.6h0M206.2 99.6h0M323.4 184.5h0M448.7 276.4h0M400.0 119.1h0M362.0 68.3h0M427.6 297.7h0M164.2 242.6h0M133.5 311.5h0M216.9 65.0h0M163.3 127.7h0M397.1 354.7h0M152.7 341.3h0M317.6 89.2h0M246.8 205.5h0M437.5 279.7h0M104.8 290.1h0M391.3 389.8h0M131.3 211.6h0M405.6 368.9h0M120.0 227.7h0M159.5 371.7h0M238.8 338.0h0M253.1 257.8h0M349.3 64.0h0M339.0 310.1h0M314.5 64.2h0M157.5 101.4h0M275.5 312.2h0M243.9 349.0h0M344.3 392.0h0M163.8 139.2h0M259.8 308.1h0M192.2 178.6h0M139.4 155.1h0M141.4 341.5h0M467.3 182.3h0M331.9 337.6h0M290.1 305.0h0M259.8 111.3h0M150.8 241.2h0M137.3 209.9h0M308.1 276.9h0M447.5 257.0h0M201.2 137.6h0M357.3 235.1h0M373.1 230.0h0M251.4 193.8h0M430.3 315.1h0M384.2 114.1h0M194.0 287.2h0M327.7 352.6h0M239.3 173.7h0M207.0 306.0h0M401.7 250.9h0M184.7 123.5h0M150.9 97.7h0M283.1 100.1h0M208.4 101.1h0M388.7 203.0h0M261.2 93.6h0M362.6 361.2h0M203.5 328.6h0M299.5 319.9h0M334.6 347.9h0M359.7 184.8h0M206.4 287.5h0M138.0 152.0h0M216.1 51.5h0M460.0 276.4h0M236.5 235.6h0M341.3 257.9h0M215.8 200.3h0M171.6 117.1h0M360.4 288.2h0M435.0 95.7h0M196.0 179.1h0M451.6 307.4h0M391.1 225.6h0M382.2 158.1h0M379.5 276.9h0M210.2 342.7h0M489.5 204.1h0M172.3 165.7h0M199.0 350.0h0M324.4 369.4h0M227.2 121.4h0M128.0 284.4h0M188.3 76.8h0M204.8 291.7h0M114.4 174.1h0M273.0 376.9h0M368.8 67.9h0M397.5 144.6h0M277.4 119.4h0M320.9 131.4h0M184.9 256.5h0M222.8 188.8h0M371.5 99.1h0M347.3 368.4h0M286.8 380.5h0M250.5 161.7h0M224.4 282.2h0M316.1 126.2h0M394.8 354.6h0M297.4 93.5h0M348.5 95.8h0M284.3 108.7h0M342.4 279.5h0M342.9 113.7h0M424.8 305.9h0M341.2 63.2h0M329.7 409.8h0M337.4 234.5h0M248.2 343.7h0M177.7 369.7h0M344.7 62.2h0M266.2 280.9h0M303.8 376.8h0M282.1 359.2h0M137.4 343.0h0M225.3 382.6h0M307.9 65.8h0M418.9 137.6h0M392.2 134.4h0M142.2 233.6h0M151.3 194.2h0M101.9 264.5h0M239.7 134.3h0M243.9 80.6h0M332.3 145.2h0M99.0 189.6h0M491.3 259.9h0M258.0 76.4h0M327.4 378.1h0M265.5 316.2h0M235.6 46.0h0M118.1 215.7h0M339.5 244.7h0M163.0 298.6h0M356.5 87.2h0M171.7 81.3h0M375.4 275.8h0M155.6 163.2h0M304.4 278.6h0M220.6 206.6h0M124.4 282.1h0M373.2 85.9h0M341.7 344.0h0M444.1 223.0h0M170.2 105.4h0M286.8 277.5h0M148.7 93.0h0M136.5 179.7h0M250.3 55.4h0M355.6 178.4h0M374.5 379.0h0M433.5 308.1h0M192.7 325.5h0M348.9 151.9h0M117.7 241.3h0M206.7 56.2h0M367.6 402.3h0M278.7 356.8h0M249.6 118.6h0M243.3 218.7h0M323.5 327.5h0M181.3 79.6h0M146.2 127.7h0M266.7 144.1h0M378.6 82.7h0M297.2 140.0h0M267.6 104.3h0M241.0 404.4h0M159.5 194.6h0M288.0 102.2h0M120.7 142.1h0M147.3 192.9h0M187.7 246.3h0M213.2 209.6h0M368.9 305.9h0M405.5 128.5h0M245.8 323.5h0M156.8 107.4h0M285.9 288.2h0M375.6 129.9h0M356.3 199.2h0M102.9 186.0h0M369.7 147.3h0M174.7 337.8h0M288.4 210.2h0M359.2 384.2h0M131.0 158.0h0M406.7 242.5h0M342.8 295.1h0M182.7 127.4h0M259.4 216.2h0M443.9 303.3h0M149.1 231.2h0M140.7 140.1h0M162.7 345.8h0M323.8 400.4h0M415.0 95.8h0M380.8 153.2h0M129.1 308.2h0M181.4 227.6h0M324.7 335.3h0M133.9 346.4h0M446.1 253.1h0M304.7 342.9h0M223.7 396.4h0M476.4 257.5h0M443.2 201.1h0M333.8 211.4h0M227.8 124.3h0M318.9 107.2h0M422.7 271.7h0M140.0 242.0h0M168.6 247.9h0M191.1 171.3h0M290.8 166.3h0M301.6 73.8h0M209.6 124.6h0M262.1 322.8h0M326.0 257.0h0M350.0 207.7h0M397.4 315.3h0M404.5 107.2h0M290.1 335.3h0M296.0 368.9h0M331.1 56.5h0M406.3 147.5h0M290.9 386.6h0M196.5 313.7h0M275.6 45.7h0M148.6 96.7h0M163.0 343.1h0M342.5 159.5h0M148.5 139.1h0M271.4 352.6h0M159.3 375.8h0M370.0 274.0h0M311.0 407.0h0M312.8 71.1h0M321.6 399.2h0M388.1 341.4h0M101.5 290.4h0M349.4 294.2h0M438.3 189.9h0M277.1 92.7h0M369.8 186.6h0M205.6 59.1h0M298.4 75.6h0M440.2 273.0h0M270.5 139.0h0M432.5 148.6h0M243.1 114.9h0M260.2 250.7h0M291.8 344.4h0M250.8 404.6h0M252.7 305.4h0M176.3 213.5h0M218.5 318.3h0M184.6 370.5h0M171.9 210.2h0M167.6 163.0h0M250.2 410.0h0M134.9 128.1h0M384.4 176.0h0M361.8 215.4h0M315.6 390.9h0M203.2 373.4h0M247.1 109.4h0M244.4 172.9h0M129.7 329.4h0M291.8 307.6h0M473.6 294.6h0M220.1 402.5h0M339.9 338.5h0M372.2 358.5h0M348.5 200.2h0M226.8 136.1h0M221.1 94.7h0M355.4 388.3h0M296.6 420.9h0M376.5 298.6h0M262.7 258.9h0M248.4 355.9h0M346.0 256.7h0M259.9 346.2h0M324.8 222.1h0M309.0 209.0h0M209.4 252.5h0M370.2 362.6h0M340.8 216.8h0M306.9 407.1h0M421.3 83.9h0M287.9 146.2h0M204.1 238.1h0M377.2 148.1h0M154.7 243.6h0M87.4 272.0h0M414.7 136.5h0M299.3 391.0h0M261.8 142.8h0M372.3 226.3h0M387.0 69.9h0M146.5 307.5h0M394.3 349.3h0M148.1 365.6h0M164.2 201.4h0M235.4 188.9h0M271.8 220.7h0M186.0 126.2h0M162.2 143.5h0M261.3 310.0h0M303.6 403.2h0M231.3 296.3h0M262.0 232.5h0M210.3 75.5h0M441.5 235.6h0M217.3 368.1h0M310.1 282.5h0M290.8 316.2h0M154.9 243.6h0M387.9 88.5h0M121.4 219.6h0M215.4 319.4h0M285.1 36.6h0M210.1 260.2h0M436.7 256.0h0M352.2 151.3h0M453.5 160.3h0M453.5 225.8h0M454.0 136.5h0M158.3 295.5h0M372.9 402.9h0M229.6 79.3h0M455.1 234.6h0M378.0 404.5h0M305.1 313.2h0M313.8 139.7h0M343.5 374.1h0M224.4 312.3h0M305.2 361.4h0M240.8 291.1h0M459.7 194.5h0M345.2 152.0h0M125.7 190.5h0M171.1 151.2h0M203.9 387.3h0M161.6 284.6h0M184.7 379.1h0M396.2 234.7h0M312.4 363.3h0M355.4 67.5h0M363.6 240.1h0M252.0 119.4h0M430.3 274.6h0M285.9 259.1h0M132.7 194.4h0M112.0 192.6h0M266.9 335.4h0M364.5 256.6h0M176.0 372.4h0M387.9 152.9h0M346.1 265.1h0M413.6 269.8h0M287.8 284.1h0M129.3 152.5h0M427.0 175.9h0M386.0 259.5h0M211.5 85.2h0M195.0 256.5h0M417.9 302.2h0M240.4 153.7h0M324.6 226.9h0M463.0 167.1h0M127.1 190.3h0M136.0 229.2h0M172.1 359.1h0M304.4 250.4h0M243.3 207.6h0M249.6 172.8h0M420.5 236.7h0M208.7 227.4h0M344.3 399.1h0M363.0 359.4h0M97.0 211.5h0M363.9 298.2h0M489.8 236.8h0M346.5 405.5h0M238.7 384.3h0M292.5 132.5h0M251.1 253.4h0M183.4 105.6h0M417.1 348.6h0M349.1 180.9h0M403.2 391.7h0M425.7 299.6h0M320.7 229.3h0M453.5 180.7h0M163.8 113.1h0M266.9 306.9h0M297.6 175.2h0M321.9 350.3h0M372.5 293.0h0M488.6 212.9h0M305.6 122.7h0M248.2 274.5h0M156.5 319.0h0M139.9 113.7h0M422.9 241.2h0M145.4 276.7h0M337.4 374.6h0M382.6 88.7h0M288.7 145.3h0M367.0 202.3h0M341.9 154.3h0M477.4 313.5h0M380.6 333.2h0M314.1 297.2h0M293.8 49.1h0M158.2 262.0h0M434.7 233.1h0M299.5 64.7h0M320.0 62.0h0M223.3 211.9h0M450.5 267.7h0M311.2 310.8h0M375.4 89.6h0M369.8 123.3h0M243.5 61.7h0M254.7 130.4h0M277.1 111.2h0M352.8 173.4h0M361.6 272.6h0M290.1 318.9h0M315.8 117.5h0M298.5 294.2h0M381.6 62.7h0M363.3 268.3h0M300.2 414.3h0M386.5 212.0h0M166.4 181.8h0M271.9 249.3h0M400.1 345.5h0M319.3 88.9h0M362.6 96.0h0M247.1 184.6h0M413.7 101.3h0M356.2 90.8h0M336.5 156.1h0M425.9 190.6h0M215.7 71.3h0M414.6 280.3h0M258.8 92.9h0M220.2 150.7h0M285.6 178.4h0M225.3 358.2h0M463.4 187.7h0M153.8 238.8h0M159.8 79.3h0M178.3 87.9h0M469.5 205.4h0M362.1 105.0h0M159.8 110.3h0M368.6 61.7h0M411.7 150.5h0M218.3 242.6h0M462.5 326.5h0M159.5 121.1h0M241.1 206.4h0M361.2 314.7h0M307.1 311.3h0M298.2 46.3h0M288.2 255.8h0M236.4 340.9h0M322.7 172.7h0M216.1 287.9h0M340.3 384.1h0M284.1 57.7h0M197.0 395.6h0M148.9 317.3h0M373.8 389.3h0M474.7 212.9h0M247.7 239.6h0M257.6 246.6h0M217.6 192.4h0M302.1 119.3h0M334.9 362.3h0M132.3 200.8h0M398.4 340.1h0M455.9 236.2h0M409.2 233.2h0M395.8 211.4h0M229.1 156.9h0M181.1 338.9h0M441.7 118.4h0M340.4 289.1h0M360.9 335.4h0M393.3 330.9h0M293.7 407.3h0M353.7 354.8h0M377.8 95.5h0M455.2 219.0h0M468.3 304.6h0M141.5 227.2h0M338.4 129.5h0M334.8 155.2h0M369.7 126.1h0M426.3 105.6h0M324.7 386.1h0M370.8 207.7h0M116.8 168.3h0M211.5 90.0h0M169.3 169.1h0M253.7 168.7h0M210.9 406.0h0M311.9 145.5h0M377.0 331.0h0M318.5 235.6h0M113.4 278.9h0M206.0 107.1h0M131.2 287.7h0M356.0 309.7h0M352.7 76.1h0M463.1 231.0h0M163.6 317.5h0M130.9 342.7h0M170.0 329.7h0M321.8 264.7h0M338.3 185.2h0M359.3 396.2h0M276.0 421.3h0M328.0 267.3h0M140.6 326.9h0M153.0 287.9h0M97.8 290.9h0M425.9 139.3h0M395.1 158.3h0M398.5 240.8h0M185.3 356.8h0M384.2 218.9h0M162.5 319.5h0M370.1 199.3h0M350.7 289.0h0M114.8 289.9h0M398.1 277.8h0M244.7 306.1h0M284.5 400.3h0M459.2 126.0h0M209.8 200.7h0M173.3 201.3h0M268.7 140.9h0M388.3 243.1h0M295.9 163.6h0M236.8 286.6h0M148.8 323.4h0M249.3 182.1h0M181.1 88.7h0M169.7 177.6h0M355.2 107.2h0M98.5 234.6h0M330.9 79.6h0M241.1 55.9h0M450.0 263.3h0M457.0 140.6h0M352.9 113.0h0M374.4 266.1h0M342.6 50.4h0M314.1 268.5h0M458.0 170.7h0M366.6 323.7h0M448.9 160.4h0M450.7 270.2h0M160.5 216.9h0M306.4 155.8h0M201.9 126.2h0M313.6 306.3h0M272.3 303.2h0M328.8 195.4h0M355.1 205.4h0M352.8 280.9h0M234.4 91.9h0M410.6 308.8h0M119.2 286.4h0M225.0 325.6h0M256.3 243.0h0M161.4 294.2h0M306.6 289.4h0M179.4 367.9h0M301.0 385.3h0M417.4 284.6h0M293.1 358.7h0M294.9 360.9h0M285.1 300.3h0M304.3 309.6h0M266.2 211.7h0M223.9 271.6h0M214.8 279.1h0M349.1 385.4h0M244.5 338.7h0M368.9 227.5h0M380.2 366.4h0M284.2 409.3h0M400.7 282.8h0M409.2 126.7h0M395.5 290.6h0M332.4 232.2h0M348.9 180.5h0M204.5 199.5h0M346.4 348.5h0M155.2 236.3h0M278.1 337.7h0M135.5 118.7h0M313.7 366.6h0M211.5 282.4h0M145.1 171.8h0M358.6 216.3h0M178.0 342.2h0M273.0 54.6h0M327.2 314.4h0M115.9 165.2h0M330.3 128.3h0M188.1 67.7h0M362.2 273.9h0M336.0 62.8h0M471.2 175.8h0M168.0 325.8h0M98.1 195.6h0M403.1 168.3h0M314.1 311.6h0M407.1 155.8h0M454.4 310.7h0M256.8 209.1h0M236.0 171.5h0M176.5 294.3h0M140.1 127.4h0M140.8 207.9h0M280.3 350.7h0M141.9 233.9h0M188.2 184.1h0M285.1 86.4h0M259.2 196.2h0M153.8 151.1h0M390.5 376.7h0M438.4 166.2h0M261.4 293.3h0M159.9 253.9h0M374.1 253.9h0M407.0 147.0h0M475.1 267.6h0M316.7 267.2h0M349.2 210.7h0M349.9 314.1h0M266.9 65.9h0M145.7 138.0h0M229.5 408.2h0M217.6 163.5h0M280.3 220.8h0M376.0 255.9h0M137.6 163.8h0M272.0 397.0h0M227.1 364.2h0M353.3 284.0h0M405.3 323.0h0M173.7 315.5h0M171.8 105.6h0M147.8 165.5h0M240.0 151.1h0M246.2 64.0h0M311.1 198.1h0M191.8 136.2h0M301.1 156.5h0M472.8 202.4h0M329.6 362.0h0M119.2 256.7h0M276.4 340.4h0M316.9 203.2h0M233.3 389.7h0M236.4 109.7h0M202.5 235.9h0M247.4 217.2h0M361.6 362.4h0M200.8 308.2h0M428.0 133.6h0M240.9 385.0h0M186.8 388.4h0M375.1 370.6h0M197.5 132.8h0M140.1 145.4h0M136.1 279.2h0M214.6 357.7h0M353.3 96.0h0M475.1 308.3h0M147.9 148.6h0M364.6 209.6h0M213.1 84.4h0M340.0 95.4h0M383.4 317.9h0M426.0 98.8h0M251.6 153.0h0M421.2 363.9h0M310.4 85.8h0M285.0 280.5h0M146.8 228.9h0M233.2 305.4h0M352.6 64.1h0M236.5 400.1h0M247.5 213.9h0M387.1 334.5h0M247.5 130.1h0M353.6 267.2h0M336.3 156.7h0M245.0 146.1h0M308.2 39.6h0M228.3 269.7h0M290.4 187.7h0M339.1 298.4h0M383.8 282.4h0M113.4 295.9h0M211.4 240.5h0M382.6 105.7h0M308.4 154.6h0M157.8 88.2h0M394.5 391.4h0M93.4 229.2h0M287.7 234.2h0M115.3 214.8h0M179.3 94.1h0M320.6 156.4h0M382.3 78.1h0M431.1 228.0h0M359.4 102.9h0M123.7 252.3h0M339.7 253.7h0M222.8 117.6h0M457.0 181.3h0M152.7 196.7h0M441.8 142.9h0M185.1 347.9h0M465.2 206.7h0M274.1 379.1h0M171.3 227.2h0M120.7 182.5h0M235.2 182.2h0M398.4 150.1h0M189.3 182.6h0M175.8 186.7h0M206.1 203.4h0M180.2 283.6h0M125.1 156.1h0M207.5 265.9h0M334.4 49.9h0M303.4 396.7h0M341.1 367.5h0M482.9 241.8h0M184.7 175.3h0M351.6 277.6h0M345.5 213.3h0M174.9 270.1h0M427.7 280.6h0M308.6 60.2h0M450.9 247.2h0M150.4 227.7h0M159.5 302.7h0M305.7 419.9h0M414.1 197.9h0M367.2 154.8h0M186.2 261.6h0M240.0 165.6h0M422.4 365.0h0M277.5 127.7h0M356.9 393.9h0M461.0 285.4h0M140.0 137.1h0M405.7 342.7h0M278.7 203.9h0M429.0 353.2h0M325.6 61.6h0M212.2 275.0h0M337.4 407.9h0M115.6 310.4h0M134.5 229.3h0M291.2 195.2h0M409.8 298.1h0M366.9 196.6h0M276.5 60.2h0M173.8 126.1h0M187.0 311.9h0M235.5 101.5h0M250.9 374.4h0M205.2 316.0h0M233.5 333.8h0M337.2 411.2h0M294.1 39.3h0M169.9 92.3h0M359.4 128.3h0M285.8 385.7h0M229.7 112.8h0M405.3 169.5h0M149.7 326.6h0M244.3 130.8h0M200.3 97.2h0M469.4 152.3h0M413.3 245.5h0M336.1 353.7h0M188.9 291.7h0M357.3 309.0h0M383.6 151.5h0M159.1 321.0h0M125.7 284.2h0M217.3 263.6h0M122.4 171.6h0M300.1 178.2h0M488.1 197.4h0M469.4 166.1h0M160.9 111.8h0M456.3 164.4h0M237.8 385.7h0M229.7 73.4h0M306.2 98.4h0M266.3 273.9h0M314.8 151.9h0M128.3 330.6h0M469.6 280.2h0M197.7 93.4h0M382.2 90.9h0M337.8 157.3h0M156.6 259.3h0M185.4 334.6h0M407.3 131.8h0M98.7 217.7h0M277.3 166.7h0M314.5 64.0h0M362.3 356.8h0M464.3 146.7h0M279.1 389.2h0M206.3 392.3h0M416.2 220.1h0M243.3 393.6h0M461.5 275.9h0M331.9 392.7h0M200.5 130.2h0M250.6 84.4h0M172.8 231.6h0M345.6 134.2h0M294.0 360.4h0M258.1 171.8h0M160.6 264.0h0M258.9 405.9h0M324.0 182.1h0M298.5 229.4h0M445.4 349.5h0M155.9 359.3h0M161.7 357.0h0M228.1 246.9h0M396.6 258.0h0M179.4 145.7h0M128.9 181.7h0M350.0 158.0h0M147.4 138.0h0M434.0 114.5h0M234.3 139.3h0M142.9 213.3h0M360.5 355.5h0M135.0 160.2h0M415.3 142.1h0M136.2 260.8h0M312.9 289.8h0M165.6 323.0h0M169.9 301.4h0M330.3 400.1h0M221.3 311.7h0M211.6 320.8h0M306.5 145.2h0M166.2 103.5h0M333.2 101.6h0M219.3 203.0h0M102.0 183.4h0M317.8 380.5h0M366.4 95.8h0M204.9 229.8h0M285.9 200.4h0M195.9 228.5h0M403.8 205.0h0M370.1 222.4h0M323.3 232.4h0M243.4 152.6h0M170.2 166.8h0M263.6 238.7h0M413.1 112.5h0M468.0 159.7h0M379.1 248.6h0M364.6 74.1h0M480.4 217.6h0M281.2 276.6h0M361.1 222.9h0M418.3 208.9h0M230.2 216.1h0M222.2 103.4h0M396.2 230.2h0M162.5 144.4h0M291.0 387.1h0M431.0 343.8h0M161.1 354.2h0M404.0 99.8h0M454.4 195.3h0M128.2 274.9h0M236.5 252.6h0M229.1 147.0h0M425.2 259.4h0M273.9 222.1h0M101.7 250.8h0M179.4 381.4h0M334.3 337.9h0M201.2 244.1h0M362.6 67.6h0M155.3 109.9h0M138.7 117.8h0M412.6 114.4h0M458.8 300.2h0M101.4 218.1h0M397.7 272.0h0M258.6 47.5h0M251.5 249.0h0M241.6 76.4h0M408.0 380.2h0M342.8 61.5h0M448.7 345.9h0M371.6 209.6h0M394.4 338.0h0M212.3 108.7h0M230.3 212.1h0M311.9 82.9h0M128.5 268.7h0M134.9 238.1h0M364.6 405.6h0M174.0 162.9h0M333.7 273.5h0M134.5 145.4h0M421.1 369.1h0M134.9 267.9h0M109.9 157.2h0M478.4 211.7h0M339.4 211.3h0M225.8 272.8h0M319.3 330.8h0M249.8 70.9h0M432.8 328.8h0M352.4 247.9h0M316.2 53.6h0M308.8 266.3h0M425.5 310.0h0M413.7 216.2h0M298.9 170.4h0M397.1 93.7h0M320.5 190.5h0M444.0 228.6h0M348.7 70.0h0M109.4 169.7h0M373.1 224.9h0M142.6 320.4h0M328.8 307.1h0M346.0 371.0h0M151.0 285.1h0M268.6 104.6h0M257.2 389.5h0M154.9 250.1h0M243.7 88.1h0M345.1 396.9h0M242.4 410.1h0M294.1 215.4h0M379.3 176.9h0M411.5 123.6h0M162.0 286.6h0M169.2 119.7h0M117.8 179.9h0M236.5 67.9h0M313.9 273.5h0M197.9 148.4h0M379.4 191.8h0M222.5 332.1h0M296.7 100.7h0M314.1 96.6h0M306.5 93.6h0M306.2 354.6h0M190.3 342.0h0M276.8 296.1h0M219.3 312.1h0M398.7 206.4h0M430.4 308.6h0M344.3 134.2h0M337.1 345.2h0M303.9 180.8h0M245.6 94.5h0M391.9 84.7h0M405.5 124.7h0M252.8 117.5h0M227.3 249.2h0M220.3 112.9h0M275.7 313.7h0M399.5 179.3h0M144.7 270.7h0M196.3 228.9h0M431.9 121.7h0M268.1 130.5h0M433.5 111.7h0M285.6 304.2h0M211.4 79.4h0M231.5 140.9h0M361.4 224.9h0M322.2 378.5h0M289.9 57.5h0M354.5 239.6h0M317.8 87.2h0M304.1 225.7h0M313.1 207.6h0M281.9 171.3h0M122.9 259.5h0M249.5 284.4h0M239.2 300.6h0M219.0 243.9h0M110.8 233.6h0M431.8 312.5h0M292.3 104.2h0M149.3 96.7h0M436.1 147.7h0M421.1 215.3h0M367.3 385.4h0M398.1 171.9h0M403.1 331.9h0M293.5 100.3h0M203.4 394.6h0M265.6 286.7h0M347.1 343.8h0M253.6 400.0h0M129.5 151.1h0M417.9 268.1h0M142.5 290.5h0M146.1 195.1h0M307.4 295.3h0M334.5 168.5h0M263.8 175.5h0M279.3 180.4h0M203.4 352.3h0M397.1 387.7h0M375.5 161.1h0M361.2 204.9h0M388.1 149.5h0M247.1 373.8h0M314.2 407.6h0M455.5 271.5h0M444.0 312.0h0M226.6 236.9h0M356.4 194.0h0M311.7 307.7h0M339.9 73.7h0M385.1 101.2h0M435.5 191.6h0M413.3 257.0h0M165.8 92.7h0M300.5 352.0h0M286.7 164.6h0M344.0 272.8h0M347.6 344.5h0M199.7 354.4h0M205.5 325.7h0M338.3 72.5h0M396.2 350.4h0M402.0 251.5h0M357.0 133.7h0M352.7 233.2h0M434.5 195.0h0M185.6 128.6h0M293.9 280.0h0M165.5 144.2h0M234.7 191.7h0M293.0 182.7h0M134.9 230.7h0M213.6 101.5h0M283.2 144.4h0M198.0 226.0h0M159.5 212.1h0M346.7 225.0h0M175.9 251.0h0M130.3 245.6h0M179.1 345.2h0M419.6 369.2h0M197.5 347.2h0M404.2 244.0h0M428.5 95.8h0M394.1 192.6h0M206.4 287.5h0M254.6 266.5h0M423.1 138.9h0M158.2 149.3h0M140.5 279.0h0M222.5 248.6h0M282.6 77.5h0M352.5 383.4h0M122.3 247.3h0M314.1 121.0h0M387.1 368.8h0M360.6 413.9h0M143.5 348.2h0M215.9 330.0h0M239.0 362.4h0M326.7 174.7h0M390.1 351.9h0M244.3 381.5h0M410.4 167.0h0M168.0 123.7h0M380.0 396.9h0M354.3 173.4h0M190.8 272.0h0M392.3 131.5h0M162.4 235.0h0M395.5 111.0h0M145.2 257.6h0M316.5 89.1h0M314.3 338.2h0M316.3 150.3h0M197.7 212.7h0M328.3 231.3h0M213.3 130.5h0M477.1 192.8h0M111.2 298.9h0M261.5 174.2h0M335.8 338.1h0M255.8 389.6h0M183.4 109.4h0M97.2 242.4h0M393.6 120.0h0M157.5 367.5h0M381.7 186.7h0M277.2 68.4h0M338.8 268.9h0M186.2 107.9h0M364.7 310.7h0M225.9 260.1h0M338.4 234.3h0M105.1 189.6h0M372.6 334.1h0M218.0 164.1h0M464.6 204.7h0M150.2 113.8h0M213.6 162.6h0M153.4 158.7h0M426.1 271.1h0M266.0 331.1h0M299.5 240.9h0M346.1 56.1h0M148.1 168.4h0M479.7 188.5h0M300.2 180.3h0M116.4 256.2h0M280.7 343.1h0M359.2 165.3h0M225.3 93.4h0M407.3 82.0h0M464.8 330.1h0M237.1 168.5h0M171.5 275.2h0M460.9 265.7h0M222.9 345.9h0M199.3 298.8h0M183.5 310.4h0M249.4 253.5h0M274.5 137.2h0M349.2 237.7h0M303.9 355.9h0M420.5 175.7h0M432.0 361.7h0M163.0 110.2h0M168.1 79.5h0M418.0 284.1h0M478.2 258.2h0M192.6 253.5h0M205.7 328.1h0M461.7 159.8h0M295.8 251.0h0M332.5 322.6h0M173.6 334.1h0M233.9 274.8h0M418.5 268.0h0M253.1 349.2h0M202.8 375.3h0M450.0 274.4h0M194.6 283.0h0M136.9 357.8h0M413.7 236.4h0M167.7 172.0h0M294.7 173.8h0M482.3 192.2h0M417.4 283.6h0M401.3 282.0h0M144.4 239.6h0M391.9 316.0h0M360.0 170.0h0M423.8 117.4h0M143.6 158.8h0M446.0 240.2h0M315.0 198.9h0M352.0 252.3h0M305.3 363.8h0M484.1 266.5h0M382.2 350.1h0M195.7 233.4h0M411.8 334.6h0M459.6 307.5h0M141.2 155.2h0M436.0 173.9h0M122.1 317.2h0M327.6 183.8h0M297.6 285.2h0M147.6 284.6h0M366.3 169.5h0M310.1 70.0h0M240.3 338.0h0M378.1 101.1h0M321.0 168.1h0M174.6 307.1h0M320.1 347.4h0M442.1 153.1h0M212.2 175.6h0M235.4 280.4h0M333.8 90.8h0M208.1 235.4h0M463.0 316.7h0M309.5 286.1h0M250.6 74.1h0M173.2 336.4h0M263.3 198.4h0M226.3 57.4h0M121.7 319.1h0M183.7 217.1h0M330.4 118.0h0M263.7 99.6h0M253.9 300.4h0M414.5 165.9h0M145.5 342.7h0M257.4 262.3h0M298.0 74.0h0M243.6 96.0h0M247.2 51.2h0M169.4 292.3h0M150.0 366.0h0M311.3 361.0h0M276.6 331.4h0M296.4 318.7h0M328.4 58.4h0M114.8 151.1h0M393.2 123.5h0M313.8 199.5h0M476.2 291.2h0M155.4 343.7h0M154.0 254.9h0M143.5 162.3h0M262.8 379.3h0M296.6 206.0h0M193.9 168.9h0M110.6 263.5h0M370.6 77.2h0M144.7 331.1h0M327.8 395.7h0M152.1 165.9h0M288.1 196.3h0M238.7 182.9h0M285.6 172.5h0M128.6 273.0h0M229.4 227.1h0M432.0 271.3h0M238.3 410.8h0M189.4 262.9h0M390.8 257.7h0M365.2 218.5h0M257.7 71.3h0M265.5 281.0h0M395.0 334.3h0M319.2 404.9h0M478.1 261.4h0M231.4 250.8h0M307.6 230.7h0M156.8 208.7h0M420.5 115.2h0M428.9 342.5h0M323.7 133.6h0M349.7 202.2h0M239.6 265.9h0M298.3 61.0h0M369.6 354.6h0M431.1 199.8h0M406.8 201.1h0M363.3 119.3h0M196.3 61.5h0M324.9 209.0h0M135.6 327.6h0M163.8 307.7h0M229.6 366.1h0M286.1 137.5h0M258.4 304.9h0M268.7 322.5h0M459.9 329.8h0M322.1 180.0h0M237.6 403.3h0M234.3 184.2h0M230.9 118.6h0M401.1 384.8h0M269.7 67.2h0M406.1 109.8h0M298.0 107.9h0M227.9 206.5h0M399.1 204.6h0M213.5 120.6h0M180.2 115.7h0M257.2 307.9h0M204.9 266.4h0M409.3 191.1h0M237.2 337.1h0M113.8 254.9h0M326.0 118.9h0M331.8 105.0h0M351.2 74.0h0M419.9 119.6h0M183.9 118.9h0M219.3 302.5h0M364.7 119.4h0M290.0 378.3h0M438.8 166.8h0M368.8 391.8h0M340.6 85.6h0M365.6 272.8h0M452.5 235.4h0M338.3 215.1h0M302.8 62.2h0M253.4 176.0h0M199.2 172.1h0M223.2 50.5h0M473.7 233.8h0M316.9 244.3h0M208.3 375.5h0M333.1 291.8h0M206.9 133.9h0M390.2 194.4h0M130.1 281.4h0M327.1 166.5h0M345.7 371.7h0M366.7 110.6h0M339.9 265.2h0M401.5 93.8h0M182.3 231.2h0M262.3 367.6h0M201.8 64.0h0M392.4 173.3h0M287.9 230.6h0M93.0 277.7h0M314.6 260.4h0M435.1 231.6h0M142.3 204.5h0M165.1 292.7h0M489.5 214.4h0M406.4 98.6h0M256.4 140.8h0M245.0 326.3h0M155.2 346.1h0M193.2 300.9h0M198.8 353.2h0M248.9 129.1h0M125.6 342.3h0M401.5 155.2h0M432.4 366.7h0M409.7 321.1h0M274.3 118.0h0M389.6 333.2h0M424.9 300.6h0M248.8 65.8h0M310.9 208.4h0M102.5 169.9h0M124.5 183.1h0M130.9 215.3h0M248.5 167.1h0M375.0 158.4h0M174.9 139.0h0M324.3 203.2h0M307.3 272.1h0M185.9 286.8h0M89.5 258.1h0M122.6 275.9h0M385.0 291.0h0M461.3 288.5h0M291.6 305.5h0M252.1 320.8h0M292.1 201.5h0M386.9 123.2h0M148.7 312.4h0M241.5 74.2h0M230.8 134.0h0M386.2 303.5h0M490.7 251.3h0M226.3 400.0h0M367.7 171.5h0M238.2 84.3h0M261.2 242.3h0M348.7 393.0h0M433.4 223.3h0M135.9 212.0h0M282.0 294.5h0M208.8 327.8h0M243.7 137.2h0M215.3 224.8h0M203.6 186.4h0M119.8 281.5h0M271.0 260.2h0M383.2 306.0h0M165.5 233.2h0M496.0 236.6h0M317.6 388.5h0M111.1 298.7h0M141.0 278.1h0M335.8 85.4h0M374.7 227.2h0M262.8 112.1h0M413.6 284.8h0M145.2 233.2h0M455.5 322.7h0M161.5 164.4h0M342.5 321.3h0M193.3 86.3h0M122.3 286.9h0M469.8 247.1h0M410.4 270.0h0M443.7 226.5h0M272.6 251.2h0M337.1 269.8h0M188.1 397.1h0M107.8 244.2h0M240.4 95.0h0M143.8 208.9h0M288.6 414.8h0M177.2 234.7h0M213.0 210.8h0M240.7 243.5h0M134.3 176.3h0M246.6 396.5h0M390.5 139.9h0M227.8 239.1h0M283.5 159.1h0M267.1 239.6h0M292.3 372.7h0M443.7 256.1h0M237.4 169.4h0M394.7 99.7h0M203.3 234.7h0M245.1 88.8h0M243.2 51.7h0M360.8 186.1h0M388.7 258.3h0M204.6 210.7h0M249.1 86.0h0M217.3 281.0h0M141.8 265.7h0M232.6 257.5h0M190.4 88.4h0M135.3 347.1h0M153.4 101.1h0M177.6 70.7h0M209.6 143.1h0M388.2 365.1h0M366.8 308.9h0M140.1 300.2h0M340.4 180.5h0M98.4 179.1h0M365.5 318.8h0M402.1 344.8h0M275.7 312.5h0M363.5 305.5h0M414.4 93.8h0M361.5 206.7h0M226.8 91.8h0M185.1 190.9h0M170.1 266.8h0M429.2 317.1h0M257.2 104.7h0M413.0 113.7h0M116.0 254.6h0M262.9 154.7h0M451.9 178.2h0M233.9 162.2h0M296.0 144.7h0M205.9 214.1h0M194.6 216.1h0M288.4 368.6h0M208.7 60.7h0M482.3 201.7h0M270.2 169.1h0M334.1 59.6h0M352.5 253.2h0M361.0 298.5h0M247.3 201.1h0M151.3 258.0h0M327.7 412.2h0M297.3 380.7h0M106.1 305.5h0M371.3 308.6h0M121.8 161.7h0M475.8 250.3h0M111.6 214.8h0M266.2 134.9h0M242.4 193.3h0M209.2 67.2h0M298.2 247.7h0M370.4 290.2h0M368.1 84.6h0M340.6 105.1h0M291.0 385.2h0M396.3 217.0h0M211.8 374.5h0M199.1 355.1h0M462.4 232.0h0M384.9 193.4h0M110.8 209.1h0M283.1 405.0h0M158.9 228.9h0M178.7 366.6h0M272.4 292.8h0M351.7 152.8h0M209.4 86.7h0M325.0 159.5h0M295.9 333.1h0M242.1 66.2h0M400.9 126.0h0M361.4 268.0h0M454.9 344.5h0M330.6 127.5h0M177.9 234.7h0M233.0 259.8h0M195.6 158.1h0M162.4 100.8h0M323.2 239.1h0M373.2 84.6h0M215.9 287.7h0M306.8 69.8h0M405.4 211.9h0M413.4 152.9h0M301.6 138.5h0M324.5 219.9h0M264.4 121.9h0M439.8 170.7h0M405.2 194.5h0M127.8 209.5h0M110.2 299.9h0M239.5 113.0h0M479.7 202.8h0M454.0 148.4h0M469.0 251.6h0M224.1 280.6h0M222.4 147.8h0M291.6 396.4h0M377.7 261.6h0M367.5 177.8h0M356.6 110.1h0M372.7 331.0h0M404.6 378.6h0M238.1 47.9h0M184.9 308.5h0M382.9 117.8h0M242.0 249.2h0M203.3 302.0h0M270.6 287.3h0M122.1 200.6h0M468.8 279.2h0M452.6 138.1h0M438.4 297.3h0M315.3 137.8h0M304.3 132.3h0M162.0 289.9h0M322.0 376.8h0M105.3 279.7h0M479.4 202.0h0M412.0 139.3h0M150.1 148.4h0M435.9 121.1h0M202.1 71.7h0M301.2 162.8h0M476.5 177.6h0M306.8 164.9h0M319.2 301.1h0M414.9 211.1h0M121.1 207.7h0M277.5 259.4h0M328.2 53.6h0M124.7 280.2h0M197.0 167.0h0M261.6 373.6h0M108.0 236.4h0M309.4 191.1h0M399.5 250.2h0M260.1 79.9h0M304.3 357.0h0M359.7 185.7h0M367.7 168.6h0M122.1 296.6h0M314.8 411.8h0M117.2 182.1h0M365.3 80.2h0M124.6 263.8h0M133.0 184.9h0M286.7 88.3h0M267.6 311.3h0M229.4 217.9h0M448.0 171.4h0M320.6 395.3h0M416.3 155.4h0M430.5 322.3h0M96.1 264.6h0M338.5 231.2h0M168.6 255.8h0M396.0 320.9h0M291.3 192.7h0M458.4 168.0h0M380.6 305.4h0M238.0 384.6h0M339.5 106.2h0M366.5 353.2h0M177.9 82.6h0M410.5 134.5h0M372.7 303.4h0M406.0 260.2h0M455.1 229.8h0M443.9 141.3h0M214.7 324.3h0M339.3 378.9h0M451.8 276.1h0M198.2 365.1h0M361.5 369.6h0M329.6 65.9h0M146.7 191.2h0M242.1 290.4h0M330.6 110.1h0M231.7 364.0h0M297.1 41.1h0M411.6 81.2h0M485.8 212.6h0M398.9 127.5h0M149.1 137.7h0M118.6 254.3h0M315.6 118.7h0M295.3 76.7h0M278.4 185.1h0M131.8 279.9h0M360.6 240.1h0M428.0 120.0h0M186.1 181.0h0M257.7 389.8h0M367.3 219.7h0M249.7 225.6h0M347.1 387.9h0M209.2 244.7h0M281.1 173.0h0M247.0 53.4h0M414.4 263.5h0M418.8 90.8h0M200.0 337.9h0M371.7 265.4h0M355.4 227.5h0M348.3 203.2h0M255.7 333.5h0M202.4 336.7h0M262.4 124.6h0M288.8 217.7h0M487.3 205.6h0M207.6 278.4h0M297.6 374.7h0M264.8 55.0h0M133.7 260.1h0M326.2 58.2h0M324.9 298.1h0M303.4 325.2h0M432.4 297.3h0M170.1 131.3h0M248.0 243.8h0M302.0 407.6h0M225.8 278.4h0M269.6 90.0h0M387.0 76.4h0M274.6 296.9h0M376.8 81.6h0M276.7 349.9h0M333.4 51.7h0M250.6 400.5h0M233.5 160.3h0M311.5 42.1h0M338.3 160.6h0M429.9 363.4h0M224.9 135.6h0M391.4 376.8h0M362.4 338.0h0M431.2 291.6h0M252.9 189.5h0M413.7 262.2h0M321.1 297.5h0M256.3 187.4h0M457.0 288.1h0M197.4 135.7h0M196.0 306.6h0M389.3 161.9h0M382.0 211.1h0M190.4 397.7h0M128.4 229.0h0M472.6 268.4h0M341.9 271.7h0M145.9 368.1h0M183.5 230.2h0M374.2 65.1h0M124.1 205.8h0M237.7 114.5h0M393.5 79.6h0M403.4 251.9h0M466.6 282.7h0M220.8 75.5h0M384.6 72.3h0M159.2 295.7h0M367.6 146.6h0M319.4 158.9h0M314.2 130.5h0M384.7 222.8h0M420.3 256.0h0M169.5 238.6h0M426.0 187.4h0M288.5 191.7h0M344.8 403.8h0M286.5 203.4h0M407.9 335.7h0M339.8 255.2h0M129.9 243.4h0M366.3 210.6h0M138.1 310.1h0M138.7 257.2h0M447.5 181.1h0M310.0 191.4h0M423.0 234.7h0M170.0 175.9h0M131.0 187.0h0M130.0 140.9h0M332.5 90.8h0M280.0 326.9h0M133.8 287.0h0M332.1 87.6h0M141.4 200.2h0M280.0 283.7h0M290.9 327.6h0M354.0 185.6h0M290.1 185.3h0M172.1 226.8h0M179.3 355.0h0M247.5 175.2h0M400.6 229.3h0M259.6 273.9h0M126.8 269.0h0M159.1 297.4h0M242.6 328.8h0M452.9 237.9h0M142.5 142.7h0M168.5 252.8h0M190.2 319.0h0M223.4 61.0h0M284.2 392.4h0M276.5 203.2h0M377.5 109.5h0M298.3 322.2h0M291.3 382.4h0M205.1 110.5h0M358.3 147.0h0M256.6 242.2h0M332.3 276.7h0M279.0 406.4h0M148.6 308.8h0M209.3 279.7h0M201.0 329.4h0M320.2 78.7h0M140.8 229.7h0M178.1 78.7h0M107.0 279.9h0M323.1 338.7h0M365.8 295.1h0M99.2 224.0h0M402.6 361.8h0M265.1 262.7h0M229.4 363.9h0M378.0 266.2h0M237.9 323.8h0M124.9 205.4h0M215.5 274.9h0M375.9 59.5h0M369.6 80.3h0M415.3 128.7h0M133.9 118.2h0M268.5 309.3h0M193.4 245.8h0M406.0 182.3h0M121.4 181.9h0M401.3 208.8h0M384.0 289.7h0M443.5 309.5h0M359.4 318.1h0M155.6 162.3h0M234.4 62.5h0M123.1 332.5h0M238.1 82.3h0M323.3 284.6h0M304.7 57.4h0M138.9 231.4h0M197.5 186.7h0M252.1 143.8h0M212.4 307.3h0M303.1 106.1h0M165.1 207.0h0M202.7 75.5h0M296.4 249.7h0M277.8 225.7h0M270.9 201.3h0M331.5 326.7h0M243.5 152.1h0M471.4 256.2h0M401.6 386.5h0M281.3 404.4h0M421.0 98.7h0M190.4 361.8h0M158.4 324.9h0M341.5 279.1h0M201.7 377.3h0M228.3 106.5h0M338.0 82.4h0M232.3 240.2h0M157.6 101.6h0M267.8 295.1h0M295.7 264.6h0M293.5 133.4h0M223.4 184.4h0M198.3 291.6h0M327.7 38.8h0M228.7 245.1h0M333.3 138.3h0M463.4 245.3h0M295.7 245.5h0M245.0 115.8h0M156.2 371.4h0M218.2 260.2h0M141.7 325.8h0M323.9 78.9h0M423.6 242.9h0M299.4 276.1h0M379.7 399.1h0M214.1 252.3h0M302.3 176.8h0M439.6 100.2h0M461.3 180.5h0M434.2 129.6h0M134.1 141.9h0M390.8 233.3h0M442.3 296.1h0M336.6 126.3h0M302.1 285.5h0M367.5 405.4h0M235.0 234.7h0M262.6 91.9h0M201.8 98.0h0M450.5 342.4h0M345.7 254.7h0M434.0 151.5h0M269.8 44.2h0M184.5 169.8h0M432.7 107.0h0M230.8 176.0h0M228.5 58.5h0M230.9 50.3h0M347.8 267.2h0M286.9 123.5h0M164.5 320.4h0M412.6 334.4h0M377.6 390.2h0M321.6 60.6h0M235.4 159.1h0M264.5 412.8h0M386.7 110.8h0M226.5 328.3h0M268.8 406.4h0M336.4 324.3h0M318.3 275.7h0M162.7 253.5h0M487.3 236.1h0M217.9 388.5h0M328.4 65.5h0M136.3 231.4h0M227.6 94.9h0M284.7 67.0h0M250.5 149.6h0M132.3 285.5h0M119.8 299.2h0M312.6 182.8h0M356.6 320.2h0M310.5 328.7h0M234.6 71.0h0M466.9 207.9h0M323.3 385.3h0M229.2 402.9h0M420.6 275.1h0M223.5 113.8h0M433.8 252.5h0M356.2 99.3h0M285.7 284.1h0M102.0 185.3h0M377.1 177.5h0M360.8 227.3h0M412.2 178.8h0M348.4 49.3h0M178.5 223.3h0M171.0 252.0h0M218.3 237.6h0M292.6 414.5h0M410.2 224.0h0M340.6 337.6h0M232.0 367.6h0M102.6 215.5h0M429.1 202.7h0M399.9 198.2h0M429.8 101.8h0M290.9 90.7h0M239.2 61.9h0M335.8 152.6h0M416.3 350.7h0M376.6 394.9h0M152.1 89.5h0M271.8 368.3h0M322.3 261.4h0M168.3 319.3h0M192.9 184.4h0M308.8 130.1h0M183.0 320.4h0M312.7 214.8h0M464.3 268.7h0M209.5 237.3h0M154.8 305.4h0M254.5 289.4h0M237.8 281.5h0M372.7 111.0h0M166.1 213.5h0M208.1 71.7h0M332.1 167.0h0M136.0 167.2h0M183.3 181.2h0M261.2 203.2h0M198.2 392.7h0M401.8 349.8h0M88.0 210.4h0M303.3 279.6h0M280.9 189.4h0M269.3 283.8h0M178.5 192.5h0M241.1 235.2h0M213.8 179.8h0M351.4 331.5h0M257.0 57.3h0M240.1 334.7h0M304.1 363.3h0M452.6 245.4h0M346.1 323.2h0M450.8 122.8h0M403.2 82.5h0M176.4 341.6h0M432.4 132.6h0M261.0 145.3h0M297.5 371.8h0M314.6 235.9h0M293.7 117.0h0M290.7 376.7h0M213.9 222.5h0M441.8 289.7h0M135.3 337.5h0M233.7 248.4h0M236.6 159.9h0M142.5 292.6h0M276.6 271.8h0M268.0 355.1h0M290.6 287.5h0M376.2 122.1h0M479.1 298.1h0M299.5 118.4h0M187.7 130.3h0M150.3 351.3h0M139.2 308.6h0M310.6 324.7h0M275.7 106.7h0M256.4 175.5h0M296.9 176.2h0M428.0 216.9h0M176.8 219.4h0M216.3 308.2h0M218.4 362.7h0M318.5 316.6h0M163.1 242.2h0M440.3 321.4h0M215.5 112.9h0M338.5 237.3h0M419.5 302.0h0M271.9 51.7h0M369.1 201.3h0M210.3 182.2h0M304.0 285.6h0M306.1 216.8h0M457.6 336.6h0M185.0 138.7h0M249.2 68.1h0M235.9 69.8h0M298.7 236.7h0M150.2 292.0h0M296.2 427.2h0M394.5 102.0h0M131.1 128.2h0M207.3 135.8h0M210.4 251.8h0M217.2 113.3h0M232.1 392.3h0M382.9 270.3h0M181.6 356.3h0M183.3 86.6h0M254.6 132.0h0M271.0 288.4h0M386.3 395.7h0M257.0 55.0h0M316.9 66.2h0M197.6 78.7h0M274.1 221.8h0M346.0 210.0h0M345.4 355.7h0M233.1 317.9h0M273.9 276.5h0M146.8 201.8h0M164.2 367.9h0M264.1 82.4h0M190.7 338.1h0M197.2 342.5h0M268.0 225.8h0M387.7 356.3h0M379.1 98.7h0M420.3 258.9h0M182.7 190.9h0M287.4 214.5h0M204.7 315.4h0M179.8 351.0h0M274.1 316.9h0M304.9 269.4h0M360.9 281.8h0M360.2 395.6h0M302.0 364.0h0M183.7 125.5h0M424.3 341.6h0M223.0 102.2h0M446.0 178.8h0M227.6 131.4h0M161.2 228.9h0M260.5 269.2h0M454.6 144.7h0M305.8 216.7h0M260.6 108.7h0M353.7 360.3h0M237.2 323.6h0M225.4 400.6h0M390.1 123.1h0M136.9 172.9h0M311.9 255.0h0M376.8 257.0h0M195.5 371.1h0M269.4 366.8h0M121.1 328.2h0M142.9 219.6h0M272.2 377.0h0M299.9 271.0h0M427.3 192.0h0M199.8 328.6h0M312.3 256.8h0M237.3 208.9h0M191.5 360.7h0M187.1 103.9h0M182.7 350.9h0M249.5 163.5h0M441.7 367.5h0M123.8 284.6h0M277.3 236.7h0M191.9 374.4h0M227.7 252.8h0M345.7 127.6h0M415.9 109.6h0M223.7 283.8h0M130.1 228.2h0M220.5 96.3h0M357.3 150.4h0M201.3 216.3h0M240.1 398.9h0M302.0 341.0h0M293.7 187.0h0M418.9 183.5h0M194.2 370.3h0M479.5 220.7h0M192.5 235.8h0M369.9 240.6h0M287.4 159.9h0M282.8 165.6h0M176.9 182.3h0M373.9 147.7h0M394.0 330.0h0M245.7 266.5h0M316.5 382.8h0M377.2 164.8h0M243.8 113.4h0M317.5 69.6h0M431.9 240.9h0M375.7 335.2h0M410.3 76.2h0M144.5 162.7h0M287.7 353.0h0M253.6 97.4h0M362.9 72.7h0M383.5 232.3h0M204.6 387.0h0M192.2 174.5h0M281.3 60.8h0M245.2 410.3h0M334.4 201.1h0M342.8 56.7h0M231.9 335.3h0M414.7 162.8h0M417.7 172.1h0M280.3 408.1h0M475.2 246.3h0M197.5 150.1h0M388.6 73.8h0M314.9 64.8h0M126.8 248.3h0M427.9 291.0h0M136.3 353.3h0M162.4 182.9h0M134.5 308.2h0M98.7 277.8h0M330.6 355.2h0M449.0 333.6h0M294.9 57.7h0M235.7 103.0h0M414.7 377.3h0M241.6 220.3h0M177.8 263.3h0M152.9 315.9h0M373.8 58.4h0M436.8 106.2h0M323.4 121.2h0M278.7 129.3h0M343.8 62.9h0M95.7 199.4h0M121.4 257.3h0M405.1 165.7h0M173.4 374.6h0M326.8 124.1h0M307.5 296.4h0M330.5 120.4h0M137.7 254.8h0M323.9 183.4h0M243.3 262.3h0M410.0 106.5h0M408.8 211.5h0M190.9 147.7h0M239.3 140.2h0M467.2 286.4h0M331.5 350.8h0M371.5 330.0h0M179.8 126.8h0M393.5 380.4h0M315.3 211.5h0M421.0 148.9h0M348.1 245.5h0M307.3 127.3h0M284.3 167.9h0M180.0 223.4h0M468.3 240.8h0M297.1 222.0h0M212.3 103.5h0M396.6 229.3h0M237.5 250.2h0M153.6 133.3h0M335.3 361.1h0M417.7 184.1h0M208.9 308.6h0M278.4 113.3h0M433.7 92.6h0M399.7 281.2h0M287.2 362.7h0M420.1 305.4h0M219.8 331.4h0M367.8 233.9h0M275.8 134.3h0M395.5 312.6h0M266.8 125.1h0M392.8 215.3h0M455.5 121.0h0M200.1 224.5h0M126.2 149.2h0M415.5 344.8h0M399.2 210.3h0M178.5 198.7h0M470.7 232.8h0M273.6 208.7h0M322.7 156.5h0M351.1 414.6h0M406.0 310.3h0M139.7 264.7h0M388.4 116.9h0M384.0 222.3h0M312.9 300.9h0M304.1 171.7h0M222.2 385.3h0M173.2 327.2h0M233.3 212.8h0M344.7 304.0h0M345.5 344.7h0M253.4 230.3h0M388.6 214.0h0M278.3 255.8h0M327.2 247.8h0M196.5 115.8h0M319.3 287.1h0M303.4 194.9h0M327.0 203.3h0M326.3 396.3h0M297.5 153.9h0M376.9 324.5h0M335.4 50.4h0M459.8 249.5h0M255.8 126.5h0M162.0 94.7h0M342.9 52.1h0M438.5 175.0h0M136.3 180.0h0M200.0 104.8h0M216.7 225.2h0M157.4 168.0h0M220.7 278.5h0M185.9 291.1h0M492.4 237.5h0M268.3 101.7h0M394.2 162.2h0M284.2 317.8h0M257.5 204.0h0M412.4 369.5h0M206.3 352.0h0M469.1 271.6h0M292.0 226.3h0M263.0 372.2h0M99.2 258.0h0M200.3 211.4h0M222.5 303.4h0M430.5 371.4h0M364.2 240.8h0M264.8 230.8h0M212.7 364.3h0M129.3 260.0h0M175.3 139.7h0M153.0 224.8h0M468.1 214.2h0M217.4 344.8h0M346.5 266.4h0M226.4 91.1h0M169.1 81.5h0M275.8 171.6h0M294.7 50.9h0M387.7 195.8h0M376.6 224.2h0M209.8 227.3h0M354.8 232.7h0M192.3 391.0h0M345.3 65.4h0M162.0 278.4h0M283.2 334.1h0M253.8 142.7h0M167.8 113.7h0M137.1 240.9h0M208.6 212.8h0M264.5 45.8h0M335.3 256.6h0M186.6 114.1h0M126.8 304.7h0M321.6 371.1h0M189.2 87.9h0M302.9 305.9h0M265.9 72.8h0M126.1 210.8h0M169.5 246.4h0M119.9 273.3h0M389.9 327.8h0M138.6 194.6h0M333.4 325.9h0M403.7 353.8h0M369.9 190.2h0M432.6 154.5h0M328.2 229.2h0M162.7 333.3h0M426.5 165.1h0M469.5 227.2h0M199.3 106.8h0M449.1 124.4h0M265.1 344.0h0M223.0 250.0h0M304.7 395.4h0M388.4 109.7h0M314.2 361.3h0M430.0 174.9h0M418.3 273.7h0M419.5 333.8h0M227.6 323.4h0M291.0 132.8h0M114.8 244.5h0M422.2 169.9h0M291.2 332.5h0M294.7 72.0h0M206.3 290.9h0M439.6 336.9h0M122.9 182.0h0M172.4 318.1h0M306.5 104.9h0M378.0 230.1h0M461.0 255.8h0M181.8 235.6h0M231.3 355.7h0M272.3 90.2h0M358.6 123.2h0M198.9 339.0h0M359.5 123.1h0M315.9 270.1h0M374.4 312.5h0M197.1 223.6h0M243.6 197.2h0M358.0 335.3h0M187.2 350.7h0M164.2 366.9h0M109.8 299.7h0M327.4 401.0h0M191.4 367.3h0M226.8 404.1h0M437.8 120.9h0M247.4 187.8h0M276.0 160.6h0M288.6 68.8h0M365.7 252.8h0M237.5 152.1h0M323.1 260.0h0M141.4 363.9h0M192.7 345.9h0M331.6 207.4h0M466.6 293.2h0M233.8 348.2h0M296.8 250.8h0M117.2 158.4h0M104.9 196.8h0M342.3 349.1h0M312.5 223.4h0M230.9 68.5h0M410.1 182.8h0M184.2 202.2h0M255.0 296.0h0M425.6 276.4h0M368.5 367.9h0M143.9 97.3h0M295.7 211.2h0M202.3 104.3h0M163.6 302.0h0M236.7 107.2h0M153.0 359.8h0M477.5 250.0h0M438.7 191.2h0M348.5 190.0h0M209.4 111.2h0M326.4 170.8h0M240.0 148.2h0M414.1 287.3h0M267.2 367.8h0M180.2 217.6h0M294.4 122.9h0M144.8 188.7h0M435.6 346.0h0M143.9 276.6h0M210.0 198.3h0M282.8 43.6h0M301.3 178.2h0M465.2 218.9h0M380.9 323.7h0M266.6 326.6h0M149.9 162.3h0M252.5 69.0h0M346.9 65.4h0M240.2 250.6h0M180.0 136.5h0M440.0 336.5h0M324.0 393.7h0M415.9 319.0h0M401.4 393.3h0M341.9 190.1h0M127.3 270.3h0M283.2 390.5h0M367.1 184.6h0M291.8 96.1h0M270.6 355.7h0M259.4 74.1h0M242.5 109.3h0M288.0 87.4h0M186.9 291.9h0M239.8 176.1h0M286.0 142.6h0M129.6 331.4h0M126.4 152.5h0M179.0 149.7h0M172.8 332.4h0M353.1 404.9h0M234.1 289.1h0M292.8 419.5h0M444.9 274.4h0M430.2 129.6h0M432.2 230.0h0M131.9 209.6h0M241.9 228.0h0M263.5 163.0h0M413.1 241.8h0M314.2 354.1h0M210.5 57.9h0M286.5 250.5h0M214.0 298.7h0M201.7 248.9h0M348.9 120.0h0M234.4 255.6h0M374.9 189.2h0M233.5 325.7h0M257.4 173.2h0M232.4 406.4h0M307.6 169.9h0M378.6 132.1h0M232.5 360.0h0M107.1 201.9h0M163.9 360.0h0M395.6 224.3h0M158.5 227.3h0M319.3 332.8h0M291.9 47.4h0M305.5 100.8h0M139.1 107.3h0M256.2 289.9h0M195.4 235.4h0M321.8 76.5h0M215.1 244.6h0M289.7 147.6h0M156.3 299.2h0M114.8 168.4h0M105.6 229.6h0M446.0 253.6h0M441.1 221.0h0M161.2 351.3h0M189.4 240.5h0M389.1 109.2h0M158.3 184.7h0M276.0 390.5h0M418.0 224.2h0M248.7 186.7h0M381.0 69.8h0M433.0 269.1h0M451.6 245.0h0M272.8 331.4h0M329.1 202.3h0M195.6 84.9h0M123.8 170.6h0M143.4 287.5h0M413.4 150.8h0M322.7 217.3h0M191.3 276.7h0M345.1 258.1h0M335.3 364.0h0M132.1 200.3h0M290.8 376.1h0M222.5 359.6h0M333.9 92.9h0M222.5 103.2h0M437.1 300.1h0M177.0 105.8h0M408.4 306.5h0M146.3 211.9h0M391.4 123.9h0M341.2 147.9h0M253.3 141.5h0M448.7 293.2h0M195.5 184.6h0M324.9 321.8h0M421.4 368.1h0M470.8 194.6h0M288.0 281.7h0M242.2 125.0h0M223.5 134.6h0M406.7 364.0h0M465.9 308.3h0M490.1 246.8h0M346.0 125.7h0M274.0 73.2h0M365.0 142.8h0M191.6 255.2h0M380.4 61.4h0M275.5 51.1h0M403.2 373.2h0M330.0 324.4h0M126.0 311.9h0M344.8 151.3h0M215.2 53.1h0M246.3 180.6h0M348.9 80.6h0M345.0 126.5h0M382.5 243.3h0M232.7 396.1h0M142.5 113.8h0M123.0 230.0h0M329.6 74.3h0M210.8 248.9h0M232.2 342.1h0M363.6 253.7h0M341.1 140.0h0M401.0 157.5h0M470.1 169.0h0M281.3 51.8h0M139.9 303.9h0M219.8 329.2h0M466.5 180.4h0M342.0 138.4h0M328.0 329.1h0M157.4 163.5h0M205.6 82.8h0M291.4 383.2h0M198.9 171.0h0M184.9 158.8h0M296.9 400.7h0M276.9 195.8h0M140.7 143.3h0M308.2 87.2h0M445.8 161.3h0M373.7 212.3h0M355.9 52.3h0M383.7 251.8h0M493.5 231.2h0M156.8 106.2h0M169.0 286.4h0M258.2 68.5h0M437.2 316.3h0M292.9 396.9h0M418.5 158.7h0M96.7 274.4h0M392.3 111.6h0M270.0 338.3h0M208.8 144.1h0M326.2 297.6h0M207.4 101.9h0M250.7 106.1h0M332.6 170.4h0M159.4 184.7h0M315.7 260.4h0M310.4 333.2h0M391.4 134.1h0M259.2 175.9h0M98.0 280.9h0M233.1 125.8h0M246.7 118.6h0M439.6 193.5h0M215.7 174.3h0M233.5 377.5h0M397.0 83.3h0M484.7 250.7h0M361.3 207.8h0M162.0 330.5h0M232.7 256.4h0M240.6 256.1h0M312.9 288.4h0M135.0 254.4h0M301.3 327.3h0M414.3 142.5h0M349.1 103.8h0M209.3 380.0h0M392.9 207.4h0M251.2 357.8h0M450.1 278.2h0M211.2 325.0h0M163.7 250.4h0M188.0 366.1h0M152.9 273.1h0M300.9 265.2h0M430.2 164.0h0M323.7 121.2h0M387.0 60.2h0M367.0 56.2h0M132.6 212.0h0M328.7 51.7h0M337.5 145.5h0M203.1 286.7h0M148.7 197.8h0M432.9 340.4h0M304.0 256.8h0M300.8 193.6h0M252.8 145.9h0M445.0 189.5h0M343.1 250.2h0M466.1 141.8h0M113.8 174.4h0M371.1 198.0h0M356.2 302.2h0M236.7 392.6h0M316.7 104.7h0M172.8 380.0h0M275.9 55.7h0M405.0 309.4h0M421.4 233.9h0M308.7 100.8h0M311.9 129.9h0M176.4 208.0h0M238.2 383.4h0M467.2 202.6h0M246.8 151.1h0M189.2 243.6h0M336.9 46.5h0M398.8 72.5h0M191.0 192.1h0M184.0 157.6h0M285.7 265.7h0M212.8 290.7h0M336.0 81.1h0M340.1 168.5h0M148.5 102.8h0M462.5 230.2h0M223.6 352.2h0M268.8 208.0h0M319.2 157.4h0M112.5 194.3h0M175.4 209.9h0M152.2 309.9h0M356.0 58.6h0M328.3 368.1h0M316.6 73.4h0M466.3 164.4h0M363.6 332.2h0M186.5 245.2h0M219.3 296.1h0M263.6 165.7h0M293.8 361.9h0M312.8 385.3h0M181.0 98.8h0M359.8 357.1h0M233.2 243.1h0M131.3 289.5h0M160.9 135.7h0M393.1 158.3h0M398.4 365.4h0M371.5 352.9h0M152.5 261.7h0M281.0 339.3h0M309.1 106.6h0M287.5 264.9h0M305.6 124.2h0M284.7 130.9h0M184.6 161.6h0M168.4 224.7h0M289.9 109.7h0M158.5 232.6h0M301.6 211.6h0M177.8 374.8h0M300.3 200.2h0M327.0 120.5h0M324.0 71.3h0M197.7 166.4h0M345.2 127.6h0M375.1 219.2h0M347.6 142.0h0M309.6 295.7h0M328.7 126.0h0M441.5 108.8h0M219.7 45.3h0M115.8 265.0h0M316.7 197.1h0M387.6 115.6h0M401.0 298.6h0M410.5 228.7h0M221.5 59.0h0M336.8 150.1h0M369.9 340.3h0M276.0 135.6h0M247.2 293.5h0M273.6 249.9h0M440.2 338.5h0M379.7 317.8h0M421.4 246.1h0M182.9 265.9h0M170.1 236.8h0M147.8 325.4h0M187.9 373.3h0M207.6 143.8h0M364.6 336.5h0M382.7 214.4h0M272.7 214.3h0M116.5 203.7h0M152.1 179.1h0M250.6 217.9h0M166.3 129.8h0M312.1 110.9h0M313.2 220.6h0M468.1 184.9h0M231.7 143.5h0M305.6 188.8h0M227.1 52.0h0M302.8 93.3h0M449.7 272.3h0M296.4 129.0h0M226.8 379.6h0M214.3 257.4h0M391.8 242.4h0M300.1 308.1h0M262.5 380.2h0M203.5 349.5h0M109.2 235.0h0M251.3 54.2h0M343.4 228.4h0M352.6 52.0h0M215.1 66.5h0M345.4 231.7h0M354.9 227.0h0M142.4 212.0h0M213.7 124.7h0M126.8 229.1h0M322.9 82.0h0M284.5 269.9h0M202.3 63.9h0M288.9 243.4h0M294.4 388.1h0M215.7 299.2h0M189.4 341.5h0M359.0 357.1h0M179.9 252.1h0M445.9 231.0h0M352.2 63.4h0M379.5 250.1h0M220.1 222.6h0M277.1 404.6h0M363.4 179.1h0M155.1 182.2h0M343.5 324.7h0M261.2 84.5h0M413.9 273.0h0M357.3 170.5h0M153.9 200.6h0M311.4 363.1h0M466.3 203.7h0M165.6 265.1h0M139.2 162.5h0M288.9 117.9h0M275.3 147.2h0M467.8 279.3h0M313.6 146.7h0M186.9 112.3h0M131.1 336.7h0M201.8 159.7h0M362.1 286.9h0M185.1 226.3h0M243.1 62.0h0M274.5 62.6h0M145.8 313.7h0M359.7 151.5h0M269.5 87.8h0M148.7 189.0h0M433.2 160.2h0M229.0 180.8h0M250.1 169.0h0M258.3 354.4h0M338.0 395.9h0M166.5 106.5h0M349.4 344.5h0M350.5 123.9h0M258.2 149.5h0M401.3 214.5h0M482.5 270.5h0M209.5 332.8h0M243.0 404.8h0M270.3 239.8h0M239.7 355.9h0M162.0 106.5h0M191.5 340.9h0M258.5 417.7h0M154.0 360.9h0M433.3 209.8h0M407.7 167.6h0M437.9 126.8h0M321.4 314.8h0M454.4 143.4h0M218.2 183.3h0M341.7 61.9h0M203.9 380.8h0M336.2 284.8h0M226.4 98.3h0M335.1 285.4h0M332.0 144.1h0M306.6 80.6h0M98.4 269.9h0M270.6 153.5h0M375.6 398.7h0M235.8 247.1h0M275.8 282.1h0M270.3 244.1h0M418.9 78.8h0M232.0 241.3h0M276.6 280.8h0M389.1 184.9h0M116.1 166.9h0M137.5 167.0h0M268.4 374.0h0M403.7 349.3h0M251.2 288.6h0M230.7 229.5h0M151.5 106.5h0M151.7 139.1h0M422.2 317.6h0M423.6 220.0h0M206.5 379.0h0M200.1 57.8h0M309.6 79.2h0M216.7 243.1h0M373.2 176.3h0M271.7 122.9h0M355.7 182.8h0M262.6 325.6h0M220.3 370.9h0M296.9 421.9h0M266.9 140.3h0M431.6 205.2h0M171.1 87.6h0M304.1 335.6h0M299.9 201.9h0M343.6 48.7h0M276.6 61.6h0M435.8 176.5h0M209.5 240.2h0M173.4 315.0h0M308.9 347.9h0M389.3 193.9h0M373.1 319.5h0M131.4 166.3h0M148.0 181.3h0M289.6 367.2h0M300.4 269.7h0M321.8 336.0h0M288.2 272.0h0M237.6 223.8h0M360.0 85.3h0M177.3 251.7h0M409.6 364.6h0M186.1 322.5h0M310.5 320.9h0M405.9 80.9h0M321.8 314.1h0M143.8 182.6h0M240.8 381.4h0M413.4 278.1h0M302.2 141.8h0M102.8 233.2h0M429.2 225.8h0M330.2 43.0h0M468.9 143.3h0M408.4 177.3h0M244.5 105.2h0M305.3 208.8h0M145.9 187.9h0M188.3 340.9h0M183.6 308.0h0M102.0 229.7h0M243.1 303.9h0M430.4 232.8h0M226.3 53.8h0M397.2 255.6h0M182.0 289.2h0M285.5 128.5h0M191.6 341.9h0M267.9 192.2h0M292.1 164.1h0M397.3 104.5h0M197.3 391.0h0M305.1 178.8h0M174.5 153.2h0M271.1 145.9h0M333.0 386.6h0M240.0 47.5h0M131.5 309.9h0M286.9 203.8h0M153.4 178.1h0M437.8 242.8h0M159.7 205.4h0M180.0 298.5h0M348.7 138.4h0M118.7 182.1h0M350.3 281.7h0M273.0 56.5h0M191.3 342.0h0M321.7 312.7h0M393.5 222.8h0M325.8 139.7h0M157.4 237.8h0M401.0 221.6h0M253.9 338.8h0M253.0 149.8h0M121.0 243.4h0M388.4 221.6h0M417.4 97.4h0M292.3 147.9h0M353.5 288.8h0M431.2 234.9h0M317.6 419.1h0M334.3 410.6h0M198.7 332.9h0M198.5 274.8h0M219.9 337.8h0M298.8 409.0h0M177.3 102.2h0M382.6 147.1h0M310.5 339.0h0M325.3 290.2h0M92.6 244.8h0M421.1 92.3h0M311.2 329.4h0M378.1 60.1h0M184.7 183.7h0M169.4 305.1h0M431.9 200.0h0M258.4 286.1h0M202.3 366.0h0M237.6 75.4h0M414.9 327.0h0M419.7 323.3h0M372.5 164.0h0M217.7 69.9h0M418.4 376.6h0M162.5 336.5h0M174.2 272.9h0M297.7 417.1h0M347.0 389.3h0M364.5 394.0h0M375.7 295.6h0M316.8 289.1h0M284.9 192.4h0M184.1 378.2h0M471.4 237.9h0M426.3 287.0h0M315.3 218.3h0M423.4 117.9h0M208.1 151.3h0M336.4 178.2h0M442.8 339.6h0M375.9 127.9h0M261.7 233.3h0M254.3 406.5h0M175.9 238.2h0M166.4 323.8h0M423.2 96.4h0M126.9 251.6h0M211.8 194.9h0M287.4 346.0h0M413.1 350.2h0M310.3 302.6h0M118.6 288.2h0M467.4 323.8h0M224.4 100.6h0M390.2 132.8h0M262.7 100.1h0M113.7 157.8h0M287.6 39.2h0M381.6 121.4h0M270.1 405.6h0M152.1 317.5h0M94.5 244.5h0M135.7 144.2h0M196.6 246.0h0M222.9 251.1h0M310.7 218.8h0M294.8 185.3h0M465.8 209.4h0M166.6 134.5h0M207.7 67.2h0M220.3 93.3h0M173.3 269.7h0M223.8 229.2h0M457.4 300.0h0M255.2 160.4h0M146.0 152.3h0M226.7 261.5h0M163.7 357.0h0M266.1 50.6h0M360.8 306.9h0M395.4 60.1h0M153.3 286.1h0M286.8 307.1h0M429.9 149.4h0M206.6 132.5h0M461.4 158.0h0M269.1 227.1h0M185.9 385.0h0M229.3 82.6h0M170.4 80.3h0M375.4 192.9h0M470.3 228.3h0M178.4 284.1h0M176.7 273.6h0M253.3 330.8h0M259.8 299.9h0M338.5 176.5h0M430.1 223.3h0M232.2 135.2h0M240.4 189.7h0M417.4 253.4h0M250.1 385.0h0M427.7 264.6h0M306.2 319.3h0M138.4 131.2h0M171.1 389.9h0M269.3 245.5h0M360.3 332.5h0M377.2 193.5h0M104.6 221.8h0M277.7 286.6h0M171.3 345.7h0M233.9 364.3h0M321.0 112.6h0M256.5 62.2h0M206.0 328.9h0M412.6 207.5h0M278.0 217.9h0M236.8 152.8h0M301.7 110.4h0M424.8 136.2h0M108.9 271.9h0M430.8 174.8h0M260.8 214.0h0M259.0 102.4h0M232.2 349.5h0M335.6 148.7h0M213.6 348.5h0M165.8 377.8h0M224.4 317.0h0M230.0 116.4h0M117.4 297.2h0M217.3 276.9h0M327.5 58.4h0M208.3 310.5h0M437.8 275.9h0M267.1 160.6h0M398.4 369.2h0M341.2 69.5h0M354.2 162.1h0M383.1 211.2h0M424.5 311.4h0M390.2 281.9h0M371.2 152.8h0M207.9 318.2h0M204.2 268.1h0M326.3 401.3h0M221.5 194.7h0M412.5 300.8h0M197.2 149.5h0M238.7 297.9h0M161.9 319.9h0M395.0 167.4h0M161.8 164.7h0M148.3 142.4h0M265.9 388.0h0M277.9 228.4h0M216.1 223.9h0M391.2 302.1h0M397.4 268.2h0M194.9 175.5h0M212.1 76.7h0M184.7 349.0h0M382.2 187.8h0M275.0 46.8h0M262.4 363.3h0M181.2 173.3h0M298.4 76.8h0M277.7 44.4h0M277.0 230.8h0M114.1 254.5h0M387.2 390.5h0M254.7 371.7h0M287.5 323.3h0M264.4 346.7h0M271.7 286.8h0M127.6 187.8h0M203.6 359.9h0M410.2 380.6h0M401.7 244.1h0M268.0 129.7h0M209.4 293.0h0M171.5 322.2h0M135.8 216.5h0M295.7 300.7h0M404.2 341.3h0M274.6 363.0h0M277.9 141.1h0M352.1 115.1h0M173.4 104.1h0M295.9 171.3h0M342.9 251.3h0M308.4 93.2h0M157.5 274.5h0M445.9 211.0h0M212.3 361.6h0M316.5 114.0h0M379.8 207.6h0M401.1 105.8h0M205.9 164.9h0M309.5 141.4h0M124.1 174.6h0M225.7 295.5h0M241.9 319.2h0M329.7 342.6h0M324.6 133.9h0M380.9 293.5h0M431.1 95.9h0M397.0 197.9h0M251.5 95.9h0M473.3 290.4h0M356.2 84.5h0M363.7 273.4h0M199.6 262.2h0M384.7 118.8h0M402.3 129.3h0M155.1 133.6h0M317.8 412.3h0M394.9 258.2h0M392.3 255.7h0M353.5 270.6h0M385.6 355.1h0M218.7 170.0h0M176.5 321.2h0M387.4 389.3h0M251.7 323.6h0M397.4 288.4h0M104.2 258.6h0M239.9 264.8h0M286.0 418.8h0M422.1 292.6h0M219.3 290.5h0M437.4 254.3h0M442.8 356.9h0M374.6 151.2h0M207.9 269.8h0M254.9 240.3h0M241.8 140.8h0M165.3 229.9h0M109.6 197.1h0M114.4 202.2h0M318.7 103.8h0M175.9 353.7h0M414.9 267.4h0M194.2 154.2h0M282.5 314.7h0M304.3 80.5h0M267.5 70.6h0M220.4 69.7h0M285.4 129.4h0M342.6 357.7h0M452.3 175.4h0M245.6 142.4h0M378.0 276.2h0M459.3 191.3h0M302.6 75.6h0M262.4 45.6h0M337.1 143.0h0M237.2 122.8h0M271.4 205.3h0M319.0 177.0h0M105.6 301.4h0M365.7 259.6h0M241.3 117.4h0M480.8 200.2h0M272.1 277.6h0M206.1 87.8h0M412.4 325.9h0M404.7 247.2h0M181.4 130.1h0M245.7 85.0h0M186.1 127.1h0M256.3 66.2h0M188.8 245.6h0M351.3 347.8h0M345.1 247.3h0M125.2 147.5h0M168.7 241.9h0M199.9 285.0h0M418.7 218.3h0M308.7 142.7h0M327.3 299.0h0M236.5 273.2h0M321.9 56.8h0M244.1 257.3h0M331.3 166.0h0M468.3 274.7h0M256.6 362.1h0M367.4 174.9h0M193.8 251.3h0M368.2 201.3h0M183.4 158.0h0M114.0 188.3h0M144.5 287.4h0M251.0 207.6h0M183.1 90.5h0M190.4 295.9h0M245.1 180.2h0M456.7 322.6h0M181.0 142.2h0M398.9 399.9h0M206.0 202.6h0M347.3 336.7h0M364.5 87.0h0M342.8 142.8h0M153.5 254.3h0M149.3 163.4h0M386.3 83.9h0M312.4 203.0h0M232.5 297.4h0M148.0 189.8h0M272.7 124.2h0M334.4 281.8h0M263.7 81.9h0M325.6 304.4h0M322.5 294.5h0M185.0 208.8h0M153.5 340.8h0M388.9 395.8h0M414.9 282.6h0M409.6 341.0h0M205.2 79.8h0M113.7 205.2h0M368.4 363.2h0M368.0 125.8h0M151.8 104.3h0M311.6 322.2h0M311.0 250.5h0M369.3 142.1h0M149.7 208.3h0M221.7 215.6h0M175.9 179.8h0M299.1 232.1h0M139.2 310.3h0M274.1 102.4h0M147.3 374.7h0M169.4 225.7h0M392.6 117.5h0M152.9 366.6h0M423.7 86.6h0M108.4 213.5h0M207.0 267.0h0M198.0 252.7h0M172.6 299.4h0M322.3 184.0h0M395.6 78.6h0M374.0 168.2h0M303.0 126.0h0M253.6 120.4h0M291.7 294.9h0M235.5 146.7h0M374.6 376.8h0M437.7 282.2h0M244.5 414.5h0M166.2 181.4h0M213.1 111.4h0M388.6 230.6h0M323.9 151.8h0M121.8 162.3h0M334.2 381.5h0M426.2 194.5h0M403.2 223.3h0M87.9 228.5h0M377.5 64.8h0M156.2 188.1h0M115.2 193.4h0M336.9 57.5h0M343.4 313.9h0M308.0 134.3h0M324.5 331.3h0M333.3 302.3h0M481.7 278.0h0M352.5 217.2h0M151.1 112.2h0M171.8 355.0h0M332.3 249.5h0M94.4 226.6h0M271.0 201.0h0M317.3 311.0h0M259.4 164.7h0M225.7 400.8h0M100.8 187.3h0M223.1 281.7h0M317.1 351.4h0M184.5 321.5h0M120.1 330.1h0M326.4 265.4h0M322.0 191.9h0M264.0 151.9h0M355.0 99.8h0M442.5 136.9h0M244.7 322.2h0M202.5 313.2h0M361.2 84.8h0M277.6 255.9h0M222.5 352.0h0M359.5 174.5h0M338.0 297.8h0M343.6 124.8h0M96.6 206.1h0M262.2 116.9h0M149.5 357.0h0M134.8 186.6h0M422.0 303.5h0M393.8 165.1h0M324.7 239.2h0M262.6 266.5h0M279.1 160.4h0M148.6 151.9h0M249.8 91.0h0M467.1 194.2h0M208.2 298.3h0M350.0 303.1h0M144.0 107.8h0M389.8 274.9h0M287.1 375.3h0M207.9 171.2h0M427.0 316.1h0M443.0 166.2h0M352.3 396.3h0M453.9 306.1h0M207.5 303.2h0M297.4 271.3h0M234.7 291.0h0M192.9 331.3h0M390.2 282.4h0M437.7 166.6h0M312.7 237.1h0M308.6 353.2h0M136.2 235.8h0M325.3 36.9h0M443.9 263.8h0M148.4 287.9h0M478.1 180.2h0M253.9 311.3h0M372.0 187.5h0M272.4 323.2h0M120.6 198.3h0M227.3 70.7h0M251.1 220.2h0M359.4 177.0h0M141.3 287.0h0M122.4 320.5h0M143.5 159.3h0M115.1 146.8h0M252.0 158.2h0M311.3 391.2h0M341.2 317.8h0M129.4 191.0h0M99.7 216.3h0M210.9 346.6h0M204.1 343.7h0M197.9 144.9h0M272.5 96.9h0M139.9 190.3h0M291.8 404.5h0M169.8 327.7h0M404.5 321.9h0M398.2 263.4h0M309.4 138.5h0M300.0 70.3h0M358.9 312.3h0M144.7 117.6h0M233.0 348.5h0M462.4 143.3h0M250.5 236.1h0M348.1 194.8h0M129.9 196.5h0M362.7 358.9h0M183.8 231.3h0M314.1 180.6h0M207.2 261.3h0M322.7 414.0h0M388.2 136.9h0M459.8 334.3h0M314.5 366.8h0M285.6 267.5h0M161.4 182.6h0M153.4 203.9h0M226.0 247.2h0M177.7 384.9h0M214.3 389.2h0M336.5 59.1h0M349.0 366.1h0M322.7 164.5h0M338.5 410.9h0M191.7 203.4h0M163.3 154.6h0M409.6 198.2h0M331.5 361.1h0M302.7 69.7h0M327.7 376.1h0M257.7 109.3h0M334.8 267.9h0M396.9 379.8h0M227.6 267.9h0M375.8 161.4h0M357.1 125.7h0M410.5 322.9h0M149.7 130.2h0M146.6 263.3h0M119.2 160.9h0M435.5 299.3h0M236.0 316.8h0M468.6 273.6h0M256.3 208.9h0M335.9 333.6h0M184.5 145.7h0M421.8 132.3h0M288.5 277.8h0M219.2 179.5h0M136.0 310.5h0M417.7 194.1h0M234.3 303.7h0M316.6 179.2h0M269.0 181.0h0M224.0 380.1h0M395.4 397.2h0M179.0 119.1h0M423.1 329.7h0M240.5 272.6h0M435.3 241.1h0M247.4 211.7h0M340.7 330.2h0M457.8 203.1h0M457.4 227.6h0M154.7 218.2h0M410.4 310.1h0M230.1 88.0h0M166.0 86.9h0M413.6 339.9h0M254.5 54.4h0M117.4 192.7h0M186.3 288.2h0M152.7 183.4h0M334.6 368.9h0M201.8 283.5h0M368.7 213.4h0M157.7 230.8h0M212.5 315.5h0M122.8 244.8h0M334.7 79.5h0M329.3 306.7h0M282.3 210.5h0M177.5 361.5h0M124.0 253.2h0M290.9 114.7h0M433.5 251.2h0M281.7 89.8h0M216.5 83.4h0M449.2 344.8h0M210.5 355.2h0M160.6 251.1h0M229.5 277.2h0M201.1 306.0h0M430.0 196.1h0M290.7 311.4h0M142.2 123.3h0M275.2 345.2h0M424.2 342.9h0M330.0 217.2h0M181.4 61.8h0M333.9 186.2h0M343.7 205.8h0M139.6 201.1h0M332.4 45.9h0M434.2 349.6h0M436.8 249.4h0M345.7 159.3h0M218.7 257.6h0M139.6 247.5h0M381.2 377.0h0M95.8 182.9h0M464.7 191.8h0M426.4 204.3h0M115.6 235.0h0M135.6 276.1h0M188.5 99.5h0M190.5 75.1h0M276.9 233.8h0M99.7 255.6h0M228.5 208.3h0M212.3 142.4h0M205.3 232.5h0M295.1 355.0h0M267.9 80.6h0M378.4 216.3h0M215.4 115.5h0M389.4 341.2h0M311.1 176.9h0M227.2 171.4h0M426.4 93.1h0M247.1 152.8h0M212.7 185.5h0M392.7 144.4h0M203.7 261.0h0M193.1 184.5h0M178.6 320.4h0M269.0 348.9h0M257.1 154.9h0M374.2 182.1h0M351.2 113.2h0M416.4 167.8h0M394.9 154.7h0M294.6 272.2h0M110.5 285.0h0M143.2 207.2h0M94.3 291.5h0M420.5 306.8h0M256.5 314.9h0M335.6 395.4h0M115.2 319.7h0M483.3 177.6h0M330.3 309.1h0M430.8 184.6h0M143.8 352.8h0M136.6 287.5h0M484.2 198.5h0M327.3 307.7h0M365.0 367.3h0M282.9 255.8h0M104.0 204.0h0M282.2 117.4h0M436.9 284.1h0M393.9 307.4h0M135.4 166.9h0M328.7 245.4h0M408.1 341.7h0M130.4 245.1h0M208.5 208.2h0M230.7 406.6h0M239.7 380.3h0M194.5 348.9h0M216.7 221.0h0M350.8 283.8h0M306.1 309.9h0M331.5 91.8h0M314.4 388.3h0M178.3 330.6h0M198.1 357.3h0M451.8 200.7h0M372.5 177.7h0M209.3 94.9h0M182.9 338.5h0M365.8 259.5h0M219.0 243.3h0M431.5 339.0h0M350.5 219.1h0M412.2 237.5h0M216.7 376.4h0M279.7 175.9h0M254.6 272.5h0M185.0 293.5h0M169.0 137.7h0M153.4 266.2h0M251.4 245.5h0M390.2 184.2h0M253.4 378.6h0M358.1 257.3h0M451.7 191.2h0M229.0 387.7h0M258.4 205.2h0M226.7 284.6h0M218.9 359.3h0M418.1 243.3h0M468.8 183.3h0M385.3 171.7h0M336.4 200.5h0M472.4 285.8h0M319.1 391.7h0M354.1 250.6h0M385.3 363.0h0M311.9 379.4h0M182.6 82.1h0M192.9 115.3h0M323.3 64.1h0M117.6 312.4h0M389.9 314.4h0M453.4 199.9h0M201.6 140.0h0M122.9 216.2h0M198.6 109.5h0M411.2 154.7h0M380.3 198.6h0M157.6 289.9h0M209.4 297.2h0M200.0 354.5h0M358.9 329.5h0M232.6 50.1h0M314.9 56.8h0M362.3 268.9h0M147.5 334.6h0M156.4 193.7h0M123.2 225.9h0M191.9 371.3h0M182.3 136.7h0M181.1 303.9h0M123.0 212.0h0M287.4 186.8h0M301.1 148.3h0M220.1 385.3h0M438.4 282.4h0M470.7 185.8h0M302.7 337.7h0M145.4 225.0h0M376.2 186.3h0M384.5 185.0h0M253.5 105.1h0M435.7 299.6h0M302.8 268.8h0M306.1 384.3h0M287.1 238.6h0M439.3 188.2h0M269.1 37.9h0M318.5 40.9h0M385.3 81.1h0M463.0 305.7h0M354.6 320.4h0M370.2 63.8h0M434.1 202.1h0M186.9 387.5h0M385.7 229.4h0M272.2 356.6h0M389.5 273.3h0M393.4 139.2h0M472.6 174.0h0M122.3 144.6h0M308.9 344.0h0M114.6 185.8h0M127.7 233.4h0M310.2 398.5h0M337.7 195.6h0M341.4 331.4h0M202.3 210.9h0M350.1 173.6h0M390.6 240.6h0M375.6 115.9h0M357.7 119.6h0M442.9 317.3h0M269.0 86.6h0M461.3 323.2h0M202.0 262.0h0M336.6 136.9h0M460.8 198.1h0M270.3 415.7h0M239.5 231.8h0M286.2 106.2h0M123.9 200.6h0M167.1 135.8h0M417.3 363.2h0M171.1 359.3h0M221.5 304.6h0M141.4 173.6h0M172.9 340.7h0M226.4 286.4h0M267.3 358.2h0M240.5 115.0h0M275.1 353.2h0M333.2 249.7h0M264.0 80.6h0M400.3 78.8h0M152.3 335.2h0M410.5 387.4h0M152.0 137.6h0M392.4 319.3h0M214.2 156.9h0M172.4 345.2h0M244.3 371.2h0M243.3 82.1h0M315.8 134.6h0M265.9 96.7h0M231.2 88.3h0M350.5 56.8h0M456.5 196.6h0M325.7 112.0h0M223.9 264.1h0M268.0 258.6h0M332.5 97.3h0M280.0 177.3h0M289.7 206.2h0M345.2 240.9h0M453.8 289.4h0M190.5 355.3h0M303.2 341.0h0M408.2 204.7h0M357.9 287.5h0M387.8 345.4h0M161.8 152.7h0M198.5 232.2h0M272.4 164.2h0M356.4 133.1h0M326.3 321.2h0M475.1 249.5h0M192.1 110.3h0M324.6 44.1h0M275.9 63.5h0M232.2 151.3h0M327.4 324.3h0M309.2 234.3h0M429.5 254.7h0M434.4 235.5h0M225.0 93.2h0M436.2 252.0h0M399.7 356.6h0M302.4 320.2h0M286.0 116.0h0M300.8 207.4h0M133.6 339.2h0M353.5 155.1h0M312.3 44.4h0M223.1 229.9h0M231.6 55.6h0M337.1 238.6h0M230.8 231.0h0M377.2 80.2h0M267.7 275.8h0M478.5 212.1h0M239.3 211.1h0M234.7 81.6h0M140.1 219.9h0M366.4 55.4h0M110.6 147.7h0M284.6 323.0h0M304.7 154.9h0M377.6 382.1h0M323.1 217.3h0M314.0 373.0h0M288.7 151.7h0M206.4 151.7h0M332.4 234.6h0M181.1 116.2h0M229.4 97.9h0M271.5 318.2h0M200.2 79.7h0M421.7 313.3h0M263.7 222.8h0M402.3 313.1h0M250.2 153.3h0M460.5 191.6h0M252.7 410.2h0M251.9 157.7h0M219.8 330.6h0M202.9 205.9h0M353.5 186.3h0M187.4 100.6h0M317.5 86.0h0M180.7 199.8h0M345.3 282.0h0M232.6 147.5h0M207.5 386.5h0M352.8 139.6h0M110.7 241.7h0M326.2 290.4h0M172.0 161.0h0M214.5 66.0h0M217.9 267.6h0M281.6 192.3h0M271.5 382.0h0M307.0 293.4h0M164.1 261.3h0M289.1 235.7h0M163.6 196.3h0M263.8 369.6h0M299.5 409.0h0M354.3 266.3h0M365.5 341.7h0M400.4 166.0h0M322.4 164.9h0M262.1 418.3h0M441.7 186.2h0M222.3 341.6h0M223.8 251.8h0M129.1 253.9h0M291.8 240.6h0M220.7 274.0h0M112.2 156.7h0M243.9 342.4h0M206.4 241.1h0M324.2 276.7h0M466.9 266.9h0M477.9 275.4h0M165.5 194.8h0M152.9 213.9h0M224.6 322.2h0M381.2 187.7h0M273.0 92.5h0M351.7 200.8h0M387.4 193.4h0M282.6 219.8h0M247.3 290.3h0M455.0 336.7h0M271.7 261.4h0M143.6 173.4h0M146.8 150.9h0M156.7 183.2h0M486.5 243.6h0M134.3 334.3h0M105.3 167.1h0M286.3 133.5h0M443.6 207.3h0M479.1 179.2h0M434.4 213.4h0M170.6 206.8h0M114.5 222.4h0M258.4 52.8h0M440.4 346.1h0M437.8 247.4h0M157.6 274.6h0M308.7 230.5h0M266.7 138.4h0M422.0 94.2h0M213.3 72.7h0M175.4 317.3h0M308.0 258.8h0M114.8 329.2h0M195.3 68.1h0M210.8 121.0h0M489.4 218.0h0M226.7 142.0h0M390.3 146.8h0M454.3 230.1h0M327.8 102.5h0M127.0 327.2h0M293.9 188.5h0M487.8 220.1h0M200.8 236.7h0M300.9 305.4h0M283.2 185.4h0M368.5 105.1h0M156.9 111.2h0M420.2 131.6h0M376.2 134.8h0M460.0 147.3h0M399.4 131.1h0M282.4 223.0h0M394.1 358.0h0M277.2 148.3h0M349.0 194.2h0M360.0 162.6h0M155.2 258.7h0M472.7 195.9h0M354.8 205.1h0M346.0 303.8h0M263.3 389.5h0M264.2 164.4h0M184.8 232.0h0M397.7 367.8h0M158.9 343.4h0M487.9 246.2h0M188.1 182.2h0M281.9 73.9h0M93.0 266.5h0M172.8 261.7h0M388.1 245.8h0M268.4 52.1h0M391.5 192.9h0M247.6 372.0h0M309.2 102.8h0M250.4 417.2h0M118.6 292.5h0M394.3 98.4h0M136.4 269.4h0M184.9 111.9h0M281.2 212.8h0M288.2 125.4h0M265.2 404.1h0M160.3 241.7h0M476.6 213.9h0M417.9 116.7h0M255.9 336.5h0M358.1 325.8h0M218.2 292.3h0M146.6 287.4h0M268.5 307.3h0M432.4 281.3h0M345.1 269.4h0M360.9 336.5h0M261.3 252.5h0M101.2 264.1h0M349.2 272.1h0M297.6 339.7h0M199.6 290.8h0M232.3 282.0h0M142.2 163.1h0M210.8 347.5h0M385.1 143.5h0M307.6 47.4h0M467.7 321.3h0M379.2 278.9h0M290.6 307.2h0M170.2 275.5h0M271.1 401.5h0M278.7 347.5h0M397.6 240.8h0M319.1 176.2h0M253.6 299.7h0M237.2 69.0h0M139.6 180.5h0M356.1 300.0h0M424.2 347.2h0M124.6 127.8h0M159.1 346.9h0M370.2 73.0h0M238.8 237.1h0M434.4 136.6h0M457.6 185.4h0M312.3 167.6h0M332.2 296.2h0M142.8 313.7h0M119.0 186.3h0M334.4 176.4h0M245.4 187.3h0M389.1 107.0h0M128.6 320.5h0M313.7 253.9h0M338.4 251.7h0M251.2 46.3h0M107.3 248.9h0M424.2 125.4h0M354.8 311.1h0M169.5 361.0h0M149.0 115.1h0M114.3 258.2h0M242.8 177.1h0M280.2 94.0h0M242.2 104.1h0M286.5 61.0h0M117.2 294.7h0M304.0 118.2h0M194.8 244.6h0M196.8 124.7h0M169.3 294.9h0M230.0 181.5h0M234.7 67.7h0M328.5 80.0h0M452.8 188.4h0M379.1 133.1h0M211.5 186.4h0M287.6 367.3h0M272.0 69.4h0M316.1 364.4h0M216.2 138.4h0M245.8 133.4h0M221.0 352.5h0M365.2 361.8h0M130.5 301.1h0M414.8 98.9h0M317.6 224.9h0M481.3 210.6h0M306.2 49.9h0M292.7 374.3h0M431.3 347.0h0M446.9 237.4h0M108.3 210.1h0M182.7 378.3h0M310.4 380.2h0M414.1 127.9h0M246.9 386.6h0M454.7 259.0h0M324.2 317.9h0M389.4 105.9h0M256.8 154.2h0M267.5 393.9h0M166.0 232.2h0M109.1 282.2h0M406.4 321.5h0M463.5 179.7h0M178.1 100.0h0M464.2 211.1h0M357.9 58.3h0M402.8 102.0h0M130.7 217.1h0M276.9 306.0h0M376.0 193.2h0M201.7 257.2h0M392.6 344.8h0M164.5 192.0h0M213.3 216.0h0M168.3 365.5h0M306.5 195.2h0M129.5 136.8h0M116.0 239.7h0M306.8 64.9h0M365.1 267.0h0M121.1 191.0h0M314.1 216.9h0M156.2 359.6h0M362.4 360.1h0M145.2 265.9h0M242.9 241.8h0M182.7 300.7h0M165.6 168.2h0M288.8 265.8h0M197.7 208.5h0M275.9 360.9h0M367.7 163.0h0M279.2 398.6h0M122.0 313.3h0M175.2 154.3h0M175.9 100.3h0M227.6 399.1h0M471.4 198.6h0M448.6 277.0h0M241.7 373.0h0M214.2 153.7h0M260.7 401.8h0M157.7 327.5h0M340.0 270.6h0M327.3 223.7h0M278.3 94.7h0M338.3 393.0h0M213.4 201.9h0M198.6 350.8h0M137.1 128.6h0M313.3 37.4h0M209.7 157.4h0M221.3 278.8h0M332.4 407.2h0M164.7 86.2h0M171.2 142.6h0M327.0 172.1h0M234.8 203.2h0M293.1 42.1h0M124.7 326.0h0M417.9 362.8h0M208.9 128.4h0M350.6 325.7h0M188.8 118.9h0M173.5 76.7h0M109.9 209.7h0M456.9 220.7h0M280.5 408.8h0M127.2 167.3h0M371.4 393.9h0M412.7 378.0h0M332.0 266.2h0M180.1 248.2h0M133.3 250.6h0M258.2 85.6h0M382.5 356.0h0M249.1 382.3h0M303.3 347.1h0M302.1 177.0h0M395.8 373.2h0M421.8 181.2h0M168.2 290.9h0M473.7 165.2h0M462.9 229.7h0M201.5 184.9h0M197.7 61.9h0M192.3 274.1h0M408.7 274.8h0M107.0 311.0h0M343.0 395.7h0M206.6 300.7h0M454.3 198.9h0M457.4 176.0h0M404.2 288.0h0M236.7 237.8h0M469.2 189.7h0M376.8 123.2h0M150.2 262.2h0M408.5 76.4h0M264.5 331.0h0M385.7 250.3h0M118.9 229.4h0M347.3 355.0h0M210.9 275.7h0M270.5 130.6h0M382.3 322.8h0M231.5 106.7h0M210.4 112.4h0M186.1 122.0h0M434.6 350.9h0M397.0 161.7h0M409.2 202.8h0M274.5 101.2h0M136.3 195.5h0M392.1 84.3h0M479.6 167.9h0M314.5 175.5h0M475.8 226.1h0M223.9 185.7h0M465.0 313.9h0M426.8 245.5h0M275.7 389.7h0M371.7 53.7h0M460.1 159.2h0M387.3 309.1h0M237.3 354.7h0M125.1 294.4h0M391.8 219.1h0M198.3 263.2h0M288.6 278.5h0M358.5 72.9h0M121.3 157.5h0M366.0 333.1h0M252.0 47.3h0M397.1 185.2h0M192.8 245.8h0M290.1 345.1h0M284.8 87.0h0M164.2 211.0h0M352.9 313.1h0M283.3 92.9h0M140.2 344.4h0M380.0 320.4h0M122.7 276.4h0M290.2 230.0h0M266.1 355.7h0M207.4 363.4h0M298.9 190.9h0M130.0 293.2h0M403.9 379.0h0M461.9 164.5h0M338.0 335.4h0M469.5 220.5h0M334.8 65.8h0M202.2 360.0h0M284.3 69.0h0M407.3 241.3h0M395.5 95.1h0M395.4 332.5h0M357.5 231.7h0M117.4 140.3h0M331.4 375.5h0M320.6 254.2h0M411.1 206.9h0M326.9 409.3h0M344.0 284.1h0M469.6 257.2h0M364.6 261.0h0M156.7 354.5h0M241.7 46.2h0M370.4 349.1h0M254.5 261.8h0M185.2 397.5h0M279.0 252.6h0M295.0 246.0h0M258.8 372.2h0M193.0 307.3h0M388.1 127.9h0M355.5 388.3h0M207.8 378.8h0M272.6 89.7h0M136.1 221.1h0M192.1 255.9h0M106.0 215.1h0M248.6 171.5h0M122.8 262.2h0M212.0 270.7h0M316.7 118.9h0M374.0 142.5h0M357.3 262.9h0M227.6 183.0h0M324.9 146.0h0M339.3 72.0h0M247.1 118.5h0M159.4 150.0h0M268.8 148.8h0M138.2 266.2h0M400.3 335.1h0M146.3 302.2h0M250.7 352.4h0M175.6 98.2h0M281.7 174.1h0M156.8 300.1h0M294.7 139.2h0M307.3 176.0h0M100.3 223.2h0M252.8 285.8h0M116.6 324.8h0M256.5 70.9h0M332.3 262.0h0M270.6 307.8h0M234.7 211.3h0M239.9 220.8h0M192.6 219.0h0M278.5 372.2h0M161.1 383.7h0M379.7 81.5h0M444.3 168.9h0M261.3 150.7h0M346.8 308.5h0M462.5 198.8h0M321.5 132.1h0M161.4 151.4h0M112.9 281.8h0M260.3 248.9h0M208.8 179.8h0M434.6 320.3h0M225.1 115.0h0M391.7 292.4h0M197.3 372.7h0M320.1 261.0h0M176.3 98.2h0M106.2 310.1h0M208.9 203.2h0M318.6 361.3h0M264.0 134.2h0M208.1 224.2h0M465.0 145.7h0M353.0 147.6h0M260.1 145.1h0M447.0 222.8h0M125.2 123.7h0M186.8 239.9h0M431.0 335.2h0M363.4 395.4h0M477.7 274.4h0M436.1 257.4h0M158.7 316.4h0M280.8 337.1h0M188.3 297.1h0M310.1 92.5h0M156.9 180.9h0M129.0 267.9h0M159.7 278.4h0M347.9 178.6h0M275.5 286.2h0M474.1 184.8h0M143.4 121.6h0M220.4 175.7h0M296.1 385.3h0M301.0 161.7h0M187.5 329.6h0M426.4 183.5h0M184.0 260.4h0M195.0 159.4h0M420.1 246.5h0M386.8 354.3h0M378.6 162.6h0M221.5 237.5h0M387.9 373.6h0M153.2 125.0h0M242.3 208.9h0M478.2 243.0h0M106.7 178.6h0M474.4 189.6h0M456.0 300.1h0M320.1 192.5h0M359.5 317.7h0M248.6 292.8h0M308.5 353.0h0M245.2 387.2h0M240.3 368.7h0M382.4 138.9h0M419.4 277.1h0M459.0 258.1h0M221.9 157.6h0M429.0 130.8h0M387.1 338.1h0M221.7 222.9h0M125.0 225.4h0M257.4 298.8h0M455.6 167.1h0M195.8 124.2h0M403.3 111.1h0M246.1 281.6h0M199.9 361.4h0M106.8 183.1h0M353.9 247.4h0M321.4 295.3h0M264.0 374.4h0M281.6 43.4h0M249.3 402.9h0M229.9 233.9h0M347.3 55.4h0M288.7 267.2h0M407.5 195.1h0M314.9 224.4h0M151.3 272.2h0M242.7 71.1h0M470.9 246.2h0M329.1 120.1h0M245.4 328.3h0M260.9 377.2h0M299.6 212.7h0M373.3 354.7h0M415.7 339.0h0M272.1 208.9h0M101.6 274.6h0M161.7 265.8h0M431.7 182.3h0M330.8 318.5h0M424.1 365.6h0M254.3 309.1h0M235.4 161.4h0M141.1 176.5h0M382.6 356.1h0M142.5 156.5h0M162.9 309.9h0M234.4 384.8h0M162.4 355.6h0M447.9 239.2h0M128.9 174.3h0M194.1 80.0h0M238.2 347.4h0M250.6 129.2h0M148.3 176.5h0M271.6 329.4h0M230.5 195.7h0M287.6 255.9h0M352.8 228.1h0M367.7 237.9h0M245.0 119.0h0M131.9 206.1h0M175.9 359.5h0M336.2 306.1h0M183.4 362.9h0M329.3 374.2h0M169.2 285.2h0M313.4 287.8h0M158.7 192.7h0M138.3 151.4h0M242.5 166.3h0M211.3 185.5h0M359.3 126.4h0M183.0 231.7h0M451.0 182.5h0M183.8 245.8h0M117.2 321.5h0M429.9 300.9h0M469.8 190.5h0M175.1 306.3h0M293.9 61.4h0M247.3 42.0h0M324.4 148.1h0M459.3 325.5h0M473.7 282.2h0M455.2 214.0h0M225.0 95.9h0M277.3 321.5h0M405.3 248.0h0M184.2 92.5h0M279.0 104.8h0M438.9 157.5h0M150.2 220.0h0M261.4 306.6h0M357.7 74.7h0M254.2 122.9h0M103.0 294.2h0M351.1 195.9h0M315.3 163.1h0M108.1 208.4h0M318.7 59.1h0M179.4 89.6h0M186.6 79.9h0M123.8 207.0h0M111.0 236.6h0M195.3 174.6h0M127.5 311.9h0M361.2 380.7h0M161.0 79.3h0M147.8 215.4h0M389.2 153.0h0M133.7 226.2h0M209.5 215.8h0M172.0 214.9h0M111.1 260.5h0M262.8 244.5h0M220.5 149.5h0M297.5 41.3h0M384.5 109.2h0M193.5 350.0h0M135.9 133.5h0M116.2 322.8h0M282.6 245.0h0M333.5 282.2h0M235.3 261.0h0M331.4 343.3h0M451.8 140.8h0M217.1 211.0h0M271.8 192.4h0M321.9 327.4h0M453.6 130.9h0M423.1 234.1h0M283.2 243.0h0M257.2 176.1h0M211.0 376.3h0M335.6 349.7h0M397.9 294.0h0M155.1 86.0h0M255.5 284.6h0M258.1 398.9h0M283.7 130.2h0M331.7 412.8h0M473.4 267.6h0M340.6 376.6h0M355.1 277.6h0M198.6 72.6h0M404.3 99.3h0M258.4 54.2h0M176.7 245.2h0M273.3 377.3h0M408.3 113.6h0M350.2 112.6h0M428.2 221.1h0M126.2 178.3h0M126.5 191.8h0M321.2 140.0h0M337.6 394.7h0M221.1 267.9h0M390.5 188.2h0M153.2 171.9h0M374.6 292.9h0M119.2 215.3h0M348.2 78.7h0M272.5 69.7h0M361.7 221.6h0M415.2 237.2h0M158.4 289.8h0M315.6 319.6h0M93.3 195.4h0M364.1 108.5h0M276.2 241.3h0M459.3 207.4h0M160.2 233.8h0M347.6 77.4h0M235.9 269.5h0M106.8 188.4h0M310.7 114.9h0M220.3 242.7h0M436.9 264.0h0M125.9 172.3h0M135.8 228.2h0M394.1 311.1h0M444.4 180.9h0M377.7 204.7h0M181.6 77.6h0M217.8 402.2h0M367.1 381.5h0M147.4 314.8h0M450.0 212.8h0M114.0 330.0h0M145.6 331.0h0M211.8 87.5h0M127.0 159.9h0M206.3 237.2h0M432.7 126.9h0M288.5 371.1h0M176.7 153.2h0M313.2 412.6h0M167.8 206.8h0M214.6 86.2h0M320.6 171.4h0M390.0 191.9h0M406.1 308.3h0M193.9 344.1h0M158.4 119.4h0M365.0 55.9h0M92.9 265.9h0M213.4 163.6h0M141.2 313.3h0M141.1 349.7h0M378.1 219.2h0M199.3 379.1h0M284.5 109.8h0M241.1 281.1h0M465.9 282.4h0M227.0 378.0h0M236.5 207.9h0M443.4 245.5h0M127.0 144.0h0M197.3 155.1h0M392.9 264.5h0M400.8 299.1h0M270.5 133.6h0M276.7 380.3h0M375.2 123.0h0M397.1 332.5h0M277.1 101.1h0M441.3 334.6h0M347.5 256.8h0M300.5 245.9h0M220.7 207.0h0M106.0 237.4h0M214.0 229.4h0M174.3 217.8h0M112.7 238.6h0M183.6 368.9h0M477.2 167.9h0M205.0 387.4h0M349.6 317.2h0M333.7 226.4h0M173.7 384.0h0M306.4 324.3h0M351.3 414.2h0M441.6 222.1h0M283.8 233.1h0M346.8 379.0h0M148.2 296.9h0M245.7 406.1h0M126.0 164.7h0M374.5 216.7h0M222.3 208.7h0M289.1 42.6h0M453.6 220.8h0M237.4 133.7h0M325.9 47.4h0M212.7 372.7h0M449.4 199.4h0M257.6 362.3h0M281.5 207.1h0M177.6 260.2h0M323.6 137.0h0M447.6 205.1h0M163.3 329.4h0M391.3 355.7h0M358.1 273.8h0M238.4 55.4h0M141.7 329.4h0M136.8 119.0h0M130.5 257.7h0M222.2 282.4h0M367.1 325.0h0M256.4 226.9h0M213.9 182.6h0M349.7 257.3h0M400.5 166.3h0M430.3 359.9h0M105.3 213.1h0M377.3 145.3h0M225.7 54.5h0M265.0 115.0h0M225.4 222.1h0M385.3 320.2h0M248.3 249.4h0M153.2 131.2h0M124.3 217.9h0M292.5 238.2h0M193.6 239.4h0M428.8 127.5h0M207.4 388.1h0M236.5 100.5h0M424.4 207.7h0M219.3 265.6h0M244.9 339.2h0M339.8 258.6h0M483.2 217.6h0M399.3 106.1h0M453.2 315.5h0M445.9 214.9h0M426.6 345.4h0M300.9 296.5h0M323.2 405.5h0M177.0 100.1h0M333.5 374.9h0M286.5 43.6h0M183.4 368.2h0M207.9 189.6h0M185.5 348.5h0M142.3 209.0h0M170.2 257.0h0M370.7 237.9h0M121.4 296.0h0M405.8 190.9h0M242.6 145.1h0M379.0 353.8h0M251.1 292.4h0M222.8 116.2h0M290.6 123.6h0M184.0 218.2h0M386.0 288.6h0M300.8 203.9h0M160.7 334.6h0M348.7 88.7h0M188.9 153.5h0M213.1 365.0h0M198.5 161.3h0M439.8 196.0h0M333.1 119.0h0M157.2 146.2h0M298.8 266.1h0M124.2 180.9h0M378.0 286.8h0M446.4 210.3h0M443.7 119.5h0M446.9 323.8h0M406.8 222.1h0M332.7 43.9h0M411.0 141.2h0M483.2 219.2h0M384.8 64.0h0M273.1 178.3h0M303.9 163.0h0M444.1 246.5h0M213.1 378.6h0M225.1 167.4h0M478.4 271.2h0M356.7 253.6h0M493.5 207.7h0M329.7 187.3h0M394.7 130.8h0M354.9 250.6h0M115.5 214.7h0M387.8 289.5h0M258.4 157.1h0M146.5 282.5h0M451.4 155.3h0M336.8 344.8h0M314.2 293.2h0M425.8 97.8h0M206.2 253.0h0M415.6 273.8h0M297.6 240.5h0M275.4 217.6h0M453.0 172.7h0M406.2 120.0h0M239.0 143.1h0M424.3 267.4h0M242.0 220.7h0M218.8 176.1h0M295.1 202.5h0M335.0 290.7h0M383.8 105.0h0M446.6 269.1h0M245.9 358.2h0M263.6 209.2h0M332.8 152.9h0M153.3 107.1h0M241.6 248.7h0M411.2 223.1h0M283.2 404.9h0M131.0 337.7h0M284.4 213.1h0M198.9 250.5h0M421.5 229.1h0M164.7 114.1h0M397.0 80.0h0M320.0 186.7h0M175.9 393.0h0M286.2 254.8h0M130.8 130.8h0M372.8 225.9h0M348.0 117.9h0M130.8 205.5h0M187.2 125.6h0M468.0 245.2h0M148.1 165.4h0M253.8 375.3h0M248.3 307.9h0M291.8 158.8h0M246.9 144.4h0M248.2 416.0h0M132.6 175.0h0M280.4 63.2h0M166.5 238.6h0M172.3 239.5h0M218.1 205.8h0M290.7 87.7h0M196.7 231.3h0M439.4 174.7h0M320.9 423.2h0M223.8 181.6h0M263.9 416.1h0M247.9 142.8h0M192.2 305.5h0M382.8 167.3h0M464.5 295.1h0M354.5 317.5h0M368.3 128.3h0M305.4 104.6h0M178.6 241.0h0M309.3 118.3h0M473.5 285.9h0M199.8 365.7h0M469.2 292.2h0M460.2 209.3h0M153.9 231.6h0M202.7 85.4h0M387.0 151.1h0M392.0 306.1h0M165.4 318.3h0M424.3 85.9h0M300.3 387.6h0M177.2 318.4h0M275.0 353.7h0M291.4 152.1h0M353.7 170.6h0M382.3 163.9h0M167.4 223.7h0M344.3 168.1h0M335.2 254.3h0M429.7 269.9h0M464.5 156.9h0M421.3 337.2h0M385.9 104.6h0M158.0 118.1h0M185.6 280.9h0M444.9 206.8h0M176.1 360.8h0M349.7 350.5h0M188.1 147.2h0M100.6 289.4h0M390.0 129.3h0M292.2 257.6h0M313.1 150.1h0M296.5 383.6h0M164.6 205.8h0M323.8 195.8h0M164.8 336.3h0M147.9 179.2h0M200.9 120.3h0M313.9 60.6h0M146.4 299.1h0M208.3 139.8h0M427.1 260.9h0M122.3 142.6h0M220.8 160.4h0M133.4 259.3h0M168.8 116.6h0M352.9 108.6h0M151.9 201.1h0M307.2 76.3h0M243.0 223.7h0M412.8 244.8h0M323.4 191.8h0M159.8 153.7h0M174.1 337.0h0M309.5 291.7h0M370.9 251.0h0M201.1 136.3h0M241.4 162.1h0M214.7 218.7h0M376.8 286.3h0M119.0 262.5h0M132.1 356.4h0M301.7 319.4h0M121.1 262.2h0M181.8 327.5h0M373.0 146.3h0M257.7 334.3h0M334.4 84.2h0M344.8 53.2h0M284.6 69.8h0M316.8 312.2h0M170.2 176.9h0M128.9 278.6h0M258.2 195.9h0M160.0 360.8h0M307.3 149.8h0M285.9 350.8h0M448.9 183.1h0M183.7 322.7h0M197.2 198.9h0M344.8 352.8h0M358.8 299.4h0M178.4 203.9h0M351.7 196.1h0M446.2 298.0h0M275.1 220.0h0M332.4 61.6h0M246.4 379.9h0M403.0 176.6h0M254.3 106.3h0M158.2 251.0h0M323.7 286.9h0M320.7 207.7h0M406.9 113.8h0M265.0 157.7h0M360.3 265.7h0M310.9 421.3h0M169.3 296.1h0M142.5 292.6h0M451.8 283.2h0M102.6 307.6h0M127.3 131.0h0M439.3 141.2h0M110.5 232.7h0M167.6 172.2h0M178.1 185.4h0M258.0 69.0h0M241.4 326.6h0M367.4 403.9h0M334.3 119.8h0M402.0 183.5h0M218.7 380.4h0M345.3 245.2h0M315.3 370.0h0M451.0 333.0h0M129.8 206.2h0M149.4 122.9h0M193.9 112.9h0M194.9 200.3h0M355.8 357.5h0M140.7 298.4h0M128.0 176.0h0M364.6 380.0h0M390.4 92.0h0M261.2 149.4h0M324.3 151.6h0M202.3 218.6h0M402.2 263.5h0M327.8 345.6h0M435.2 237.0h0M173.1 260.4h0M362.4 238.4h0M357.0 128.0h0M94.8 285.7h0M376.5 325.7h0M372.4 233.2h0M444.7 122.8h0M290.1 361.3h0M367.3 190.1h0M269.2 50.3h0M137.6 347.6h0M186.8 241.7h0M469.9 238.6h0M197.5 368.4h0M158.7 253.2h0M112.2 156.2h0M122.6 183.4h0M216.5 63.7h0M349.0 309.5h0M169.8 265.8h0M122.6 229.7h0M379.9 239.4h0M173.6 154.7h0M314.0 248.0h0M398.6 270.8h0M140.9 191.8h0M245.6 366.4h0M406.2 270.8h0M324.8 257.1h0M380.0 89.4h0M295.5 76.6h0M412.7 340.2h0M157.3 120.6h0M149.3 238.6h0M293.4 342.0h0M335.8 319.4h0M98.4 195.6h0M391.4 352.9h0M347.2 202.8h0M149.9 255.2h0M122.5 299.7h0M299.7 160.1h0M340.3 285.8h0M141.2 109.3h0M335.9 60.1h0M349.1 127.6h0M223.7 393.5h0" stroke="#4c72b0" stroke-width="1.65" stroke-linecap="round" fill="none"/><rect x="234.95" y="174.45" width="111.60" height="111.90" fill="none" stroke="#000" stroke-width="1.8"/><rect x="67.55" y="6.60" width="446.40" height="447.60" fill="none" stroke="#262626" stroke-width="1.5"/><path d="M67.55 454.20v7M67.55 454.20h-7M123.35 454.20v7M67.55 398.25h-7M179.15 454.20v7M67.55 342.30h-7M234.95 454.20v7M67.55 286.35h-7M290.75 454.20v7M67.55 230.40h-7M346.55 454.20v7M67.55 174.45h-7M402.35 454.20v7M67.55 118.50h-7M458.15 454.20v7M67.55 62.55h-7M513.95 454.20v7M67.55 6.60h-7" stroke="#262626" stroke-width="1.5"/><g font-family="DejaVu Sans, sans-serif" font-size="13.2" fill="#262626"><text x="67.55" y="476.6" text-anchor="middle">−2.0</text><text x="55.2" y="459.80" text-anchor="end">−2.0</text><text x="123.35" y="476.6" text-anchor="middle">−1.5</text><text x="55.2" y="403.85" text-anchor="end">−1.5</text><text x="179.15" y="476.6" text-anchor="middle">−1.0</text><text x="55.2" y="347.90" text-anchor="end">−1.0</text><text x="234.95" y="476.6" text-anchor="middle">−0.5</text><text x="55.2" y="291.95" text-anchor="end">−0.5</text><text x="290.75" y="476.6" text-anchor="middle">0.0</text><text x="55.2" y="236.00" text-anchor="end">0.0</text><text x="346.55" y="476.6" text-anchor="middle">0.5</text><text x="55.2" y="180.05" text-anchor="end">0.5</text><text x="402.35" y="476.6" text-anchor="middle">1.0</text><text x="55.2" y="124.10" text-anchor="end">1.0</text><text x="458.15" y="476.6" text-anchor="middle">1.5</text><text x="55.2" y="68.15" text-anchor="end">1.5</text><text x="513.95" y="476.6" text-anchor="middle">2.0</text><text x="55.2" y="12.20" text-anchor="end">2.0</text></g><text x="291.7" y="498.1" text-anchor="middle" font-family="DejaVu Sans, sans-serif" font-size="14.5" fill="#262626"><tspan font-style="italic">θ</tspan><tspan font-style="italic" font-size="10.1" dy="1.5">X</tspan><tspan dy="-1.5"> [deg]</tspan></text><text transform="translate(12.6 230.5) rotate(-90)" text-anchor="middle" font-family="DejaVu Sans, sans-serif" font-size="14.5" fill="#262626"><tspan font-style="italic">θ</tspan><tspan font-style="italic" font-size="10.1" dy="1.5">Y</tspan><tspan dy="-1.5"> [deg]</tspan></text></svg></body></html>
